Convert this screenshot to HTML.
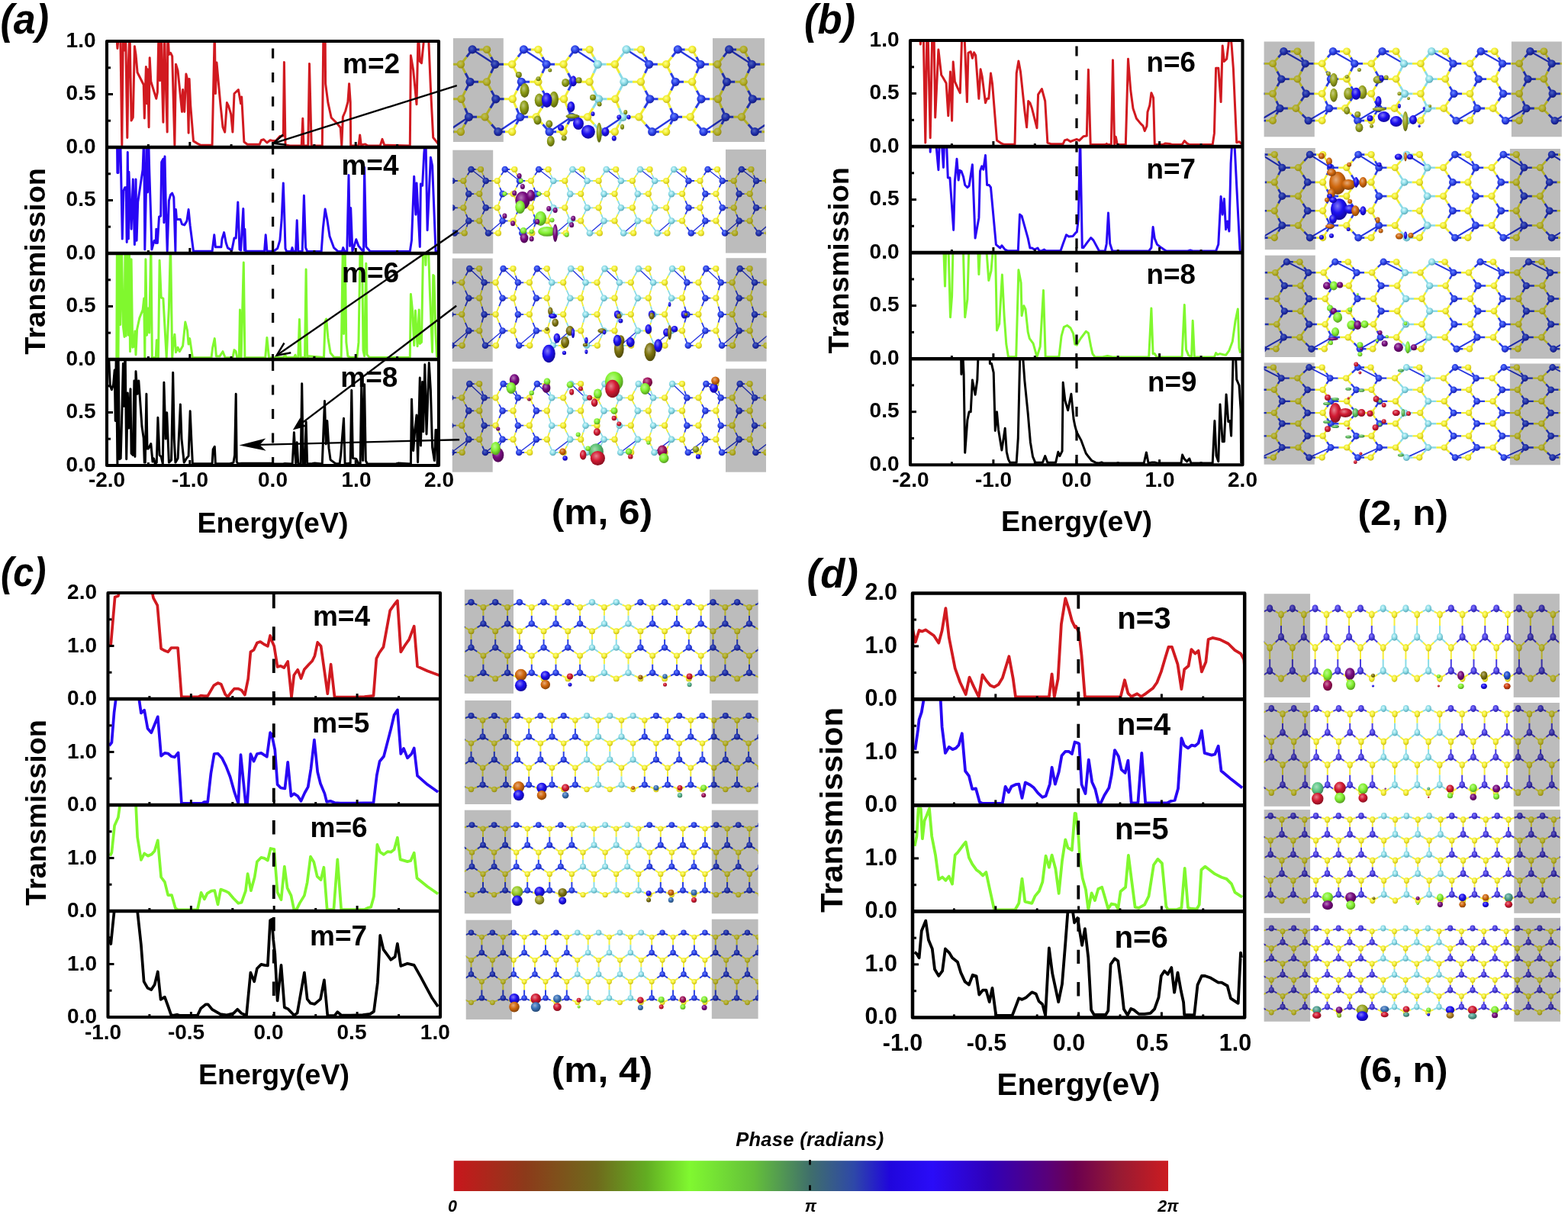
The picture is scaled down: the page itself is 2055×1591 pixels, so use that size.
<!DOCTYPE html>
<html><head><meta charset="utf-8"><title>Transmission</title>
<style>html,body{margin:0;padding:0;background:#fff;}svg{display:block;}</style></head>
<body>
<svg xmlns="http://www.w3.org/2000/svg" width="2055" height="1591" viewBox="0 0 2055 1591">
<defs><radialGradient id="gB" cx="0.42" cy="0.38" r="0.62"><stop offset="0" stop-color="#6a86ff"/><stop offset="0.55" stop-color="#2a40e6"/><stop offset="1" stop-color="#1a22a8"/></radialGradient></defs>
<defs><radialGradient id="gY" cx="0.42" cy="0.38" r="0.62"><stop offset="0" stop-color="#ffff90"/><stop offset="0.55" stop-color="#f2ee30"/><stop offset="1" stop-color="#c8b818"/></radialGradient></defs>
<defs><radialGradient id="gC" cx="0.42" cy="0.38" r="0.62"><stop offset="0" stop-color="#d8faff"/><stop offset="0.55" stop-color="#8adbe6"/><stop offset="1" stop-color="#5aa8b8"/></radialGradient></defs>
<defs><radialGradient id="gD" cx="0.42" cy="0.38" r="0.62"><stop offset="0" stop-color="#8a80ff"/><stop offset="0.55" stop-color="#4a3ee0"/><stop offset="1" stop-color="#2a22a0"/></radialGradient></defs>
<defs><radialGradient id="bg0" cx="0.4" cy="0.35" r="0.65"><stop offset="0" stop-color="#bfc87d"/><stop offset="0.5" stop-color="#8c9c14"/><stop offset="1" stop-color="#5b650d"/></radialGradient></defs>
<defs><radialGradient id="bg1" cx="0.4" cy="0.35" r="0.65"><stop offset="0" stop-color="#827bf6"/><stop offset="0.5" stop-color="#1c0ff0"/><stop offset="1" stop-color="#12099c"/></radialGradient></defs>
<defs><radialGradient id="bg2" cx="0.4" cy="0.35" r="0.65"><stop offset="0" stop-color="#b478b9"/><stop offset="0.5" stop-color="#780a80"/><stop offset="1" stop-color="#4e0653"/></radialGradient></defs>
<defs><radialGradient id="bg3" cx="0.4" cy="0.35" r="0.65"><stop offset="0" stop-color="#bbf78e"/><stop offset="0.5" stop-color="#84f232"/><stop offset="1" stop-color="#559d20"/></radialGradient></defs>
<defs><radialGradient id="bg4" cx="0.4" cy="0.35" r="0.65"><stop offset="0" stop-color="#b8b27b"/><stop offset="0.5" stop-color="#7e7410"/><stop offset="1" stop-color="#514b0a"/></radialGradient></defs>
<defs><radialGradient id="bg5" cx="0.4" cy="0.35" r="0.65"><stop offset="0" stop-color="#e6818e"/><stop offset="0.5" stop-color="#d21a32"/><stop offset="1" stop-color="#881020"/></radialGradient></defs>
<defs><radialGradient id="bg6" cx="0.4" cy="0.35" r="0.65"><stop offset="0" stop-color="#a3dcb0"/><stop offset="0.5" stop-color="#58c070"/><stop offset="1" stop-color="#397c48"/></radialGradient></defs>
<defs><radialGradient id="bg7" cx="0.4" cy="0.35" r="0.65"><stop offset="0" stop-color="#ca7ba4"/><stop offset="0.5" stop-color="#a0105a"/><stop offset="1" stop-color="#680a3a"/></radialGradient></defs>
<defs><radialGradient id="bg8" cx="0.4" cy="0.35" r="0.65"><stop offset="0" stop-color="#e5ab7a"/><stop offset="0.5" stop-color="#d0680e"/><stop offset="1" stop-color="#874309"/></radialGradient></defs>
<defs><radialGradient id="bg9" cx="0.4" cy="0.35" r="0.65"><stop offset="0" stop-color="#c6cc84"/><stop offset="0.5" stop-color="#98a420"/><stop offset="1" stop-color="#626a14"/></radialGradient></defs>
<defs><radialGradient id="bg10" cx="0.4" cy="0.35" r="0.65"><stop offset="0" stop-color="#a7dca7"/><stop offset="0.5" stop-color="#60c060"/><stop offset="1" stop-color="#3e7c3e"/></radialGradient></defs>
<defs><radialGradient id="bg11" cx="0.4" cy="0.35" r="0.65"><stop offset="0" stop-color="#caa77b"/><stop offset="0.5" stop-color="#a06010"/><stop offset="1" stop-color="#683e0a"/></radialGradient></defs>
<defs><radialGradient id="bg12" cx="0.4" cy="0.35" r="0.65"><stop offset="0" stop-color="#92b1d7"/><stop offset="0.5" stop-color="#3a72b8"/><stop offset="1" stop-color="#254a77"/></radialGradient></defs>
<defs><radialGradient id="bg13" cx="0.4" cy="0.35" r="0.65"><stop offset="0" stop-color="#a3d7c1"/><stop offset="0.5" stop-color="#58b890"/><stop offset="1" stop-color="#39775d"/></radialGradient></defs>
<defs><radialGradient id="bg14" cx="0.4" cy="0.35" r="0.65"><stop offset="0" stop-color="#c7e288"/><stop offset="0.5" stop-color="#9acc28"/><stop offset="1" stop-color="#64841a"/></radialGradient></defs>
<defs><radialGradient id="bg15" cx="0.4" cy="0.35" r="0.65"><stop offset="0" stop-color="#caca88"/><stop offset="0.5" stop-color="#a0a028"/><stop offset="1" stop-color="#68681a"/></radialGradient></defs>
<defs><radialGradient id="bg16" cx="0.4" cy="0.35" r="0.65"><stop offset="0" stop-color="#849ee5"/><stop offset="0.5" stop-color="#2050d0"/><stop offset="1" stop-color="#143487"/></radialGradient></defs>
<defs><radialGradient id="bg17" cx="0.4" cy="0.35" r="0.65"><stop offset="0" stop-color="#e5957b"/><stop offset="0.5" stop-color="#d04010"/><stop offset="1" stop-color="#87290a"/></radialGradient></defs>
<defs><radialGradient id="bg18" cx="0.4" cy="0.35" r="0.65"><stop offset="0" stop-color="#a7e0bd"/><stop offset="0.5" stop-color="#60c888"/><stop offset="1" stop-color="#3e8258"/></radialGradient></defs>
<defs><radialGradient id="bg19" cx="0.4" cy="0.35" r="0.65"><stop offset="0" stop-color="#9ecac1"/><stop offset="0.5" stop-color="#50a090"/><stop offset="1" stop-color="#34685d"/></radialGradient></defs>
<defs><radialGradient id="bg20" cx="0.4" cy="0.35" r="0.65"><stop offset="0" stop-color="#d3b984"/><stop offset="0.5" stop-color="#b08020"/><stop offset="1" stop-color="#725314"/></radialGradient></defs>
<clipPath id="mc1"><rect x="593.9" y="20.1" width="408.1" height="195.9"/></clipPath>
<g clip-path="url(#mc1)">
<path d="M551.8 64.9L581.5 84.3M619.1 64.9L648.8 84.3M686.4 64.9L716.1 84.3M753.7 64.9L783.4 84.3M821 64.9L850.7 84.3M888.3 64.9L918 84.3M955.6 64.9L985.3 84.3M585.5 172.7L614.5 153.3M652.8 172.7L681.8 153.3M720.1 172.7L749.1 153.3M787.4 172.7L816.4 153.3M854.7 172.7L883.7 153.3M922 172.7L951 153.3M989.3 172.7L1018.3 153.3" stroke="#2838e0" stroke-width="2.4" fill="none"/>
<path d="M551.8 64.9L561.3 64.9M619.1 64.9L628.6 64.9M619.1 64.9L611.5 74.6M686.4 64.9L695.9 64.9M686.4 64.9L678.8 74.6M753.7 64.9L763.2 64.9M753.7 64.9L746.1 74.6M888.3 64.9L897.8 64.9M888.3 64.9L880.7 74.6M955.6 64.9L965.1 64.9M955.6 64.9L948 74.6M1022.9 64.9L1032.4 64.9M1022.9 64.9L1015.3 74.6M581.5 84.3L592.7 84.3M581.5 84.3L576.2 74.6M581.5 84.3L576.1 95.8M648.8 84.3L660 84.3M648.8 84.3L643.5 74.6M648.8 84.3L643.4 95.8M716.1 84.3L727.3 84.3M716.1 84.3L710.8 74.6M716.1 84.3L710.7 95.8M850.7 84.3L861.9 84.3M850.7 84.3L845.3 74.6M850.7 84.3L845.3 95.8M918 84.3L929.2 84.3M918 84.3L912.6 74.6M918 84.3L912.6 95.8M985.3 84.3L996.5 84.3M985.3 84.3L980 74.6M985.3 84.3L979.9 95.8M548.7 107.3L559.7 107.3M616 107.3L627 107.3M616 107.3L610 95.8M616 107.3L610.2 118.6M683.3 107.3L694.3 107.3M683.3 107.3L677.2 95.8M683.3 107.3L677.5 118.6M750.6 107.3L761.6 107.3M750.6 107.3L744.5 95.8M750.6 107.3L744.8 118.6M885.2 107.3L896.2 107.3M885.2 107.3L879.1 95.8M885.2 107.3L879.5 118.6M952.5 107.3L963.5 107.3M952.5 107.3L946.5 95.8M952.5 107.3L946.8 118.6M1019.8 107.3L1030.8 107.3M1019.8 107.3L1013.8 95.8M1019.8 107.3L1014 118.6M582.5 129.8L593.5 129.8M582.5 129.8L576.6 118.6M649.8 129.8L660.8 129.8M649.8 129.8L643.9 118.6M649.8 129.8L642.6 141.6M717.1 129.8L728.1 129.8M717.1 129.8L711.2 118.6M717.1 129.8L709.9 141.6M851.7 129.8L862.7 129.8M851.7 129.8L845.8 118.6M851.7 129.8L844.5 141.6M919 129.8L930 129.8M919 129.8L913.1 118.6M919 129.8L911.9 141.6M986.3 129.8L997.3 129.8M986.3 129.8L980.4 118.6M986.3 129.8L979.1 141.6M614.5 153.3L625 153.3M614.5 153.3L609.5 141.6M614.5 153.3L609.2 163M681.8 153.3L692.3 153.3M681.8 153.3L676.8 141.6M681.8 153.3L676.5 163M749.1 153.3L759.6 153.3M749.1 153.3L744.1 141.6M749.1 153.3L743.8 163M883.7 153.3L894.2 153.3M883.7 153.3L878.7 141.6M883.7 153.3L878.4 163M951 153.3L961.5 153.3M951 153.3L946 141.6M951 153.3L945.7 163M1018.3 153.3L1028.8 153.3M1018.3 153.3L1013.3 141.6M1018.3 153.3L1013 163M585.5 172.7L594.7 172.7M652.8 172.7L662 172.7M652.8 172.7L644.1 163M720.1 172.7L729.3 172.7M720.1 172.7L711.4 163M854.7 172.7L863.9 172.7M854.7 172.7L846 163M922 172.7L931.2 172.7M922 172.7L913.4 163M989.3 172.7L998.5 172.7M989.3 172.7L980.6 163" stroke="#2b3fe4" stroke-width="3.0" fill="none"/>
<path d="M561.3 64.9L570.8 64.9M628.6 64.9L638.1 64.9M611.5 74.6L603.9 84.3M695.9 64.9L705.4 64.9M678.8 74.6L671.2 84.3M763.2 64.9L772.7 64.9M746.1 74.6L738.5 84.3M830.5 64.9L840 64.9M813.4 74.6L805.8 84.3M897.8 64.9L907.3 64.9M880.7 74.6L873.1 84.3M965.1 64.9L974.6 64.9M948 74.6L940.4 84.3M1032.4 64.9L1041.9 64.9M1015.3 74.6L1007.7 84.3M592.7 84.3L603.9 84.3M576.2 74.6L570.8 64.9M576.1 95.8L570.7 107.3M660 84.3L671.2 84.3M643.5 74.6L638.1 64.9M643.4 95.8L638 107.3M727.3 84.3L738.5 84.3M710.8 74.6L705.4 64.9M710.7 95.8L705.3 107.3M794.6 84.3L805.8 84.3M778 74.6L772.7 64.9M778 95.8L772.6 107.3M861.9 84.3L873.1 84.3M845.3 74.6L840 64.9M845.3 95.8L839.9 107.3M929.2 84.3L940.4 84.3M912.6 74.6L907.3 64.9M912.6 95.8L907.2 107.3M996.5 84.3L1007.7 84.3M980 74.6L974.6 64.9M979.9 95.8L974.5 107.3M559.7 107.3L570.7 107.3M627 107.3L638 107.3M610 95.8L603.9 84.3M610.2 118.6L604.5 129.8M694.3 107.3L705.3 107.3M677.2 95.8L671.2 84.3M677.5 118.6L671.8 129.8M761.6 107.3L772.6 107.3M744.5 95.8L738.5 84.3M744.8 118.6L739.1 129.8M828.9 107.3L839.9 107.3M811.8 95.8L805.8 84.3M812.1 118.6L806.4 129.8M896.2 107.3L907.2 107.3M879.1 95.8L873.1 84.3M879.5 118.6L873.7 129.8M963.5 107.3L974.5 107.3M946.5 95.8L940.4 84.3M946.8 118.6L941 129.8M1030.8 107.3L1041.8 107.3M1013.8 95.8L1007.7 84.3M1014 118.6L1008.3 129.8M593.5 129.8L604.5 129.8M576.6 118.6L570.7 107.3M660.8 129.8L671.8 129.8M643.9 118.6L638 107.3M642.6 141.6L635.5 153.3M728.1 129.8L739.1 129.8M711.2 118.6L705.3 107.3M709.9 141.6L702.8 153.3M795.4 129.8L806.4 129.8M778.5 118.6L772.6 107.3M777.2 141.6L770.1 153.3M862.7 129.8L873.7 129.8M845.8 118.6L839.9 107.3M844.5 141.6L837.4 153.3M930 129.8L941 129.8M913.1 118.6L907.2 107.3M911.9 141.6L904.7 153.3M997.3 129.8L1008.3 129.8M980.4 118.6L974.5 107.3M979.1 141.6L972 153.3M625 153.3L635.5 153.3M609.5 141.6L604.5 129.8M609.2 163L603.9 172.7M692.3 153.3L702.8 153.3M676.8 141.6L671.8 129.8M676.5 163L671.2 172.7M759.6 153.3L770.1 153.3M744.1 141.6L739.1 129.8M743.8 163L738.5 172.7M826.9 153.3L837.4 153.3M811.4 141.6L806.4 129.8M811.1 163L805.8 172.7M894.2 153.3L904.7 153.3M878.7 141.6L873.7 129.8M878.4 163L873.1 172.7M961.5 153.3L972 153.3M946 141.6L941 129.8M945.7 163L940.4 172.7M1028.8 153.3L1039.3 153.3M1013.3 141.6L1008.3 129.8M1013 163L1007.7 172.7M594.7 172.7L603.9 172.7M662 172.7L671.2 172.7M644.1 163L635.5 153.3M729.3 172.7L738.5 172.7M711.4 163L702.8 153.3M796.6 172.7L805.8 172.7M778.8 163L770.1 153.3M863.9 172.7L873.1 172.7M846 163L837.4 153.3M931.2 172.7L940.4 172.7M913.4 163L904.7 153.3M998.5 172.7L1007.7 172.7M980.6 163L972 153.3" stroke="#f0ee34" stroke-width="3.0" fill="none"/>
<path d="M821 64.9L830.5 64.9M821 64.9L813.4 74.6M783.4 84.3L794.6 84.3M783.4 84.3L778 74.6M783.4 84.3L778 95.8M817.9 107.3L828.9 107.3M817.9 107.3L811.8 95.8M817.9 107.3L812.1 118.6M784.4 129.8L795.4 129.8M784.4 129.8L778.5 118.6M784.4 129.8L777.2 141.6M816.4 153.3L826.9 153.3M816.4 153.3L811.4 141.6M816.4 153.3L811.1 163M787.4 172.7L796.6 172.7M787.4 172.7L778.8 163" stroke="#8adbe6" stroke-width="3.0" fill="none"/>
<g fill="url(#gB)"><circle cx="551.8" cy="64.9" r="5.6"/><circle cx="619.1" cy="64.9" r="5.6"/><circle cx="686.4" cy="64.9" r="5.6"/><circle cx="753.7" cy="64.9" r="5.6"/><circle cx="888.3" cy="64.9" r="5.6"/><circle cx="955.6" cy="64.9" r="5.6"/><circle cx="1022.9" cy="64.9" r="5.6"/><circle cx="581.5" cy="84.3" r="5.6"/><circle cx="648.8" cy="84.3" r="5.6"/><circle cx="716.1" cy="84.3" r="5.6"/><circle cx="850.7" cy="84.3" r="5.6"/><circle cx="918" cy="84.3" r="5.6"/><circle cx="985.3" cy="84.3" r="5.6"/><circle cx="548.7" cy="107.3" r="5.6"/><circle cx="616" cy="107.3" r="5.6"/><circle cx="683.3" cy="107.3" r="5.6"/><circle cx="750.6" cy="107.3" r="5.6"/><circle cx="885.2" cy="107.3" r="5.6"/><circle cx="952.5" cy="107.3" r="5.6"/><circle cx="1019.8" cy="107.3" r="5.6"/><circle cx="582.5" cy="129.8" r="5.6"/><circle cx="649.8" cy="129.8" r="5.6"/><circle cx="717.1" cy="129.8" r="5.6"/><circle cx="851.7" cy="129.8" r="5.6"/><circle cx="919" cy="129.8" r="5.6"/><circle cx="986.3" cy="129.8" r="5.6"/><circle cx="614.5" cy="153.3" r="5.6"/><circle cx="681.8" cy="153.3" r="5.6"/><circle cx="749.1" cy="153.3" r="5.6"/><circle cx="883.7" cy="153.3" r="5.6"/><circle cx="951" cy="153.3" r="5.6"/><circle cx="1018.3" cy="153.3" r="5.6"/><circle cx="585.5" cy="172.7" r="5.6"/><circle cx="652.8" cy="172.7" r="5.6"/><circle cx="720.1" cy="172.7" r="5.6"/><circle cx="854.7" cy="172.7" r="5.6"/><circle cx="922" cy="172.7" r="5.6"/><circle cx="989.3" cy="172.7" r="5.6"/></g>
<g fill="url(#gY)"><circle cx="570.8" cy="64.9" r="5.2"/><circle cx="638.1" cy="64.9" r="5.2"/><circle cx="705.4" cy="64.9" r="5.2"/><circle cx="772.7" cy="64.9" r="5.2"/><circle cx="840" cy="64.9" r="5.2"/><circle cx="907.3" cy="64.9" r="5.2"/><circle cx="974.6" cy="64.9" r="5.2"/><circle cx="1041.9" cy="64.9" r="5.2"/><circle cx="603.9" cy="84.3" r="5.2"/><circle cx="671.2" cy="84.3" r="5.2"/><circle cx="738.5" cy="84.3" r="5.2"/><circle cx="805.8" cy="84.3" r="5.2"/><circle cx="873.1" cy="84.3" r="5.2"/><circle cx="940.4" cy="84.3" r="5.2"/><circle cx="1007.7" cy="84.3" r="5.2"/><circle cx="570.7" cy="107.3" r="5.2"/><circle cx="638" cy="107.3" r="5.2"/><circle cx="705.3" cy="107.3" r="5.2"/><circle cx="772.6" cy="107.3" r="5.2"/><circle cx="839.9" cy="107.3" r="5.2"/><circle cx="907.2" cy="107.3" r="5.2"/><circle cx="974.5" cy="107.3" r="5.2"/><circle cx="1041.8" cy="107.3" r="5.2"/><circle cx="604.5" cy="129.8" r="5.2"/><circle cx="671.8" cy="129.8" r="5.2"/><circle cx="739.1" cy="129.8" r="5.2"/><circle cx="806.4" cy="129.8" r="5.2"/><circle cx="873.7" cy="129.8" r="5.2"/><circle cx="941" cy="129.8" r="5.2"/><circle cx="1008.3" cy="129.8" r="5.2"/><circle cx="635.5" cy="153.3" r="5.2"/><circle cx="702.8" cy="153.3" r="5.2"/><circle cx="770.1" cy="153.3" r="5.2"/><circle cx="837.4" cy="153.3" r="5.2"/><circle cx="904.7" cy="153.3" r="5.2"/><circle cx="972" cy="153.3" r="5.2"/><circle cx="1039.3" cy="153.3" r="5.2"/><circle cx="603.9" cy="172.7" r="5.2"/><circle cx="671.2" cy="172.7" r="5.2"/><circle cx="738.5" cy="172.7" r="5.2"/><circle cx="805.8" cy="172.7" r="5.2"/><circle cx="873.1" cy="172.7" r="5.2"/><circle cx="940.4" cy="172.7" r="5.2"/><circle cx="1007.7" cy="172.7" r="5.2"/></g>
<g fill="url(#gC)"><circle cx="821" cy="64.9" r="5.6"/><circle cx="783.4" cy="84.3" r="5.6"/><circle cx="817.9" cy="107.3" r="5.6"/><circle cx="784.4" cy="129.8" r="5.6"/><circle cx="816.4" cy="153.3" r="5.6"/><circle cx="787.4" cy="172.7" r="5.6"/></g>
</g>
<rect x="593.9" y="50.1" width="65.89999999999998" height="135.9" fill="#bcbcbc" style="mix-blend-mode:multiply"/>
<rect x="934" y="50.1" width="68" height="135.9" fill="#bcbcbc" style="mix-blend-mode:multiply"/>
<ellipse cx="687.6" cy="118.6" rx="6" ry="9.5" fill="url(#bg0)"/>
<ellipse cx="687.1" cy="141" rx="6" ry="9.5" fill="url(#bg0)"/>
<ellipse cx="706.7" cy="131.3" rx="6" ry="8.7" fill="url(#bg0)"/>
<ellipse cx="726" cy="130.3" rx="6" ry="10.6" fill="url(#bg0)"/>
<ellipse cx="716.7" cy="131.3" rx="6.7" ry="9.7" fill="url(#bg1)"/>
<ellipse cx="705.5" cy="103.2" rx="3" ry="3" fill="url(#bg0)"/>
<ellipse cx="720.8" cy="92" rx="2.5" ry="2.5" fill="url(#bg0)"/>
<ellipse cx="679.9" cy="98.1" rx="4" ry="4" fill="url(#bg0)"/>
<ellipse cx="704.5" cy="157.4" rx="5" ry="6" fill="url(#bg0)"/>
<ellipse cx="719.8" cy="162.5" rx="4.5" ry="5" fill="url(#bg0)"/>
<ellipse cx="721.8" cy="185" rx="5" ry="7" fill="url(#bg0)"/>
<ellipse cx="741.2" cy="108.4" rx="5" ry="5.5" fill="url(#bg0)"/>
<ellipse cx="751.5" cy="106.3" rx="4" ry="7" fill="url(#bg1)"/>
<ellipse cx="758.6" cy="105.3" rx="4" ry="4" fill="url(#bg0)"/>
<ellipse cx="748.4" cy="140" rx="5" ry="7" fill="url(#bg1)"/>
<ellipse cx="750.4" cy="152.3" rx="9" ry="3" fill="url(#bg0)"/>
<ellipse cx="758" cy="162" rx="7" ry="8" fill="url(#bg1)"/>
<ellipse cx="770.9" cy="172.7" rx="9" ry="9" fill="url(#bg1)"/>
<ellipse cx="785.2" cy="173.8" rx="3.5" ry="13" fill="url(#bg0)"/>
<ellipse cx="793.4" cy="172.7" rx="5" ry="6" fill="url(#bg1)"/>
<ellipse cx="735.1" cy="167.6" rx="4" ry="4" fill="url(#bg1)"/>
<ellipse cx="739.2" cy="181" rx="3.5" ry="3.5" fill="url(#bg0)"/>
<ellipse cx="777" cy="127.8" rx="4" ry="4" fill="url(#bg0)"/>
<ellipse cx="785.6" cy="136.4" rx="3" ry="3" fill="url(#bg0)"/>
<ellipse cx="777" cy="149.2" rx="2.5" ry="3" fill="url(#bg1)"/>
<ellipse cx="804.8" cy="181.3" rx="3" ry="3.5" fill="url(#bg1)"/>
<ellipse cx="811.3" cy="153.5" rx="3" ry="3" fill="url(#bg1)"/>
<ellipse cx="824" cy="153.5" rx="2.5" ry="3" fill="url(#bg1)"/>
<ellipse cx="819.8" cy="147" rx="2.5" ry="3" fill="url(#bg0)"/>
<ellipse cx="815.5" cy="166.3" rx="2.5" ry="3.5" fill="url(#bg0)"/>
<clipPath id="mc2"><rect x="593.3" y="166.7" width="410.70000000000005" height="195.60000000000002"/></clipPath>
<g clip-path="url(#mc2)">
<path d="M573.2 222L592.4 237M617.5 222L636.7 237M661.8 222L681 237M706.1 222L725.3 237M750.4 222L769.6 237M794.7 222L813.9 237M839 222L858.2 237M883.3 222L902.5 237M927.6 222L946.8 237M971.9 222L991.1 237M595.7 305.5L614.3 289.5M640 305.5L658.6 289.5M684.3 305.5L702.9 289.5M728.6 305.5L747.2 289.5M772.9 305.5L791.5 289.5M817.2 305.5L835.8 289.5M861.5 305.5L880.1 289.5M905.8 305.5L924.4 289.5M950.1 305.5L968.7 289.5M994.4 305.5L1013 289.5" stroke="#2838e0" stroke-width="1.4" fill="none"/>
<path d="M573.2 222L579.5 222M617.5 222L623.8 222M617.5 222L612.5 229.5M661.8 222L668 222M661.8 222L656.8 229.5M706.1 222L712.4 222M706.1 222L701 229.5M927.6 222L933.8 222M927.6 222L922.5 229.5M971.9 222L978.1 222M971.9 222L966.8 229.5M1016.2 222L1022.5 222M1016.2 222L1011.2 229.5M592.4 237L599.9 237M592.4 237L589.1 229.5M592.4 237L588.2 245.6M636.7 237L644.2 237M636.7 237L633.4 229.5M636.7 237L632.5 245.6M681 237L688.5 237M681 237L677.6 229.5M681 237L676.8 245.6M902.5 237L910 237M902.5 237L899.1 229.5M902.5 237L898.3 245.6M946.8 237L954.3 237M946.8 237L943.4 229.5M946.8 237L942.6 245.6M991.1 237L998.6 237M991.1 237L987.8 229.5M991.1 237L986.9 245.6M570 254.1L577 254.1M614.3 254.1L621.3 254.1M614.3 254.1L610.9 245.6M614.3 254.1L610.9 263.2M658.6 254.1L665.6 254.1M658.6 254.1L655.1 245.6M658.6 254.1L655.1 263.2M702.9 254.1L709.9 254.1M702.9 254.1L699.5 245.6M702.9 254.1L699.5 263.2M924.4 254.1L931.4 254.1M924.4 254.1L920.9 245.6M924.4 254.1L920.9 263.2M968.7 254.1L975.7 254.1M968.7 254.1L965.2 245.6M968.7 254.1L965.2 263.2M1013 254.1L1020 254.1M1013 254.1L1009.5 245.6M1013 254.1L1009.5 263.2M592.4 272.3L599.9 272.3M592.4 272.3L588.2 263.2M592.4 272.3L588.2 280.9M636.7 272.3L644.2 272.3M636.7 272.3L632.5 263.2M636.7 272.3L632.5 280.9M681 272.3L688.5 272.3M681 272.3L676.8 263.2M681 272.3L676.8 280.9M902.5 272.3L910 272.3M902.5 272.3L898.3 263.2M902.5 272.3L898.3 280.9M946.8 272.3L954.3 272.3M946.8 272.3L942.6 263.2M946.8 272.3L942.6 280.9M991.1 272.3L998.6 272.3M991.1 272.3L986.9 263.2M991.1 272.3L986.9 280.9M570 289.5L577 289.5M614.3 289.5L621.3 289.5M614.3 289.5L610.9 280.9M614.3 289.5L611.5 297.5M658.6 289.5L665.6 289.5M658.6 289.5L655.1 280.9M658.6 289.5L655.8 297.5M702.9 289.5L709.9 289.5M702.9 289.5L699.5 280.9M702.9 289.5L700.1 297.5M924.4 289.5L931.4 289.5M924.4 289.5L920.9 280.9M924.4 289.5L921.6 297.5M968.7 289.5L975.7 289.5M968.7 289.5L965.2 280.9M968.7 289.5L965.9 297.5M1013 289.5L1020 289.5M1013 289.5L1009.5 280.9M1013 289.5L1010.2 297.5M595.7 305.5L602.2 305.5M595.7 305.5L589.9 297.5M640 305.5L646.5 305.5M640 305.5L634.1 297.5M684.3 305.5L690.8 305.5M684.3 305.5L678.4 297.5M905.8 305.5L912.3 305.5M905.8 305.5L899.9 297.5M950.1 305.5L956.6 305.5M950.1 305.5L944.2 297.5M994.4 305.5L1000.9 305.5M994.4 305.5L988.5 297.5" stroke="#2b3fe4" stroke-width="1.8" fill="none"/>
<path d="M579.5 222L585.7 222M623.8 222L630 222M612.5 229.5L607.4 237M668 222L674.3 222M656.8 229.5L651.7 237M712.4 222L718.6 222M701 229.5L696 237M756.6 222L762.9 222M745.4 229.5L740.3 237M801 222L807.2 222M789.7 229.5L784.6 237M845.2 222L851.5 222M834 229.5L828.9 237M889.5 222L895.8 222M878.2 229.5L873.2 237M933.8 222L940.1 222M922.5 229.5L917.5 237M978.1 222L984.4 222M966.8 229.5L961.8 237M1022.5 222L1028.7 222M1011.2 229.5L1006.1 237M599.9 237L607.4 237M589.1 229.5L585.7 222M588.2 245.6L584 254.1M644.2 237L651.7 237M633.4 229.5L630 222M632.5 245.6L628.3 254.1M688.5 237L696 237M677.6 229.5L674.3 222M676.8 245.6L672.6 254.1M732.8 237L740.3 237M722 229.5L718.6 222M721.1 245.6L716.9 254.1M777.1 237L784.6 237M766.2 229.5L762.9 222M765.4 245.6L761.2 254.1M821.4 237L828.9 237M810.6 229.5L807.2 222M809.7 245.6L805.5 254.1M865.7 237L873.2 237M854.9 229.5L851.5 222M854 245.6L849.8 254.1M910 237L917.5 237M899.1 229.5L895.8 222M898.3 245.6L894.1 254.1M954.3 237L961.8 237M943.4 229.5L940.1 222M942.6 245.6L938.4 254.1M998.6 237L1006.1 237M987.8 229.5L984.4 222M986.9 245.6L982.7 254.1M577 254.1L584 254.1M621.3 254.1L628.3 254.1M610.9 245.6L607.4 237M610.9 263.2L607.4 272.3M665.6 254.1L672.6 254.1M655.1 245.6L651.7 237M655.1 263.2L651.7 272.3M709.9 254.1L716.9 254.1M699.5 245.6L696 237M699.5 263.2L696 272.3M754.2 254.1L761.2 254.1M743.8 245.6L740.3 237M743.8 263.2L740.3 272.3M798.5 254.1L805.5 254.1M788 245.6L784.6 237M788 263.2L784.6 272.3M842.8 254.1L849.8 254.1M832.4 245.6L828.9 237M832.4 263.2L828.9 272.3M887.1 254.1L894.1 254.1M876.6 245.6L873.2 237M876.6 263.2L873.2 272.3M931.4 254.1L938.4 254.1M920.9 245.6L917.5 237M920.9 263.2L917.5 272.3M975.7 254.1L982.7 254.1M965.2 245.6L961.8 237M965.2 263.2L961.8 272.3M1020 254.1L1027 254.1M1009.5 245.6L1006.1 237M1009.5 263.2L1006.1 272.3M599.9 272.3L607.4 272.3M588.2 263.2L584 254.1M588.2 280.9L584 289.5M644.2 272.3L651.7 272.3M632.5 263.2L628.3 254.1M632.5 280.9L628.3 289.5M688.5 272.3L696 272.3M676.8 263.2L672.6 254.1M676.8 280.9L672.6 289.5M732.8 272.3L740.3 272.3M721.1 263.2L716.9 254.1M721.1 280.9L716.9 289.5M777.1 272.3L784.6 272.3M765.4 263.2L761.2 254.1M765.4 280.9L761.2 289.5M821.4 272.3L828.9 272.3M809.7 263.2L805.5 254.1M809.7 280.9L805.5 289.5M865.7 272.3L873.2 272.3M854 263.2L849.8 254.1M854 280.9L849.8 289.5M910 272.3L917.5 272.3M898.3 263.2L894.1 254.1M898.3 280.9L894.1 289.5M954.3 272.3L961.8 272.3M942.6 263.2L938.4 254.1M942.6 280.9L938.4 289.5M998.6 272.3L1006.1 272.3M986.9 263.2L982.7 254.1M986.9 280.9L982.7 289.5M577 289.5L584 289.5M621.3 289.5L628.3 289.5M610.9 280.9L607.4 272.3M611.5 297.5L608.7 305.5M665.6 289.5L672.6 289.5M655.1 280.9L651.7 272.3M655.8 297.5L653 305.5M709.9 289.5L716.9 289.5M699.5 280.9L696 272.3M700.1 297.5L697.3 305.5M754.2 289.5L761.2 289.5M743.8 280.9L740.3 272.3M744.4 297.5L741.6 305.5M798.5 289.5L805.5 289.5M788 280.9L784.6 272.3M788.7 297.5L785.9 305.5M842.8 289.5L849.8 289.5M832.4 280.9L828.9 272.3M833 297.5L830.2 305.5M887.1 289.5L894.1 289.5M876.6 280.9L873.2 272.3M877.3 297.5L874.5 305.5M931.4 289.5L938.4 289.5M920.9 280.9L917.5 272.3M921.6 297.5L918.8 305.5M975.7 289.5L982.7 289.5M965.2 280.9L961.8 272.3M965.9 297.5L963.1 305.5M1020 289.5L1027 289.5M1009.5 280.9L1006.1 272.3M1010.2 297.5L1007.4 305.5M602.2 305.5L608.7 305.5M589.9 297.5L584 289.5M646.5 305.5L653 305.5M634.1 297.5L628.3 289.5M690.8 305.5L697.3 305.5M678.4 297.5L672.6 289.5M735.1 305.5L741.6 305.5M722.8 297.5L716.9 289.5M779.4 305.5L785.9 305.5M767 297.5L761.2 289.5M823.7 305.5L830.2 305.5M811.4 297.5L805.5 289.5M868 305.5L874.5 305.5M855.6 297.5L849.8 289.5M912.3 305.5L918.8 305.5M899.9 297.5L894.1 289.5M956.6 305.5L963.1 305.5M944.2 297.5L938.4 289.5M1000.9 305.5L1007.4 305.5M988.5 297.5L982.7 289.5" stroke="#f0ee34" stroke-width="1.8" fill="none"/>
<path d="M750.4 222L756.6 222M750.4 222L745.4 229.5M794.7 222L801 222M794.7 222L789.7 229.5M839 222L845.2 222M839 222L834 229.5M883.3 222L889.5 222M883.3 222L878.2 229.5M725.3 237L732.8 237M725.3 237L722 229.5M725.3 237L721.1 245.6M769.6 237L777.1 237M769.6 237L766.2 229.5M769.6 237L765.4 245.6M813.9 237L821.4 237M813.9 237L810.6 229.5M813.9 237L809.7 245.6M858.2 237L865.7 237M858.2 237L854.9 229.5M858.2 237L854 245.6M747.2 254.1L754.2 254.1M747.2 254.1L743.8 245.6M747.2 254.1L743.8 263.2M791.5 254.1L798.5 254.1M791.5 254.1L788 245.6M791.5 254.1L788 263.2M835.8 254.1L842.8 254.1M835.8 254.1L832.4 245.6M835.8 254.1L832.4 263.2M880.1 254.1L887.1 254.1M880.1 254.1L876.6 245.6M880.1 254.1L876.6 263.2M725.3 272.3L732.8 272.3M725.3 272.3L721.1 263.2M725.3 272.3L721.1 280.9M769.6 272.3L777.1 272.3M769.6 272.3L765.4 263.2M769.6 272.3L765.4 280.9M813.9 272.3L821.4 272.3M813.9 272.3L809.7 263.2M813.9 272.3L809.7 280.9M858.2 272.3L865.7 272.3M858.2 272.3L854 263.2M858.2 272.3L854 280.9M747.2 289.5L754.2 289.5M747.2 289.5L743.8 280.9M747.2 289.5L744.4 297.5M791.5 289.5L798.5 289.5M791.5 289.5L788 280.9M791.5 289.5L788.7 297.5M835.8 289.5L842.8 289.5M835.8 289.5L832.4 280.9M835.8 289.5L833 297.5M880.1 289.5L887.1 289.5M880.1 289.5L876.6 280.9M880.1 289.5L877.3 297.5M728.6 305.5L735.1 305.5M728.6 305.5L722.8 297.5M772.9 305.5L779.4 305.5M772.9 305.5L767 297.5M817.2 305.5L823.7 305.5M817.2 305.5L811.4 297.5M861.5 305.5L868 305.5M861.5 305.5L855.6 297.5" stroke="#8adbe6" stroke-width="1.8" fill="none"/>
<g fill="url(#gB)"><circle cx="573.2" cy="222" r="4.3"/><circle cx="617.5" cy="222" r="4.3"/><circle cx="661.8" cy="222" r="4.3"/><circle cx="706.1" cy="222" r="4.3"/><circle cx="927.6" cy="222" r="4.3"/><circle cx="971.9" cy="222" r="4.3"/><circle cx="1016.2" cy="222" r="4.3"/><circle cx="592.4" cy="237" r="4.3"/><circle cx="636.7" cy="237" r="4.3"/><circle cx="681" cy="237" r="4.3"/><circle cx="902.5" cy="237" r="4.3"/><circle cx="946.8" cy="237" r="4.3"/><circle cx="991.1" cy="237" r="4.3"/><circle cx="570" cy="254.1" r="4.3"/><circle cx="614.3" cy="254.1" r="4.3"/><circle cx="658.6" cy="254.1" r="4.3"/><circle cx="702.9" cy="254.1" r="4.3"/><circle cx="924.4" cy="254.1" r="4.3"/><circle cx="968.7" cy="254.1" r="4.3"/><circle cx="1013" cy="254.1" r="4.3"/><circle cx="592.4" cy="272.3" r="4.3"/><circle cx="636.7" cy="272.3" r="4.3"/><circle cx="681" cy="272.3" r="4.3"/><circle cx="902.5" cy="272.3" r="4.3"/><circle cx="946.8" cy="272.3" r="4.3"/><circle cx="991.1" cy="272.3" r="4.3"/><circle cx="570" cy="289.5" r="4.3"/><circle cx="614.3" cy="289.5" r="4.3"/><circle cx="658.6" cy="289.5" r="4.3"/><circle cx="702.9" cy="289.5" r="4.3"/><circle cx="924.4" cy="289.5" r="4.3"/><circle cx="968.7" cy="289.5" r="4.3"/><circle cx="1013" cy="289.5" r="4.3"/><circle cx="595.7" cy="305.5" r="4.3"/><circle cx="640" cy="305.5" r="4.3"/><circle cx="684.3" cy="305.5" r="4.3"/><circle cx="905.8" cy="305.5" r="4.3"/><circle cx="950.1" cy="305.5" r="4.3"/><circle cx="994.4" cy="305.5" r="4.3"/></g>
<g fill="url(#gY)"><circle cx="585.7" cy="222" r="4.1"/><circle cx="630" cy="222" r="4.1"/><circle cx="674.3" cy="222" r="4.1"/><circle cx="718.6" cy="222" r="4.1"/><circle cx="762.9" cy="222" r="4.1"/><circle cx="807.2" cy="222" r="4.1"/><circle cx="851.5" cy="222" r="4.1"/><circle cx="895.8" cy="222" r="4.1"/><circle cx="940.1" cy="222" r="4.1"/><circle cx="984.4" cy="222" r="4.1"/><circle cx="1028.7" cy="222" r="4.1"/><circle cx="607.4" cy="237" r="4.1"/><circle cx="651.7" cy="237" r="4.1"/><circle cx="696" cy="237" r="4.1"/><circle cx="740.3" cy="237" r="4.1"/><circle cx="784.6" cy="237" r="4.1"/><circle cx="828.9" cy="237" r="4.1"/><circle cx="873.2" cy="237" r="4.1"/><circle cx="917.5" cy="237" r="4.1"/><circle cx="961.8" cy="237" r="4.1"/><circle cx="1006.1" cy="237" r="4.1"/><circle cx="584" cy="254.1" r="4.1"/><circle cx="628.3" cy="254.1" r="4.1"/><circle cx="672.6" cy="254.1" r="4.1"/><circle cx="716.9" cy="254.1" r="4.1"/><circle cx="761.2" cy="254.1" r="4.1"/><circle cx="805.5" cy="254.1" r="4.1"/><circle cx="849.8" cy="254.1" r="4.1"/><circle cx="894.1" cy="254.1" r="4.1"/><circle cx="938.4" cy="254.1" r="4.1"/><circle cx="982.7" cy="254.1" r="4.1"/><circle cx="1027" cy="254.1" r="4.1"/><circle cx="607.4" cy="272.3" r="4.1"/><circle cx="651.7" cy="272.3" r="4.1"/><circle cx="696" cy="272.3" r="4.1"/><circle cx="740.3" cy="272.3" r="4.1"/><circle cx="784.6" cy="272.3" r="4.1"/><circle cx="828.9" cy="272.3" r="4.1"/><circle cx="873.2" cy="272.3" r="4.1"/><circle cx="917.5" cy="272.3" r="4.1"/><circle cx="961.8" cy="272.3" r="4.1"/><circle cx="1006.1" cy="272.3" r="4.1"/><circle cx="584" cy="289.5" r="4.1"/><circle cx="628.3" cy="289.5" r="4.1"/><circle cx="672.6" cy="289.5" r="4.1"/><circle cx="716.9" cy="289.5" r="4.1"/><circle cx="761.2" cy="289.5" r="4.1"/><circle cx="805.5" cy="289.5" r="4.1"/><circle cx="849.8" cy="289.5" r="4.1"/><circle cx="894.1" cy="289.5" r="4.1"/><circle cx="938.4" cy="289.5" r="4.1"/><circle cx="982.7" cy="289.5" r="4.1"/><circle cx="1027" cy="289.5" r="4.1"/><circle cx="608.7" cy="305.5" r="4.1"/><circle cx="653" cy="305.5" r="4.1"/><circle cx="697.3" cy="305.5" r="4.1"/><circle cx="741.6" cy="305.5" r="4.1"/><circle cx="785.9" cy="305.5" r="4.1"/><circle cx="830.2" cy="305.5" r="4.1"/><circle cx="874.5" cy="305.5" r="4.1"/><circle cx="918.8" cy="305.5" r="4.1"/><circle cx="963.1" cy="305.5" r="4.1"/><circle cx="1007.4" cy="305.5" r="4.1"/></g>
<g fill="url(#gC)"><circle cx="750.4" cy="222" r="4.3"/><circle cx="794.7" cy="222" r="4.3"/><circle cx="839" cy="222" r="4.3"/><circle cx="883.3" cy="222" r="4.3"/><circle cx="725.3" cy="237" r="4.3"/><circle cx="769.6" cy="237" r="4.3"/><circle cx="813.9" cy="237" r="4.3"/><circle cx="858.2" cy="237" r="4.3"/><circle cx="747.2" cy="254.1" r="4.3"/><circle cx="791.5" cy="254.1" r="4.3"/><circle cx="835.8" cy="254.1" r="4.3"/><circle cx="880.1" cy="254.1" r="4.3"/><circle cx="725.3" cy="272.3" r="4.3"/><circle cx="769.6" cy="272.3" r="4.3"/><circle cx="813.9" cy="272.3" r="4.3"/><circle cx="858.2" cy="272.3" r="4.3"/><circle cx="747.2" cy="289.5" r="4.3"/><circle cx="791.5" cy="289.5" r="4.3"/><circle cx="835.8" cy="289.5" r="4.3"/><circle cx="880.1" cy="289.5" r="4.3"/><circle cx="728.6" cy="305.5" r="4.3"/><circle cx="772.9" cy="305.5" r="4.3"/><circle cx="817.2" cy="305.5" r="4.3"/><circle cx="861.5" cy="305.5" r="4.3"/></g>
</g>
<rect x="593.3" y="196.7" width="52.90000000000009" height="135.60000000000002" fill="#bcbcbc" style="mix-blend-mode:multiply"/>
<rect x="951" y="195.9" width="53" height="135.70000000000002" fill="#bcbcbc" style="mix-blend-mode:multiply"/>
<ellipse cx="684.9" cy="262.7" rx="9.6" ry="11.8" fill="url(#bg2)"/>
<ellipse cx="681.7" cy="271.3" rx="6.4" ry="8.6" fill="url(#bg3)"/>
<ellipse cx="695.6" cy="256.3" rx="5.4" ry="7.5" fill="url(#bg2)"/>
<ellipse cx="708.5" cy="286.3" rx="7.5" ry="9.6" fill="url(#bg3)"/>
<ellipse cx="717" cy="303.4" rx="11.8" ry="6.4" fill="url(#bg3)"/>
<ellipse cx="727.7" cy="305.5" rx="3.2" ry="11.8" fill="url(#bg2)"/>
<ellipse cx="687" cy="312" rx="5.4" ry="6.4" fill="url(#bg2)"/>
<ellipse cx="686" cy="302.3" rx="4.3" ry="4.3" fill="url(#bg3)"/>
<ellipse cx="680.6" cy="230.6" rx="3" ry="3.5" fill="url(#bg2)"/>
<ellipse cx="684.9" cy="244.5" rx="3" ry="3.5" fill="url(#bg2)"/>
<ellipse cx="674.2" cy="253" rx="3" ry="3.5" fill="url(#bg2)"/>
<ellipse cx="661.4" cy="283" rx="3" ry="3.5" fill="url(#bg2)"/>
<ellipse cx="672.1" cy="292.7" rx="3" ry="3.5" fill="url(#bg2)"/>
<ellipse cx="719.2" cy="273.4" rx="3" ry="3.5" fill="url(#bg2)"/>
<ellipse cx="727.7" cy="275.5" rx="3" ry="3.5" fill="url(#bg2)"/>
<ellipse cx="751.3" cy="286.3" rx="3" ry="3.5" fill="url(#bg2)"/>
<ellipse cx="749.2" cy="294.8" rx="3" ry="3.5" fill="url(#bg2)"/>
<ellipse cx="696.7" cy="313.1" rx="3" ry="3.5" fill="url(#bg2)"/>
<ellipse cx="704.2" cy="290.5" rx="3" ry="3.5" fill="url(#bg2)"/>
<ellipse cx="682.8" cy="237" rx="3" ry="3" fill="url(#bg3)"/>
<ellipse cx="661.4" cy="254.1" rx="3" ry="3" fill="url(#bg3)"/>
<ellipse cx="706.3" cy="254.1" rx="3" ry="3" fill="url(#bg3)"/>
<ellipse cx="723.5" cy="288.4" rx="3" ry="3" fill="url(#bg3)"/>
<ellipse cx="742.7" cy="307.7" rx="3" ry="3" fill="url(#bg3)"/>
<ellipse cx="696.7" cy="303.4" rx="3" ry="3" fill="url(#bg3)"/>
<clipPath id="mc3"><rect x="592.8" y="308.6" width="411.80000000000007" height="195.39999999999998"/></clipPath>
<g clip-path="url(#mc3)">
<path d="M571 352.1L590.3 370.3M615.3 352.1L634.6 370.3M659.6 352.1L678.9 370.3M703.9 352.1L723.2 370.3M748.2 352.1L767.5 370.3M792.5 352.1L811.8 370.3M836.8 352.1L856.1 370.3M881.1 352.1L900.4 370.3M925.4 352.1L944.7 370.3M969.7 352.1L989 370.3M591.7 452.8L614.3 433.5M636 452.8L658.6 433.5M680.3 452.8L702.9 433.5M724.6 452.8L747.2 433.5M768.9 452.8L791.5 433.5M813.2 452.8L835.8 433.5M857.5 452.8L880.1 433.5M901.8 452.8L924.4 433.5M946.1 452.8L968.7 433.5M990.4 452.8L1013 433.5" stroke="#2838e0" stroke-width="1.4" fill="none"/>
<path d="M571 352.1L577.5 352.1M615.3 352.1L621.8 352.1M615.3 352.1L610.3 361.2M659.6 352.1L666 352.1M659.6 352.1L654.6 361.2M703.9 352.1L710.3 352.1M703.9 352.1L698.9 361.2M925.4 352.1L931.8 352.1M925.4 352.1L920.4 361.2M969.7 352.1L976.1 352.1M969.7 352.1L964.7 361.2M1014 352.1L1020.5 352.1M1014 352.1L1009 361.2M590.3 370.3L597.8 370.3M590.3 370.3L587.1 361.2M590.3 370.3L587.2 380.5M634.6 370.3L642.1 370.3M634.6 370.3L631.4 361.2M634.6 370.3L631.5 380.5M678.9 370.3L686.4 370.3M678.9 370.3L675.7 361.2M678.9 370.3L675.8 380.5M900.4 370.3L907.9 370.3M900.4 370.3L897.2 361.2M900.4 370.3L897.2 380.5M944.7 370.3L952.2 370.3M944.7 370.3L941.5 361.2M944.7 370.3L941.5 380.5M989 370.3L996.5 370.3M989 370.3L985.8 361.2M989 370.3L985.8 380.5M570 390.7L577 390.7M614.3 390.7L621.3 390.7M614.3 390.7L609.8 380.5M614.3 390.7L609.8 401.4M658.6 390.7L665.6 390.7M658.6 390.7L654.1 380.5M658.6 390.7L654.1 401.4M702.9 390.7L709.9 390.7M702.9 390.7L698.4 380.5M702.9 390.7L698.4 401.4M924.4 390.7L931.4 390.7M924.4 390.7L919.9 380.5M924.4 390.7L919.9 401.4M968.7 390.7L975.7 390.7M968.7 390.7L964.2 380.5M968.7 390.7L964.2 401.4M1013 390.7L1020 390.7M1013 390.7L1008.5 380.5M1013 390.7L1008.5 401.4M590.3 412.1L597.8 412.1M590.3 412.1L587.2 401.4M590.3 412.1L587.2 422.8M634.6 412.1L642.1 412.1M634.6 412.1L631.5 401.4M634.6 412.1L631.5 422.8M678.9 412.1L686.4 412.1M678.9 412.1L675.8 401.4M678.9 412.1L675.8 422.8M900.4 412.1L907.9 412.1M900.4 412.1L897.2 401.4M900.4 412.1L897.2 422.8M944.7 412.1L952.2 412.1M944.7 412.1L941.5 401.4M944.7 412.1L941.5 422.8M989 412.1L996.5 412.1M989 412.1L985.8 401.4M989 412.1L985.8 422.8M570 433.5L577 433.5M614.3 433.5L621.3 433.5M614.3 433.5L609.8 422.8M614.3 433.5L610 443.1M658.6 433.5L665.6 433.5M658.6 433.5L654.1 422.8M658.6 433.5L654.3 443.1M702.9 433.5L709.9 433.5M702.9 433.5L698.4 422.8M702.9 433.5L698.6 443.1M924.4 433.5L931.4 433.5M924.4 433.5L919.9 422.8M924.4 433.5L920.1 443.1M968.7 433.5L975.7 433.5M968.7 433.5L964.2 422.8M968.7 433.5L964.4 443.1M1013 433.5L1020 433.5M1013 433.5L1008.5 422.8M1013 433.5L1008.7 443.1M591.7 452.8L598.7 452.8M591.7 452.8L587.9 443.1M636 452.8L643 452.8M636 452.8L632.1 443.1M680.3 452.8L687.3 452.8M680.3 452.8L676.4 443.1M901.8 452.8L908.8 452.8M901.8 452.8L897.9 443.1M946.1 452.8L953.1 452.8M946.1 452.8L942.2 443.1M990.4 452.8L997.4 452.8M990.4 452.8L986.5 443.1" stroke="#2b3fe4" stroke-width="1.8" fill="none"/>
<path d="M577.5 352.1L583.9 352.1M621.8 352.1L628.2 352.1M610.3 361.2L605.3 370.3M666 352.1L672.5 352.1M654.6 361.2L649.6 370.3M710.3 352.1L716.8 352.1M698.9 361.2L693.9 370.3M754.6 352.1L761.1 352.1M743.2 361.2L738.2 370.3M799 352.1L805.4 352.1M787.5 361.2L782.5 370.3M843.2 352.1L849.7 352.1M831.8 361.2L826.8 370.3M887.5 352.1L894 352.1M876.1 361.2L871.1 370.3M931.8 352.1L938.3 352.1M920.4 361.2L915.4 370.3M976.1 352.1L982.6 352.1M964.7 361.2L959.7 370.3M1020.5 352.1L1026.9 352.1M1009 361.2L1004 370.3M597.8 370.3L605.3 370.3M587.1 361.2L583.9 352.1M587.2 380.5L584 390.7M642.1 370.3L649.6 370.3M631.4 361.2L628.2 352.1M631.5 380.5L628.3 390.7M686.4 370.3L693.9 370.3M675.7 361.2L672.5 352.1M675.8 380.5L672.6 390.7M730.7 370.3L738.2 370.3M720 361.2L716.8 352.1M720 380.5L716.9 390.7M775 370.3L782.5 370.3M764.3 361.2L761.1 352.1M764.3 380.5L761.2 390.7M819.3 370.3L826.8 370.3M808.6 361.2L805.4 352.1M808.6 380.5L805.5 390.7M863.6 370.3L871.1 370.3M852.9 361.2L849.7 352.1M853 380.5L849.8 390.7M907.9 370.3L915.4 370.3M897.2 361.2L894 352.1M897.2 380.5L894.1 390.7M952.2 370.3L959.7 370.3M941.5 361.2L938.3 352.1M941.5 380.5L938.4 390.7M996.5 370.3L1004 370.3M985.8 361.2L982.6 352.1M985.8 380.5L982.7 390.7M577 390.7L584 390.7M621.3 390.7L628.3 390.7M609.8 380.5L605.3 370.3M609.8 401.4L605.3 412.1M665.6 390.7L672.6 390.7M654.1 380.5L649.6 370.3M654.1 401.4L649.6 412.1M709.9 390.7L716.9 390.7M698.4 380.5L693.9 370.3M698.4 401.4L693.9 412.1M754.2 390.7L761.2 390.7M742.7 380.5L738.2 370.3M742.7 401.4L738.2 412.1M798.5 390.7L805.5 390.7M787 380.5L782.5 370.3M787 401.4L782.5 412.1M842.8 390.7L849.8 390.7M831.3 380.5L826.8 370.3M831.3 401.4L826.8 412.1M887.1 390.7L894.1 390.7M875.6 380.5L871.1 370.3M875.6 401.4L871.1 412.1M931.4 390.7L938.4 390.7M919.9 380.5L915.4 370.3M919.9 401.4L915.4 412.1M975.7 390.7L982.7 390.7M964.2 380.5L959.7 370.3M964.2 401.4L959.7 412.1M1020 390.7L1027 390.7M1008.5 380.5L1004 370.3M1008.5 401.4L1004 412.1M597.8 412.1L605.3 412.1M587.2 401.4L584 390.7M587.2 422.8L584 433.5M642.1 412.1L649.6 412.1M631.5 401.4L628.3 390.7M631.5 422.8L628.3 433.5M686.4 412.1L693.9 412.1M675.8 401.4L672.6 390.7M675.8 422.8L672.6 433.5M730.7 412.1L738.2 412.1M720 401.4L716.9 390.7M720 422.8L716.9 433.5M775 412.1L782.5 412.1M764.3 401.4L761.2 390.7M764.3 422.8L761.2 433.5M819.3 412.1L826.8 412.1M808.6 401.4L805.5 390.7M808.6 422.8L805.5 433.5M863.6 412.1L871.1 412.1M853 401.4L849.8 390.7M853 422.8L849.8 433.5M907.9 412.1L915.4 412.1M897.2 401.4L894.1 390.7M897.2 422.8L894.1 433.5M952.2 412.1L959.7 412.1M941.5 401.4L938.4 390.7M941.5 422.8L938.4 433.5M996.5 412.1L1004 412.1M985.8 401.4L982.7 390.7M985.8 422.8L982.7 433.5M577 433.5L584 433.5M621.3 433.5L628.3 433.5M609.8 422.8L605.3 412.1M610 443.1L605.7 452.8M665.6 433.5L672.6 433.5M654.1 422.8L649.6 412.1M654.3 443.1L650 452.8M709.9 433.5L716.9 433.5M698.4 422.8L693.9 412.1M698.6 443.1L694.3 452.8M754.2 433.5L761.2 433.5M742.7 422.8L738.2 412.1M742.9 443.1L738.6 452.8M798.5 433.5L805.5 433.5M787 422.8L782.5 412.1M787.2 443.1L782.9 452.8M842.8 433.5L849.8 433.5M831.3 422.8L826.8 412.1M831.5 443.1L827.2 452.8M887.1 433.5L894.1 433.5M875.6 422.8L871.1 412.1M875.8 443.1L871.5 452.8M931.4 433.5L938.4 433.5M919.9 422.8L915.4 412.1M920.1 443.1L915.8 452.8M975.7 433.5L982.7 433.5M964.2 422.8L959.7 412.1M964.4 443.1L960.1 452.8M1020 433.5L1027 433.5M1008.5 422.8L1004 412.1M1008.7 443.1L1004.4 452.8M598.7 452.8L605.7 452.8M587.9 443.1L584 433.5M643 452.8L650 452.8M632.1 443.1L628.3 433.5M687.3 452.8L694.3 452.8M676.4 443.1L672.6 433.5M731.6 452.8L738.6 452.8M720.8 443.1L716.9 433.5M775.9 452.8L782.9 452.8M765 443.1L761.2 433.5M820.2 452.8L827.2 452.8M809.4 443.1L805.5 433.5M864.5 452.8L871.5 452.8M853.6 443.1L849.8 433.5M908.8 452.8L915.8 452.8M897.9 443.1L894.1 433.5M953.1 452.8L960.1 452.8M942.2 443.1L938.4 433.5M997.4 452.8L1004.4 452.8M986.5 443.1L982.7 433.5" stroke="#f0ee34" stroke-width="1.8" fill="none"/>
<path d="M748.2 352.1L754.6 352.1M748.2 352.1L743.2 361.2M792.5 352.1L799 352.1M792.5 352.1L787.5 361.2M836.8 352.1L843.2 352.1M836.8 352.1L831.8 361.2M881.1 352.1L887.5 352.1M881.1 352.1L876.1 361.2M723.2 370.3L730.7 370.3M723.2 370.3L720 361.2M723.2 370.3L720 380.5M767.5 370.3L775 370.3M767.5 370.3L764.3 361.2M767.5 370.3L764.3 380.5M811.8 370.3L819.3 370.3M811.8 370.3L808.6 361.2M811.8 370.3L808.6 380.5M856.1 370.3L863.6 370.3M856.1 370.3L852.9 361.2M856.1 370.3L853 380.5M747.2 390.7L754.2 390.7M747.2 390.7L742.7 380.5M747.2 390.7L742.7 401.4M791.5 390.7L798.5 390.7M791.5 390.7L787 380.5M791.5 390.7L787 401.4M835.8 390.7L842.8 390.7M835.8 390.7L831.3 380.5M835.8 390.7L831.3 401.4M880.1 390.7L887.1 390.7M880.1 390.7L875.6 380.5M880.1 390.7L875.6 401.4M723.2 412.1L730.7 412.1M723.2 412.1L720 401.4M723.2 412.1L720 422.8M767.5 412.1L775 412.1M767.5 412.1L764.3 401.4M767.5 412.1L764.3 422.8M811.8 412.1L819.3 412.1M811.8 412.1L808.6 401.4M811.8 412.1L808.6 422.8M856.1 412.1L863.6 412.1M856.1 412.1L853 401.4M856.1 412.1L853 422.8M747.2 433.5L754.2 433.5M747.2 433.5L742.7 422.8M747.2 433.5L742.9 443.1M791.5 433.5L798.5 433.5M791.5 433.5L787 422.8M791.5 433.5L787.2 443.1M835.8 433.5L842.8 433.5M835.8 433.5L831.3 422.8M835.8 433.5L831.5 443.1M880.1 433.5L887.1 433.5M880.1 433.5L875.6 422.8M880.1 433.5L875.8 443.1M724.6 452.8L731.6 452.8M724.6 452.8L720.8 443.1M768.9 452.8L775.9 452.8M768.9 452.8L765 443.1M813.2 452.8L820.2 452.8M813.2 452.8L809.4 443.1M857.5 452.8L864.5 452.8M857.5 452.8L853.6 443.1" stroke="#8adbe6" stroke-width="1.8" fill="none"/>
<g fill="url(#gB)"><circle cx="571" cy="352.1" r="4.3"/><circle cx="615.3" cy="352.1" r="4.3"/><circle cx="659.6" cy="352.1" r="4.3"/><circle cx="703.9" cy="352.1" r="4.3"/><circle cx="925.4" cy="352.1" r="4.3"/><circle cx="969.7" cy="352.1" r="4.3"/><circle cx="1014" cy="352.1" r="4.3"/><circle cx="590.3" cy="370.3" r="4.3"/><circle cx="634.6" cy="370.3" r="4.3"/><circle cx="678.9" cy="370.3" r="4.3"/><circle cx="900.4" cy="370.3" r="4.3"/><circle cx="944.7" cy="370.3" r="4.3"/><circle cx="989" cy="370.3" r="4.3"/><circle cx="570" cy="390.7" r="4.3"/><circle cx="614.3" cy="390.7" r="4.3"/><circle cx="658.6" cy="390.7" r="4.3"/><circle cx="702.9" cy="390.7" r="4.3"/><circle cx="924.4" cy="390.7" r="4.3"/><circle cx="968.7" cy="390.7" r="4.3"/><circle cx="1013" cy="390.7" r="4.3"/><circle cx="590.3" cy="412.1" r="4.3"/><circle cx="634.6" cy="412.1" r="4.3"/><circle cx="678.9" cy="412.1" r="4.3"/><circle cx="900.4" cy="412.1" r="4.3"/><circle cx="944.7" cy="412.1" r="4.3"/><circle cx="989" cy="412.1" r="4.3"/><circle cx="570" cy="433.5" r="4.3"/><circle cx="614.3" cy="433.5" r="4.3"/><circle cx="658.6" cy="433.5" r="4.3"/><circle cx="702.9" cy="433.5" r="4.3"/><circle cx="924.4" cy="433.5" r="4.3"/><circle cx="968.7" cy="433.5" r="4.3"/><circle cx="1013" cy="433.5" r="4.3"/><circle cx="591.7" cy="452.8" r="4.3"/><circle cx="636" cy="452.8" r="4.3"/><circle cx="680.3" cy="452.8" r="4.3"/><circle cx="901.8" cy="452.8" r="4.3"/><circle cx="946.1" cy="452.8" r="4.3"/><circle cx="990.4" cy="452.8" r="4.3"/></g>
<g fill="url(#gY)"><circle cx="583.9" cy="352.1" r="4.1"/><circle cx="628.2" cy="352.1" r="4.1"/><circle cx="672.5" cy="352.1" r="4.1"/><circle cx="716.8" cy="352.1" r="4.1"/><circle cx="761.1" cy="352.1" r="4.1"/><circle cx="805.4" cy="352.1" r="4.1"/><circle cx="849.7" cy="352.1" r="4.1"/><circle cx="894" cy="352.1" r="4.1"/><circle cx="938.3" cy="352.1" r="4.1"/><circle cx="982.6" cy="352.1" r="4.1"/><circle cx="1026.9" cy="352.1" r="4.1"/><circle cx="605.3" cy="370.3" r="4.1"/><circle cx="649.6" cy="370.3" r="4.1"/><circle cx="693.9" cy="370.3" r="4.1"/><circle cx="738.2" cy="370.3" r="4.1"/><circle cx="782.5" cy="370.3" r="4.1"/><circle cx="826.8" cy="370.3" r="4.1"/><circle cx="871.1" cy="370.3" r="4.1"/><circle cx="915.4" cy="370.3" r="4.1"/><circle cx="959.7" cy="370.3" r="4.1"/><circle cx="1004" cy="370.3" r="4.1"/><circle cx="584" cy="390.7" r="4.1"/><circle cx="628.3" cy="390.7" r="4.1"/><circle cx="672.6" cy="390.7" r="4.1"/><circle cx="716.9" cy="390.7" r="4.1"/><circle cx="761.2" cy="390.7" r="4.1"/><circle cx="805.5" cy="390.7" r="4.1"/><circle cx="849.8" cy="390.7" r="4.1"/><circle cx="894.1" cy="390.7" r="4.1"/><circle cx="938.4" cy="390.7" r="4.1"/><circle cx="982.7" cy="390.7" r="4.1"/><circle cx="1027" cy="390.7" r="4.1"/><circle cx="605.3" cy="412.1" r="4.1"/><circle cx="649.6" cy="412.1" r="4.1"/><circle cx="693.9" cy="412.1" r="4.1"/><circle cx="738.2" cy="412.1" r="4.1"/><circle cx="782.5" cy="412.1" r="4.1"/><circle cx="826.8" cy="412.1" r="4.1"/><circle cx="871.1" cy="412.1" r="4.1"/><circle cx="915.4" cy="412.1" r="4.1"/><circle cx="959.7" cy="412.1" r="4.1"/><circle cx="1004" cy="412.1" r="4.1"/><circle cx="584" cy="433.5" r="4.1"/><circle cx="628.3" cy="433.5" r="4.1"/><circle cx="672.6" cy="433.5" r="4.1"/><circle cx="716.9" cy="433.5" r="4.1"/><circle cx="761.2" cy="433.5" r="4.1"/><circle cx="805.5" cy="433.5" r="4.1"/><circle cx="849.8" cy="433.5" r="4.1"/><circle cx="894.1" cy="433.5" r="4.1"/><circle cx="938.4" cy="433.5" r="4.1"/><circle cx="982.7" cy="433.5" r="4.1"/><circle cx="1027" cy="433.5" r="4.1"/><circle cx="605.7" cy="452.8" r="4.1"/><circle cx="650" cy="452.8" r="4.1"/><circle cx="694.3" cy="452.8" r="4.1"/><circle cx="738.6" cy="452.8" r="4.1"/><circle cx="782.9" cy="452.8" r="4.1"/><circle cx="827.2" cy="452.8" r="4.1"/><circle cx="871.5" cy="452.8" r="4.1"/><circle cx="915.8" cy="452.8" r="4.1"/><circle cx="960.1" cy="452.8" r="4.1"/><circle cx="1004.4" cy="452.8" r="4.1"/></g>
<g fill="url(#gC)"><circle cx="748.2" cy="352.1" r="4.3"/><circle cx="792.5" cy="352.1" r="4.3"/><circle cx="836.8" cy="352.1" r="4.3"/><circle cx="881.1" cy="352.1" r="4.3"/><circle cx="723.2" cy="370.3" r="4.3"/><circle cx="767.5" cy="370.3" r="4.3"/><circle cx="811.8" cy="370.3" r="4.3"/><circle cx="856.1" cy="370.3" r="4.3"/><circle cx="747.2" cy="390.7" r="4.3"/><circle cx="791.5" cy="390.7" r="4.3"/><circle cx="835.8" cy="390.7" r="4.3"/><circle cx="880.1" cy="390.7" r="4.3"/><circle cx="723.2" cy="412.1" r="4.3"/><circle cx="767.5" cy="412.1" r="4.3"/><circle cx="811.8" cy="412.1" r="4.3"/><circle cx="856.1" cy="412.1" r="4.3"/><circle cx="747.2" cy="433.5" r="4.3"/><circle cx="791.5" cy="433.5" r="4.3"/><circle cx="835.8" cy="433.5" r="4.3"/><circle cx="880.1" cy="433.5" r="4.3"/><circle cx="724.6" cy="452.8" r="4.3"/><circle cx="768.9" cy="452.8" r="4.3"/><circle cx="813.2" cy="452.8" r="4.3"/><circle cx="857.5" cy="452.8" r="4.3"/></g>
</g>
<rect x="592.8" y="338.6" width="52.90000000000009" height="135.39999999999998" fill="#bcbcbc" style="mix-blend-mode:multiply"/>
<rect x="951.5" y="338.2" width="53.10000000000002" height="135.5" fill="#bcbcbc" style="mix-blend-mode:multiply"/>
<ellipse cx="721.3" cy="407.8" rx="3.2" ry="5.4" fill="url(#bg4)"/>
<ellipse cx="727.7" cy="422.8" rx="4.3" ry="5.4" fill="url(#bg4)"/>
<ellipse cx="740.6" cy="448.5" rx="5.4" ry="7.5" fill="url(#bg4)"/>
<ellipse cx="747" cy="433.5" rx="5.4" ry="6.4" fill="url(#bg4)"/>
<ellipse cx="724.5" cy="414.2" rx="5.4" ry="3.2" fill="url(#bg1)"/>
<ellipse cx="729.9" cy="443.1" rx="4.3" ry="6.4" fill="url(#bg1)"/>
<ellipse cx="719.2" cy="463.5" rx="8.6" ry="11.8" fill="url(#bg1)"/>
<ellipse cx="739.5" cy="462.4" rx="2.6" ry="2.6" fill="url(#bg1)"/>
<ellipse cx="751" cy="436.7" rx="2.2" ry="6.4" fill="url(#bg1)"/>
<ellipse cx="768.4" cy="446.3" rx="2.2" ry="4.3" fill="url(#bg1)"/>
<ellipse cx="767" cy="452" rx="3.2" ry="2.2" fill="url(#bg4)"/>
<ellipse cx="768.4" cy="461" rx="2" ry="3" fill="url(#bg1)"/>
<ellipse cx="788.8" cy="433.5" rx="5.4" ry="3.2" fill="url(#bg4)"/>
<ellipse cx="792" cy="435.6" rx="2" ry="3" fill="url(#bg1)"/>
<ellipse cx="813.4" cy="446.3" rx="5" ry="7" fill="url(#bg4)"/>
<ellipse cx="811.3" cy="456.9" rx="6.4" ry="12" fill="url(#bg4)"/>
<ellipse cx="809.1" cy="446.3" rx="5.4" ry="7.5" fill="url(#bg1)"/>
<ellipse cx="826.3" cy="448.5" rx="5.4" ry="6.4" fill="url(#bg1)"/>
<ellipse cx="809.1" cy="412.1" rx="4.3" ry="5.4" fill="url(#bg1)"/>
<ellipse cx="811.3" cy="414.2" rx="3.2" ry="3.2" fill="url(#bg4)"/>
<ellipse cx="813.4" cy="420.6" rx="3" ry="3" fill="url(#bg1)"/>
<ellipse cx="852" cy="461.2" rx="7.5" ry="12" fill="url(#bg4)"/>
<ellipse cx="862.7" cy="452.8" rx="5.4" ry="8.6" fill="url(#bg1)"/>
<ellipse cx="849.8" cy="431.3" rx="4.3" ry="6.4" fill="url(#bg1)"/>
<ellipse cx="854.1" cy="412.1" rx="4.3" ry="5.4" fill="url(#bg1)"/>
<ellipse cx="854.1" cy="414.2" rx="3.2" ry="4.3" fill="url(#bg4)"/>
<ellipse cx="873.4" cy="435.6" rx="4.3" ry="5.4" fill="url(#bg1)"/>
<ellipse cx="877.6" cy="435.6" rx="2.6" ry="9.6" fill="url(#bg4)"/>
<ellipse cx="884" cy="431.3" rx="4.3" ry="4.3" fill="url(#bg1)"/>
<ellipse cx="896.9" cy="412.1" rx="4.3" ry="5.4" fill="url(#bg1)"/>
<ellipse cx="899" cy="412.1" rx="2.2" ry="2.2" fill="url(#bg4)"/>
<ellipse cx="877.6" cy="399" rx="1.8" ry="3" fill="url(#bg1)"/>
<ellipse cx="717" cy="431.3" rx="2.5" ry="2.5" fill="url(#bg4)"/>
<clipPath id="mc4"><rect x="592.8" y="453.2" width="411.20000000000005" height="195.50000000000006"/></clipPath>
<g clip-path="url(#mc4)">
<path d="M571 503.1L590.3 521.3M615.3 503.1L634.6 521.3M659.6 503.1L678.9 521.3M703.9 503.1L723.2 521.3M748.2 503.1L767.5 521.3M792.5 503.1L811.8 521.3M836.8 503.1L856.1 521.3M881.1 503.1L900.4 521.3M925.4 503.1L944.7 521.3M969.7 503.1L989 521.3M591.7 593L614.3 575.9M636 593L658.6 575.9M680.3 593L702.9 575.9M724.6 593L747.2 575.9M768.9 593L791.5 575.9M813.2 593L835.8 575.9M857.5 593L880.1 575.9M901.8 593L924.4 575.9M946.1 593L968.7 575.9M990.4 593L1013 575.9" stroke="#2838e0" stroke-width="1.4" fill="none"/>
<path d="M571 503.1L577.5 503.1M615.3 503.1L621.8 503.1M615.3 503.1L610.3 512.2M659.6 503.1L666 503.1M659.6 503.1L654.6 512.2M703.9 503.1L710.3 503.1M703.9 503.1L698.9 512.2M925.4 503.1L931.8 503.1M925.4 503.1L920.4 512.2M969.7 503.1L976.1 503.1M969.7 503.1L964.7 512.2M1014 503.1L1020.5 503.1M1014 503.1L1009 512.2M590.3 521.3L597.8 521.3M590.3 521.3L587.1 512.2M590.3 521.3L587.2 529.8M634.6 521.3L642.1 521.3M634.6 521.3L631.4 512.2M634.6 521.3L631.5 529.8M678.9 521.3L686.4 521.3M678.9 521.3L675.7 512.2M678.9 521.3L675.8 529.8M900.4 521.3L907.9 521.3M900.4 521.3L897.2 512.2M900.4 521.3L897.2 529.8M944.7 521.3L952.2 521.3M944.7 521.3L941.5 512.2M944.7 521.3L941.5 529.8M989 521.3L996.5 521.3M989 521.3L985.8 512.2M989 521.3L985.8 529.8M570 538.4L577 538.4M614.3 538.4L621.3 538.4M614.3 538.4L609.8 529.8M614.3 538.4L609.8 548M658.6 538.4L665.6 538.4M658.6 538.4L654.1 529.8M658.6 538.4L654.1 548M702.9 538.4L709.9 538.4M702.9 538.4L698.4 529.8M702.9 538.4L698.4 548M924.4 538.4L931.4 538.4M924.4 538.4L919.9 529.8M924.4 538.4L919.9 548M968.7 538.4L975.7 538.4M968.7 538.4L964.2 529.8M968.7 538.4L964.2 548M1013 538.4L1020 538.4M1013 538.4L1008.5 529.8M1013 538.4L1008.5 548M590.3 557.7L597.8 557.7M590.3 557.7L587.2 548M590.3 557.7L587.2 566.8M634.6 557.7L642.1 557.7M634.6 557.7L631.5 548M634.6 557.7L631.5 566.8M678.9 557.7L686.4 557.7M678.9 557.7L675.8 548M678.9 557.7L675.8 566.8M900.4 557.7L907.9 557.7M900.4 557.7L897.2 548M900.4 557.7L897.2 566.8M944.7 557.7L952.2 557.7M944.7 557.7L941.5 548M944.7 557.7L941.5 566.8M989 557.7L996.5 557.7M989 557.7L985.8 548M989 557.7L985.8 566.8M570 575.9L577 575.9M614.3 575.9L621.3 575.9M614.3 575.9L609.8 566.8M614.3 575.9L610 584.5M658.6 575.9L665.6 575.9M658.6 575.9L654.1 566.8M658.6 575.9L654.3 584.5M702.9 575.9L709.9 575.9M702.9 575.9L698.4 566.8M702.9 575.9L698.6 584.5M924.4 575.9L931.4 575.9M924.4 575.9L919.9 566.8M924.4 575.9L920.1 584.5M968.7 575.9L975.7 575.9M968.7 575.9L964.2 566.8M968.7 575.9L964.4 584.5M1013 575.9L1020 575.9M1013 575.9L1008.5 566.8M1013 575.9L1008.7 584.5M591.7 593L598.7 593M591.7 593L587.9 584.5M636 593L643 593M636 593L632.1 584.5M680.3 593L687.3 593M680.3 593L676.4 584.5M901.8 593L908.8 593M901.8 593L897.9 584.5M946.1 593L953.1 593M946.1 593L942.2 584.5M990.4 593L997.4 593M990.4 593L986.5 584.5" stroke="#2b3fe4" stroke-width="1.8" fill="none"/>
<path d="M577.5 503.1L583.9 503.1M621.8 503.1L628.2 503.1M610.3 512.2L605.3 521.3M666 503.1L672.5 503.1M654.6 512.2L649.6 521.3M710.3 503.1L716.8 503.1M698.9 512.2L693.9 521.3M754.6 503.1L761.1 503.1M743.2 512.2L738.2 521.3M799 503.1L805.4 503.1M787.5 512.2L782.5 521.3M843.2 503.1L849.7 503.1M831.8 512.2L826.8 521.3M887.5 503.1L894 503.1M876.1 512.2L871.1 521.3M931.8 503.1L938.3 503.1M920.4 512.2L915.4 521.3M976.1 503.1L982.6 503.1M964.7 512.2L959.7 521.3M1020.5 503.1L1026.9 503.1M1009 512.2L1004 521.3M597.8 521.3L605.3 521.3M587.1 512.2L583.9 503.1M587.2 529.8L584 538.4M642.1 521.3L649.6 521.3M631.4 512.2L628.2 503.1M631.5 529.8L628.3 538.4M686.4 521.3L693.9 521.3M675.7 512.2L672.5 503.1M675.8 529.8L672.6 538.4M730.7 521.3L738.2 521.3M720 512.2L716.8 503.1M720 529.8L716.9 538.4M775 521.3L782.5 521.3M764.3 512.2L761.1 503.1M764.3 529.8L761.2 538.4M819.3 521.3L826.8 521.3M808.6 512.2L805.4 503.1M808.6 529.8L805.5 538.4M863.6 521.3L871.1 521.3M852.9 512.2L849.7 503.1M853 529.8L849.8 538.4M907.9 521.3L915.4 521.3M897.2 512.2L894 503.1M897.2 529.8L894.1 538.4M952.2 521.3L959.7 521.3M941.5 512.2L938.3 503.1M941.5 529.8L938.4 538.4M996.5 521.3L1004 521.3M985.8 512.2L982.6 503.1M985.8 529.8L982.7 538.4M577 538.4L584 538.4M621.3 538.4L628.3 538.4M609.8 529.8L605.3 521.3M609.8 548L605.3 557.7M665.6 538.4L672.6 538.4M654.1 529.8L649.6 521.3M654.1 548L649.6 557.7M709.9 538.4L716.9 538.4M698.4 529.8L693.9 521.3M698.4 548L693.9 557.7M754.2 538.4L761.2 538.4M742.7 529.8L738.2 521.3M742.7 548L738.2 557.7M798.5 538.4L805.5 538.4M787 529.8L782.5 521.3M787 548L782.5 557.7M842.8 538.4L849.8 538.4M831.3 529.8L826.8 521.3M831.3 548L826.8 557.7M887.1 538.4L894.1 538.4M875.6 529.8L871.1 521.3M875.6 548L871.1 557.7M931.4 538.4L938.4 538.4M919.9 529.8L915.4 521.3M919.9 548L915.4 557.7M975.7 538.4L982.7 538.4M964.2 529.8L959.7 521.3M964.2 548L959.7 557.7M1020 538.4L1027 538.4M1008.5 529.8L1004 521.3M1008.5 548L1004 557.7M597.8 557.7L605.3 557.7M587.2 548L584 538.4M587.2 566.8L584 575.9M642.1 557.7L649.6 557.7M631.5 548L628.3 538.4M631.5 566.8L628.3 575.9M686.4 557.7L693.9 557.7M675.8 548L672.6 538.4M675.8 566.8L672.6 575.9M730.7 557.7L738.2 557.7M720 548L716.9 538.4M720 566.8L716.9 575.9M775 557.7L782.5 557.7M764.3 548L761.2 538.4M764.3 566.8L761.2 575.9M819.3 557.7L826.8 557.7M808.6 548L805.5 538.4M808.6 566.8L805.5 575.9M863.6 557.7L871.1 557.7M853 548L849.8 538.4M853 566.8L849.8 575.9M907.9 557.7L915.4 557.7M897.2 548L894.1 538.4M897.2 566.8L894.1 575.9M952.2 557.7L959.7 557.7M941.5 548L938.4 538.4M941.5 566.8L938.4 575.9M996.5 557.7L1004 557.7M985.8 548L982.7 538.4M985.8 566.8L982.7 575.9M577 575.9L584 575.9M621.3 575.9L628.3 575.9M609.8 566.8L605.3 557.7M610 584.5L605.7 593M665.6 575.9L672.6 575.9M654.1 566.8L649.6 557.7M654.3 584.5L650 593M709.9 575.9L716.9 575.9M698.4 566.8L693.9 557.7M698.6 584.5L694.3 593M754.2 575.9L761.2 575.9M742.7 566.8L738.2 557.7M742.9 584.5L738.6 593M798.5 575.9L805.5 575.9M787 566.8L782.5 557.7M787.2 584.5L782.9 593M842.8 575.9L849.8 575.9M831.3 566.8L826.8 557.7M831.5 584.5L827.2 593M887.1 575.9L894.1 575.9M875.6 566.8L871.1 557.7M875.8 584.5L871.5 593M931.4 575.9L938.4 575.9M919.9 566.8L915.4 557.7M920.1 584.5L915.8 593M975.7 575.9L982.7 575.9M964.2 566.8L959.7 557.7M964.4 584.5L960.1 593M1020 575.9L1027 575.9M1008.5 566.8L1004 557.7M1008.7 584.5L1004.4 593M598.7 593L605.7 593M587.9 584.5L584 575.9M643 593L650 593M632.1 584.5L628.3 575.9M687.3 593L694.3 593M676.4 584.5L672.6 575.9M731.6 593L738.6 593M720.8 584.5L716.9 575.9M775.9 593L782.9 593M765 584.5L761.2 575.9M820.2 593L827.2 593M809.4 584.5L805.5 575.9M864.5 593L871.5 593M853.6 584.5L849.8 575.9M908.8 593L915.8 593M897.9 584.5L894.1 575.9M953.1 593L960.1 593M942.2 584.5L938.4 575.9M997.4 593L1004.4 593M986.5 584.5L982.7 575.9" stroke="#f0ee34" stroke-width="1.8" fill="none"/>
<path d="M748.2 503.1L754.6 503.1M748.2 503.1L743.2 512.2M792.5 503.1L799 503.1M792.5 503.1L787.5 512.2M836.8 503.1L843.2 503.1M836.8 503.1L831.8 512.2M881.1 503.1L887.5 503.1M881.1 503.1L876.1 512.2M723.2 521.3L730.7 521.3M723.2 521.3L720 512.2M723.2 521.3L720 529.8M767.5 521.3L775 521.3M767.5 521.3L764.3 512.2M767.5 521.3L764.3 529.8M811.8 521.3L819.3 521.3M811.8 521.3L808.6 512.2M811.8 521.3L808.6 529.8M856.1 521.3L863.6 521.3M856.1 521.3L852.9 512.2M856.1 521.3L853 529.8M747.2 538.4L754.2 538.4M747.2 538.4L742.7 529.8M747.2 538.4L742.7 548M791.5 538.4L798.5 538.4M791.5 538.4L787 529.8M791.5 538.4L787 548M835.8 538.4L842.8 538.4M835.8 538.4L831.3 529.8M835.8 538.4L831.3 548M880.1 538.4L887.1 538.4M880.1 538.4L875.6 529.8M880.1 538.4L875.6 548M723.2 557.7L730.7 557.7M723.2 557.7L720 548M723.2 557.7L720 566.8M767.5 557.7L775 557.7M767.5 557.7L764.3 548M767.5 557.7L764.3 566.8M811.8 557.7L819.3 557.7M811.8 557.7L808.6 548M811.8 557.7L808.6 566.8M856.1 557.7L863.6 557.7M856.1 557.7L853 548M856.1 557.7L853 566.8M747.2 575.9L754.2 575.9M747.2 575.9L742.7 566.8M747.2 575.9L742.9 584.5M791.5 575.9L798.5 575.9M791.5 575.9L787 566.8M791.5 575.9L787.2 584.5M835.8 575.9L842.8 575.9M835.8 575.9L831.3 566.8M835.8 575.9L831.5 584.5M880.1 575.9L887.1 575.9M880.1 575.9L875.6 566.8M880.1 575.9L875.8 584.5M724.6 593L731.6 593M724.6 593L720.8 584.5M768.9 593L775.9 593M768.9 593L765 584.5M813.2 593L820.2 593M813.2 593L809.4 584.5M857.5 593L864.5 593M857.5 593L853.6 584.5" stroke="#8adbe6" stroke-width="1.8" fill="none"/>
<g fill="url(#gB)"><circle cx="571" cy="503.1" r="4.3"/><circle cx="615.3" cy="503.1" r="4.3"/><circle cx="659.6" cy="503.1" r="4.3"/><circle cx="703.9" cy="503.1" r="4.3"/><circle cx="925.4" cy="503.1" r="4.3"/><circle cx="969.7" cy="503.1" r="4.3"/><circle cx="1014" cy="503.1" r="4.3"/><circle cx="590.3" cy="521.3" r="4.3"/><circle cx="634.6" cy="521.3" r="4.3"/><circle cx="678.9" cy="521.3" r="4.3"/><circle cx="900.4" cy="521.3" r="4.3"/><circle cx="944.7" cy="521.3" r="4.3"/><circle cx="989" cy="521.3" r="4.3"/><circle cx="570" cy="538.4" r="4.3"/><circle cx="614.3" cy="538.4" r="4.3"/><circle cx="658.6" cy="538.4" r="4.3"/><circle cx="702.9" cy="538.4" r="4.3"/><circle cx="924.4" cy="538.4" r="4.3"/><circle cx="968.7" cy="538.4" r="4.3"/><circle cx="1013" cy="538.4" r="4.3"/><circle cx="590.3" cy="557.7" r="4.3"/><circle cx="634.6" cy="557.7" r="4.3"/><circle cx="678.9" cy="557.7" r="4.3"/><circle cx="900.4" cy="557.7" r="4.3"/><circle cx="944.7" cy="557.7" r="4.3"/><circle cx="989" cy="557.7" r="4.3"/><circle cx="570" cy="575.9" r="4.3"/><circle cx="614.3" cy="575.9" r="4.3"/><circle cx="658.6" cy="575.9" r="4.3"/><circle cx="702.9" cy="575.9" r="4.3"/><circle cx="924.4" cy="575.9" r="4.3"/><circle cx="968.7" cy="575.9" r="4.3"/><circle cx="1013" cy="575.9" r="4.3"/><circle cx="591.7" cy="593" r="4.3"/><circle cx="636" cy="593" r="4.3"/><circle cx="680.3" cy="593" r="4.3"/><circle cx="901.8" cy="593" r="4.3"/><circle cx="946.1" cy="593" r="4.3"/><circle cx="990.4" cy="593" r="4.3"/></g>
<g fill="url(#gY)"><circle cx="583.9" cy="503.1" r="4.1"/><circle cx="628.2" cy="503.1" r="4.1"/><circle cx="672.5" cy="503.1" r="4.1"/><circle cx="716.8" cy="503.1" r="4.1"/><circle cx="761.1" cy="503.1" r="4.1"/><circle cx="805.4" cy="503.1" r="4.1"/><circle cx="849.7" cy="503.1" r="4.1"/><circle cx="894" cy="503.1" r="4.1"/><circle cx="938.3" cy="503.1" r="4.1"/><circle cx="982.6" cy="503.1" r="4.1"/><circle cx="1026.9" cy="503.1" r="4.1"/><circle cx="605.3" cy="521.3" r="4.1"/><circle cx="649.6" cy="521.3" r="4.1"/><circle cx="693.9" cy="521.3" r="4.1"/><circle cx="738.2" cy="521.3" r="4.1"/><circle cx="782.5" cy="521.3" r="4.1"/><circle cx="826.8" cy="521.3" r="4.1"/><circle cx="871.1" cy="521.3" r="4.1"/><circle cx="915.4" cy="521.3" r="4.1"/><circle cx="959.7" cy="521.3" r="4.1"/><circle cx="1004" cy="521.3" r="4.1"/><circle cx="584" cy="538.4" r="4.1"/><circle cx="628.3" cy="538.4" r="4.1"/><circle cx="672.6" cy="538.4" r="4.1"/><circle cx="716.9" cy="538.4" r="4.1"/><circle cx="761.2" cy="538.4" r="4.1"/><circle cx="805.5" cy="538.4" r="4.1"/><circle cx="849.8" cy="538.4" r="4.1"/><circle cx="894.1" cy="538.4" r="4.1"/><circle cx="938.4" cy="538.4" r="4.1"/><circle cx="982.7" cy="538.4" r="4.1"/><circle cx="1027" cy="538.4" r="4.1"/><circle cx="605.3" cy="557.7" r="4.1"/><circle cx="649.6" cy="557.7" r="4.1"/><circle cx="693.9" cy="557.7" r="4.1"/><circle cx="738.2" cy="557.7" r="4.1"/><circle cx="782.5" cy="557.7" r="4.1"/><circle cx="826.8" cy="557.7" r="4.1"/><circle cx="871.1" cy="557.7" r="4.1"/><circle cx="915.4" cy="557.7" r="4.1"/><circle cx="959.7" cy="557.7" r="4.1"/><circle cx="1004" cy="557.7" r="4.1"/><circle cx="584" cy="575.9" r="4.1"/><circle cx="628.3" cy="575.9" r="4.1"/><circle cx="672.6" cy="575.9" r="4.1"/><circle cx="716.9" cy="575.9" r="4.1"/><circle cx="761.2" cy="575.9" r="4.1"/><circle cx="805.5" cy="575.9" r="4.1"/><circle cx="849.8" cy="575.9" r="4.1"/><circle cx="894.1" cy="575.9" r="4.1"/><circle cx="938.4" cy="575.9" r="4.1"/><circle cx="982.7" cy="575.9" r="4.1"/><circle cx="1027" cy="575.9" r="4.1"/><circle cx="605.7" cy="593" r="4.1"/><circle cx="650" cy="593" r="4.1"/><circle cx="694.3" cy="593" r="4.1"/><circle cx="738.6" cy="593" r="4.1"/><circle cx="782.9" cy="593" r="4.1"/><circle cx="827.2" cy="593" r="4.1"/><circle cx="871.5" cy="593" r="4.1"/><circle cx="915.8" cy="593" r="4.1"/><circle cx="960.1" cy="593" r="4.1"/><circle cx="1004.4" cy="593" r="4.1"/></g>
<g fill="url(#gC)"><circle cx="748.2" cy="503.1" r="4.3"/><circle cx="792.5" cy="503.1" r="4.3"/><circle cx="836.8" cy="503.1" r="4.3"/><circle cx="881.1" cy="503.1" r="4.3"/><circle cx="723.2" cy="521.3" r="4.3"/><circle cx="767.5" cy="521.3" r="4.3"/><circle cx="811.8" cy="521.3" r="4.3"/><circle cx="856.1" cy="521.3" r="4.3"/><circle cx="747.2" cy="538.4" r="4.3"/><circle cx="791.5" cy="538.4" r="4.3"/><circle cx="835.8" cy="538.4" r="4.3"/><circle cx="880.1" cy="538.4" r="4.3"/><circle cx="723.2" cy="557.7" r="4.3"/><circle cx="767.5" cy="557.7" r="4.3"/><circle cx="811.8" cy="557.7" r="4.3"/><circle cx="856.1" cy="557.7" r="4.3"/><circle cx="747.2" cy="575.9" r="4.3"/><circle cx="791.5" cy="575.9" r="4.3"/><circle cx="835.8" cy="575.9" r="4.3"/><circle cx="880.1" cy="575.9" r="4.3"/><circle cx="724.6" cy="593" r="4.3"/><circle cx="768.9" cy="593" r="4.3"/><circle cx="813.2" cy="593" r="4.3"/><circle cx="857.5" cy="593" r="4.3"/></g>
</g>
<rect x="592.8" y="483.2" width="52.90000000000009" height="135.50000000000006" fill="#bcbcbc" style="mix-blend-mode:multiply"/>
<rect x="951" y="483.2" width="53" height="135.50000000000006" fill="#bcbcbc" style="mix-blend-mode:multiply"/>
<ellipse cx="804.8" cy="499.9" rx="11.8" ry="12.8" fill="url(#bg3)"/>
<ellipse cx="802.7" cy="509.5" rx="9.6" ry="11.8" fill="url(#bg5)"/>
<ellipse cx="781.3" cy="591.9" rx="9.6" ry="10.7" fill="url(#bg6)"/>
<ellipse cx="783.4" cy="600.5" rx="9.6" ry="9.6" fill="url(#bg5)"/>
<ellipse cx="674.2" cy="497.7" rx="6.4" ry="7.5" fill="url(#bg2)"/>
<ellipse cx="669.9" cy="508.4" rx="6.4" ry="7.5" fill="url(#bg3)"/>
<ellipse cx="652.8" cy="596.2" rx="7.5" ry="9.6" fill="url(#bg2)"/>
<ellipse cx="649.6" cy="587.7" rx="6.4" ry="8.6" fill="url(#bg3)"/>
<ellipse cx="848.7" cy="500.9" rx="6.4" ry="6.4" fill="url(#bg7)"/>
<ellipse cx="845.5" cy="509.5" rx="6.4" ry="7.5" fill="url(#bg3)"/>
<ellipse cx="868" cy="590.9" rx="6.4" ry="7.5" fill="url(#bg7)"/>
<ellipse cx="870.1" cy="600.5" rx="6.4" ry="6.4" fill="url(#bg3)"/>
<ellipse cx="935.5" cy="508.4" rx="5.4" ry="6.4" fill="url(#bg1)"/>
<ellipse cx="937.6" cy="498.8" rx="5.4" ry="5.4" fill="url(#bg8)"/>
<ellipse cx="716" cy="508.4" rx="5.4" ry="6.4" fill="url(#bg2)"/>
<ellipse cx="717" cy="499.9" rx="4.3" ry="4.3" fill="url(#bg3)"/>
<ellipse cx="747" cy="504.2" rx="4.3" ry="4.3" fill="url(#bg3)"/>
<ellipse cx="749.2" cy="513.8" rx="3" ry="4" fill="url(#bg5)"/>
<ellipse cx="761" cy="509.5" rx="3" ry="3" fill="url(#bg5)"/>
<ellipse cx="779.1" cy="527.7" rx="4.3" ry="5.4" fill="url(#bg5)"/>
<ellipse cx="783.4" cy="515.9" rx="5.4" ry="6.4" fill="url(#bg3)"/>
<ellipse cx="772.7" cy="521.3" rx="3.5" ry="3.5" fill="url(#bg5)"/>
<ellipse cx="804.8" cy="538.4" rx="4.3" ry="4.3" fill="url(#bg3)"/>
<ellipse cx="804.8" cy="548" rx="3.2" ry="3.2" fill="url(#bg5)"/>
<ellipse cx="811.3" cy="555.5" rx="3" ry="3" fill="url(#bg5)"/>
<ellipse cx="782.4" cy="552.3" rx="4" ry="4" fill="url(#bg3)"/>
<ellipse cx="782.4" cy="566.3" rx="4.5" ry="5" fill="url(#bg5)"/>
<ellipse cx="737.4" cy="591.9" rx="4.3" ry="4.3" fill="url(#bg8)"/>
<ellipse cx="740.6" cy="600.5" rx="3.2" ry="3.2" fill="url(#bg1)"/>
<ellipse cx="764.2" cy="596.2" rx="4.3" ry="6.4" fill="url(#bg5)"/>
<ellipse cx="770.6" cy="587.7" rx="3.2" ry="3.2" fill="url(#bg3)"/>
<ellipse cx="824.1" cy="591.9" rx="4.3" ry="4.3" fill="url(#bg3)"/>
<ellipse cx="826.3" cy="598.4" rx="3.2" ry="3.2" fill="url(#bg5)"/>
<ellipse cx="911.9" cy="588.7" rx="4.3" ry="4.3" fill="url(#bg9)"/>
<ellipse cx="915.1" cy="598.4" rx="3.2" ry="3.2" fill="url(#bg1)"/>
<ellipse cx="696.7" cy="514.9" rx="3.2" ry="3.2" fill="url(#bg3)"/>
<ellipse cx="693.5" cy="523.4" rx="2.2" ry="2.2" fill="url(#bg7)"/>
<ellipse cx="652.8" cy="562" rx="2.6" ry="2.6" fill="url(#bg2)"/>
<ellipse cx="757.7" cy="569.5" rx="3" ry="3" fill="url(#bg3)"/>
<ellipse cx="849.8" cy="580.2" rx="2.5" ry="2.5" fill="url(#bg3)"/>
<clipPath id="mc5"><rect x="1656.6" y="24.5" width="390.3000000000002" height="184.8"/></clipPath>
<g clip-path="url(#mc5)">
<path d="M1617.8 67.3L1646.1 83.4M1682.4 67.3L1710.7 83.4M1747 67.3L1775.3 83.4M1811.6 67.3L1839.9 83.4M1876.2 67.3L1904.5 83.4M1940.8 67.3L1969.1 83.4M2005.4 67.3L2033.7 83.4M1650.1 158.1L1677.4 142M1714.7 158.1L1742 142M1779.3 158.1L1806.6 142M1843.9 158.1L1871.2 142M1908.5 158.1L1935.8 142M1973.1 158.1L2000.4 142M2037.7 158.1L2065 142" stroke="#2838e0" stroke-width="2.2" fill="none"/>
<path d="M1617.8 67.3L1626.8 67.3M1682.4 67.3L1691.4 67.3M1682.4 67.3L1675.2 75.3M1747 67.3L1756 67.3M1747 67.3L1739.8 75.3M1811.6 67.3L1820.6 67.3M1811.6 67.3L1804.5 75.3M1940.8 67.3L1949.8 67.3M1940.8 67.3L1933.7 75.3M2005.4 67.3L2014.4 67.3M2005.4 67.3L1998.2 75.3M2070 67.3L2079 67.3M2070 67.3L2062.8 75.3M1646.1 83.4L1657.1 83.4M1646.1 83.4L1641 75.3M1646.1 83.4L1641 93.5M1710.7 83.4L1721.7 83.4M1710.7 83.4L1705.6 75.3M1710.7 83.4L1705.6 93.5M1775.3 83.4L1786.3 83.4M1775.3 83.4L1770.2 75.3M1775.3 83.4L1770.2 93.5M1904.5 83.4L1915.5 83.4M1904.5 83.4L1899.3 75.3M1904.5 83.4L1899.3 93.5M1969.1 83.4L1980.1 83.4M1969.1 83.4L1964 75.3M1969.1 83.4L1964 93.5M2033.7 83.4L2044.7 83.4M2033.7 83.4L2028.6 75.3M2033.7 83.4L2028.6 93.5M1614.8 103.6L1625.3 103.6M1679.4 103.6L1689.9 103.6M1679.4 103.6L1673.8 93.5M1679.4 103.6L1673.8 113.2M1744 103.6L1754.5 103.6M1744 103.6L1738.3 93.5M1744 103.6L1738.3 113.2M1808.6 103.6L1819.1 103.6M1808.6 103.6L1803 93.5M1808.6 103.6L1803 113.2M1937.8 103.6L1948.3 103.6M1937.8 103.6L1932.2 93.5M1937.8 103.6L1932.2 113.2M2002.4 103.6L2012.9 103.6M2002.4 103.6L1996.8 93.5M2002.4 103.6L1996.8 113.2M2067 103.6L2077.5 103.6M2067 103.6L2061.3 93.5M2067 103.6L2061.3 113.2M1647.1 122.8L1657.6 122.8M1647.1 122.8L1641.5 113.2M1647.1 122.8L1640.5 132.4M1711.7 122.8L1722.2 122.8M1711.7 122.8L1706.1 113.2M1711.7 122.8L1705.1 132.4M1776.3 122.8L1786.8 122.8M1776.3 122.8L1770.7 113.2M1776.3 122.8L1769.7 132.4M1905.5 122.8L1916 122.8M1905.5 122.8L1899.8 113.2M1905.5 122.8L1898.8 132.4M1970.1 122.8L1980.6 122.8M1970.1 122.8L1964.5 113.2M1970.1 122.8L1963.5 132.4M2034.7 122.8L2045.2 122.8M2034.7 122.8L2029.1 113.2M2034.7 122.8L2028.1 132.4M1612.8 142L1623.3 142M1677.4 142L1687.9 142M1677.4 142L1672.8 132.4M1677.4 142L1672.8 150.1M1742 142L1752.5 142M1742 142L1737.3 132.4M1742 142L1737.3 150.1M1806.6 142L1817.1 142M1806.6 142L1802 132.4M1806.6 142L1802 150.1M1935.8 142L1946.3 142M1935.8 142L1931.2 132.4M1935.8 142L1931.2 150.1M2000.4 142L2010.9 142M2000.4 142L1995.8 132.4M2000.4 142L1995.8 150.1M2065 142L2075.5 142M2065 142L2060.3 132.4M2065 142L2060.3 150.1M1650.1 158.1L1659.1 158.1M1650.1 158.1L1642 150.1M1714.7 158.1L1723.7 158.1M1714.7 158.1L1706.6 150.1M1779.3 158.1L1788.3 158.1M1779.3 158.1L1771.2 150.1M1908.5 158.1L1917.5 158.1M1908.5 158.1L1900.3 150.1M1973.1 158.1L1982.1 158.1M1973.1 158.1L1965 150.1M2037.7 158.1L2046.7 158.1M2037.7 158.1L2029.6 150.1" stroke="#2b3fe4" stroke-width="2.8" fill="none"/>
<path d="M1626.8 67.3L1635.8 67.3M1691.4 67.3L1700.4 67.3M1675.2 75.3L1668.1 83.4M1756 67.3L1765 67.3M1739.8 75.3L1732.7 83.4M1820.6 67.3L1829.6 67.3M1804.5 75.3L1797.3 83.4M1885.2 67.3L1894.2 67.3M1869.1 75.3L1861.9 83.4M1949.8 67.3L1958.8 67.3M1933.7 75.3L1926.5 83.4M2014.4 67.3L2023.4 67.3M1998.2 75.3L1991.1 83.4M2079 67.3L2088 67.3M2062.8 75.3L2055.7 83.4M1657.1 83.4L1668.1 83.4M1641 75.3L1635.8 67.3M1641 93.5L1635.8 103.6M1721.7 83.4L1732.7 83.4M1705.6 75.3L1700.4 67.3M1705.6 93.5L1700.4 103.6M1786.3 83.4L1797.3 83.4M1770.2 75.3L1765 67.3M1770.2 93.5L1765 103.6M1850.9 83.4L1861.9 83.4M1834.8 75.3L1829.6 67.3M1834.8 93.5L1829.6 103.6M1915.5 83.4L1926.5 83.4M1899.3 75.3L1894.2 67.3M1899.3 93.5L1894.2 103.6M1980.1 83.4L1991.1 83.4M1964 75.3L1958.8 67.3M1964 93.5L1958.8 103.6M2044.7 83.4L2055.7 83.4M2028.6 75.3L2023.4 67.3M2028.6 93.5L2023.4 103.6M1625.3 103.6L1635.8 103.6M1689.9 103.6L1700.4 103.6M1673.8 93.5L1668.1 83.4M1673.8 113.2L1668.1 122.8M1754.5 103.6L1765 103.6M1738.3 93.5L1732.7 83.4M1738.3 113.2L1732.7 122.8M1819.1 103.6L1829.6 103.6M1803 93.5L1797.3 83.4M1803 113.2L1797.3 122.8M1883.7 103.6L1894.2 103.6M1867.6 93.5L1861.9 83.4M1867.6 113.2L1861.9 122.8M1948.3 103.6L1958.8 103.6M1932.2 93.5L1926.5 83.4M1932.2 113.2L1926.5 122.8M2012.9 103.6L2023.4 103.6M1996.8 93.5L1991.1 83.4M1996.8 113.2L1991.1 122.8M2077.5 103.6L2088 103.6M2061.3 93.5L2055.7 83.4M2061.3 113.2L2055.7 122.8M1657.6 122.8L1668.1 122.8M1641.5 113.2L1635.8 103.6M1640.5 132.4L1633.8 142M1722.2 122.8L1732.7 122.8M1706.1 113.2L1700.4 103.6M1705.1 132.4L1698.4 142M1786.8 122.8L1797.3 122.8M1770.7 113.2L1765 103.6M1769.7 132.4L1763 142M1851.4 122.8L1861.9 122.8M1835.2 113.2L1829.6 103.6M1834.2 132.4L1827.6 142M1916 122.8L1926.5 122.8M1899.8 113.2L1894.2 103.6M1898.8 132.4L1892.2 142M1980.6 122.8L1991.1 122.8M1964.5 113.2L1958.8 103.6M1963.5 132.4L1956.8 142M2045.2 122.8L2055.7 122.8M2029.1 113.2L2023.4 103.6M2028.1 132.4L2021.4 142M1623.3 142L1633.8 142M1687.9 142L1698.4 142M1672.8 132.4L1668.1 122.8M1672.8 150.1L1668.1 158.1M1752.5 142L1763 142M1737.3 132.4L1732.7 122.8M1737.3 150.1L1732.7 158.1M1817.1 142L1827.6 142M1802 132.4L1797.3 122.8M1802 150.1L1797.3 158.1M1881.7 142L1892.2 142M1866.6 132.4L1861.9 122.8M1866.6 150.1L1861.9 158.1M1946.3 142L1956.8 142M1931.2 132.4L1926.5 122.8M1931.2 150.1L1926.5 158.1M2010.9 142L2021.4 142M1995.8 132.4L1991.1 122.8M1995.8 150.1L1991.1 158.1M2075.5 142L2086 142M2060.3 132.4L2055.7 122.8M2060.3 150.1L2055.7 158.1M1659.1 158.1L1668.1 158.1M1642 150.1L1633.8 142M1723.7 158.1L1732.7 158.1M1706.6 150.1L1698.4 142M1788.3 158.1L1797.3 158.1M1771.2 150.1L1763 142M1852.9 158.1L1861.9 158.1M1835.8 150.1L1827.6 142M1917.5 158.1L1926.5 158.1M1900.3 150.1L1892.2 142M1982.1 158.1L1991.1 158.1M1965 150.1L1956.8 142M2046.7 158.1L2055.7 158.1M2029.6 150.1L2021.4 142" stroke="#f0ee34" stroke-width="2.8" fill="none"/>
<path d="M1876.2 67.3L1885.2 67.3M1876.2 67.3L1869.1 75.3M1839.9 83.4L1850.9 83.4M1839.9 83.4L1834.8 75.3M1839.9 83.4L1834.8 93.5M1873.2 103.6L1883.7 103.6M1873.2 103.6L1867.6 93.5M1873.2 103.6L1867.6 113.2M1840.9 122.8L1851.4 122.8M1840.9 122.8L1835.2 113.2M1840.9 122.8L1834.2 132.4M1871.2 142L1881.7 142M1871.2 142L1866.6 132.4M1871.2 142L1866.6 150.1M1843.9 158.1L1852.9 158.1M1843.9 158.1L1835.8 150.1" stroke="#8adbe6" stroke-width="2.8" fill="none"/>
<g fill="url(#gB)"><circle cx="1617.8" cy="67.3" r="5.2"/><circle cx="1682.4" cy="67.3" r="5.2"/><circle cx="1747" cy="67.3" r="5.2"/><circle cx="1811.6" cy="67.3" r="5.2"/><circle cx="1940.8" cy="67.3" r="5.2"/><circle cx="2005.4" cy="67.3" r="5.2"/><circle cx="2070" cy="67.3" r="5.2"/><circle cx="1646.1" cy="83.4" r="5.2"/><circle cx="1710.7" cy="83.4" r="5.2"/><circle cx="1775.3" cy="83.4" r="5.2"/><circle cx="1904.5" cy="83.4" r="5.2"/><circle cx="1969.1" cy="83.4" r="5.2"/><circle cx="2033.7" cy="83.4" r="5.2"/><circle cx="1614.8" cy="103.6" r="5.2"/><circle cx="1679.4" cy="103.6" r="5.2"/><circle cx="1744" cy="103.6" r="5.2"/><circle cx="1808.6" cy="103.6" r="5.2"/><circle cx="1937.8" cy="103.6" r="5.2"/><circle cx="2002.4" cy="103.6" r="5.2"/><circle cx="2067" cy="103.6" r="5.2"/><circle cx="1647.1" cy="122.8" r="5.2"/><circle cx="1711.7" cy="122.8" r="5.2"/><circle cx="1776.3" cy="122.8" r="5.2"/><circle cx="1905.5" cy="122.8" r="5.2"/><circle cx="1970.1" cy="122.8" r="5.2"/><circle cx="2034.7" cy="122.8" r="5.2"/><circle cx="1612.8" cy="142" r="5.2"/><circle cx="1677.4" cy="142" r="5.2"/><circle cx="1742" cy="142" r="5.2"/><circle cx="1806.6" cy="142" r="5.2"/><circle cx="1935.8" cy="142" r="5.2"/><circle cx="2000.4" cy="142" r="5.2"/><circle cx="2065" cy="142" r="5.2"/><circle cx="1650.1" cy="158.1" r="5.2"/><circle cx="1714.7" cy="158.1" r="5.2"/><circle cx="1779.3" cy="158.1" r="5.2"/><circle cx="1908.5" cy="158.1" r="5.2"/><circle cx="1973.1" cy="158.1" r="5.2"/><circle cx="2037.7" cy="158.1" r="5.2"/></g>
<g fill="url(#gY)"><circle cx="1635.8" cy="67.3" r="4.9"/><circle cx="1700.4" cy="67.3" r="4.9"/><circle cx="1765" cy="67.3" r="4.9"/><circle cx="1829.6" cy="67.3" r="4.9"/><circle cx="1894.2" cy="67.3" r="4.9"/><circle cx="1958.8" cy="67.3" r="4.9"/><circle cx="2023.4" cy="67.3" r="4.9"/><circle cx="2088" cy="67.3" r="4.9"/><circle cx="1668.1" cy="83.4" r="4.9"/><circle cx="1732.7" cy="83.4" r="4.9"/><circle cx="1797.3" cy="83.4" r="4.9"/><circle cx="1861.9" cy="83.4" r="4.9"/><circle cx="1926.5" cy="83.4" r="4.9"/><circle cx="1991.1" cy="83.4" r="4.9"/><circle cx="2055.7" cy="83.4" r="4.9"/><circle cx="1635.8" cy="103.6" r="4.9"/><circle cx="1700.4" cy="103.6" r="4.9"/><circle cx="1765" cy="103.6" r="4.9"/><circle cx="1829.6" cy="103.6" r="4.9"/><circle cx="1894.2" cy="103.6" r="4.9"/><circle cx="1958.8" cy="103.6" r="4.9"/><circle cx="2023.4" cy="103.6" r="4.9"/><circle cx="2088" cy="103.6" r="4.9"/><circle cx="1668.1" cy="122.8" r="4.9"/><circle cx="1732.7" cy="122.8" r="4.9"/><circle cx="1797.3" cy="122.8" r="4.9"/><circle cx="1861.9" cy="122.8" r="4.9"/><circle cx="1926.5" cy="122.8" r="4.9"/><circle cx="1991.1" cy="122.8" r="4.9"/><circle cx="2055.7" cy="122.8" r="4.9"/><circle cx="1633.8" cy="142" r="4.9"/><circle cx="1698.4" cy="142" r="4.9"/><circle cx="1763" cy="142" r="4.9"/><circle cx="1827.6" cy="142" r="4.9"/><circle cx="1892.2" cy="142" r="4.9"/><circle cx="1956.8" cy="142" r="4.9"/><circle cx="2021.4" cy="142" r="4.9"/><circle cx="2086" cy="142" r="4.9"/><circle cx="1668.1" cy="158.1" r="4.9"/><circle cx="1732.7" cy="158.1" r="4.9"/><circle cx="1797.3" cy="158.1" r="4.9"/><circle cx="1861.9" cy="158.1" r="4.9"/><circle cx="1926.5" cy="158.1" r="4.9"/><circle cx="1991.1" cy="158.1" r="4.9"/><circle cx="2055.7" cy="158.1" r="4.9"/></g>
<g fill="url(#gC)"><circle cx="1876.2" cy="67.3" r="5.2"/><circle cx="1839.9" cy="83.4" r="5.2"/><circle cx="1873.2" cy="103.6" r="5.2"/><circle cx="1840.9" cy="122.8" r="5.2"/><circle cx="1871.2" cy="142" r="5.2"/><circle cx="1843.9" cy="158.1" r="5.2"/></g>
</g>
<rect x="1656.6" y="54.5" width="66.20000000000005" height="124.80000000000001" fill="#bcbcbc" style="mix-blend-mode:multiply"/>
<rect x="1980.9" y="54.5" width="66.0" height="124.80000000000001" fill="#bcbcbc" style="mix-blend-mode:multiply"/>
<ellipse cx="1748" cy="104.7" rx="5" ry="9" fill="url(#bg9)"/>
<ellipse cx="1748" cy="124.7" rx="5" ry="9" fill="url(#bg9)"/>
<ellipse cx="1767.2" cy="122.8" rx="6" ry="8" fill="url(#bg9)"/>
<ellipse cx="1785.4" cy="120.8" rx="6" ry="9" fill="url(#bg9)"/>
<ellipse cx="1777.3" cy="122.8" rx="6" ry="8" fill="url(#bg1)"/>
<ellipse cx="1805.6" cy="104.6" rx="6" ry="5" fill="url(#bg9)"/>
<ellipse cx="1810.6" cy="102.6" rx="3" ry="4" fill="url(#bg1)"/>
<ellipse cx="1816.7" cy="101.6" rx="3" ry="3" fill="url(#bg9)"/>
<ellipse cx="1806.6" cy="132.9" rx="4" ry="7" fill="url(#bg1)"/>
<ellipse cx="1807.6" cy="143" rx="9" ry="2.5" fill="url(#bg9)"/>
<ellipse cx="1813.7" cy="153.1" rx="8" ry="7" fill="url(#bg1)"/>
<ellipse cx="1829.8" cy="159.1" rx="8" ry="7" fill="url(#bg1)"/>
<ellipse cx="1841.9" cy="159.1" rx="3.6" ry="13" fill="url(#bg9)"/>
<ellipse cx="1852" cy="157.1" rx="5" ry="6" fill="url(#bg1)"/>
<ellipse cx="1765.2" cy="145" rx="4" ry="5" fill="url(#bg9)"/>
<ellipse cx="1779.3" cy="150.1" rx="4" ry="4" fill="url(#bg9)"/>
<ellipse cx="1781.4" cy="167.2" rx="5" ry="6" fill="url(#bg9)"/>
<ellipse cx="1795.5" cy="155.1" rx="4" ry="4" fill="url(#bg1)"/>
<ellipse cx="1797.5" cy="165.2" rx="2.5" ry="2.5" fill="url(#bg9)"/>
<ellipse cx="1741" cy="96.5" rx="3" ry="3" fill="url(#bg9)"/>
<ellipse cx="1781.4" cy="91.5" rx="2.5" ry="2.5" fill="url(#bg9)"/>
<ellipse cx="1765.2" cy="100.6" rx="2.5" ry="2.5" fill="url(#bg9)"/>
<ellipse cx="1833.9" cy="122.8" rx="2.5" ry="2.5" fill="url(#bg9)"/>
<ellipse cx="1846" cy="128.9" rx="2" ry="2" fill="url(#bg9)"/>
<ellipse cx="1833.9" cy="139" rx="2" ry="3" fill="url(#bg1)"/>
<ellipse cx="1874.2" cy="139" rx="2" ry="2" fill="url(#bg9)"/>
<ellipse cx="1866.2" cy="142" rx="1.6" ry="2" fill="url(#bg1)"/>
<ellipse cx="1860.1" cy="165.2" rx="1.6" ry="2" fill="url(#bg1)"/>
<clipPath id="mc6"><rect x="1657.8" y="164" width="387.10000000000014" height="193.2"/></clipPath>
<g clip-path="url(#mc6)">
<path d="M1653.3 202.6L1680.4 219.7M1716.7 202.6L1743.8 219.7M1780.1 202.6L1807.2 219.7M1843.5 202.6L1870.6 219.7M1906.9 202.6L1934 219.7M1970.3 202.6L1997.4 219.7M2033.7 202.6L2060.8 219.7M1653.3 311.6L1680.4 295.5M1716.7 311.6L1743.8 295.5M1780.1 311.6L1807.2 295.5M1843.5 311.6L1870.6 295.5M1906.9 311.6L1934 295.5M1970.3 311.6L1997.4 295.5M2033.7 311.6L2060.8 295.5" stroke="#2838e0" stroke-width="2.1" fill="none"/>
<path d="M1653.3 202.6L1661.8 202.6M1653.3 202.6L1645.7 211.1M1716.7 202.6L1725.2 202.6M1716.7 202.6L1709.1 211.1M1780.1 202.6L1788.6 202.6M1780.1 202.6L1772.5 211.1M1906.9 202.6L1915.4 202.6M1906.9 202.6L1899.2 211.1M1970.3 202.6L1978.8 202.6M1970.3 202.6L1962.7 211.1M2033.7 202.6L2042.2 202.6M2033.7 202.6L2026.1 211.1M1617 219.7L1627.5 219.7M1680.4 219.7L1690.9 219.7M1680.4 219.7L1675.3 211.1M1680.4 219.7L1675.3 229.3M1743.8 219.7L1754.3 219.7M1743.8 219.7L1738.8 211.1M1743.8 219.7L1738.8 229.3M1807.2 219.7L1817.7 219.7M1807.2 219.7L1802.2 211.1M1807.2 219.7L1802.2 229.3M1934 219.7L1944.5 219.7M1934 219.7L1929 211.1M1934 219.7L1929 229.3M1997.4 219.7L2007.9 219.7M1997.4 219.7L1992.3 211.1M1997.4 219.7L1992.3 229.3M2060.8 219.7L2071.3 219.7M2060.8 219.7L2055.8 211.1M2060.8 219.7L2055.8 229.3M1650.3 238.9L1660.3 238.9M1650.3 238.9L1644.2 229.3M1650.3 238.9L1644.2 248M1713.7 238.9L1723.7 238.9M1713.7 238.9L1707.6 229.3M1713.7 238.9L1707.6 248M1777.1 238.9L1787.1 238.9M1777.1 238.9L1771 229.3M1777.1 238.9L1771 248M1903.9 238.9L1913.9 238.9M1903.9 238.9L1897.8 229.3M1903.9 238.9L1897.8 248M1967.3 238.9L1977.3 238.9M1967.3 238.9L1961.2 229.3M1967.3 238.9L1961.2 248M2030.7 238.9L2040.7 238.9M2030.7 238.9L2024.6 229.3M2030.7 238.9L2024.6 248M1617 257.1L1627.5 257.1M1680.4 257.1L1690.9 257.1M1680.4 257.1L1675.3 248M1680.4 257.1L1675.3 266.7M1743.8 257.1L1754.3 257.1M1743.8 257.1L1738.8 248M1743.8 257.1L1738.8 266.7M1807.2 257.1L1817.7 257.1M1807.2 257.1L1802.2 248M1807.2 257.1L1802.2 266.7M1934 257.1L1944.5 257.1M1934 257.1L1929 248M1934 257.1L1929 266.7M1997.4 257.1L2007.9 257.1M1997.4 257.1L1992.3 248M1997.4 257.1L1992.3 266.7M2060.8 257.1L2071.3 257.1M2060.8 257.1L2055.8 248M2060.8 257.1L2055.8 266.7M1650.3 276.3L1660.3 276.3M1650.3 276.3L1644.2 266.7M1650.3 276.3L1644.2 285.9M1713.7 276.3L1723.7 276.3M1713.7 276.3L1707.6 266.7M1713.7 276.3L1707.6 285.9M1777.1 276.3L1787.1 276.3M1777.1 276.3L1771 266.7M1777.1 276.3L1771 285.9M1903.9 276.3L1913.9 276.3M1903.9 276.3L1897.8 266.7M1903.9 276.3L1897.8 285.9M1967.3 276.3L1977.3 276.3M1967.3 276.3L1961.2 266.7M1967.3 276.3L1961.2 285.9M2030.7 276.3L2040.7 276.3M2030.7 276.3L2024.6 266.7M2030.7 276.3L2024.6 285.9M1617 295.5L1627.5 295.5M1680.4 295.5L1690.9 295.5M1680.4 295.5L1675.3 285.9M1680.4 295.5L1675.3 303.6M1743.8 295.5L1754.3 295.5M1743.8 295.5L1738.8 285.9M1743.8 295.5L1738.8 303.6M1807.2 295.5L1817.7 295.5M1807.2 295.5L1802.2 285.9M1807.2 295.5L1802.2 303.6M1934 295.5L1944.5 295.5M1934 295.5L1929 285.9M1934 295.5L1929 303.6M1997.4 295.5L2007.9 295.5M1997.4 295.5L1992.3 285.9M1997.4 295.5L1992.3 303.6M2060.8 295.5L2071.3 295.5M2060.8 295.5L2055.8 285.9M2060.8 295.5L2055.8 303.6M1653.3 311.6L1661.8 311.6M1653.3 311.6L1645.7 303.6M1716.7 311.6L1725.2 311.6M1716.7 311.6L1709.1 303.6M1780.1 311.6L1788.6 311.6M1780.1 311.6L1772.5 303.6M1906.9 311.6L1915.4 311.6M1906.9 311.6L1899.2 303.6M1970.3 311.6L1978.8 311.6M1970.3 311.6L1962.7 303.6M2033.7 311.6L2042.2 311.6M2033.7 311.6L2026.1 303.6" stroke="#2b3fe4" stroke-width="2.6" fill="none"/>
<path d="M1661.8 202.6L1670.3 202.6M1645.7 211.1L1638 219.7M1725.2 202.6L1733.7 202.6M1709.1 211.1L1701.4 219.7M1788.6 202.6L1797.1 202.6M1772.5 211.1L1764.8 219.7M1852 202.6L1860.5 202.6M1835.8 211.1L1828.2 219.7M1915.4 202.6L1923.9 202.6M1899.2 211.1L1891.6 219.7M1978.8 202.6L1987.3 202.6M1962.7 211.1L1955 219.7M2042.2 202.6L2050.7 202.6M2026.1 211.1L2018.4 219.7M1627.5 219.7L1638 219.7M1690.9 219.7L1701.4 219.7M1675.3 211.1L1670.3 202.6M1675.3 229.3L1670.3 238.9M1754.3 219.7L1764.8 219.7M1738.8 211.1L1733.7 202.6M1738.8 229.3L1733.7 238.9M1817.7 219.7L1828.2 219.7M1802.2 211.1L1797.1 202.6M1802.2 229.3L1797.1 238.9M1881.1 219.7L1891.6 219.7M1865.6 211.1L1860.5 202.6M1865.6 229.3L1860.5 238.9M1944.5 219.7L1955 219.7M1929 211.1L1923.9 202.6M1929 229.3L1923.9 238.9M2007.9 219.7L2018.4 219.7M1992.3 211.1L1987.3 202.6M1992.3 229.3L1987.3 238.9M2071.3 219.7L2081.8 219.7M2055.8 211.1L2050.7 202.6M2055.8 229.3L2050.7 238.9M1660.3 238.9L1670.3 238.9M1644.2 229.3L1638 219.7M1644.2 248L1638 257.1M1723.7 238.9L1733.7 238.9M1707.6 229.3L1701.4 219.7M1707.6 248L1701.4 257.1M1787.1 238.9L1797.1 238.9M1771 229.3L1764.8 219.7M1771 248L1764.8 257.1M1850.5 238.9L1860.5 238.9M1834.3 229.3L1828.2 219.7M1834.3 248L1828.2 257.1M1913.9 238.9L1923.9 238.9M1897.8 229.3L1891.6 219.7M1897.8 248L1891.6 257.1M1977.3 238.9L1987.3 238.9M1961.2 229.3L1955 219.7M1961.2 248L1955 257.1M2040.7 238.9L2050.7 238.9M2024.6 229.3L2018.4 219.7M2024.6 248L2018.4 257.1M1627.5 257.1L1638 257.1M1690.9 257.1L1701.4 257.1M1675.3 248L1670.3 238.9M1675.3 266.7L1670.3 276.3M1754.3 257.1L1764.8 257.1M1738.8 248L1733.7 238.9M1738.8 266.7L1733.7 276.3M1817.7 257.1L1828.2 257.1M1802.2 248L1797.1 238.9M1802.2 266.7L1797.1 276.3M1881.1 257.1L1891.6 257.1M1865.6 248L1860.5 238.9M1865.6 266.7L1860.5 276.3M1944.5 257.1L1955 257.1M1929 248L1923.9 238.9M1929 266.7L1923.9 276.3M2007.9 257.1L2018.4 257.1M1992.3 248L1987.3 238.9M1992.3 266.7L1987.3 276.3M2071.3 257.1L2081.8 257.1M2055.8 248L2050.7 238.9M2055.8 266.7L2050.7 276.3M1660.3 276.3L1670.3 276.3M1644.2 266.7L1638 257.1M1644.2 285.9L1638 295.5M1723.7 276.3L1733.7 276.3M1707.6 266.7L1701.4 257.1M1707.6 285.9L1701.4 295.5M1787.1 276.3L1797.1 276.3M1771 266.7L1764.8 257.1M1771 285.9L1764.8 295.5M1850.5 276.3L1860.5 276.3M1834.3 266.7L1828.2 257.1M1834.3 285.9L1828.2 295.5M1913.9 276.3L1923.9 276.3M1897.8 266.7L1891.6 257.1M1897.8 285.9L1891.6 295.5M1977.3 276.3L1987.3 276.3M1961.2 266.7L1955 257.1M1961.2 285.9L1955 295.5M2040.7 276.3L2050.7 276.3M2024.6 266.7L2018.4 257.1M2024.6 285.9L2018.4 295.5M1627.5 295.5L1638 295.5M1690.9 295.5L1701.4 295.5M1675.3 285.9L1670.3 276.3M1675.3 303.6L1670.3 311.6M1754.3 295.5L1764.8 295.5M1738.8 285.9L1733.7 276.3M1738.8 303.6L1733.7 311.6M1817.7 295.5L1828.2 295.5M1802.2 285.9L1797.1 276.3M1802.2 303.6L1797.1 311.6M1881.1 295.5L1891.6 295.5M1865.6 285.9L1860.5 276.3M1865.6 303.6L1860.5 311.6M1944.5 295.5L1955 295.5M1929 285.9L1923.9 276.3M1929 303.6L1923.9 311.6M2007.9 295.5L2018.4 295.5M1992.3 285.9L1987.3 276.3M1992.3 303.6L1987.3 311.6M2071.3 295.5L2081.8 295.5M2055.8 285.9L2050.7 276.3M2055.8 303.6L2050.7 311.6M1661.8 311.6L1670.3 311.6M1645.7 303.6L1638 295.5M1725.2 311.6L1733.7 311.6M1709.1 303.6L1701.4 295.5M1788.6 311.6L1797.1 311.6M1772.5 303.6L1764.8 295.5M1852 311.6L1860.5 311.6M1835.8 303.6L1828.2 295.5M1915.4 311.6L1923.9 311.6M1899.2 303.6L1891.6 295.5M1978.8 311.6L1987.3 311.6M1962.7 303.6L1955 295.5M2042.2 311.6L2050.7 311.6M2026.1 303.6L2018.4 295.5" stroke="#f0ee34" stroke-width="2.6" fill="none"/>
<path d="M1843.5 202.6L1852 202.6M1843.5 202.6L1835.8 211.1M1870.6 219.7L1881.1 219.7M1870.6 219.7L1865.6 211.1M1870.6 219.7L1865.6 229.3M1840.5 238.9L1850.5 238.9M1840.5 238.9L1834.3 229.3M1840.5 238.9L1834.3 248M1870.6 257.1L1881.1 257.1M1870.6 257.1L1865.6 248M1870.6 257.1L1865.6 266.7M1840.5 276.3L1850.5 276.3M1840.5 276.3L1834.3 266.7M1840.5 276.3L1834.3 285.9M1870.6 295.5L1881.1 295.5M1870.6 295.5L1865.6 285.9M1870.6 295.5L1865.6 303.6M1843.5 311.6L1852 311.6M1843.5 311.6L1835.8 303.6" stroke="#8adbe6" stroke-width="2.6" fill="none"/>
<g fill="url(#gB)"><circle cx="1653.3" cy="202.6" r="4.9"/><circle cx="1716.7" cy="202.6" r="4.9"/><circle cx="1780.1" cy="202.6" r="4.9"/><circle cx="1906.9" cy="202.6" r="4.9"/><circle cx="1970.3" cy="202.6" r="4.9"/><circle cx="2033.7" cy="202.6" r="4.9"/><circle cx="1617" cy="219.7" r="4.9"/><circle cx="1680.4" cy="219.7" r="4.9"/><circle cx="1743.8" cy="219.7" r="4.9"/><circle cx="1807.2" cy="219.7" r="4.9"/><circle cx="1934" cy="219.7" r="4.9"/><circle cx="1997.4" cy="219.7" r="4.9"/><circle cx="2060.8" cy="219.7" r="4.9"/><circle cx="1650.3" cy="238.9" r="4.9"/><circle cx="1713.7" cy="238.9" r="4.9"/><circle cx="1777.1" cy="238.9" r="4.9"/><circle cx="1903.9" cy="238.9" r="4.9"/><circle cx="1967.3" cy="238.9" r="4.9"/><circle cx="2030.7" cy="238.9" r="4.9"/><circle cx="1617" cy="257.1" r="4.9"/><circle cx="1680.4" cy="257.1" r="4.9"/><circle cx="1743.8" cy="257.1" r="4.9"/><circle cx="1807.2" cy="257.1" r="4.9"/><circle cx="1934" cy="257.1" r="4.9"/><circle cx="1997.4" cy="257.1" r="4.9"/><circle cx="2060.8" cy="257.1" r="4.9"/><circle cx="1650.3" cy="276.3" r="4.9"/><circle cx="1713.7" cy="276.3" r="4.9"/><circle cx="1777.1" cy="276.3" r="4.9"/><circle cx="1903.9" cy="276.3" r="4.9"/><circle cx="1967.3" cy="276.3" r="4.9"/><circle cx="2030.7" cy="276.3" r="4.9"/><circle cx="1617" cy="295.5" r="4.9"/><circle cx="1680.4" cy="295.5" r="4.9"/><circle cx="1743.8" cy="295.5" r="4.9"/><circle cx="1807.2" cy="295.5" r="4.9"/><circle cx="1934" cy="295.5" r="4.9"/><circle cx="1997.4" cy="295.5" r="4.9"/><circle cx="2060.8" cy="295.5" r="4.9"/><circle cx="1653.3" cy="311.6" r="4.9"/><circle cx="1716.7" cy="311.6" r="4.9"/><circle cx="1780.1" cy="311.6" r="4.9"/><circle cx="1906.9" cy="311.6" r="4.9"/><circle cx="1970.3" cy="311.6" r="4.9"/><circle cx="2033.7" cy="311.6" r="4.9"/></g>
<g fill="url(#gY)"><circle cx="1670.3" cy="202.6" r="4.6"/><circle cx="1733.7" cy="202.6" r="4.6"/><circle cx="1797.1" cy="202.6" r="4.6"/><circle cx="1860.5" cy="202.6" r="4.6"/><circle cx="1923.9" cy="202.6" r="4.6"/><circle cx="1987.3" cy="202.6" r="4.6"/><circle cx="2050.7" cy="202.6" r="4.6"/><circle cx="1638" cy="219.7" r="4.6"/><circle cx="1701.4" cy="219.7" r="4.6"/><circle cx="1764.8" cy="219.7" r="4.6"/><circle cx="1828.2" cy="219.7" r="4.6"/><circle cx="1891.6" cy="219.7" r="4.6"/><circle cx="1955" cy="219.7" r="4.6"/><circle cx="2018.4" cy="219.7" r="4.6"/><circle cx="2081.8" cy="219.7" r="4.6"/><circle cx="1670.3" cy="238.9" r="4.6"/><circle cx="1733.7" cy="238.9" r="4.6"/><circle cx="1797.1" cy="238.9" r="4.6"/><circle cx="1860.5" cy="238.9" r="4.6"/><circle cx="1923.9" cy="238.9" r="4.6"/><circle cx="1987.3" cy="238.9" r="4.6"/><circle cx="2050.7" cy="238.9" r="4.6"/><circle cx="1638" cy="257.1" r="4.6"/><circle cx="1701.4" cy="257.1" r="4.6"/><circle cx="1764.8" cy="257.1" r="4.6"/><circle cx="1828.2" cy="257.1" r="4.6"/><circle cx="1891.6" cy="257.1" r="4.6"/><circle cx="1955" cy="257.1" r="4.6"/><circle cx="2018.4" cy="257.1" r="4.6"/><circle cx="2081.8" cy="257.1" r="4.6"/><circle cx="1670.3" cy="276.3" r="4.6"/><circle cx="1733.7" cy="276.3" r="4.6"/><circle cx="1797.1" cy="276.3" r="4.6"/><circle cx="1860.5" cy="276.3" r="4.6"/><circle cx="1923.9" cy="276.3" r="4.6"/><circle cx="1987.3" cy="276.3" r="4.6"/><circle cx="2050.7" cy="276.3" r="4.6"/><circle cx="1638" cy="295.5" r="4.6"/><circle cx="1701.4" cy="295.5" r="4.6"/><circle cx="1764.8" cy="295.5" r="4.6"/><circle cx="1828.2" cy="295.5" r="4.6"/><circle cx="1891.6" cy="295.5" r="4.6"/><circle cx="1955" cy="295.5" r="4.6"/><circle cx="2018.4" cy="295.5" r="4.6"/><circle cx="2081.8" cy="295.5" r="4.6"/><circle cx="1670.3" cy="311.6" r="4.6"/><circle cx="1733.7" cy="311.6" r="4.6"/><circle cx="1797.1" cy="311.6" r="4.6"/><circle cx="1860.5" cy="311.6" r="4.6"/><circle cx="1923.9" cy="311.6" r="4.6"/><circle cx="1987.3" cy="311.6" r="4.6"/><circle cx="2050.7" cy="311.6" r="4.6"/></g>
<g fill="url(#gC)"><circle cx="1843.5" cy="202.6" r="4.9"/><circle cx="1870.6" cy="219.7" r="4.9"/><circle cx="1840.5" cy="238.9" r="4.9"/><circle cx="1870.6" cy="257.1" r="4.9"/><circle cx="1840.5" cy="276.3" r="4.9"/><circle cx="1870.6" cy="295.5" r="4.9"/><circle cx="1843.5" cy="311.6" r="4.9"/></g>
</g>
<rect x="1657.8" y="194" width="66.0" height="133.2" fill="#bcbcbc" style="mix-blend-mode:multiply"/>
<rect x="1978.9" y="195" width="66.0" height="133.39999999999998" fill="#bcbcbc" style="mix-blend-mode:multiply"/>
<ellipse cx="1753.1" cy="239.9" rx="11" ry="15" fill="url(#bg8)"/>
<ellipse cx="1767.2" cy="241.9" rx="9" ry="7" fill="url(#bg8)"/>
<ellipse cx="1745" cy="226" rx="6" ry="5" fill="url(#bg8)"/>
<ellipse cx="1745" cy="253" rx="5" ry="6" fill="url(#bg8)"/>
<ellipse cx="1755.1" cy="274.3" rx="11" ry="14" fill="url(#bg1)"/>
<ellipse cx="1769.2" cy="274.3" rx="8" ry="6" fill="url(#bg1)"/>
<ellipse cx="1747" cy="287" rx="5" ry="6" fill="url(#bg1)"/>
<ellipse cx="1747" cy="262" rx="5" ry="4" fill="url(#bg1)"/>
<ellipse cx="1786.4" cy="238.9" rx="5" ry="7" fill="url(#bg8)"/>
<ellipse cx="1776.3" cy="276.3" rx="5" ry="7" fill="url(#bg8)"/>
<ellipse cx="1777.3" cy="238.9" rx="3" ry="7" fill="url(#bg1)"/>
<ellipse cx="1786.4" cy="276.3" rx="4" ry="6" fill="url(#bg1)"/>
<ellipse cx="1731.9" cy="204.6" rx="4" ry="4" fill="url(#bg8)"/>
<ellipse cx="1742" cy="211.6" rx="4" ry="5" fill="url(#bg8)"/>
<ellipse cx="1768.2" cy="215.7" rx="3" ry="3" fill="url(#bg8)"/>
<ellipse cx="1739" cy="262" rx="3" ry="3" fill="url(#bg8)"/>
<ellipse cx="1769.2" cy="264" rx="3" ry="3" fill="url(#bg8)"/>
<ellipse cx="1743" cy="296.5" rx="6" ry="3" fill="url(#bg8)"/>
<ellipse cx="1805.6" cy="288.4" rx="3" ry="4" fill="url(#bg8)"/>
<ellipse cx="1809.6" cy="302.6" rx="3" ry="3" fill="url(#bg8)"/>
<ellipse cx="1743" cy="217.7" rx="3" ry="3" fill="url(#bg1)"/>
<ellipse cx="1743" cy="257" rx="3" ry="3" fill="url(#bg1)"/>
<ellipse cx="1767.2" cy="300.6" rx="2.5" ry="2.5" fill="url(#bg1)"/>
<ellipse cx="1807.6" cy="215.7" rx="3" ry="3" fill="url(#bg1)"/>
<ellipse cx="1745" cy="309" rx="3" ry="3" fill="url(#bg1)"/>
<ellipse cx="1732" cy="311" rx="3" ry="3" fill="url(#bg1)"/>
<ellipse cx="1832.8" cy="205.6" rx="5" ry="4" fill="url(#bg1)"/>
<ellipse cx="1842" cy="205.6" rx="1.8" ry="6" fill="url(#bg8)"/>
<ellipse cx="1848" cy="205.6" rx="4" ry="3.5" fill="url(#bg1)"/>
<ellipse cx="1833.9" cy="309.6" rx="5" ry="4" fill="url(#bg8)"/>
<ellipse cx="1842" cy="308.6" rx="2" ry="5" fill="url(#bg1)"/>
<ellipse cx="1849" cy="308.6" rx="3.5" ry="3.5" fill="url(#bg8)"/>
<clipPath id="mc7"><rect x="1657.8" y="304.7" width="387.10000000000014" height="193.3"/></clipPath>
<g clip-path="url(#mc7)">
<path d="M1623 343.2L1651.3 357.3M1686.4 343.2L1714.7 357.3M1749.8 343.2L1778.1 357.3M1813.2 343.2L1841.5 357.3M1876.6 343.2L1904.9 357.3M1940 343.2L1968.3 357.3M2003.4 343.2L2031.7 357.3M1655.4 457.3L1682.4 442.1M1718.8 457.3L1745.8 442.1M1782.2 457.3L1809.2 442.1M1845.6 457.3L1872.6 442.1M1909 457.3L1936 442.1M1972.4 457.3L1999.4 442.1M2035.8 457.3L2062.8 442.1" stroke="#2838e0" stroke-width="2.0" fill="none"/>
<path d="M1623 343.2L1631.5 343.2M1686.4 343.2L1694.9 343.2M1686.4 343.2L1678.8 350.2M1749.8 343.2L1758.3 343.2M1749.8 343.2L1742.2 350.2M1813.2 343.2L1821.7 343.2M1813.2 343.2L1805.7 350.2M1940 343.2L1948.5 343.2M1940 343.2L1932.5 350.2M2003.4 343.2L2011.9 343.2M2003.4 343.2L1995.8 350.2M2066.8 343.2L2075.3 343.2M2066.8 343.2L2059.2 350.2M1651.3 357.3L1661.3 357.3M1651.3 357.3L1645.7 350.2M1651.3 357.3L1646.2 365.9M1714.7 357.3L1724.7 357.3M1714.7 357.3L1709.1 350.2M1714.7 357.3L1709.6 365.9M1778.1 357.3L1788.1 357.3M1778.1 357.3L1772.5 350.2M1778.1 357.3L1773 365.9M1904.9 357.3L1914.9 357.3M1904.9 357.3L1899.2 350.2M1904.9 357.3L1899.8 365.9M1968.3 357.3L1978.3 357.3M1968.3 357.3L1962.7 350.2M1968.3 357.3L1963.2 365.9M2031.7 357.3L2041.7 357.3M2031.7 357.3L2026.1 350.2M2031.7 357.3L2026.6 365.9M1620 374.5L1630.5 374.5M1683.4 374.5L1693.9 374.5M1683.4 374.5L1677.3 365.9M1683.4 374.5L1678.3 383.1M1746.8 374.5L1757.3 374.5M1746.8 374.5L1740.8 365.9M1746.8 374.5L1741.8 383.1M1810.2 374.5L1820.7 374.5M1810.2 374.5L1804.2 365.9M1810.2 374.5L1805.2 383.1M1937 374.5L1947.5 374.5M1937 374.5L1931 365.9M1937 374.5L1932 383.1M2000.4 374.5L2010.9 374.5M2000.4 374.5L1994.3 365.9M2000.4 374.5L1995.3 383.1M2063.8 374.5L2074.3 374.5M2063.8 374.5L2057.8 365.9M2063.8 374.5L2058.8 383.1M1652.3 391.6L1662.8 391.6M1652.3 391.6L1646.7 383.1M1652.3 391.6L1646.7 399.7M1715.7 391.6L1726.2 391.6M1715.7 391.6L1710.1 383.1M1715.7 391.6L1710.1 399.7M1779.1 391.6L1789.6 391.6M1779.1 391.6L1773.5 383.1M1779.1 391.6L1773.5 399.7M1905.9 391.6L1916.4 391.6M1905.9 391.6L1900.2 383.1M1905.9 391.6L1900.2 399.7M1969.3 391.6L1979.8 391.6M1969.3 391.6L1963.7 383.1M1969.3 391.6L1963.7 399.7M2032.7 391.6L2043.2 391.6M2032.7 391.6L2027.1 383.1M2032.7 391.6L2027.1 399.7M1620 407.8L1630.5 407.8M1683.4 407.8L1693.9 407.8M1683.4 407.8L1678.3 399.7M1683.4 407.8L1678.3 416.4M1746.8 407.8L1757.3 407.8M1746.8 407.8L1741.8 399.7M1746.8 407.8L1741.8 416.4M1810.2 407.8L1820.7 407.8M1810.2 407.8L1805.2 399.7M1810.2 407.8L1805.2 416.4M1937 407.8L1947.5 407.8M1937 407.8L1932 399.7M1937 407.8L1932 416.4M2000.4 407.8L2010.9 407.8M2000.4 407.8L1995.3 399.7M2000.4 407.8L1995.3 416.4M2063.8 407.8L2074.3 407.8M2063.8 407.8L2058.8 399.7M2063.8 407.8L2058.8 416.4M1652.3 425L1662.8 425M1652.3 425L1646.7 416.4M1652.3 425L1646.2 433.6M1715.7 425L1726.2 425M1715.7 425L1710.1 416.4M1715.7 425L1709.6 433.6M1779.1 425L1789.6 425M1779.1 425L1773.5 416.4M1779.1 425L1773 433.6M1905.9 425L1916.4 425M1905.9 425L1900.2 416.4M1905.9 425L1899.8 433.6M1969.3 425L1979.8 425M1969.3 425L1963.7 416.4M1969.3 425L1963.2 433.6M2032.7 425L2043.2 425M2032.7 425L2027.1 416.4M2032.7 425L2026.6 433.6M1619 442.1L1629.5 442.1M1682.4 442.1L1692.9 442.1M1682.4 442.1L1677.8 433.6M1682.4 442.1L1677.4 449.7M1745.8 442.1L1756.3 442.1M1745.8 442.1L1741.2 433.6M1745.8 442.1L1740.8 449.7M1809.2 442.1L1819.7 442.1M1809.2 442.1L1804.7 433.6M1809.2 442.1L1804.2 449.7M1936 442.1L1946.5 442.1M1936 442.1L1931.5 433.6M1936 442.1L1931 449.7M1999.4 442.1L2009.9 442.1M1999.4 442.1L1994.8 433.6M1999.4 442.1L1994.4 449.7M2062.8 442.1L2073.3 442.1M2062.8 442.1L2058.2 433.6M2062.8 442.1L2057.8 449.7M1655.4 457.3L1663.9 457.3M1655.4 457.3L1647.7 449.7M1718.8 457.3L1727.3 457.3M1718.8 457.3L1711.1 449.7M1782.2 457.3L1790.7 457.3M1782.2 457.3L1774.5 449.7M1909 457.3L1917.5 457.3M1909 457.3L1901.3 449.7M1972.4 457.3L1980.9 457.3M1972.4 457.3L1964.7 449.7M2035.8 457.3L2044.3 457.3M2035.8 457.3L2028.1 449.7" stroke="#2b3fe4" stroke-width="2.5" fill="none"/>
<path d="M1631.5 343.2L1640 343.2M1694.9 343.2L1703.4 343.2M1678.8 350.2L1671.3 357.3M1758.3 343.2L1766.8 343.2M1742.2 350.2L1734.7 357.3M1821.7 343.2L1830.2 343.2M1805.7 350.2L1798.1 357.3M1885.1 343.2L1893.6 343.2M1869.1 350.2L1861.5 357.3M1948.5 343.2L1957 343.2M1932.5 350.2L1924.9 357.3M2011.9 343.2L2020.4 343.2M1995.8 350.2L1988.3 357.3M2075.3 343.2L2083.8 343.2M2059.2 350.2L2051.7 357.3M1661.3 357.3L1671.3 357.3M1645.7 350.2L1640 343.2M1646.2 365.9L1641 374.5M1724.7 357.3L1734.7 357.3M1709.1 350.2L1703.4 343.2M1709.6 365.9L1704.4 374.5M1788.1 357.3L1798.1 357.3M1772.5 350.2L1766.8 343.2M1773 365.9L1767.8 374.5M1851.5 357.3L1861.5 357.3M1835.8 350.2L1830.2 343.2M1836.3 365.9L1831.2 374.5M1914.9 357.3L1924.9 357.3M1899.2 350.2L1893.6 343.2M1899.8 365.9L1894.6 374.5M1978.3 357.3L1988.3 357.3M1962.7 350.2L1957 343.2M1963.2 365.9L1958 374.5M2041.7 357.3L2051.7 357.3M2026.1 350.2L2020.4 343.2M2026.6 365.9L2021.4 374.5M1630.5 374.5L1641 374.5M1693.9 374.5L1704.4 374.5M1677.3 365.9L1671.3 357.3M1678.3 383.1L1673.3 391.6M1757.3 374.5L1767.8 374.5M1740.8 365.9L1734.7 357.3M1741.8 383.1L1736.7 391.6M1820.7 374.5L1831.2 374.5M1804.2 365.9L1798.1 357.3M1805.2 383.1L1800.1 391.6M1884.1 374.5L1894.6 374.5M1867.6 365.9L1861.5 357.3M1868.6 383.1L1863.5 391.6M1947.5 374.5L1958 374.5M1931 365.9L1924.9 357.3M1932 383.1L1926.9 391.6M2010.9 374.5L2021.4 374.5M1994.3 365.9L1988.3 357.3M1995.3 383.1L1990.3 391.6M2074.3 374.5L2084.8 374.5M2057.8 365.9L2051.7 357.3M2058.8 383.1L2053.7 391.6M1662.8 391.6L1673.3 391.6M1646.7 383.1L1641 374.5M1646.7 399.7L1641 407.8M1726.2 391.6L1736.7 391.6M1710.1 383.1L1704.4 374.5M1710.1 399.7L1704.4 407.8M1789.6 391.6L1800.1 391.6M1773.5 383.1L1767.8 374.5M1773.5 399.7L1767.8 407.8M1853 391.6L1863.5 391.6M1836.8 383.1L1831.2 374.5M1836.8 399.7L1831.2 407.8M1916.4 391.6L1926.9 391.6M1900.2 383.1L1894.6 374.5M1900.2 399.7L1894.6 407.8M1979.8 391.6L1990.3 391.6M1963.7 383.1L1958 374.5M1963.7 399.7L1958 407.8M2043.2 391.6L2053.7 391.6M2027.1 383.1L2021.4 374.5M2027.1 399.7L2021.4 407.8M1630.5 407.8L1641 407.8M1693.9 407.8L1704.4 407.8M1678.3 399.7L1673.3 391.6M1678.3 416.4L1673.3 425M1757.3 407.8L1767.8 407.8M1741.8 399.7L1736.7 391.6M1741.8 416.4L1736.7 425M1820.7 407.8L1831.2 407.8M1805.2 399.7L1800.1 391.6M1805.2 416.4L1800.1 425M1884.1 407.8L1894.6 407.8M1868.6 399.7L1863.5 391.6M1868.6 416.4L1863.5 425M1947.5 407.8L1958 407.8M1932 399.7L1926.9 391.6M1932 416.4L1926.9 425M2010.9 407.8L2021.4 407.8M1995.3 399.7L1990.3 391.6M1995.3 416.4L1990.3 425M2074.3 407.8L2084.8 407.8M2058.8 399.7L2053.7 391.6M2058.8 416.4L2053.7 425M1662.8 425L1673.3 425M1646.7 416.4L1641 407.8M1646.2 433.6L1640 442.1M1726.2 425L1736.7 425M1710.1 416.4L1704.4 407.8M1709.6 433.6L1703.4 442.1M1789.6 425L1800.1 425M1773.5 416.4L1767.8 407.8M1773 433.6L1766.8 442.1M1853 425L1863.5 425M1836.8 416.4L1831.2 407.8M1836.3 433.6L1830.2 442.1M1916.4 425L1926.9 425M1900.2 416.4L1894.6 407.8M1899.8 433.6L1893.6 442.1M1979.8 425L1990.3 425M1963.7 416.4L1958 407.8M1963.2 433.6L1957 442.1M2043.2 425L2053.7 425M2027.1 416.4L2021.4 407.8M2026.6 433.6L2020.4 442.1M1629.5 442.1L1640 442.1M1692.9 442.1L1703.4 442.1M1677.8 433.6L1673.3 425M1677.4 449.7L1672.4 457.3M1756.3 442.1L1766.8 442.1M1741.2 433.6L1736.7 425M1740.8 449.7L1735.8 457.3M1819.7 442.1L1830.2 442.1M1804.7 433.6L1800.1 425M1804.2 449.7L1799.2 457.3M1883.1 442.1L1893.6 442.1M1868.1 433.6L1863.5 425M1867.6 449.7L1862.6 457.3M1946.5 442.1L1957 442.1M1931.5 433.6L1926.9 425M1931 449.7L1926 457.3M2009.9 442.1L2020.4 442.1M1994.8 433.6L1990.3 425M1994.4 449.7L1989.4 457.3M2073.3 442.1L2083.8 442.1M2058.2 433.6L2053.7 425M2057.8 449.7L2052.8 457.3M1663.9 457.3L1672.4 457.3M1647.7 449.7L1640 442.1M1727.3 457.3L1735.8 457.3M1711.1 449.7L1703.4 442.1M1790.7 457.3L1799.2 457.3M1774.5 449.7L1766.8 442.1M1854.1 457.3L1862.6 457.3M1837.9 449.7L1830.2 442.1M1917.5 457.3L1926 457.3M1901.3 449.7L1893.6 442.1M1980.9 457.3L1989.4 457.3M1964.7 449.7L1957 442.1M2044.3 457.3L2052.8 457.3M2028.1 449.7L2020.4 442.1" stroke="#f0ee34" stroke-width="2.5" fill="none"/>
<path d="M1876.6 343.2L1885.1 343.2M1876.6 343.2L1869.1 350.2M1841.5 357.3L1851.5 357.3M1841.5 357.3L1835.8 350.2M1841.5 357.3L1836.3 365.9M1873.6 374.5L1884.1 374.5M1873.6 374.5L1867.6 365.9M1873.6 374.5L1868.6 383.1M1842.5 391.6L1853 391.6M1842.5 391.6L1836.8 383.1M1842.5 391.6L1836.8 399.7M1873.6 407.8L1884.1 407.8M1873.6 407.8L1868.6 399.7M1873.6 407.8L1868.6 416.4M1842.5 425L1853 425M1842.5 425L1836.8 416.4M1842.5 425L1836.3 433.6M1872.6 442.1L1883.1 442.1M1872.6 442.1L1868.1 433.6M1872.6 442.1L1867.6 449.7M1845.6 457.3L1854.1 457.3M1845.6 457.3L1837.9 449.7" stroke="#8adbe6" stroke-width="2.5" fill="none"/>
<g fill="url(#gB)"><circle cx="1623" cy="343.2" r="4.6"/><circle cx="1686.4" cy="343.2" r="4.6"/><circle cx="1749.8" cy="343.2" r="4.6"/><circle cx="1813.2" cy="343.2" r="4.6"/><circle cx="1940" cy="343.2" r="4.6"/><circle cx="2003.4" cy="343.2" r="4.6"/><circle cx="2066.8" cy="343.2" r="4.6"/><circle cx="1651.3" cy="357.3" r="4.6"/><circle cx="1714.7" cy="357.3" r="4.6"/><circle cx="1778.1" cy="357.3" r="4.6"/><circle cx="1904.9" cy="357.3" r="4.6"/><circle cx="1968.3" cy="357.3" r="4.6"/><circle cx="2031.7" cy="357.3" r="4.6"/><circle cx="1620" cy="374.5" r="4.6"/><circle cx="1683.4" cy="374.5" r="4.6"/><circle cx="1746.8" cy="374.5" r="4.6"/><circle cx="1810.2" cy="374.5" r="4.6"/><circle cx="1937" cy="374.5" r="4.6"/><circle cx="2000.4" cy="374.5" r="4.6"/><circle cx="2063.8" cy="374.5" r="4.6"/><circle cx="1652.3" cy="391.6" r="4.6"/><circle cx="1715.7" cy="391.6" r="4.6"/><circle cx="1779.1" cy="391.6" r="4.6"/><circle cx="1905.9" cy="391.6" r="4.6"/><circle cx="1969.3" cy="391.6" r="4.6"/><circle cx="2032.7" cy="391.6" r="4.6"/><circle cx="1620" cy="407.8" r="4.6"/><circle cx="1683.4" cy="407.8" r="4.6"/><circle cx="1746.8" cy="407.8" r="4.6"/><circle cx="1810.2" cy="407.8" r="4.6"/><circle cx="1937" cy="407.8" r="4.6"/><circle cx="2000.4" cy="407.8" r="4.6"/><circle cx="2063.8" cy="407.8" r="4.6"/><circle cx="1652.3" cy="425" r="4.6"/><circle cx="1715.7" cy="425" r="4.6"/><circle cx="1779.1" cy="425" r="4.6"/><circle cx="1905.9" cy="425" r="4.6"/><circle cx="1969.3" cy="425" r="4.6"/><circle cx="2032.7" cy="425" r="4.6"/><circle cx="1619" cy="442.1" r="4.6"/><circle cx="1682.4" cy="442.1" r="4.6"/><circle cx="1745.8" cy="442.1" r="4.6"/><circle cx="1809.2" cy="442.1" r="4.6"/><circle cx="1936" cy="442.1" r="4.6"/><circle cx="1999.4" cy="442.1" r="4.6"/><circle cx="2062.8" cy="442.1" r="4.6"/><circle cx="1655.4" cy="457.3" r="4.6"/><circle cx="1718.8" cy="457.3" r="4.6"/><circle cx="1782.2" cy="457.3" r="4.6"/><circle cx="1909" cy="457.3" r="4.6"/><circle cx="1972.4" cy="457.3" r="4.6"/><circle cx="2035.8" cy="457.3" r="4.6"/></g>
<g fill="url(#gY)"><circle cx="1640" cy="343.2" r="4.3"/><circle cx="1703.4" cy="343.2" r="4.3"/><circle cx="1766.8" cy="343.2" r="4.3"/><circle cx="1830.2" cy="343.2" r="4.3"/><circle cx="1893.6" cy="343.2" r="4.3"/><circle cx="1957" cy="343.2" r="4.3"/><circle cx="2020.4" cy="343.2" r="4.3"/><circle cx="2083.8" cy="343.2" r="4.3"/><circle cx="1671.3" cy="357.3" r="4.3"/><circle cx="1734.7" cy="357.3" r="4.3"/><circle cx="1798.1" cy="357.3" r="4.3"/><circle cx="1861.5" cy="357.3" r="4.3"/><circle cx="1924.9" cy="357.3" r="4.3"/><circle cx="1988.3" cy="357.3" r="4.3"/><circle cx="2051.7" cy="357.3" r="4.3"/><circle cx="1641" cy="374.5" r="4.3"/><circle cx="1704.4" cy="374.5" r="4.3"/><circle cx="1767.8" cy="374.5" r="4.3"/><circle cx="1831.2" cy="374.5" r="4.3"/><circle cx="1894.6" cy="374.5" r="4.3"/><circle cx="1958" cy="374.5" r="4.3"/><circle cx="2021.4" cy="374.5" r="4.3"/><circle cx="2084.8" cy="374.5" r="4.3"/><circle cx="1673.3" cy="391.6" r="4.3"/><circle cx="1736.7" cy="391.6" r="4.3"/><circle cx="1800.1" cy="391.6" r="4.3"/><circle cx="1863.5" cy="391.6" r="4.3"/><circle cx="1926.9" cy="391.6" r="4.3"/><circle cx="1990.3" cy="391.6" r="4.3"/><circle cx="2053.7" cy="391.6" r="4.3"/><circle cx="1641" cy="407.8" r="4.3"/><circle cx="1704.4" cy="407.8" r="4.3"/><circle cx="1767.8" cy="407.8" r="4.3"/><circle cx="1831.2" cy="407.8" r="4.3"/><circle cx="1894.6" cy="407.8" r="4.3"/><circle cx="1958" cy="407.8" r="4.3"/><circle cx="2021.4" cy="407.8" r="4.3"/><circle cx="2084.8" cy="407.8" r="4.3"/><circle cx="1673.3" cy="425" r="4.3"/><circle cx="1736.7" cy="425" r="4.3"/><circle cx="1800.1" cy="425" r="4.3"/><circle cx="1863.5" cy="425" r="4.3"/><circle cx="1926.9" cy="425" r="4.3"/><circle cx="1990.3" cy="425" r="4.3"/><circle cx="2053.7" cy="425" r="4.3"/><circle cx="1640" cy="442.1" r="4.3"/><circle cx="1703.4" cy="442.1" r="4.3"/><circle cx="1766.8" cy="442.1" r="4.3"/><circle cx="1830.2" cy="442.1" r="4.3"/><circle cx="1893.6" cy="442.1" r="4.3"/><circle cx="1957" cy="442.1" r="4.3"/><circle cx="2020.4" cy="442.1" r="4.3"/><circle cx="2083.8" cy="442.1" r="4.3"/><circle cx="1672.4" cy="457.3" r="4.3"/><circle cx="1735.8" cy="457.3" r="4.3"/><circle cx="1799.2" cy="457.3" r="4.3"/><circle cx="1862.6" cy="457.3" r="4.3"/><circle cx="1926" cy="457.3" r="4.3"/><circle cx="1989.4" cy="457.3" r="4.3"/><circle cx="2052.8" cy="457.3" r="4.3"/></g>
<g fill="url(#gC)"><circle cx="1876.6" cy="343.2" r="4.6"/><circle cx="1841.5" cy="357.3" r="4.6"/><circle cx="1873.6" cy="374.5" r="4.6"/><circle cx="1842.5" cy="391.6" r="4.6"/><circle cx="1873.6" cy="407.8" r="4.6"/><circle cx="1842.5" cy="425" r="4.6"/><circle cx="1872.6" cy="442.1" r="4.6"/><circle cx="1845.6" cy="457.3" r="4.6"/></g>
</g>
<rect x="1657.8" y="334.7" width="66.0" height="133.3" fill="#bcbcbc" style="mix-blend-mode:multiply"/>
<rect x="1978.9" y="337" width="66.0" height="133" fill="#bcbcbc" style="mix-blend-mode:multiply"/>
<ellipse cx="1739" cy="374.5" rx="5" ry="5" fill="url(#bg2)"/>
<ellipse cx="1748" cy="374.5" rx="5" ry="6" fill="url(#bg3)"/>
<ellipse cx="1756.1" cy="373.5" rx="4" ry="4" fill="url(#bg2)"/>
<ellipse cx="1743" cy="403.8" rx="4" ry="4" fill="url(#bg3)"/>
<ellipse cx="1748" cy="407.8" rx="4" ry="4" fill="url(#bg2)"/>
<ellipse cx="1753.1" cy="415.9" rx="6" ry="7" fill="url(#bg3)"/>
<ellipse cx="1769.2" cy="405.8" rx="3" ry="3" fill="url(#bg3)"/>
<ellipse cx="1771.3" cy="426" rx="6" ry="6" fill="url(#bg3)"/>
<ellipse cx="1779.3" cy="426" rx="5" ry="6" fill="url(#bg2)"/>
<ellipse cx="1788.4" cy="425" rx="5" ry="5" fill="url(#bg3)"/>
<ellipse cx="1750.1" cy="435.1" rx="5" ry="6" fill="url(#bg3)"/>
<ellipse cx="1747" cy="444.1" rx="7" ry="2" fill="url(#bg2)"/>
<ellipse cx="1744" cy="449.2" rx="3" ry="3" fill="url(#bg3)"/>
<ellipse cx="1782.4" cy="452.2" rx="4" ry="4" fill="url(#bg3)"/>
<ellipse cx="1784" cy="457" rx="2" ry="2" fill="url(#bg2)"/>
<ellipse cx="1782.4" cy="464.3" rx="3" ry="3" fill="url(#bg3)"/>
<ellipse cx="1808.6" cy="436.1" rx="3" ry="3" fill="url(#bg2)"/>
<ellipse cx="1814.7" cy="450.2" rx="4" ry="4" fill="url(#bg2)"/>
<ellipse cx="1804.6" cy="446.2" rx="2" ry="2" fill="url(#bg3)"/>
<ellipse cx="1817.7" cy="441.1" rx="2" ry="2" fill="url(#bg3)"/>
<ellipse cx="1832.9" cy="455.3" rx="6" ry="6" fill="url(#bg2)"/>
<ellipse cx="1845" cy="455.3" rx="3" ry="8" fill="url(#bg3)"/>
<ellipse cx="1853" cy="455.3" rx="4" ry="4" fill="url(#bg2)"/>
<ellipse cx="1842" cy="424" rx="2.4" ry="2.4" fill="url(#bg3)"/>
<ellipse cx="1779.3" cy="385.6" rx="1.6" ry="1.6" fill="url(#bg3)"/>
<clipPath id="mc8"><rect x="1656.6" y="445.4" width="388.3000000000002" height="193.30000000000007"/></clipPath>
<g clip-path="url(#mc8)">
<path d="M1651.9 481.5L1679.4 495.6M1715.7 481.5L1743.2 495.6M1779.5 481.5L1807 495.6M1843.3 481.5L1870.8 495.6M1907.1 481.5L1934.6 495.6M1970.9 481.5L1998.4 495.6M2034.7 481.5L2062.2 495.6M1651.9 599.6L1680.4 586.5M1715.7 599.6L1744.2 586.5M1779.5 599.6L1808 586.5M1843.3 599.6L1871.8 586.5M1907.1 599.6L1935.6 586.5M1970.9 599.6L1999.4 586.5M2034.7 599.6L2063.2 586.5" stroke="#2838e0" stroke-width="1.9" fill="none"/>
<path d="M1651.9 481.5L1660.4 481.5M1651.9 481.5L1644.2 488.6M1715.7 481.5L1724.2 481.5M1715.7 481.5L1708.1 488.6M1779.5 481.5L1788 481.5M1779.5 481.5L1771.8 488.6M1907.1 481.5L1915.6 481.5M1907.1 481.5L1899.5 488.6M1970.9 481.5L1979.4 481.5M1970.9 481.5L1963.2 488.6M2034.7 481.5L2043.2 481.5M2034.7 481.5L2027.1 488.6M1615.6 495.6L1626.1 495.6M1679.4 495.6L1689.9 495.6M1679.4 495.6L1674.2 488.6M1679.4 495.6L1674.7 503.2M1743.2 495.6L1753.7 495.6M1743.2 495.6L1738 488.6M1743.2 495.6L1738.5 503.2M1807 495.6L1817.5 495.6M1807 495.6L1801.8 488.6M1807 495.6L1802.2 503.2M1934.6 495.6L1945.1 495.6M1934.6 495.6L1929.3 488.6M1934.6 495.6L1929.8 503.2M1998.4 495.6L2008.9 495.6M1998.4 495.6L1993.2 488.6M1998.4 495.6L1993.7 503.2M2062.2 495.6L2072.7 495.6M2062.2 495.6L2056.9 488.6M2062.2 495.6L2057.4 503.2M1649.9 510.8L1659.9 510.8M1649.9 510.8L1643.2 503.2M1649.9 510.8L1643.8 518.4M1713.7 510.8L1723.7 510.8M1713.7 510.8L1707.1 503.2M1713.7 510.8L1707.6 518.4M1777.5 510.8L1787.5 510.8M1777.5 510.8L1770.8 503.2M1777.5 510.8L1771.3 518.4M1905.1 510.8L1915.1 510.8M1905.1 510.8L1898.5 503.2M1905.1 510.8L1899 518.4M1968.9 510.8L1978.9 510.8M1968.9 510.8L1962.2 503.2M1968.9 510.8L1962.8 518.4M2032.7 510.8L2042.7 510.8M2032.7 510.8L2026.1 503.2M2032.7 510.8L2026.6 518.4M1616.6 525.9L1627.1 525.9M1680.4 525.9L1690.9 525.9M1680.4 525.9L1675.2 518.4M1680.4 525.9L1675.2 533.5M1744.2 525.9L1754.7 525.9M1744.2 525.9L1739 518.4M1744.2 525.9L1739 533.5M1808 525.9L1818.5 525.9M1808 525.9L1802.8 518.4M1808 525.9L1802.8 533.5M1935.6 525.9L1946.1 525.9M1935.6 525.9L1930.3 518.4M1935.6 525.9L1930.3 533.5M1999.4 525.9L2009.9 525.9M1999.4 525.9L1994.2 518.4M1999.4 525.9L1994.2 533.5M2063.2 525.9L2073.7 525.9M2063.2 525.9L2057.9 518.4M2063.2 525.9L2057.9 533.5M1649.9 541.1L1659.9 541.1M1649.9 541.1L1643.8 533.5M1649.9 541.1L1643.8 548.2M1713.7 541.1L1723.7 541.1M1713.7 541.1L1707.6 533.5M1713.7 541.1L1707.6 548.2M1777.5 541.1L1787.5 541.1M1777.5 541.1L1771.3 533.5M1777.5 541.1L1771.3 548.2M1905.1 541.1L1915.1 541.1M1905.1 541.1L1899 533.5M1905.1 541.1L1899 548.2M1968.9 541.1L1978.9 541.1M1968.9 541.1L1962.8 533.5M1968.9 541.1L1962.8 548.2M2032.7 541.1L2042.7 541.1M2032.7 541.1L2026.6 533.5M2032.7 541.1L2026.6 548.2M1616.6 555.2L1627.1 555.2M1680.4 555.2L1690.9 555.2M1680.4 555.2L1675.2 548.2M1680.4 555.2L1675.2 563.3M1744.2 555.2L1754.7 555.2M1744.2 555.2L1739 548.2M1744.2 555.2L1739 563.3M1808 555.2L1818.5 555.2M1808 555.2L1802.8 548.2M1808 555.2L1802.8 563.3M1935.6 555.2L1946.1 555.2M1935.6 555.2L1930.3 548.2M1935.6 555.2L1930.3 563.3M1999.4 555.2L2009.9 555.2M1999.4 555.2L1994.2 548.2M1999.4 555.2L1994.2 563.3M2063.2 555.2L2073.7 555.2M2063.2 555.2L2057.9 548.2M2063.2 555.2L2057.9 563.3M1649.9 571.4L1659.9 571.4M1649.9 571.4L1643.8 563.3M1649.9 571.4L1643.8 579M1713.7 571.4L1723.7 571.4M1713.7 571.4L1707.6 563.3M1713.7 571.4L1707.6 579M1777.5 571.4L1787.5 571.4M1777.5 571.4L1771.3 563.3M1777.5 571.4L1771.3 579M1905.1 571.4L1915.1 571.4M1905.1 571.4L1899 563.3M1905.1 571.4L1899 579M1968.9 571.4L1978.9 571.4M1968.9 571.4L1962.8 563.3M1968.9 571.4L1962.8 579M2032.7 571.4L2042.7 571.4M2032.7 571.4L2026.6 563.3M2032.7 571.4L2026.6 579M1616.6 586.5L1627.1 586.5M1680.4 586.5L1690.9 586.5M1680.4 586.5L1675.2 579M1680.4 586.5L1674.7 593M1744.2 586.5L1754.7 586.5M1744.2 586.5L1739 579M1744.2 586.5L1738.5 593M1808 586.5L1818.5 586.5M1808 586.5L1802.8 579M1808 586.5L1802.2 593M1935.6 586.5L1946.1 586.5M1935.6 586.5L1930.3 579M1935.6 586.5L1929.8 593M1999.4 586.5L2009.9 586.5M1999.4 586.5L1994.2 579M1999.4 586.5L1993.7 593M2063.2 586.5L2073.7 586.5M2063.2 586.5L2057.9 579M2063.2 586.5L2057.4 593M1651.9 599.6L1660.4 599.6M1651.9 599.6L1644.8 593M1715.7 599.6L1724.2 599.6M1715.7 599.6L1708.6 593M1779.5 599.6L1788 599.6M1779.5 599.6L1772.3 593M1907.1 599.6L1915.6 599.6M1907.1 599.6L1900 593M1970.9 599.6L1979.4 599.6M1970.9 599.6L1963.8 593M2034.7 599.6L2043.2 599.6M2034.7 599.6L2027.6 593" stroke="#2b3fe4" stroke-width="2.4" fill="none"/>
<path d="M1660.4 481.5L1668.9 481.5M1644.2 488.6L1636.6 495.6M1724.2 481.5L1732.7 481.5M1708.1 488.6L1700.4 495.6M1788 481.5L1796.5 481.5M1771.8 488.6L1764.2 495.6M1851.8 481.5L1860.3 481.5M1835.7 488.6L1828 495.6M1915.6 481.5L1924.1 481.5M1899.5 488.6L1891.8 495.6M1979.4 481.5L1987.9 481.5M1963.2 488.6L1955.6 495.6M2043.2 481.5L2051.7 481.5M2027.1 488.6L2019.4 495.6M1626.1 495.6L1636.6 495.6M1689.9 495.6L1700.4 495.6M1674.2 488.6L1668.9 481.5M1674.7 503.2L1669.9 510.8M1753.7 495.6L1764.2 495.6M1738 488.6L1732.7 481.5M1738.5 503.2L1733.7 510.8M1817.5 495.6L1828 495.6M1801.8 488.6L1796.5 481.5M1802.2 503.2L1797.5 510.8M1881.3 495.6L1891.8 495.6M1865.6 488.6L1860.3 481.5M1866.1 503.2L1861.3 510.8M1945.1 495.6L1955.6 495.6M1929.3 488.6L1924.1 481.5M1929.8 503.2L1925.1 510.8M2008.9 495.6L2019.4 495.6M1993.2 488.6L1987.9 481.5M1993.7 503.2L1988.9 510.8M2072.7 495.6L2083.2 495.6M2056.9 488.6L2051.7 481.5M2057.4 503.2L2052.7 510.8M1659.9 510.8L1669.9 510.8M1643.2 503.2L1636.6 495.6M1643.8 518.4L1637.6 525.9M1723.7 510.8L1733.7 510.8M1707.1 503.2L1700.4 495.6M1707.6 518.4L1701.4 525.9M1787.5 510.8L1797.5 510.8M1770.8 503.2L1764.2 495.6M1771.3 518.4L1765.2 525.9M1851.3 510.8L1861.3 510.8M1834.7 503.2L1828 495.6M1835.2 518.4L1829 525.9M1915.1 510.8L1925.1 510.8M1898.5 503.2L1891.8 495.6M1899 518.4L1892.8 525.9M1978.9 510.8L1988.9 510.8M1962.2 503.2L1955.6 495.6M1962.8 518.4L1956.6 525.9M2042.7 510.8L2052.7 510.8M2026.1 503.2L2019.4 495.6M2026.6 518.4L2020.4 525.9M1627.1 525.9L1637.6 525.9M1690.9 525.9L1701.4 525.9M1675.2 518.4L1669.9 510.8M1675.2 533.5L1669.9 541.1M1754.7 525.9L1765.2 525.9M1739 518.4L1733.7 510.8M1739 533.5L1733.7 541.1M1818.5 525.9L1829 525.9M1802.8 518.4L1797.5 510.8M1802.8 533.5L1797.5 541.1M1882.3 525.9L1892.8 525.9M1866.6 518.4L1861.3 510.8M1866.6 533.5L1861.3 541.1M1946.1 525.9L1956.6 525.9M1930.3 518.4L1925.1 510.8M1930.3 533.5L1925.1 541.1M2009.9 525.9L2020.4 525.9M1994.2 518.4L1988.9 510.8M1994.2 533.5L1988.9 541.1M2073.7 525.9L2084.2 525.9M2057.9 518.4L2052.7 510.8M2057.9 533.5L2052.7 541.1M1659.9 541.1L1669.9 541.1M1643.8 533.5L1637.6 525.9M1643.8 548.2L1637.6 555.2M1723.7 541.1L1733.7 541.1M1707.6 533.5L1701.4 525.9M1707.6 548.2L1701.4 555.2M1787.5 541.1L1797.5 541.1M1771.3 533.5L1765.2 525.9M1771.3 548.2L1765.2 555.2M1851.3 541.1L1861.3 541.1M1835.2 533.5L1829 525.9M1835.2 548.2L1829 555.2M1915.1 541.1L1925.1 541.1M1899 533.5L1892.8 525.9M1899 548.2L1892.8 555.2M1978.9 541.1L1988.9 541.1M1962.8 533.5L1956.6 525.9M1962.8 548.2L1956.6 555.2M2042.7 541.1L2052.7 541.1M2026.6 533.5L2020.4 525.9M2026.6 548.2L2020.4 555.2M1627.1 555.2L1637.6 555.2M1690.9 555.2L1701.4 555.2M1675.2 548.2L1669.9 541.1M1675.2 563.3L1669.9 571.4M1754.7 555.2L1765.2 555.2M1739 548.2L1733.7 541.1M1739 563.3L1733.7 571.4M1818.5 555.2L1829 555.2M1802.8 548.2L1797.5 541.1M1802.8 563.3L1797.5 571.4M1882.3 555.2L1892.8 555.2M1866.6 548.2L1861.3 541.1M1866.6 563.3L1861.3 571.4M1946.1 555.2L1956.6 555.2M1930.3 548.2L1925.1 541.1M1930.3 563.3L1925.1 571.4M2009.9 555.2L2020.4 555.2M1994.2 548.2L1988.9 541.1M1994.2 563.3L1988.9 571.4M2073.7 555.2L2084.2 555.2M2057.9 548.2L2052.7 541.1M2057.9 563.3L2052.7 571.4M1659.9 571.4L1669.9 571.4M1643.8 563.3L1637.6 555.2M1643.8 579L1637.6 586.5M1723.7 571.4L1733.7 571.4M1707.6 563.3L1701.4 555.2M1707.6 579L1701.4 586.5M1787.5 571.4L1797.5 571.4M1771.3 563.3L1765.2 555.2M1771.3 579L1765.2 586.5M1851.3 571.4L1861.3 571.4M1835.2 563.3L1829 555.2M1835.2 579L1829 586.5M1915.1 571.4L1925.1 571.4M1899 563.3L1892.8 555.2M1899 579L1892.8 586.5M1978.9 571.4L1988.9 571.4M1962.8 563.3L1956.6 555.2M1962.8 579L1956.6 586.5M2042.7 571.4L2052.7 571.4M2026.6 563.3L2020.4 555.2M2026.6 579L2020.4 586.5M1627.1 586.5L1637.6 586.5M1690.9 586.5L1701.4 586.5M1675.2 579L1669.9 571.4M1674.7 593L1668.9 599.6M1754.7 586.5L1765.2 586.5M1739 579L1733.7 571.4M1738.5 593L1732.7 599.6M1818.5 586.5L1829 586.5M1802.8 579L1797.5 571.4M1802.2 593L1796.5 599.6M1882.3 586.5L1892.8 586.5M1866.6 579L1861.3 571.4M1866.1 593L1860.3 599.6M1946.1 586.5L1956.6 586.5M1930.3 579L1925.1 571.4M1929.8 593L1924.1 599.6M2009.9 586.5L2020.4 586.5M1994.2 579L1988.9 571.4M1993.7 593L1987.9 599.6M2073.7 586.5L2084.2 586.5M2057.9 579L2052.7 571.4M2057.4 593L2051.7 599.6M1660.4 599.6L1668.9 599.6M1644.8 593L1637.6 586.5M1724.2 599.6L1732.7 599.6M1708.6 593L1701.4 586.5M1788 599.6L1796.5 599.6M1772.3 593L1765.2 586.5M1851.8 599.6L1860.3 599.6M1836.2 593L1829 586.5M1915.6 599.6L1924.1 599.6M1900 593L1892.8 586.5M1979.4 599.6L1987.9 599.6M1963.8 593L1956.6 586.5M2043.2 599.6L2051.7 599.6M2027.6 593L2020.4 586.5" stroke="#f0ee34" stroke-width="2.4" fill="none"/>
<path d="M1843.3 481.5L1851.8 481.5M1843.3 481.5L1835.7 488.6M1870.8 495.6L1881.3 495.6M1870.8 495.6L1865.6 488.6M1870.8 495.6L1866.1 503.2M1841.3 510.8L1851.3 510.8M1841.3 510.8L1834.7 503.2M1841.3 510.8L1835.2 518.4M1871.8 525.9L1882.3 525.9M1871.8 525.9L1866.6 518.4M1871.8 525.9L1866.6 533.5M1841.3 541.1L1851.3 541.1M1841.3 541.1L1835.2 533.5M1841.3 541.1L1835.2 548.2M1871.8 555.2L1882.3 555.2M1871.8 555.2L1866.6 548.2M1871.8 555.2L1866.6 563.3M1841.3 571.4L1851.3 571.4M1841.3 571.4L1835.2 563.3M1841.3 571.4L1835.2 579M1871.8 586.5L1882.3 586.5M1871.8 586.5L1866.6 579M1871.8 586.5L1866.1 593M1843.3 599.6L1851.8 599.6M1843.3 599.6L1836.2 593" stroke="#8adbe6" stroke-width="2.4" fill="none"/>
<g fill="url(#gB)"><circle cx="1651.9" cy="481.5" r="4.4"/><circle cx="1715.7" cy="481.5" r="4.4"/><circle cx="1779.5" cy="481.5" r="4.4"/><circle cx="1907.1" cy="481.5" r="4.4"/><circle cx="1970.9" cy="481.5" r="4.4"/><circle cx="2034.7" cy="481.5" r="4.4"/><circle cx="1615.6" cy="495.6" r="4.4"/><circle cx="1679.4" cy="495.6" r="4.4"/><circle cx="1743.2" cy="495.6" r="4.4"/><circle cx="1807" cy="495.6" r="4.4"/><circle cx="1934.6" cy="495.6" r="4.4"/><circle cx="1998.4" cy="495.6" r="4.4"/><circle cx="2062.2" cy="495.6" r="4.4"/><circle cx="1649.9" cy="510.8" r="4.4"/><circle cx="1713.7" cy="510.8" r="4.4"/><circle cx="1777.5" cy="510.8" r="4.4"/><circle cx="1905.1" cy="510.8" r="4.4"/><circle cx="1968.9" cy="510.8" r="4.4"/><circle cx="2032.7" cy="510.8" r="4.4"/><circle cx="1616.6" cy="525.9" r="4.4"/><circle cx="1680.4" cy="525.9" r="4.4"/><circle cx="1744.2" cy="525.9" r="4.4"/><circle cx="1808" cy="525.9" r="4.4"/><circle cx="1935.6" cy="525.9" r="4.4"/><circle cx="1999.4" cy="525.9" r="4.4"/><circle cx="2063.2" cy="525.9" r="4.4"/><circle cx="1649.9" cy="541.1" r="4.4"/><circle cx="1713.7" cy="541.1" r="4.4"/><circle cx="1777.5" cy="541.1" r="4.4"/><circle cx="1905.1" cy="541.1" r="4.4"/><circle cx="1968.9" cy="541.1" r="4.4"/><circle cx="2032.7" cy="541.1" r="4.4"/><circle cx="1616.6" cy="555.2" r="4.4"/><circle cx="1680.4" cy="555.2" r="4.4"/><circle cx="1744.2" cy="555.2" r="4.4"/><circle cx="1808" cy="555.2" r="4.4"/><circle cx="1935.6" cy="555.2" r="4.4"/><circle cx="1999.4" cy="555.2" r="4.4"/><circle cx="2063.2" cy="555.2" r="4.4"/><circle cx="1649.9" cy="571.4" r="4.4"/><circle cx="1713.7" cy="571.4" r="4.4"/><circle cx="1777.5" cy="571.4" r="4.4"/><circle cx="1905.1" cy="571.4" r="4.4"/><circle cx="1968.9" cy="571.4" r="4.4"/><circle cx="2032.7" cy="571.4" r="4.4"/><circle cx="1616.6" cy="586.5" r="4.4"/><circle cx="1680.4" cy="586.5" r="4.4"/><circle cx="1744.2" cy="586.5" r="4.4"/><circle cx="1808" cy="586.5" r="4.4"/><circle cx="1935.6" cy="586.5" r="4.4"/><circle cx="1999.4" cy="586.5" r="4.4"/><circle cx="2063.2" cy="586.5" r="4.4"/><circle cx="1651.9" cy="599.6" r="4.4"/><circle cx="1715.7" cy="599.6" r="4.4"/><circle cx="1779.5" cy="599.6" r="4.4"/><circle cx="1907.1" cy="599.6" r="4.4"/><circle cx="1970.9" cy="599.6" r="4.4"/><circle cx="2034.7" cy="599.6" r="4.4"/></g>
<g fill="url(#gY)"><circle cx="1668.9" cy="481.5" r="4.1"/><circle cx="1732.7" cy="481.5" r="4.1"/><circle cx="1796.5" cy="481.5" r="4.1"/><circle cx="1860.3" cy="481.5" r="4.1"/><circle cx="1924.1" cy="481.5" r="4.1"/><circle cx="1987.9" cy="481.5" r="4.1"/><circle cx="2051.7" cy="481.5" r="4.1"/><circle cx="1636.6" cy="495.6" r="4.1"/><circle cx="1700.4" cy="495.6" r="4.1"/><circle cx="1764.2" cy="495.6" r="4.1"/><circle cx="1828" cy="495.6" r="4.1"/><circle cx="1891.8" cy="495.6" r="4.1"/><circle cx="1955.6" cy="495.6" r="4.1"/><circle cx="2019.4" cy="495.6" r="4.1"/><circle cx="2083.2" cy="495.6" r="4.1"/><circle cx="1669.9" cy="510.8" r="4.1"/><circle cx="1733.7" cy="510.8" r="4.1"/><circle cx="1797.5" cy="510.8" r="4.1"/><circle cx="1861.3" cy="510.8" r="4.1"/><circle cx="1925.1" cy="510.8" r="4.1"/><circle cx="1988.9" cy="510.8" r="4.1"/><circle cx="2052.7" cy="510.8" r="4.1"/><circle cx="1637.6" cy="525.9" r="4.1"/><circle cx="1701.4" cy="525.9" r="4.1"/><circle cx="1765.2" cy="525.9" r="4.1"/><circle cx="1829" cy="525.9" r="4.1"/><circle cx="1892.8" cy="525.9" r="4.1"/><circle cx="1956.6" cy="525.9" r="4.1"/><circle cx="2020.4" cy="525.9" r="4.1"/><circle cx="2084.2" cy="525.9" r="4.1"/><circle cx="1669.9" cy="541.1" r="4.1"/><circle cx="1733.7" cy="541.1" r="4.1"/><circle cx="1797.5" cy="541.1" r="4.1"/><circle cx="1861.3" cy="541.1" r="4.1"/><circle cx="1925.1" cy="541.1" r="4.1"/><circle cx="1988.9" cy="541.1" r="4.1"/><circle cx="2052.7" cy="541.1" r="4.1"/><circle cx="1637.6" cy="555.2" r="4.1"/><circle cx="1701.4" cy="555.2" r="4.1"/><circle cx="1765.2" cy="555.2" r="4.1"/><circle cx="1829" cy="555.2" r="4.1"/><circle cx="1892.8" cy="555.2" r="4.1"/><circle cx="1956.6" cy="555.2" r="4.1"/><circle cx="2020.4" cy="555.2" r="4.1"/><circle cx="2084.2" cy="555.2" r="4.1"/><circle cx="1669.9" cy="571.4" r="4.1"/><circle cx="1733.7" cy="571.4" r="4.1"/><circle cx="1797.5" cy="571.4" r="4.1"/><circle cx="1861.3" cy="571.4" r="4.1"/><circle cx="1925.1" cy="571.4" r="4.1"/><circle cx="1988.9" cy="571.4" r="4.1"/><circle cx="2052.7" cy="571.4" r="4.1"/><circle cx="1637.6" cy="586.5" r="4.1"/><circle cx="1701.4" cy="586.5" r="4.1"/><circle cx="1765.2" cy="586.5" r="4.1"/><circle cx="1829" cy="586.5" r="4.1"/><circle cx="1892.8" cy="586.5" r="4.1"/><circle cx="1956.6" cy="586.5" r="4.1"/><circle cx="2020.4" cy="586.5" r="4.1"/><circle cx="2084.2" cy="586.5" r="4.1"/><circle cx="1668.9" cy="599.6" r="4.1"/><circle cx="1732.7" cy="599.6" r="4.1"/><circle cx="1796.5" cy="599.6" r="4.1"/><circle cx="1860.3" cy="599.6" r="4.1"/><circle cx="1924.1" cy="599.6" r="4.1"/><circle cx="1987.9" cy="599.6" r="4.1"/><circle cx="2051.7" cy="599.6" r="4.1"/></g>
<g fill="url(#gC)"><circle cx="1843.3" cy="481.5" r="4.4"/><circle cx="1870.8" cy="495.6" r="4.4"/><circle cx="1841.3" cy="510.8" r="4.4"/><circle cx="1871.8" cy="525.9" r="4.4"/><circle cx="1841.3" cy="541.1" r="4.4"/><circle cx="1871.8" cy="555.2" r="4.4"/><circle cx="1841.3" cy="571.4" r="4.4"/><circle cx="1871.8" cy="586.5" r="4.4"/><circle cx="1843.3" cy="599.6" r="4.4"/></g>
</g>
<rect x="1656.6" y="475.4" width="66.20000000000005" height="133.30000000000007" fill="#bcbcbc" style="mix-blend-mode:multiply"/>
<rect x="1978.9" y="476.5" width="66.0" height="132.79999999999995" fill="#bcbcbc" style="mix-blend-mode:multiply"/>
<ellipse cx="1750.1" cy="541.1" rx="8" ry="13" fill="url(#bg5)"/>
<ellipse cx="1763.2" cy="541.1" rx="9" ry="6" fill="url(#bg5)"/>
<ellipse cx="1776.3" cy="541.1" rx="4" ry="6" fill="url(#bg10)"/>
<ellipse cx="1784.4" cy="541.1" rx="5" ry="5" fill="url(#bg5)"/>
<ellipse cx="1795.5" cy="542.1" rx="4" ry="4" fill="url(#bg5)"/>
<ellipse cx="1740" cy="520.9" rx="4" ry="4" fill="url(#bg5)"/>
<ellipse cx="1739" cy="529" rx="5" ry="2" fill="url(#bg10)"/>
<ellipse cx="1750" cy="523" rx="5" ry="2" fill="url(#bg10)"/>
<ellipse cx="1740" cy="562.3" rx="4" ry="4" fill="url(#bg5)"/>
<ellipse cx="1739" cy="553" rx="5" ry="2" fill="url(#bg10)"/>
<ellipse cx="1750" cy="559" rx="5" ry="2" fill="url(#bg10)"/>
<ellipse cx="1767.2" cy="521.9" rx="1.6" ry="1.6" fill="url(#bg5)"/>
<ellipse cx="1767.2" cy="561.3" rx="1.6" ry="1.6" fill="url(#bg5)"/>
<ellipse cx="1803.6" cy="522.9" rx="4" ry="4" fill="url(#bg5)"/>
<ellipse cx="1813.7" cy="531" rx="3" ry="3" fill="url(#bg5)"/>
<ellipse cx="1808.6" cy="526" rx="2.4" ry="2.4" fill="url(#bg10)"/>
<ellipse cx="1802.6" cy="560.3" rx="4" ry="4" fill="url(#bg5)"/>
<ellipse cx="1813.7" cy="552.2" rx="3" ry="3" fill="url(#bg5)"/>
<ellipse cx="1808.6" cy="556.2" rx="2.4" ry="2.4" fill="url(#bg10)"/>
<ellipse cx="1829.8" cy="541.1" rx="5" ry="4" fill="url(#bg5)"/>
<ellipse cx="1838.9" cy="541.1" rx="2.4" ry="5" fill="url(#bg10)"/>
<ellipse cx="1846" cy="542.1" rx="3" ry="3" fill="url(#bg5)"/>
<ellipse cx="1777.3" cy="477.5" rx="3" ry="3" fill="url(#bg5)"/>
<ellipse cx="1782.4" cy="488.6" rx="2" ry="2" fill="url(#bg5)"/>
<ellipse cx="1767.2" cy="509.8" rx="4" ry="2" fill="url(#bg10)"/>
<ellipse cx="1784.4" cy="511.8" rx="4" ry="2" fill="url(#bg10)"/>
<ellipse cx="1767.2" cy="572.4" rx="4" ry="2" fill="url(#bg10)"/>
<ellipse cx="1784.4" cy="571.4" rx="4" ry="2" fill="url(#bg10)"/>
<ellipse cx="1776.3" cy="605.7" rx="2.4" ry="2.4" fill="url(#bg5)"/>
<ellipse cx="1783.4" cy="594.6" rx="2" ry="2" fill="url(#bg5)"/>
<ellipse cx="1835.9" cy="485.5" rx="4" ry="2" fill="url(#bg10)"/>
<ellipse cx="1835.9" cy="596.6" rx="4" ry="2" fill="url(#bg10)"/>
<clipPath id="mc9"><rect x="608.8" y="742.7" width="384.80000000000007" height="196.19999999999993"/></clipPath>
<g clip-path="url(#mc9)">
<path d="M617.5 789.2L609.6 792.6M617.5 789.2L625.4 792.6M649.2 789.2L641.3 792.6M649.2 789.2L657.1 792.6M680.9 789.2L673 792.6M680.9 789.2L688.8 792.6M712.6 789.2L704.7 792.6M712.6 789.2L720.5 792.6M744.3 789.2L736.4 792.6M744.3 789.2L752.2 792.6M839.4 789.2L831.5 792.6M839.4 789.2L847.3 792.6M871.1 789.2L863.2 792.6M871.1 789.2L879 792.6M902.8 789.2L894.9 792.6M902.8 789.2L910.7 792.6M934.5 789.2L926.6 792.6M934.5 789.2L942.4 792.6M966.2 789.2L958.3 792.6M966.2 789.2L974.1 792.6M997.9 789.2L990 792.6M601.6 817.4L601.6 806.7M601.6 817.4L609.6 822.3M633.4 817.4L633.4 806.7M633.4 817.4L625.4 822.3M633.4 817.4L641.3 822.3M665.1 817.4L665.1 806.7M665.1 817.4L657.1 822.3M665.1 817.4L673 822.3M696.8 817.4L696.8 806.7M696.8 817.4L688.8 822.3M696.8 817.4L704.7 822.3M728.5 817.4L728.5 806.7M728.5 817.4L720.5 822.3M728.5 817.4L736.4 822.3M760.1 817.4L760.1 806.7M760.1 817.4L752.2 822.3M760.1 817.4L768.1 822.3M855.2 817.4L855.2 806.7M855.2 817.4L847.3 822.3M855.2 817.4L863.2 822.3M887 817.4L887 806.7M887 817.4L879 822.3M887 817.4L894.9 822.3M918.7 817.4L918.7 806.7M918.7 817.4L910.7 822.3M918.7 817.4L926.6 822.3M950.4 817.4L950.4 806.7M950.4 817.4L942.4 822.3M950.4 817.4L958.3 822.3M982 817.4L982 806.7M982 817.4L974.1 822.3M982 817.4L990 822.3M617.5 848.6L617.5 837.9M617.5 848.6L609.6 854M617.5 848.6L625.4 854M649.2 848.6L649.2 837.9M649.2 848.6L641.3 854M649.2 848.6L657.1 854M680.9 848.6L680.9 837.9M680.9 848.6L673 854M680.9 848.6L688.8 854M712.6 848.6L712.6 837.9M712.6 848.6L704.7 854M712.6 848.6L720.5 854M744.3 848.6L744.3 837.9M744.3 848.6L736.4 854M744.3 848.6L752.2 854M839.4 848.6L839.4 837.9M839.4 848.6L831.5 854M839.4 848.6L847.3 854M871.1 848.6L871.1 837.9M871.1 848.6L863.2 854M871.1 848.6L879 854M902.8 848.6L902.8 837.9M902.8 848.6L894.9 854M902.8 848.6L910.7 854M934.5 848.6L934.5 837.9M934.5 848.6L926.6 854M934.5 848.6L942.4 854M966.2 848.6L966.2 837.9M966.2 848.6L958.3 854M966.2 848.6L974.1 854M997.9 848.6L997.9 837.9M997.9 848.6L990 854M601.6 881.7L601.6 870.5M601.6 881.7L609.6 885.5M633.4 881.7L633.4 870.5M633.4 881.7L625.4 885.5M633.4 881.7L641.3 885.5M665.1 881.7L665.1 870.5M665.1 881.7L657.1 885.5M665.1 881.7L673 885.5M696.8 881.7L696.8 870.5M696.8 881.7L688.8 885.5M696.8 881.7L704.7 885.5M728.5 881.7L728.5 870.5M728.5 881.7L720.5 885.5M728.5 881.7L736.4 885.5M760.1 881.7L760.1 870.5M760.1 881.7L752.2 885.5M760.1 881.7L768.1 885.5M855.2 881.7L855.2 870.5M855.2 881.7L847.3 885.5M855.2 881.7L863.2 885.5M887 881.7L887 870.5M887 881.7L879 885.5M887 881.7L894.9 885.5M918.7 881.7L918.7 870.5M918.7 881.7L910.7 885.5M918.7 881.7L926.6 885.5M950.4 881.7L950.4 870.5M950.4 881.7L942.4 885.5M950.4 881.7L958.3 885.5M982 881.7L982 870.5M982 881.7L974.1 885.5M982 881.7L990 885.5" stroke="#2b42e2" stroke-width="2.0" fill="none"/>
<path d="M609.6 792.6L601.6 796M625.4 792.6L633.4 796M641.3 792.6L633.4 796M657.1 792.6L665.1 796M673 792.6L665.1 796M688.8 792.6L696.8 796M704.7 792.6L696.8 796M720.5 792.6L728.5 796M736.4 792.6L728.5 796M752.2 792.6L760.1 796M768.1 792.6L760.1 796M783.9 792.6L791.9 796M799.8 792.6L791.9 796M815.6 792.6L823.5 796M831.5 792.6L823.5 796M847.3 792.6L855.2 796M863.2 792.6L855.2 796M879 792.6L887 796M894.9 792.6L887 796M910.7 792.6L918.7 796M926.6 792.6L918.7 796M942.4 792.6L950.4 796M958.3 792.6L950.4 796M974.1 792.6L982 796M990 792.6L982 796M601.6 806.7L601.6 796M609.6 822.3L617.5 827.2M633.4 806.7L633.4 796M625.4 822.3L617.5 827.2M641.3 822.3L649.2 827.2M665.1 806.7L665.1 796M657.1 822.3L649.2 827.2M673 822.3L680.9 827.2M696.8 806.7L696.8 796M688.8 822.3L680.9 827.2M704.7 822.3L712.6 827.2M728.5 806.7L728.5 796M720.5 822.3L712.6 827.2M736.4 822.3L744.3 827.2M760.1 806.7L760.1 796M752.2 822.3L744.3 827.2M768.1 822.3L776 827.2M791.9 806.7L791.9 796M783.9 822.3L776 827.2M799.8 822.3L807.7 827.2M823.5 806.7L823.5 796M815.6 822.3L807.7 827.2M831.5 822.3L839.4 827.2M855.2 806.7L855.2 796M847.3 822.3L839.4 827.2M863.2 822.3L871.1 827.2M887 806.7L887 796M879 822.3L871.1 827.2M894.9 822.3L902.8 827.2M918.7 806.7L918.7 796M910.7 822.3L902.8 827.2M926.6 822.3L934.5 827.2M950.4 806.7L950.4 796M942.4 822.3L934.5 827.2M958.3 822.3L966.2 827.2M982 806.7L982 796M974.1 822.3L966.2 827.2M990 822.3L997.9 827.2M617.5 837.9L617.5 827.2M609.6 854L601.6 859.3M625.4 854L633.4 859.3M649.2 837.9L649.2 827.2M641.3 854L633.4 859.3M657.1 854L665.1 859.3M680.9 837.9L680.9 827.2M673 854L665.1 859.3M688.8 854L696.8 859.3M712.6 837.9L712.6 827.2M704.7 854L696.8 859.3M720.5 854L728.5 859.3M744.3 837.9L744.3 827.2M736.4 854L728.5 859.3M752.2 854L760.1 859.3M776 837.9L776 827.2M768.1 854L760.1 859.3M783.9 854L791.9 859.3M807.7 837.9L807.7 827.2M799.8 854L791.9 859.3M815.6 854L823.5 859.3M839.4 837.9L839.4 827.2M831.5 854L823.5 859.3M847.3 854L855.2 859.3M871.1 837.9L871.1 827.2M863.2 854L855.2 859.3M879 854L887 859.3M902.8 837.9L902.8 827.2M894.9 854L887 859.3M910.7 854L918.7 859.3M934.5 837.9L934.5 827.2M926.6 854L918.7 859.3M942.4 854L950.4 859.3M966.2 837.9L966.2 827.2M958.3 854L950.4 859.3M974.1 854L982 859.3M997.9 837.9L997.9 827.2M990 854L982 859.3M601.6 870.5L601.6 859.3M609.6 885.5L617.5 889.4M633.4 870.5L633.4 859.3M625.4 885.5L617.5 889.4M641.3 885.5L649.2 889.4M665.1 870.5L665.1 859.3M657.1 885.5L649.2 889.4M673 885.5L680.9 889.4M696.8 870.5L696.8 859.3M688.8 885.5L680.9 889.4M704.7 885.5L712.6 889.4M728.5 870.5L728.5 859.3M720.5 885.5L712.6 889.4M736.4 885.5L744.3 889.4M760.1 870.5L760.1 859.3M752.2 885.5L744.3 889.4M768.1 885.5L776 889.4M791.9 870.5L791.9 859.3M783.9 885.5L776 889.4M799.8 885.5L807.7 889.4M823.5 870.5L823.5 859.3M815.6 885.5L807.7 889.4M831.5 885.5L839.4 889.4M855.2 870.5L855.2 859.3M847.3 885.5L839.4 889.4M863.2 885.5L871.1 889.4M887 870.5L887 859.3M879 885.5L871.1 889.4M894.9 885.5L902.8 889.4M918.7 870.5L918.7 859.3M910.7 885.5L902.8 889.4M926.6 885.5L934.5 889.4M950.4 870.5L950.4 859.3M942.4 885.5L934.5 889.4M958.3 885.5L966.2 889.4M982 870.5L982 859.3M974.1 885.5L966.2 889.4M990 885.5L997.9 889.4" stroke="#f4f03c" stroke-width="2.0" fill="none"/>
<path d="M776 789.2L768.1 792.6M776 789.2L783.9 792.6M807.7 789.2L799.8 792.6M807.7 789.2L815.6 792.6M791.9 817.4L791.9 806.7M791.9 817.4L783.9 822.3M791.9 817.4L799.8 822.3M823.5 817.4L823.5 806.7M823.5 817.4L815.6 822.3M823.5 817.4L831.5 822.3M776 848.6L776 837.9M776 848.6L768.1 854M776 848.6L783.9 854M807.7 848.6L807.7 837.9M807.7 848.6L799.8 854M807.7 848.6L815.6 854M791.9 881.7L791.9 870.5M791.9 881.7L783.9 885.5M791.9 881.7L799.8 885.5M823.5 881.7L823.5 870.5M823.5 881.7L815.6 885.5M823.5 881.7L831.5 885.5" stroke="#8adbe6" stroke-width="2.0" fill="none"/>
<g fill="url(#gY)"><circle cx="601.6" cy="796" r="3.9"/><circle cx="633.4" cy="796" r="3.9"/><circle cx="665.1" cy="796" r="3.9"/><circle cx="696.8" cy="796" r="3.9"/><circle cx="728.5" cy="796" r="3.9"/><circle cx="760.1" cy="796" r="3.9"/><circle cx="791.9" cy="796" r="3.9"/><circle cx="823.5" cy="796" r="3.9"/><circle cx="855.2" cy="796" r="3.9"/><circle cx="887" cy="796" r="3.9"/><circle cx="918.7" cy="796" r="3.9"/><circle cx="950.4" cy="796" r="3.9"/><circle cx="982" cy="796" r="3.9"/><circle cx="617.5" cy="827.2" r="3.9"/><circle cx="649.2" cy="827.2" r="3.9"/><circle cx="680.9" cy="827.2" r="3.9"/><circle cx="712.6" cy="827.2" r="3.9"/><circle cx="744.3" cy="827.2" r="3.9"/><circle cx="776" cy="827.2" r="3.9"/><circle cx="807.7" cy="827.2" r="3.9"/><circle cx="839.4" cy="827.2" r="3.9"/><circle cx="871.1" cy="827.2" r="3.9"/><circle cx="902.8" cy="827.2" r="3.9"/><circle cx="934.5" cy="827.2" r="3.9"/><circle cx="966.2" cy="827.2" r="3.9"/><circle cx="997.9" cy="827.2" r="3.9"/><circle cx="601.6" cy="859.3" r="3.9"/><circle cx="633.4" cy="859.3" r="3.9"/><circle cx="665.1" cy="859.3" r="3.9"/><circle cx="696.8" cy="859.3" r="3.9"/><circle cx="728.5" cy="859.3" r="3.9"/><circle cx="760.1" cy="859.3" r="3.9"/><circle cx="791.9" cy="859.3" r="3.9"/><circle cx="823.5" cy="859.3" r="3.9"/><circle cx="855.2" cy="859.3" r="3.9"/><circle cx="887" cy="859.3" r="3.9"/><circle cx="918.7" cy="859.3" r="3.9"/><circle cx="950.4" cy="859.3" r="3.9"/><circle cx="982" cy="859.3" r="3.9"/><circle cx="617.5" cy="889.4" r="3.9"/><circle cx="649.2" cy="889.4" r="3.9"/><circle cx="680.9" cy="889.4" r="3.9"/><circle cx="712.6" cy="889.4" r="3.9"/><circle cx="744.3" cy="889.4" r="3.9"/><circle cx="776" cy="889.4" r="3.9"/><circle cx="807.7" cy="889.4" r="3.9"/><circle cx="839.4" cy="889.4" r="3.9"/><circle cx="871.1" cy="889.4" r="3.9"/><circle cx="902.8" cy="889.4" r="3.9"/><circle cx="934.5" cy="889.4" r="3.9"/><circle cx="966.2" cy="889.4" r="3.9"/><circle cx="997.9" cy="889.4" r="3.9"/></g>
<g fill="url(#gB)"><circle cx="617.5" cy="789.2" r="4.2"/><circle cx="649.2" cy="789.2" r="4.2"/><circle cx="680.9" cy="789.2" r="4.2"/><circle cx="712.6" cy="789.2" r="4.2"/><circle cx="744.3" cy="789.2" r="4.2"/><circle cx="839.4" cy="789.2" r="4.2"/><circle cx="871.1" cy="789.2" r="4.2"/><circle cx="902.8" cy="789.2" r="4.2"/><circle cx="934.5" cy="789.2" r="4.2"/><circle cx="966.2" cy="789.2" r="4.2"/><circle cx="997.9" cy="789.2" r="4.2"/><circle cx="601.6" cy="817.4" r="4.2"/><circle cx="633.4" cy="817.4" r="4.2"/><circle cx="665.1" cy="817.4" r="4.2"/><circle cx="696.8" cy="817.4" r="4.2"/><circle cx="728.5" cy="817.4" r="4.2"/><circle cx="760.1" cy="817.4" r="4.2"/><circle cx="855.2" cy="817.4" r="4.2"/><circle cx="887" cy="817.4" r="4.2"/><circle cx="918.7" cy="817.4" r="4.2"/><circle cx="950.4" cy="817.4" r="4.2"/><circle cx="982" cy="817.4" r="4.2"/><circle cx="617.5" cy="848.6" r="4.2"/><circle cx="649.2" cy="848.6" r="4.2"/><circle cx="680.9" cy="848.6" r="4.2"/><circle cx="712.6" cy="848.6" r="4.2"/><circle cx="744.3" cy="848.6" r="4.2"/><circle cx="839.4" cy="848.6" r="4.2"/><circle cx="871.1" cy="848.6" r="4.2"/><circle cx="902.8" cy="848.6" r="4.2"/><circle cx="934.5" cy="848.6" r="4.2"/><circle cx="966.2" cy="848.6" r="4.2"/><circle cx="997.9" cy="848.6" r="4.2"/><circle cx="601.6" cy="881.7" r="4.2"/><circle cx="633.4" cy="881.7" r="4.2"/><circle cx="665.1" cy="881.7" r="4.2"/><circle cx="696.8" cy="881.7" r="4.2"/><circle cx="728.5" cy="881.7" r="4.2"/><circle cx="760.1" cy="881.7" r="4.2"/><circle cx="855.2" cy="881.7" r="4.2"/><circle cx="887" cy="881.7" r="4.2"/><circle cx="918.7" cy="881.7" r="4.2"/><circle cx="950.4" cy="881.7" r="4.2"/><circle cx="982" cy="881.7" r="4.2"/></g>
<g fill="url(#gC)"><circle cx="776" cy="789.2" r="4.2"/><circle cx="807.7" cy="789.2" r="4.2"/><circle cx="791.9" cy="817.4" r="4.2"/><circle cx="823.5" cy="817.4" r="4.2"/><circle cx="776" cy="848.6" r="4.2"/><circle cx="807.7" cy="848.6" r="4.2"/><circle cx="791.9" cy="881.7" r="4.2"/><circle cx="823.5" cy="881.7" r="4.2"/></g>
</g>
<rect x="608.8" y="772.7" width="64.20000000000005" height="136.19999999999993" fill="#bcbcbc" style="mix-blend-mode:multiply"/>
<rect x="930" y="772.7" width="63.60000000000002" height="136.19999999999993" fill="#bcbcbc" style="mix-blend-mode:multiply"/>
<ellipse cx="682.7" cy="884.6" rx="7.8" ry="7.8" fill="url(#bg8)"/>
<ellipse cx="682.7" cy="898.2" rx="7.8" ry="7.8" fill="url(#bg1)"/>
<ellipse cx="714.8" cy="885.5" rx="6.2" ry="6.2" fill="url(#bg1)"/>
<ellipse cx="714.8" cy="897.2" rx="6.2" ry="6.2" fill="url(#bg8)"/>
<ellipse cx="747" cy="886.5" rx="4" ry="4" fill="url(#bg5)"/>
<ellipse cx="747" cy="897.2" rx="2.5" ry="2.5" fill="url(#bg1)"/>
<ellipse cx="839.4" cy="887.5" rx="3" ry="3" fill="url(#bg11)"/>
<ellipse cx="871.5" cy="886.5" rx="3.2" ry="3.2" fill="url(#bg12)"/>
<ellipse cx="871.5" cy="897.2" rx="2.5" ry="2.5" fill="url(#bg5)"/>
<ellipse cx="903.6" cy="886.5" rx="4" ry="4" fill="url(#bg5)"/>
<ellipse cx="903.6" cy="897.2" rx="3" ry="3" fill="url(#bg13)"/>
<clipPath id="mc10"><rect x="609.3" y="888" width="384.30000000000007" height="196"/></clipPath>
<g clip-path="url(#mc10)">
<path d="M617.5 938.1L609.9 941M617.5 938.1L625.1 941M647.8 938.1L640.2 941M647.8 938.1L655.4 941M678.1 938.1L670.5 941M678.1 938.1L685.7 941M708.4 938.1L700.8 941M708.4 938.1L716 941M738.7 938.1L731.1 941M738.7 938.1L746.3 941M859.9 938.1L852.3 941M859.9 938.1L867.5 941M890.2 938.1L882.6 941M890.2 938.1L897.8 941M920.5 938.1L912.9 941M920.5 938.1L928.1 941M950.8 938.1L943.2 941M950.8 938.1L958.4 941M981.1 938.1L973.5 941M981.1 938.1L988.7 941M1011.4 938.1L1003.8 941M602.4 965.4L602.4 954.7M602.4 965.4L609.9 969.8M632.6 965.4L632.6 954.7M632.6 965.4L625.1 969.8M632.6 965.4L640.2 969.8M662.9 965.4L662.9 954.7M662.9 965.4L655.4 969.8M662.9 965.4L670.5 969.8M693.2 965.4L693.2 954.7M693.2 965.4L685.7 969.8M693.2 965.4L700.8 969.8M723.5 965.4L723.5 954.7M723.5 965.4L716 969.8M723.5 965.4L731.1 969.8M753.9 965.4L753.9 954.7M753.9 965.4L746.3 969.8M753.9 965.4L761.4 969.8M844.8 965.4L844.8 954.7M844.8 965.4L837.2 969.8M844.8 965.4L852.3 969.8M875 965.4L875 954.7M875 965.4L867.5 969.8M875 965.4L882.6 969.8M905.3 965.4L905.3 954.7M905.3 965.4L897.8 969.8M905.3 965.4L912.9 969.8M935.6 965.4L935.6 954.7M935.6 965.4L928.1 969.8M935.6 965.4L943.2 969.8M966 965.4L966 954.7M966 965.4L958.4 969.8M966 965.4L973.5 969.8M996.2 965.4L996.2 954.7M996.2 965.4L988.7 969.8M996.2 965.4L1003.8 969.8M617.5 995.5L617.5 984.8M617.5 995.5L609.9 1000.9M617.5 995.5L625.1 1000.9M647.8 995.5L647.8 984.8M647.8 995.5L640.2 1000.9M647.8 995.5L655.4 1000.9M678.1 995.5L678.1 984.8M678.1 995.5L670.5 1000.9M678.1 995.5L685.7 1000.9M708.4 995.5L708.4 984.8M708.4 995.5L700.8 1000.9M708.4 995.5L716 1000.9M738.7 995.5L738.7 984.8M738.7 995.5L731.1 1000.9M738.7 995.5L746.3 1000.9M859.9 995.5L859.9 984.8M859.9 995.5L852.3 1000.9M859.9 995.5L867.5 1000.9M890.2 995.5L890.2 984.8M890.2 995.5L882.6 1000.9M890.2 995.5L897.8 1000.9M920.5 995.5L920.5 984.8M920.5 995.5L912.9 1000.9M920.5 995.5L928.1 1000.9M950.8 995.5L950.8 984.8M950.8 995.5L943.2 1000.9M950.8 995.5L958.4 1000.9M981.1 995.5L981.1 984.8M981.1 995.5L973.5 1000.9M981.1 995.5L988.7 1000.9M1011.4 995.5L1011.4 984.8M1011.4 995.5L1003.8 1000.9M602.4 1028.6L602.4 1017.4M602.4 1028.6L609.9 1031.5M632.6 1028.6L632.6 1017.4M632.6 1028.6L625.1 1031.5M632.6 1028.6L640.2 1031.5M662.9 1028.6L662.9 1017.4M662.9 1028.6L655.4 1031.5M662.9 1028.6L670.5 1031.5M693.2 1028.6L693.2 1017.4M693.2 1028.6L685.7 1031.5M693.2 1028.6L700.8 1031.5M723.5 1028.6L723.5 1017.4M723.5 1028.6L716 1031.5M723.5 1028.6L731.1 1031.5M753.9 1028.6L753.9 1017.4M753.9 1028.6L746.3 1031.5M753.9 1028.6L761.4 1031.5M844.8 1028.6L844.8 1017.4M844.8 1028.6L837.2 1031.5M844.8 1028.6L852.3 1031.5M875 1028.6L875 1017.4M875 1028.6L867.5 1031.5M875 1028.6L882.6 1031.5M905.3 1028.6L905.3 1017.4M905.3 1028.6L897.8 1031.5M905.3 1028.6L912.9 1031.5M935.6 1028.6L935.6 1017.4M935.6 1028.6L928.1 1031.5M935.6 1028.6L943.2 1031.5M966 1028.6L966 1017.4M966 1028.6L958.4 1031.5M966 1028.6L973.5 1031.5M996.2 1028.6L996.2 1017.4M996.2 1028.6L988.7 1031.5M996.2 1028.6L1003.8 1031.5" stroke="#2b42e2" stroke-width="2.0" fill="none"/>
<path d="M609.9 941L602.4 944M625.1 941L632.6 944M640.2 941L632.6 944M655.4 941L662.9 944M670.5 941L662.9 944M685.7 941L693.2 944M700.8 941L693.2 944M716 941L723.5 944M731.1 941L723.5 944M746.3 941L753.9 944M761.4 941L753.9 944M776.6 941L784.1 944M791.7 941L784.1 944M806.9 941L814.5 944M822 941L814.5 944M837.2 941L844.8 944M852.3 941L844.8 944M867.5 941L875 944M882.6 941L875 944M897.8 941L905.3 944M912.9 941L905.3 944M928.1 941L935.6 944M943.2 941L935.6 944M958.4 941L966 944M973.5 941L966 944M988.7 941L996.2 944M1003.8 941L996.2 944M602.4 954.7L602.4 944M609.9 969.8L617.5 974.1M632.6 954.7L632.6 944M625.1 969.8L617.5 974.1M640.2 969.8L647.8 974.1M662.9 954.7L662.9 944M655.4 969.8L647.8 974.1M670.5 969.8L678.1 974.1M693.2 954.7L693.2 944M685.7 969.8L678.1 974.1M700.8 969.8L708.4 974.1M723.5 954.7L723.5 944M716 969.8L708.4 974.1M731.1 969.8L738.7 974.1M753.9 954.7L753.9 944M746.3 969.8L738.7 974.1M761.4 969.8L769 974.1M784.1 954.7L784.1 944M776.6 969.8L769 974.1M791.7 969.8L799.3 974.1M814.5 954.7L814.5 944M806.9 969.8L799.3 974.1M822 969.8L829.6 974.1M844.8 954.7L844.8 944M837.2 969.8L829.6 974.1M852.3 969.8L859.9 974.1M875 954.7L875 944M867.5 969.8L859.9 974.1M882.6 969.8L890.2 974.1M905.3 954.7L905.3 944M897.8 969.8L890.2 974.1M912.9 969.8L920.5 974.1M935.6 954.7L935.6 944M928.1 969.8L920.5 974.1M943.2 969.8L950.8 974.1M966 954.7L966 944M958.4 969.8L950.8 974.1M973.5 969.8L981.1 974.1M996.2 954.7L996.2 944M988.7 969.8L981.1 974.1M1003.8 969.8L1011.4 974.1M617.5 984.8L617.5 974.1M609.9 1000.9L602.4 1006.2M625.1 1000.9L632.6 1006.2M647.8 984.8L647.8 974.1M640.2 1000.9L632.6 1006.2M655.4 1000.9L662.9 1006.2M678.1 984.8L678.1 974.1M670.5 1000.9L662.9 1006.2M685.7 1000.9L693.2 1006.2M708.4 984.8L708.4 974.1M700.8 1000.9L693.2 1006.2M716 1000.9L723.5 1006.2M738.7 984.8L738.7 974.1M731.1 1000.9L723.5 1006.2M746.3 1000.9L753.9 1006.2M769 984.8L769 974.1M761.4 1000.9L753.9 1006.2M776.6 1000.9L784.1 1006.2M799.3 984.8L799.3 974.1M791.7 1000.9L784.1 1006.2M806.9 1000.9L814.5 1006.2M829.6 984.8L829.6 974.1M822 1000.9L814.5 1006.2M837.2 1000.9L844.8 1006.2M859.9 984.8L859.9 974.1M852.3 1000.9L844.8 1006.2M867.5 1000.9L875 1006.2M890.2 984.8L890.2 974.1M882.6 1000.9L875 1006.2M897.8 1000.9L905.3 1006.2M920.5 984.8L920.5 974.1M912.9 1000.9L905.3 1006.2M928.1 1000.9L935.6 1006.2M950.8 984.8L950.8 974.1M943.2 1000.9L935.6 1006.2M958.4 1000.9L966 1006.2M981.1 984.8L981.1 974.1M973.5 1000.9L966 1006.2M988.7 1000.9L996.2 1006.2M1011.4 984.8L1011.4 974.1M1003.8 1000.9L996.2 1006.2M602.4 1017.4L602.4 1006.2M609.9 1031.5L617.5 1034.5M632.6 1017.4L632.6 1006.2M625.1 1031.5L617.5 1034.5M640.2 1031.5L647.8 1034.5M662.9 1017.4L662.9 1006.2M655.4 1031.5L647.8 1034.5M670.5 1031.5L678.1 1034.5M693.2 1017.4L693.2 1006.2M685.7 1031.5L678.1 1034.5M700.8 1031.5L708.4 1034.5M723.5 1017.4L723.5 1006.2M716 1031.5L708.4 1034.5M731.1 1031.5L738.7 1034.5M753.9 1017.4L753.9 1006.2M746.3 1031.5L738.7 1034.5M761.4 1031.5L769 1034.5M784.1 1017.4L784.1 1006.2M776.6 1031.5L769 1034.5M791.7 1031.5L799.3 1034.5M814.5 1017.4L814.5 1006.2M806.9 1031.5L799.3 1034.5M822 1031.5L829.6 1034.5M844.8 1017.4L844.8 1006.2M837.2 1031.5L829.6 1034.5M852.3 1031.5L859.9 1034.5M875 1017.4L875 1006.2M867.5 1031.5L859.9 1034.5M882.6 1031.5L890.2 1034.5M905.3 1017.4L905.3 1006.2M897.8 1031.5L890.2 1034.5M912.9 1031.5L920.5 1034.5M935.6 1017.4L935.6 1006.2M928.1 1031.5L920.5 1034.5M943.2 1031.5L950.8 1034.5M966 1017.4L966 1006.2M958.4 1031.5L950.8 1034.5M973.5 1031.5L981.1 1034.5M996.2 1017.4L996.2 1006.2M988.7 1031.5L981.1 1034.5M1003.8 1031.5L1011.4 1034.5" stroke="#f4f03c" stroke-width="2.0" fill="none"/>
<path d="M769 938.1L761.4 941M769 938.1L776.6 941M799.3 938.1L791.7 941M799.3 938.1L806.9 941M829.6 938.1L822 941M829.6 938.1L837.2 941M784.1 965.4L784.1 954.7M784.1 965.4L776.6 969.8M784.1 965.4L791.7 969.8M814.5 965.4L814.5 954.7M814.5 965.4L806.9 969.8M814.5 965.4L822 969.8M769 995.5L769 984.8M769 995.5L761.4 1000.9M769 995.5L776.6 1000.9M799.3 995.5L799.3 984.8M799.3 995.5L791.7 1000.9M799.3 995.5L806.9 1000.9M829.6 995.5L829.6 984.8M829.6 995.5L822 1000.9M829.6 995.5L837.2 1000.9M784.1 1028.6L784.1 1017.4M784.1 1028.6L776.6 1031.5M784.1 1028.6L791.7 1031.5M814.5 1028.6L814.5 1017.4M814.5 1028.6L806.9 1031.5M814.5 1028.6L822 1031.5" stroke="#8adbe6" stroke-width="2.0" fill="none"/>
<g fill="url(#gY)"><circle cx="602.4" cy="944" r="3.7"/><circle cx="632.6" cy="944" r="3.7"/><circle cx="662.9" cy="944" r="3.7"/><circle cx="693.2" cy="944" r="3.7"/><circle cx="723.5" cy="944" r="3.7"/><circle cx="753.9" cy="944" r="3.7"/><circle cx="784.1" cy="944" r="3.7"/><circle cx="814.5" cy="944" r="3.7"/><circle cx="844.8" cy="944" r="3.7"/><circle cx="875" cy="944" r="3.7"/><circle cx="905.3" cy="944" r="3.7"/><circle cx="935.6" cy="944" r="3.7"/><circle cx="966" cy="944" r="3.7"/><circle cx="996.2" cy="944" r="3.7"/><circle cx="617.5" cy="974.1" r="3.7"/><circle cx="647.8" cy="974.1" r="3.7"/><circle cx="678.1" cy="974.1" r="3.7"/><circle cx="708.4" cy="974.1" r="3.7"/><circle cx="738.7" cy="974.1" r="3.7"/><circle cx="769" cy="974.1" r="3.7"/><circle cx="799.3" cy="974.1" r="3.7"/><circle cx="829.6" cy="974.1" r="3.7"/><circle cx="859.9" cy="974.1" r="3.7"/><circle cx="890.2" cy="974.1" r="3.7"/><circle cx="920.5" cy="974.1" r="3.7"/><circle cx="950.8" cy="974.1" r="3.7"/><circle cx="981.1" cy="974.1" r="3.7"/><circle cx="1011.4" cy="974.1" r="3.7"/><circle cx="602.4" cy="1006.2" r="3.7"/><circle cx="632.6" cy="1006.2" r="3.7"/><circle cx="662.9" cy="1006.2" r="3.7"/><circle cx="693.2" cy="1006.2" r="3.7"/><circle cx="723.5" cy="1006.2" r="3.7"/><circle cx="753.9" cy="1006.2" r="3.7"/><circle cx="784.1" cy="1006.2" r="3.7"/><circle cx="814.5" cy="1006.2" r="3.7"/><circle cx="844.8" cy="1006.2" r="3.7"/><circle cx="875" cy="1006.2" r="3.7"/><circle cx="905.3" cy="1006.2" r="3.7"/><circle cx="935.6" cy="1006.2" r="3.7"/><circle cx="966" cy="1006.2" r="3.7"/><circle cx="996.2" cy="1006.2" r="3.7"/><circle cx="617.5" cy="1034.5" r="3.7"/><circle cx="647.8" cy="1034.5" r="3.7"/><circle cx="678.1" cy="1034.5" r="3.7"/><circle cx="708.4" cy="1034.5" r="3.7"/><circle cx="738.7" cy="1034.5" r="3.7"/><circle cx="769" cy="1034.5" r="3.7"/><circle cx="799.3" cy="1034.5" r="3.7"/><circle cx="829.6" cy="1034.5" r="3.7"/><circle cx="859.9" cy="1034.5" r="3.7"/><circle cx="890.2" cy="1034.5" r="3.7"/><circle cx="920.5" cy="1034.5" r="3.7"/><circle cx="950.8" cy="1034.5" r="3.7"/><circle cx="981.1" cy="1034.5" r="3.7"/><circle cx="1011.4" cy="1034.5" r="3.7"/></g>
<g fill="url(#gB)"><circle cx="617.5" cy="938.1" r="4.0"/><circle cx="647.8" cy="938.1" r="4.0"/><circle cx="678.1" cy="938.1" r="4.0"/><circle cx="708.4" cy="938.1" r="4.0"/><circle cx="738.7" cy="938.1" r="4.0"/><circle cx="859.9" cy="938.1" r="4.0"/><circle cx="890.2" cy="938.1" r="4.0"/><circle cx="920.5" cy="938.1" r="4.0"/><circle cx="950.8" cy="938.1" r="4.0"/><circle cx="981.1" cy="938.1" r="4.0"/><circle cx="1011.4" cy="938.1" r="4.0"/><circle cx="602.4" cy="965.4" r="4.0"/><circle cx="632.6" cy="965.4" r="4.0"/><circle cx="662.9" cy="965.4" r="4.0"/><circle cx="693.2" cy="965.4" r="4.0"/><circle cx="723.5" cy="965.4" r="4.0"/><circle cx="753.9" cy="965.4" r="4.0"/><circle cx="844.8" cy="965.4" r="4.0"/><circle cx="875" cy="965.4" r="4.0"/><circle cx="905.3" cy="965.4" r="4.0"/><circle cx="935.6" cy="965.4" r="4.0"/><circle cx="966" cy="965.4" r="4.0"/><circle cx="996.2" cy="965.4" r="4.0"/><circle cx="617.5" cy="995.5" r="4.0"/><circle cx="647.8" cy="995.5" r="4.0"/><circle cx="678.1" cy="995.5" r="4.0"/><circle cx="708.4" cy="995.5" r="4.0"/><circle cx="738.7" cy="995.5" r="4.0"/><circle cx="859.9" cy="995.5" r="4.0"/><circle cx="890.2" cy="995.5" r="4.0"/><circle cx="920.5" cy="995.5" r="4.0"/><circle cx="950.8" cy="995.5" r="4.0"/><circle cx="981.1" cy="995.5" r="4.0"/><circle cx="1011.4" cy="995.5" r="4.0"/><circle cx="602.4" cy="1028.6" r="4.0"/><circle cx="632.6" cy="1028.6" r="4.0"/><circle cx="662.9" cy="1028.6" r="4.0"/><circle cx="693.2" cy="1028.6" r="4.0"/><circle cx="723.5" cy="1028.6" r="4.0"/><circle cx="753.9" cy="1028.6" r="4.0"/><circle cx="844.8" cy="1028.6" r="4.0"/><circle cx="875" cy="1028.6" r="4.0"/><circle cx="905.3" cy="1028.6" r="4.0"/><circle cx="935.6" cy="1028.6" r="4.0"/><circle cx="966" cy="1028.6" r="4.0"/><circle cx="996.2" cy="1028.6" r="4.0"/></g>
<g fill="url(#gC)"><circle cx="769" cy="938.1" r="4.0"/><circle cx="799.3" cy="938.1" r="4.0"/><circle cx="829.6" cy="938.1" r="4.0"/><circle cx="784.1" cy="965.4" r="4.0"/><circle cx="814.5" cy="965.4" r="4.0"/><circle cx="769" cy="995.5" r="4.0"/><circle cx="799.3" cy="995.5" r="4.0"/><circle cx="829.6" cy="995.5" r="4.0"/><circle cx="784.1" cy="1028.6" r="4.0"/><circle cx="814.5" cy="1028.6" r="4.0"/></g>
</g>
<rect x="609.3" y="918" width="60.700000000000045" height="136" fill="#bcbcbc" style="mix-blend-mode:multiply"/>
<rect x="932.8" y="917.7" width="60.80000000000007" height="135.79999999999995" fill="#bcbcbc" style="mix-blend-mode:multiply"/>
<ellipse cx="679.8" cy="1031.5" rx="7.4" ry="7.4" fill="url(#bg8)"/>
<ellipse cx="679.8" cy="1042.2" rx="7" ry="7" fill="url(#bg1)"/>
<ellipse cx="710" cy="1032.5" rx="6.8" ry="6.8" fill="url(#bg1)"/>
<ellipse cx="710" cy="1042.2" rx="6.2" ry="6.2" fill="url(#bg8)"/>
<ellipse cx="741.1" cy="1032.5" rx="5" ry="5" fill="url(#bg5)"/>
<ellipse cx="741.1" cy="1042.2" rx="4.3" ry="4.3" fill="url(#bg12)"/>
<ellipse cx="829.7" cy="1032.5" rx="2.5" ry="2.5" fill="url(#bg8)"/>
<ellipse cx="859.9" cy="1032.5" rx="3.5" ry="3.5" fill="url(#bg12)"/>
<ellipse cx="891" cy="1032.5" rx="3.5" ry="3.5" fill="url(#bg5)"/>
<ellipse cx="891" cy="1042.2" rx="3.2" ry="3.2" fill="url(#bg13)"/>
<ellipse cx="922.2" cy="1032.5" rx="4" ry="4" fill="url(#bg3)"/>
<ellipse cx="922.2" cy="1042.2" rx="3" ry="3" fill="url(#bg7)"/>
<clipPath id="mc11"><rect x="608.8" y="1031.7" width="384.80000000000007" height="195.5999999999999"/></clipPath>
<g clip-path="url(#mc11)">
<path d="M589.4 1081.1L596.7 1083.5M618.5 1081.1L611.2 1083.5M618.5 1081.1L625.8 1083.5M647.6 1081.1L640.3 1083.5M647.6 1081.1L654.9 1083.5M676.7 1081.1L669.4 1083.5M676.7 1081.1L684 1083.5M705.8 1081.1L698.5 1083.5M705.8 1081.1L713.1 1083.5M734.9 1081.1L727.6 1083.5M734.9 1081.1L742.2 1083.5M851.3 1081.1L844 1083.5M851.3 1081.1L858.6 1083.5M880.4 1081.1L873.1 1083.5M880.4 1081.1L887.7 1083.5M909.5 1081.1L902.2 1083.5M909.5 1081.1L916.8 1083.5M938.6 1081.1L931.3 1083.5M938.6 1081.1L945.9 1083.5M967.7 1081.1L960.4 1083.5M967.7 1081.1L975 1083.5M996.8 1081.1L989.5 1083.5M996.8 1081.1L1004.1 1083.5M603.9 1107.4L603.9 1096.7M603.9 1107.4L596.7 1112.3M603.9 1107.4L611.2 1112.3M633 1107.4L633 1096.7M633 1107.4L625.8 1112.3M633 1107.4L640.3 1112.3M662.1 1107.4L662.1 1096.7M662.1 1107.4L654.9 1112.3M662.1 1107.4L669.4 1112.3M691.2 1107.4L691.2 1096.7M691.2 1107.4L684 1112.3M691.2 1107.4L698.5 1112.3M720.3 1107.4L720.3 1096.7M720.3 1107.4L713.1 1112.3M720.3 1107.4L727.6 1112.3M749.4 1107.4L749.4 1096.7M749.4 1107.4L742.2 1112.3M749.4 1107.4L756.7 1112.3M865.8 1107.4L865.8 1096.7M865.8 1107.4L858.6 1112.3M865.8 1107.4L873.1 1112.3M895 1107.4L895 1096.7M895 1107.4L887.7 1112.3M895 1107.4L902.2 1112.3M924 1107.4L924 1096.7M924 1107.4L916.8 1112.3M924 1107.4L931.3 1112.3M953.1 1107.4L953.1 1096.7M953.1 1107.4L945.9 1112.3M953.1 1107.4L960.4 1112.3M982.2 1107.4L982.2 1096.7M982.2 1107.4L975 1112.3M982.2 1107.4L989.5 1112.3M1011.3 1107.4L1011.3 1096.7M1011.3 1107.4L1004.1 1112.3M589.4 1135.6L589.4 1126.4M589.4 1135.6L596.7 1140.5M618.5 1135.6L618.5 1126.4M618.5 1135.6L611.2 1140.5M618.5 1135.6L625.8 1140.5M647.6 1135.6L647.6 1126.4M647.6 1135.6L640.3 1140.5M647.6 1135.6L654.9 1140.5M676.7 1135.6L676.7 1126.4M676.7 1135.6L669.4 1140.5M676.7 1135.6L684 1140.5M705.8 1135.6L705.8 1126.4M705.8 1135.6L698.5 1140.5M705.8 1135.6L713.1 1140.5M734.9 1135.6L734.9 1126.4M734.9 1135.6L727.6 1140.5M734.9 1135.6L742.2 1140.5M851.3 1135.6L851.3 1126.4M851.3 1135.6L844 1140.5M851.3 1135.6L858.6 1140.5M880.4 1135.6L880.4 1126.4M880.4 1135.6L873.1 1140.5M880.4 1135.6L887.7 1140.5M909.5 1135.6L909.5 1126.4M909.5 1135.6L902.2 1140.5M909.5 1135.6L916.8 1140.5M938.6 1135.6L938.6 1126.4M938.6 1135.6L931.3 1140.5M938.6 1135.6L945.9 1140.5M967.7 1135.6L967.7 1126.4M967.7 1135.6L960.4 1140.5M967.7 1135.6L975 1140.5M996.8 1135.6L996.8 1126.4M996.8 1135.6L989.5 1140.5M996.8 1135.6L1004.1 1140.5M603.9 1166.8L603.9 1156.1M603.9 1166.8L596.7 1169.7M603.9 1166.8L611.2 1169.7M633 1166.8L633 1156.1M633 1166.8L625.8 1169.7M633 1166.8L640.3 1169.7M662.1 1166.8L662.1 1156.1M662.1 1166.8L654.9 1169.7M662.1 1166.8L669.4 1169.7M691.2 1166.8L691.2 1156.1M691.2 1166.8L684 1169.7M691.2 1166.8L698.5 1169.7M720.3 1166.8L720.3 1156.1M720.3 1166.8L713.1 1169.7M720.3 1166.8L727.6 1169.7M749.4 1166.8L749.4 1156.1M749.4 1166.8L742.2 1169.7M749.4 1166.8L756.7 1169.7M865.8 1166.8L865.8 1156.1M865.8 1166.8L858.6 1169.7M865.8 1166.8L873.1 1169.7M895 1166.8L895 1156.1M895 1166.8L887.7 1169.7M895 1166.8L902.2 1169.7M924 1166.8L924 1156.1M924 1166.8L916.8 1169.7M924 1166.8L931.3 1169.7M953.1 1166.8L953.1 1156.1M953.1 1166.8L945.9 1169.7M953.1 1166.8L960.4 1169.7M982.2 1166.8L982.2 1156.1M982.2 1166.8L975 1169.7M982.2 1166.8L989.5 1169.7M1011.3 1166.8L1011.3 1156.1M1011.3 1166.8L1004.1 1169.7" stroke="#2b42e2" stroke-width="2.0" fill="none"/>
<path d="M596.7 1083.5L603.9 1086M611.2 1083.5L603.9 1086M625.8 1083.5L633 1086M640.3 1083.5L633 1086M654.9 1083.5L662.1 1086M669.4 1083.5L662.1 1086M684 1083.5L691.2 1086M698.5 1083.5L691.2 1086M713.1 1083.5L720.3 1086M727.6 1083.5L720.3 1086M742.2 1083.5L749.4 1086M756.7 1083.5L749.4 1086M771.3 1083.5L778.5 1086M785.8 1083.5L778.5 1086M800.4 1083.5L807.6 1086M814.9 1083.5L807.6 1086M829.5 1083.5L836.8 1086M844 1083.5L836.8 1086M858.6 1083.5L865.8 1086M873.1 1083.5L865.8 1086M887.7 1083.5L895 1086M902.2 1083.5L895 1086M916.8 1083.5L924 1086M931.3 1083.5L924 1086M945.9 1083.5L953.1 1086M960.4 1083.5L953.1 1086M975 1083.5L982.2 1086M989.5 1083.5L982.2 1086M1004.1 1083.5L1011.3 1086M603.9 1096.7L603.9 1086M596.7 1112.3L589.4 1117.2M611.2 1112.3L618.5 1117.2M633 1096.7L633 1086M625.8 1112.3L618.5 1117.2M640.3 1112.3L647.6 1117.2M662.1 1096.7L662.1 1086M654.9 1112.3L647.6 1117.2M669.4 1112.3L676.7 1117.2M691.2 1096.7L691.2 1086M684 1112.3L676.7 1117.2M698.5 1112.3L705.8 1117.2M720.3 1096.7L720.3 1086M713.1 1112.3L705.8 1117.2M727.6 1112.3L734.9 1117.2M749.4 1096.7L749.4 1086M742.2 1112.3L734.9 1117.2M756.7 1112.3L764 1117.2M778.5 1096.7L778.5 1086M771.3 1112.3L764 1117.2M785.8 1112.3L793.1 1117.2M807.6 1096.7L807.6 1086M800.4 1112.3L793.1 1117.2M814.9 1112.3L822.2 1117.2M836.8 1096.7L836.8 1086M829.5 1112.3L822.2 1117.2M844 1112.3L851.3 1117.2M865.8 1096.7L865.8 1086M858.6 1112.3L851.3 1117.2M873.1 1112.3L880.4 1117.2M895 1096.7L895 1086M887.7 1112.3L880.4 1117.2M902.2 1112.3L909.5 1117.2M924 1096.7L924 1086M916.8 1112.3L909.5 1117.2M931.3 1112.3L938.6 1117.2M953.1 1096.7L953.1 1086M945.9 1112.3L938.6 1117.2M960.4 1112.3L967.7 1117.2M982.2 1096.7L982.2 1086M975 1112.3L967.7 1117.2M989.5 1112.3L996.8 1117.2M1011.3 1096.7L1011.3 1086M1004.1 1112.3L996.8 1117.2M589.4 1126.4L589.4 1117.2M596.7 1140.5L603.9 1145.4M618.5 1126.4L618.5 1117.2M611.2 1140.5L603.9 1145.4M625.8 1140.5L633 1145.4M647.6 1126.4L647.6 1117.2M640.3 1140.5L633 1145.4M654.9 1140.5L662.1 1145.4M676.7 1126.4L676.7 1117.2M669.4 1140.5L662.1 1145.4M684 1140.5L691.2 1145.4M705.8 1126.4L705.8 1117.2M698.5 1140.5L691.2 1145.4M713.1 1140.5L720.3 1145.4M734.9 1126.4L734.9 1117.2M727.6 1140.5L720.3 1145.4M742.2 1140.5L749.4 1145.4M764 1126.4L764 1117.2M756.7 1140.5L749.4 1145.4M771.3 1140.5L778.5 1145.4M793.1 1126.4L793.1 1117.2M785.8 1140.5L778.5 1145.4M800.4 1140.5L807.6 1145.4M822.2 1126.4L822.2 1117.2M814.9 1140.5L807.6 1145.4M829.5 1140.5L836.8 1145.4M851.3 1126.4L851.3 1117.2M844 1140.5L836.8 1145.4M858.6 1140.5L865.8 1145.4M880.4 1126.4L880.4 1117.2M873.1 1140.5L865.8 1145.4M887.7 1140.5L895 1145.4M909.5 1126.4L909.5 1117.2M902.2 1140.5L895 1145.4M916.8 1140.5L924 1145.4M938.6 1126.4L938.6 1117.2M931.3 1140.5L924 1145.4M945.9 1140.5L953.1 1145.4M967.7 1126.4L967.7 1117.2M960.4 1140.5L953.1 1145.4M975 1140.5L982.2 1145.4M996.8 1126.4L996.8 1117.2M989.5 1140.5L982.2 1145.4M1004.1 1140.5L1011.3 1145.4M603.9 1156.1L603.9 1145.4M596.7 1169.7L589.4 1172.6M611.2 1169.7L618.5 1172.6M633 1156.1L633 1145.4M625.8 1169.7L618.5 1172.6M640.3 1169.7L647.6 1172.6M662.1 1156.1L662.1 1145.4M654.9 1169.7L647.6 1172.6M669.4 1169.7L676.7 1172.6M691.2 1156.1L691.2 1145.4M684 1169.7L676.7 1172.6M698.5 1169.7L705.8 1172.6M720.3 1156.1L720.3 1145.4M713.1 1169.7L705.8 1172.6M727.6 1169.7L734.9 1172.6M749.4 1156.1L749.4 1145.4M742.2 1169.7L734.9 1172.6M756.7 1169.7L764 1172.6M778.5 1156.1L778.5 1145.4M771.3 1169.7L764 1172.6M785.8 1169.7L793.1 1172.6M807.6 1156.1L807.6 1145.4M800.4 1169.7L793.1 1172.6M814.9 1169.7L822.2 1172.6M836.8 1156.1L836.8 1145.4M829.5 1169.7L822.2 1172.6M844 1169.7L851.3 1172.6M865.8 1156.1L865.8 1145.4M858.6 1169.7L851.3 1172.6M873.1 1169.7L880.4 1172.6M895 1156.1L895 1145.4M887.7 1169.7L880.4 1172.6M902.2 1169.7L909.5 1172.6M924 1156.1L924 1145.4M916.8 1169.7L909.5 1172.6M931.3 1169.7L938.6 1172.6M953.1 1156.1L953.1 1145.4M945.9 1169.7L938.6 1172.6M960.4 1169.7L967.7 1172.6M982.2 1156.1L982.2 1145.4M975 1169.7L967.7 1172.6M989.5 1169.7L996.8 1172.6M1011.3 1156.1L1011.3 1145.4M1004.1 1169.7L996.8 1172.6" stroke="#f4f03c" stroke-width="2.0" fill="none"/>
<path d="M764 1081.1L756.7 1083.5M764 1081.1L771.3 1083.5M793.1 1081.1L785.8 1083.5M793.1 1081.1L800.4 1083.5M822.2 1081.1L814.9 1083.5M822.2 1081.1L829.5 1083.5M778.5 1107.4L778.5 1096.7M778.5 1107.4L771.3 1112.3M778.5 1107.4L785.8 1112.3M807.6 1107.4L807.6 1096.7M807.6 1107.4L800.4 1112.3M807.6 1107.4L814.9 1112.3M836.8 1107.4L836.8 1096.7M836.8 1107.4L829.5 1112.3M836.8 1107.4L844 1112.3M764 1135.6L764 1126.4M764 1135.6L756.7 1140.5M764 1135.6L771.3 1140.5M793.1 1135.6L793.1 1126.4M793.1 1135.6L785.8 1140.5M793.1 1135.6L800.4 1140.5M822.2 1135.6L822.2 1126.4M822.2 1135.6L814.9 1140.5M822.2 1135.6L829.5 1140.5M778.5 1166.8L778.5 1156.1M778.5 1166.8L771.3 1169.7M778.5 1166.8L785.8 1169.7M807.6 1166.8L807.6 1156.1M807.6 1166.8L800.4 1169.7M807.6 1166.8L814.9 1169.7M836.8 1166.8L836.8 1156.1M836.8 1166.8L829.5 1169.7M836.8 1166.8L844 1169.7" stroke="#8adbe6" stroke-width="2.0" fill="none"/>
<g fill="url(#gB)"><circle cx="589.4" cy="1081.1" r="3.9"/><circle cx="618.5" cy="1081.1" r="3.9"/><circle cx="647.6" cy="1081.1" r="3.9"/><circle cx="676.7" cy="1081.1" r="3.9"/><circle cx="705.8" cy="1081.1" r="3.9"/><circle cx="734.9" cy="1081.1" r="3.9"/><circle cx="851.3" cy="1081.1" r="3.9"/><circle cx="880.4" cy="1081.1" r="3.9"/><circle cx="909.5" cy="1081.1" r="3.9"/><circle cx="938.6" cy="1081.1" r="3.9"/><circle cx="967.7" cy="1081.1" r="3.9"/><circle cx="996.8" cy="1081.1" r="3.9"/><circle cx="603.9" cy="1107.4" r="3.9"/><circle cx="633" cy="1107.4" r="3.9"/><circle cx="662.1" cy="1107.4" r="3.9"/><circle cx="691.2" cy="1107.4" r="3.9"/><circle cx="720.3" cy="1107.4" r="3.9"/><circle cx="749.4" cy="1107.4" r="3.9"/><circle cx="865.8" cy="1107.4" r="3.9"/><circle cx="895" cy="1107.4" r="3.9"/><circle cx="924" cy="1107.4" r="3.9"/><circle cx="953.1" cy="1107.4" r="3.9"/><circle cx="982.2" cy="1107.4" r="3.9"/><circle cx="1011.3" cy="1107.4" r="3.9"/><circle cx="589.4" cy="1135.6" r="3.9"/><circle cx="618.5" cy="1135.6" r="3.9"/><circle cx="647.6" cy="1135.6" r="3.9"/><circle cx="676.7" cy="1135.6" r="3.9"/><circle cx="705.8" cy="1135.6" r="3.9"/><circle cx="734.9" cy="1135.6" r="3.9"/><circle cx="851.3" cy="1135.6" r="3.9"/><circle cx="880.4" cy="1135.6" r="3.9"/><circle cx="909.5" cy="1135.6" r="3.9"/><circle cx="938.6" cy="1135.6" r="3.9"/><circle cx="967.7" cy="1135.6" r="3.9"/><circle cx="996.8" cy="1135.6" r="3.9"/><circle cx="603.9" cy="1166.8" r="3.9"/><circle cx="633" cy="1166.8" r="3.9"/><circle cx="662.1" cy="1166.8" r="3.9"/><circle cx="691.2" cy="1166.8" r="3.9"/><circle cx="720.3" cy="1166.8" r="3.9"/><circle cx="749.4" cy="1166.8" r="3.9"/><circle cx="865.8" cy="1166.8" r="3.9"/><circle cx="895" cy="1166.8" r="3.9"/><circle cx="924" cy="1166.8" r="3.9"/><circle cx="953.1" cy="1166.8" r="3.9"/><circle cx="982.2" cy="1166.8" r="3.9"/><circle cx="1011.3" cy="1166.8" r="3.9"/></g>
<g fill="url(#gY)"><circle cx="603.9" cy="1086" r="3.6"/><circle cx="633" cy="1086" r="3.6"/><circle cx="662.1" cy="1086" r="3.6"/><circle cx="691.2" cy="1086" r="3.6"/><circle cx="720.3" cy="1086" r="3.6"/><circle cx="749.4" cy="1086" r="3.6"/><circle cx="778.5" cy="1086" r="3.6"/><circle cx="807.6" cy="1086" r="3.6"/><circle cx="836.8" cy="1086" r="3.6"/><circle cx="865.8" cy="1086" r="3.6"/><circle cx="895" cy="1086" r="3.6"/><circle cx="924" cy="1086" r="3.6"/><circle cx="953.1" cy="1086" r="3.6"/><circle cx="982.2" cy="1086" r="3.6"/><circle cx="1011.3" cy="1086" r="3.6"/><circle cx="589.4" cy="1117.2" r="3.6"/><circle cx="618.5" cy="1117.2" r="3.6"/><circle cx="647.6" cy="1117.2" r="3.6"/><circle cx="676.7" cy="1117.2" r="3.6"/><circle cx="705.8" cy="1117.2" r="3.6"/><circle cx="734.9" cy="1117.2" r="3.6"/><circle cx="764" cy="1117.2" r="3.6"/><circle cx="793.1" cy="1117.2" r="3.6"/><circle cx="822.2" cy="1117.2" r="3.6"/><circle cx="851.3" cy="1117.2" r="3.6"/><circle cx="880.4" cy="1117.2" r="3.6"/><circle cx="909.5" cy="1117.2" r="3.6"/><circle cx="938.6" cy="1117.2" r="3.6"/><circle cx="967.7" cy="1117.2" r="3.6"/><circle cx="996.8" cy="1117.2" r="3.6"/><circle cx="603.9" cy="1145.4" r="3.6"/><circle cx="633" cy="1145.4" r="3.6"/><circle cx="662.1" cy="1145.4" r="3.6"/><circle cx="691.2" cy="1145.4" r="3.6"/><circle cx="720.3" cy="1145.4" r="3.6"/><circle cx="749.4" cy="1145.4" r="3.6"/><circle cx="778.5" cy="1145.4" r="3.6"/><circle cx="807.6" cy="1145.4" r="3.6"/><circle cx="836.8" cy="1145.4" r="3.6"/><circle cx="865.8" cy="1145.4" r="3.6"/><circle cx="895" cy="1145.4" r="3.6"/><circle cx="924" cy="1145.4" r="3.6"/><circle cx="953.1" cy="1145.4" r="3.6"/><circle cx="982.2" cy="1145.4" r="3.6"/><circle cx="1011.3" cy="1145.4" r="3.6"/><circle cx="589.4" cy="1172.6" r="3.6"/><circle cx="618.5" cy="1172.6" r="3.6"/><circle cx="647.6" cy="1172.6" r="3.6"/><circle cx="676.7" cy="1172.6" r="3.6"/><circle cx="705.8" cy="1172.6" r="3.6"/><circle cx="734.9" cy="1172.6" r="3.6"/><circle cx="764" cy="1172.6" r="3.6"/><circle cx="793.1" cy="1172.6" r="3.6"/><circle cx="822.2" cy="1172.6" r="3.6"/><circle cx="851.3" cy="1172.6" r="3.6"/><circle cx="880.4" cy="1172.6" r="3.6"/><circle cx="909.5" cy="1172.6" r="3.6"/><circle cx="938.6" cy="1172.6" r="3.6"/><circle cx="967.7" cy="1172.6" r="3.6"/><circle cx="996.8" cy="1172.6" r="3.6"/></g>
<g fill="url(#gC)"><circle cx="764" cy="1081.1" r="3.9"/><circle cx="793.1" cy="1081.1" r="3.9"/><circle cx="822.2" cy="1081.1" r="3.9"/><circle cx="778.5" cy="1107.4" r="3.9"/><circle cx="807.6" cy="1107.4" r="3.9"/><circle cx="836.8" cy="1107.4" r="3.9"/><circle cx="764" cy="1135.6" r="3.9"/><circle cx="793.1" cy="1135.6" r="3.9"/><circle cx="822.2" cy="1135.6" r="3.9"/><circle cx="778.5" cy="1166.8" r="3.9"/><circle cx="807.6" cy="1166.8" r="3.9"/><circle cx="836.8" cy="1166.8" r="3.9"/></g>
</g>
<rect x="608.8" y="1061.7" width="60.90000000000009" height="135.5999999999999" fill="#bcbcbc" style="mix-blend-mode:multiply"/>
<rect x="932.8" y="1061.7" width="60.80000000000007" height="135.5999999999999" fill="#bcbcbc" style="mix-blend-mode:multiply"/>
<ellipse cx="677.9" cy="1168.7" rx="7.4" ry="7.4" fill="url(#bg14)"/>
<ellipse cx="677.9" cy="1180.4" rx="6.8" ry="6.8" fill="url(#bg1)"/>
<ellipse cx="707.1" cy="1168.7" rx="6.8" ry="6.8" fill="url(#bg1)"/>
<ellipse cx="707.1" cy="1179.4" rx="6.2" ry="6.2" fill="url(#bg15)"/>
<ellipse cx="737.2" cy="1169.7" rx="5.8" ry="5.8" fill="url(#bg4)"/>
<ellipse cx="737.2" cy="1180.4" rx="5" ry="5" fill="url(#bg1)"/>
<ellipse cx="850.1" cy="1170.7" rx="3.5" ry="3.5" fill="url(#bg1)"/>
<ellipse cx="850.1" cy="1179.4" rx="3" ry="3" fill="url(#bg4)"/>
<ellipse cx="879.3" cy="1169.7" rx="4" ry="4" fill="url(#bg8)"/>
<ellipse cx="879.3" cy="1179.4" rx="3.5" ry="3.5" fill="url(#bg12)"/>
<ellipse cx="909.5" cy="1169.7" rx="4" ry="4" fill="url(#bg12)"/>
<ellipse cx="909.5" cy="1179.4" rx="3.5" ry="3.5" fill="url(#bg5)"/>
<clipPath id="mc12"><rect x="610.7" y="1175.7" width="382.9" height="190.39999999999986"/></clipPath>
<g clip-path="url(#mc12)">
<path d="M617.5 1222.3L610.5 1225.2M617.5 1222.3L624.5 1225.2M645.4 1222.3L638.4 1225.2M645.4 1222.3L652.3 1225.2M673.2 1222.3L666.2 1225.2M673.2 1222.3L680.2 1225.2M701 1222.3L694.1 1225.2M701 1222.3L708 1225.2M728.9 1222.3L721.9 1225.2M728.9 1222.3L735.9 1225.2M868.1 1222.3L861.2 1225.2M868.1 1222.3L875.1 1225.2M896 1222.3L889 1225.2M896 1222.3L903 1225.2M923.9 1222.3L916.9 1225.2M923.9 1222.3L930.8 1225.2M951.7 1222.3L944.7 1225.2M951.7 1222.3L958.7 1225.2M979.5 1222.3L972.6 1225.2M979.5 1222.3L986.5 1225.2M1007.4 1222.3L1000.4 1225.2M603.6 1248.5L603.6 1238.3M603.6 1248.5L610.5 1253.4M631.4 1248.5L631.4 1238.3M631.4 1248.5L624.5 1253.4M631.4 1248.5L638.4 1253.4M659.3 1248.5L659.3 1238.3M659.3 1248.5L652.3 1253.4M659.3 1248.5L666.2 1253.4M687.1 1248.5L687.1 1238.3M687.1 1248.5L680.2 1253.4M687.1 1248.5L694.1 1253.4M715 1248.5L715 1238.3M715 1248.5L708 1253.4M715 1248.5L721.9 1253.4M742.8 1248.5L742.8 1238.3M742.8 1248.5L735.9 1253.4M742.8 1248.5L749.8 1253.4M854.2 1248.5L854.2 1238.3M854.2 1248.5L847.3 1253.4M854.2 1248.5L861.2 1253.4M882.1 1248.5L882.1 1238.3M882.1 1248.5L875.1 1253.4M882.1 1248.5L889 1253.4M909.9 1248.5L909.9 1238.3M909.9 1248.5L903 1253.4M909.9 1248.5L916.9 1253.4M937.8 1248.5L937.8 1238.3M937.8 1248.5L930.8 1253.4M937.8 1248.5L944.7 1253.4M965.6 1248.5L965.6 1238.3M965.6 1248.5L958.7 1253.4M965.6 1248.5L972.6 1253.4M993.5 1248.5L993.5 1238.3M993.5 1248.5L986.5 1253.4M993.5 1248.5L1000.4 1253.4M617.5 1276.8L617.5 1267.5M617.5 1276.8L610.5 1281.7M617.5 1276.8L624.5 1281.7M645.4 1276.8L645.4 1267.5M645.4 1276.8L638.4 1281.7M645.4 1276.8L652.3 1281.7M673.2 1276.8L673.2 1267.5M673.2 1276.8L666.2 1281.7M673.2 1276.8L680.2 1281.7M701 1276.8L701 1267.5M701 1276.8L694.1 1281.7M701 1276.8L708 1281.7M728.9 1276.8L728.9 1267.5M728.9 1276.8L721.9 1281.7M728.9 1276.8L735.9 1281.7M868.1 1276.8L868.1 1267.5M868.1 1276.8L861.2 1281.7M868.1 1276.8L875.1 1281.7M896 1276.8L896 1267.5M896 1276.8L889 1281.7M896 1276.8L903 1281.7M923.9 1276.8L923.9 1267.5M923.9 1276.8L916.9 1281.7M923.9 1276.8L930.8 1281.7M951.7 1276.8L951.7 1267.5M951.7 1276.8L944.7 1281.7M951.7 1276.8L958.7 1281.7M979.5 1276.8L979.5 1267.5M979.5 1276.8L972.6 1281.7M979.5 1276.8L986.5 1281.7M1007.4 1276.8L1007.4 1267.5M1007.4 1276.8L1000.4 1281.7M603.6 1307.9L603.6 1297.2M603.6 1307.9L610.5 1310.8M631.4 1307.9L631.4 1297.2M631.4 1307.9L624.5 1310.8M631.4 1307.9L638.4 1310.8M659.3 1307.9L659.3 1297.2M659.3 1307.9L652.3 1310.8M659.3 1307.9L666.2 1310.8M687.1 1307.9L687.1 1297.2M687.1 1307.9L680.2 1310.8M687.1 1307.9L694.1 1310.8M715 1307.9L715 1297.2M715 1307.9L708 1310.8M715 1307.9L721.9 1310.8M742.8 1307.9L742.8 1297.2M742.8 1307.9L735.9 1310.8M742.8 1307.9L749.8 1310.8M854.2 1307.9L854.2 1297.2M854.2 1307.9L847.3 1310.8M854.2 1307.9L861.2 1310.8M882.1 1307.9L882.1 1297.2M882.1 1307.9L875.1 1310.8M882.1 1307.9L889 1310.8M909.9 1307.9L909.9 1297.2M909.9 1307.9L903 1310.8M909.9 1307.9L916.9 1310.8M937.8 1307.9L937.8 1297.2M937.8 1307.9L930.8 1310.8M937.8 1307.9L944.7 1310.8M965.6 1307.9L965.6 1297.2M965.6 1307.9L958.7 1310.8M965.6 1307.9L972.6 1310.8M993.5 1307.9L993.5 1297.2M993.5 1307.9L986.5 1310.8M993.5 1307.9L1000.4 1310.8" stroke="#2b42e2" stroke-width="2.0" fill="none"/>
<path d="M610.5 1225.2L603.6 1228.1M624.5 1225.2L631.4 1228.1M638.4 1225.2L631.4 1228.1M652.3 1225.2L659.3 1228.1M666.2 1225.2L659.3 1228.1M680.2 1225.2L687.1 1228.1M694.1 1225.2L687.1 1228.1M708 1225.2L715 1228.1M721.9 1225.2L715 1228.1M735.9 1225.2L742.8 1228.1M749.8 1225.2L742.8 1228.1M763.7 1225.2L770.7 1228.1M777.6 1225.2L770.7 1228.1M791.6 1225.2L798.5 1228.1M805.5 1225.2L798.5 1228.1M819.4 1225.2L826.4 1228.1M833.3 1225.2L826.4 1228.1M847.3 1225.2L854.2 1228.1M861.2 1225.2L854.2 1228.1M875.1 1225.2L882.1 1228.1M889 1225.2L882.1 1228.1M903 1225.2L909.9 1228.1M916.9 1225.2L909.9 1228.1M930.8 1225.2L937.8 1228.1M944.7 1225.2L937.8 1228.1M958.7 1225.2L965.6 1228.1M972.6 1225.2L965.6 1228.1M986.5 1225.2L993.5 1228.1M1000.4 1225.2L993.5 1228.1M603.6 1238.3L603.6 1228.1M610.5 1253.4L617.5 1258.3M631.4 1238.3L631.4 1228.1M624.5 1253.4L617.5 1258.3M638.4 1253.4L645.4 1258.3M659.3 1238.3L659.3 1228.1M652.3 1253.4L645.4 1258.3M666.2 1253.4L673.2 1258.3M687.1 1238.3L687.1 1228.1M680.2 1253.4L673.2 1258.3M694.1 1253.4L701 1258.3M715 1238.3L715 1228.1M708 1253.4L701 1258.3M721.9 1253.4L728.9 1258.3M742.8 1238.3L742.8 1228.1M735.9 1253.4L728.9 1258.3M749.8 1253.4L756.8 1258.3M770.7 1238.3L770.7 1228.1M763.7 1253.4L756.8 1258.3M777.6 1253.4L784.6 1258.3M798.5 1238.3L798.5 1228.1M791.6 1253.4L784.6 1258.3M805.5 1253.4L812.5 1258.3M826.4 1238.3L826.4 1228.1M819.4 1253.4L812.5 1258.3M833.3 1253.4L840.3 1258.3M854.2 1238.3L854.2 1228.1M847.3 1253.4L840.3 1258.3M861.2 1253.4L868.1 1258.3M882.1 1238.3L882.1 1228.1M875.1 1253.4L868.1 1258.3M889 1253.4L896 1258.3M909.9 1238.3L909.9 1228.1M903 1253.4L896 1258.3M916.9 1253.4L923.9 1258.3M937.8 1238.3L937.8 1228.1M930.8 1253.4L923.9 1258.3M944.7 1253.4L951.7 1258.3M965.6 1238.3L965.6 1228.1M958.7 1253.4L951.7 1258.3M972.6 1253.4L979.5 1258.3M993.5 1238.3L993.5 1228.1M986.5 1253.4L979.5 1258.3M1000.4 1253.4L1007.4 1258.3M617.5 1267.5L617.5 1258.3M610.5 1281.7L603.6 1286.5M624.5 1281.7L631.4 1286.5M645.4 1267.5L645.4 1258.3M638.4 1281.7L631.4 1286.5M652.3 1281.7L659.3 1286.5M673.2 1267.5L673.2 1258.3M666.2 1281.7L659.3 1286.5M680.2 1281.7L687.1 1286.5M701 1267.5L701 1258.3M694.1 1281.7L687.1 1286.5M708 1281.7L715 1286.5M728.9 1267.5L728.9 1258.3M721.9 1281.7L715 1286.5M735.9 1281.7L742.8 1286.5M756.8 1267.5L756.8 1258.3M749.8 1281.7L742.8 1286.5M763.7 1281.7L770.7 1286.5M784.6 1267.5L784.6 1258.3M777.6 1281.7L770.7 1286.5M791.6 1281.7L798.5 1286.5M812.5 1267.5L812.5 1258.3M805.5 1281.7L798.5 1286.5M819.4 1281.7L826.4 1286.5M840.3 1267.5L840.3 1258.3M833.3 1281.7L826.4 1286.5M847.3 1281.7L854.2 1286.5M868.1 1267.5L868.1 1258.3M861.2 1281.7L854.2 1286.5M875.1 1281.7L882.1 1286.5M896 1267.5L896 1258.3M889 1281.7L882.1 1286.5M903 1281.7L909.9 1286.5M923.9 1267.5L923.9 1258.3M916.9 1281.7L909.9 1286.5M930.8 1281.7L937.8 1286.5M951.7 1267.5L951.7 1258.3M944.7 1281.7L937.8 1286.5M958.7 1281.7L965.6 1286.5M979.5 1267.5L979.5 1258.3M972.6 1281.7L965.6 1286.5M986.5 1281.7L993.5 1286.5M1007.4 1267.5L1007.4 1258.3M1000.4 1281.7L993.5 1286.5M603.6 1297.2L603.6 1286.5M610.5 1310.8L617.5 1313.8M631.4 1297.2L631.4 1286.5M624.5 1310.8L617.5 1313.8M638.4 1310.8L645.4 1313.8M659.3 1297.2L659.3 1286.5M652.3 1310.8L645.4 1313.8M666.2 1310.8L673.2 1313.8M687.1 1297.2L687.1 1286.5M680.2 1310.8L673.2 1313.8M694.1 1310.8L701 1313.8M715 1297.2L715 1286.5M708 1310.8L701 1313.8M721.9 1310.8L728.9 1313.8M742.8 1297.2L742.8 1286.5M735.9 1310.8L728.9 1313.8M749.8 1310.8L756.8 1313.8M770.7 1297.2L770.7 1286.5M763.7 1310.8L756.8 1313.8M777.6 1310.8L784.6 1313.8M798.5 1297.2L798.5 1286.5M791.6 1310.8L784.6 1313.8M805.5 1310.8L812.5 1313.8M826.4 1297.2L826.4 1286.5M819.4 1310.8L812.5 1313.8M833.3 1310.8L840.3 1313.8M854.2 1297.2L854.2 1286.5M847.3 1310.8L840.3 1313.8M861.2 1310.8L868.1 1313.8M882.1 1297.2L882.1 1286.5M875.1 1310.8L868.1 1313.8M889 1310.8L896 1313.8M909.9 1297.2L909.9 1286.5M903 1310.8L896 1313.8M916.9 1310.8L923.9 1313.8M937.8 1297.2L937.8 1286.5M930.8 1310.8L923.9 1313.8M944.7 1310.8L951.7 1313.8M965.6 1297.2L965.6 1286.5M958.7 1310.8L951.7 1313.8M972.6 1310.8L979.5 1313.8M993.5 1297.2L993.5 1286.5M986.5 1310.8L979.5 1313.8M1000.4 1310.8L1007.4 1313.8" stroke="#f4f03c" stroke-width="2.0" fill="none"/>
<path d="M756.8 1222.3L749.8 1225.2M756.8 1222.3L763.7 1225.2M784.6 1222.3L777.6 1225.2M784.6 1222.3L791.6 1225.2M812.5 1222.3L805.5 1225.2M812.5 1222.3L819.4 1225.2M840.3 1222.3L833.3 1225.2M840.3 1222.3L847.3 1225.2M770.7 1248.5L770.7 1238.3M770.7 1248.5L763.7 1253.4M770.7 1248.5L777.6 1253.4M798.5 1248.5L798.5 1238.3M798.5 1248.5L791.6 1253.4M798.5 1248.5L805.5 1253.4M826.4 1248.5L826.4 1238.3M826.4 1248.5L819.4 1253.4M826.4 1248.5L833.3 1253.4M756.8 1276.8L756.8 1267.5M756.8 1276.8L749.8 1281.7M756.8 1276.8L763.7 1281.7M784.6 1276.8L784.6 1267.5M784.6 1276.8L777.6 1281.7M784.6 1276.8L791.6 1281.7M812.5 1276.8L812.5 1267.5M812.5 1276.8L805.5 1281.7M812.5 1276.8L819.4 1281.7M840.3 1276.8L840.3 1267.5M840.3 1276.8L833.3 1281.7M840.3 1276.8L847.3 1281.7M770.7 1307.9L770.7 1297.2M770.7 1307.9L763.7 1310.8M770.7 1307.9L777.6 1310.8M798.5 1307.9L798.5 1297.2M798.5 1307.9L791.6 1310.8M798.5 1307.9L805.5 1310.8M826.4 1307.9L826.4 1297.2M826.4 1307.9L819.4 1310.8M826.4 1307.9L833.3 1310.8" stroke="#8adbe6" stroke-width="2.0" fill="none"/>
<g fill="url(#gY)"><circle cx="603.6" cy="1228.1" r="3.4"/><circle cx="631.4" cy="1228.1" r="3.4"/><circle cx="659.3" cy="1228.1" r="3.4"/><circle cx="687.1" cy="1228.1" r="3.4"/><circle cx="715" cy="1228.1" r="3.4"/><circle cx="742.8" cy="1228.1" r="3.4"/><circle cx="770.7" cy="1228.1" r="3.4"/><circle cx="798.5" cy="1228.1" r="3.4"/><circle cx="826.4" cy="1228.1" r="3.4"/><circle cx="854.2" cy="1228.1" r="3.4"/><circle cx="882.1" cy="1228.1" r="3.4"/><circle cx="909.9" cy="1228.1" r="3.4"/><circle cx="937.8" cy="1228.1" r="3.4"/><circle cx="965.6" cy="1228.1" r="3.4"/><circle cx="993.5" cy="1228.1" r="3.4"/><circle cx="617.5" cy="1258.3" r="3.4"/><circle cx="645.4" cy="1258.3" r="3.4"/><circle cx="673.2" cy="1258.3" r="3.4"/><circle cx="701" cy="1258.3" r="3.4"/><circle cx="728.9" cy="1258.3" r="3.4"/><circle cx="756.8" cy="1258.3" r="3.4"/><circle cx="784.6" cy="1258.3" r="3.4"/><circle cx="812.5" cy="1258.3" r="3.4"/><circle cx="840.3" cy="1258.3" r="3.4"/><circle cx="868.1" cy="1258.3" r="3.4"/><circle cx="896" cy="1258.3" r="3.4"/><circle cx="923.9" cy="1258.3" r="3.4"/><circle cx="951.7" cy="1258.3" r="3.4"/><circle cx="979.5" cy="1258.3" r="3.4"/><circle cx="1007.4" cy="1258.3" r="3.4"/><circle cx="603.6" cy="1286.5" r="3.4"/><circle cx="631.4" cy="1286.5" r="3.4"/><circle cx="659.3" cy="1286.5" r="3.4"/><circle cx="687.1" cy="1286.5" r="3.4"/><circle cx="715" cy="1286.5" r="3.4"/><circle cx="742.8" cy="1286.5" r="3.4"/><circle cx="770.7" cy="1286.5" r="3.4"/><circle cx="798.5" cy="1286.5" r="3.4"/><circle cx="826.4" cy="1286.5" r="3.4"/><circle cx="854.2" cy="1286.5" r="3.4"/><circle cx="882.1" cy="1286.5" r="3.4"/><circle cx="909.9" cy="1286.5" r="3.4"/><circle cx="937.8" cy="1286.5" r="3.4"/><circle cx="965.6" cy="1286.5" r="3.4"/><circle cx="993.5" cy="1286.5" r="3.4"/><circle cx="617.5" cy="1313.8" r="3.4"/><circle cx="645.4" cy="1313.8" r="3.4"/><circle cx="673.2" cy="1313.8" r="3.4"/><circle cx="701" cy="1313.8" r="3.4"/><circle cx="728.9" cy="1313.8" r="3.4"/><circle cx="756.8" cy="1313.8" r="3.4"/><circle cx="784.6" cy="1313.8" r="3.4"/><circle cx="812.5" cy="1313.8" r="3.4"/><circle cx="840.3" cy="1313.8" r="3.4"/><circle cx="868.1" cy="1313.8" r="3.4"/><circle cx="896" cy="1313.8" r="3.4"/><circle cx="923.9" cy="1313.8" r="3.4"/><circle cx="951.7" cy="1313.8" r="3.4"/><circle cx="979.5" cy="1313.8" r="3.4"/><circle cx="1007.4" cy="1313.8" r="3.4"/></g>
<g fill="url(#gB)"><circle cx="617.5" cy="1222.3" r="3.7"/><circle cx="645.4" cy="1222.3" r="3.7"/><circle cx="673.2" cy="1222.3" r="3.7"/><circle cx="701" cy="1222.3" r="3.7"/><circle cx="728.9" cy="1222.3" r="3.7"/><circle cx="868.1" cy="1222.3" r="3.7"/><circle cx="896" cy="1222.3" r="3.7"/><circle cx="923.9" cy="1222.3" r="3.7"/><circle cx="951.7" cy="1222.3" r="3.7"/><circle cx="979.5" cy="1222.3" r="3.7"/><circle cx="1007.4" cy="1222.3" r="3.7"/><circle cx="603.6" cy="1248.5" r="3.7"/><circle cx="631.4" cy="1248.5" r="3.7"/><circle cx="659.3" cy="1248.5" r="3.7"/><circle cx="687.1" cy="1248.5" r="3.7"/><circle cx="715" cy="1248.5" r="3.7"/><circle cx="742.8" cy="1248.5" r="3.7"/><circle cx="854.2" cy="1248.5" r="3.7"/><circle cx="882.1" cy="1248.5" r="3.7"/><circle cx="909.9" cy="1248.5" r="3.7"/><circle cx="937.8" cy="1248.5" r="3.7"/><circle cx="965.6" cy="1248.5" r="3.7"/><circle cx="993.5" cy="1248.5" r="3.7"/><circle cx="617.5" cy="1276.8" r="3.7"/><circle cx="645.4" cy="1276.8" r="3.7"/><circle cx="673.2" cy="1276.8" r="3.7"/><circle cx="701" cy="1276.8" r="3.7"/><circle cx="728.9" cy="1276.8" r="3.7"/><circle cx="868.1" cy="1276.8" r="3.7"/><circle cx="896" cy="1276.8" r="3.7"/><circle cx="923.9" cy="1276.8" r="3.7"/><circle cx="951.7" cy="1276.8" r="3.7"/><circle cx="979.5" cy="1276.8" r="3.7"/><circle cx="1007.4" cy="1276.8" r="3.7"/><circle cx="603.6" cy="1307.9" r="3.7"/><circle cx="631.4" cy="1307.9" r="3.7"/><circle cx="659.3" cy="1307.9" r="3.7"/><circle cx="687.1" cy="1307.9" r="3.7"/><circle cx="715" cy="1307.9" r="3.7"/><circle cx="742.8" cy="1307.9" r="3.7"/><circle cx="854.2" cy="1307.9" r="3.7"/><circle cx="882.1" cy="1307.9" r="3.7"/><circle cx="909.9" cy="1307.9" r="3.7"/><circle cx="937.8" cy="1307.9" r="3.7"/><circle cx="965.6" cy="1307.9" r="3.7"/><circle cx="993.5" cy="1307.9" r="3.7"/></g>
<g fill="url(#gC)"><circle cx="756.8" cy="1222.3" r="3.7"/><circle cx="784.6" cy="1222.3" r="3.7"/><circle cx="812.5" cy="1222.3" r="3.7"/><circle cx="840.3" cy="1222.3" r="3.7"/><circle cx="770.7" cy="1248.5" r="3.7"/><circle cx="798.5" cy="1248.5" r="3.7"/><circle cx="826.4" cy="1248.5" r="3.7"/><circle cx="756.8" cy="1276.8" r="3.7"/><circle cx="784.6" cy="1276.8" r="3.7"/><circle cx="812.5" cy="1276.8" r="3.7"/><circle cx="840.3" cy="1276.8" r="3.7"/><circle cx="770.7" cy="1307.9" r="3.7"/><circle cx="798.5" cy="1307.9" r="3.7"/><circle cx="826.4" cy="1307.9" r="3.7"/></g>
</g>
<rect x="610.7" y="1205.7" width="60.299999999999955" height="130.39999999999986" fill="#bcbcbc" style="mix-blend-mode:multiply"/>
<rect x="932.8" y="1204.7" width="60.80000000000007" height="130.5" fill="#bcbcbc" style="mix-blend-mode:multiply"/>
<ellipse cx="674" cy="1308.9" rx="6.8" ry="6.8" fill="url(#bg1)"/>
<ellipse cx="674" cy="1319.6" rx="6.8" ry="6.8" fill="url(#bg8)"/>
<ellipse cx="702.2" cy="1308.9" rx="6.8" ry="6.8" fill="url(#bg5)"/>
<ellipse cx="702.2" cy="1319.6" rx="6.4" ry="6.4" fill="url(#bg12)"/>
<ellipse cx="730.4" cy="1308.9" rx="5.4" ry="5.4" fill="url(#bg12)"/>
<ellipse cx="730.4" cy="1319.6" rx="5.4" ry="5.4" fill="url(#bg5)"/>
<ellipse cx="758.6" cy="1310.8" rx="3" ry="3" fill="url(#bg5)"/>
<ellipse cx="758.6" cy="1319.6" rx="2" ry="2" fill="url(#bg3)"/>
<ellipse cx="839.4" cy="1310.8" rx="4.3" ry="4.3" fill="url(#bg5)"/>
<ellipse cx="839.4" cy="1320.6" rx="3.5" ry="3.5" fill="url(#bg12)"/>
<ellipse cx="866.7" cy="1309.9" rx="4" ry="4" fill="url(#bg3)"/>
<ellipse cx="866.7" cy="1319.6" rx="3" ry="3" fill="url(#bg5)"/>
<ellipse cx="894.9" cy="1309.9" rx="4.3" ry="4.3" fill="url(#bg7)"/>
<ellipse cx="894.9" cy="1319.6" rx="3.5" ry="3.5" fill="url(#bg3)"/>
<ellipse cx="923.1" cy="1309.9" rx="4.3" ry="4.3" fill="url(#bg3)"/>
<ellipse cx="923.1" cy="1320.6" rx="3.5" ry="3.5" fill="url(#bg2)"/>
<clipPath id="mc13"><rect x="1656.6" y="748.2" width="387.3000000000002" height="195.69999999999993"/></clipPath>
<g clip-path="url(#mc13)">
<path d="M1664.2 797.4L1656.8 801.4M1664.2 797.4L1671.6 801.4M1693.9 797.4L1686.5 801.4M1693.9 797.4L1701.3 801.4M1723.6 797.4L1716.2 801.4M1723.6 797.4L1731 801.4M1753.3 797.4L1745.9 801.4M1753.3 797.4L1760.7 801.4M1783 797.4L1775.6 801.4M1783 797.4L1790.4 801.4M1901.8 797.4L1894.4 801.4M1901.8 797.4L1909.2 801.4M1931.5 797.4L1924.1 801.4M1931.5 797.4L1938.9 801.4M1961.2 797.4L1953.8 801.4M1961.2 797.4L1968.6 801.4M1990.9 797.4L1983.5 801.4M1990.9 797.4L1998.3 801.4M2020.6 797.4L2013.2 801.4M2020.6 797.4L2028 801.4M2050.3 797.4L2042.9 801.4M1649.3 834.7L1649.3 820M1649.3 834.7L1656.8 841.8M1679 834.7L1679 820M1679 834.7L1671.6 841.8M1679 834.7L1686.5 841.8M1708.8 834.7L1708.8 820M1708.8 834.7L1701.3 841.8M1708.8 834.7L1716.2 841.8M1738.5 834.7L1738.5 820M1738.5 834.7L1731 841.8M1738.5 834.7L1745.9 841.8M1768.1 834.7L1768.1 820M1768.1 834.7L1760.7 841.8M1768.1 834.7L1775.6 841.8M1797.8 834.7L1797.8 820M1797.8 834.7L1790.4 841.8M1797.8 834.7L1805.3 841.8M1916.6 834.7L1916.6 820M1916.6 834.7L1909.2 841.8M1916.6 834.7L1924.1 841.8M1946.3 834.7L1946.3 820M1946.3 834.7L1938.9 841.8M1946.3 834.7L1953.8 841.8M1976 834.7L1976 820M1976 834.7L1968.6 841.8M1976 834.7L1983.5 841.8M2005.8 834.7L2005.8 820M2005.8 834.7L1998.3 841.8M2005.8 834.7L2013.2 841.8M2035.4 834.7L2035.4 820M2035.4 834.7L2028 841.8M2035.4 834.7L2042.9 841.8M1664.2 879.1L1664.2 864M1664.2 879.1L1656.8 884.2M1664.2 879.1L1671.6 884.2M1693.9 879.1L1693.9 864M1693.9 879.1L1686.5 884.2M1693.9 879.1L1701.3 884.2M1723.6 879.1L1723.6 864M1723.6 879.1L1716.2 884.2M1723.6 879.1L1731 884.2M1753.3 879.1L1753.3 864M1753.3 879.1L1745.9 884.2M1753.3 879.1L1760.7 884.2M1783 879.1L1783 864M1783 879.1L1775.6 884.2M1783 879.1L1790.4 884.2M1901.8 879.1L1901.8 864M1901.8 879.1L1894.4 884.2M1901.8 879.1L1909.2 884.2M1931.5 879.1L1931.5 864M1931.5 879.1L1924.1 884.2M1931.5 879.1L1938.9 884.2M1961.2 879.1L1961.2 864M1961.2 879.1L1953.8 884.2M1961.2 879.1L1968.6 884.2M1990.9 879.1L1990.9 864M1990.9 879.1L1983.5 884.2M1990.9 879.1L1998.3 884.2M2020.6 879.1L2020.6 864M2020.6 879.1L2013.2 884.2M2020.6 879.1L2028 884.2M2050.3 879.1L2050.3 864M2050.3 879.1L2042.9 884.2" stroke="#4a3ee0" stroke-width="2.0" fill="none"/>
<path d="M1656.8 801.4L1649.3 805.4M1671.6 801.4L1679 805.4M1686.5 801.4L1679 805.4M1701.3 801.4L1708.8 805.4M1716.2 801.4L1708.8 805.4M1731 801.4L1738.5 805.4M1745.9 801.4L1738.5 805.4M1760.7 801.4L1768.1 805.4M1775.6 801.4L1768.1 805.4M1790.4 801.4L1797.8 805.4M1805.3 801.4L1797.8 805.4M1820.1 801.4L1827.5 805.4M1835 801.4L1827.5 805.4M1849.8 801.4L1857.2 805.4M1864.7 801.4L1857.2 805.4M1879.5 801.4L1887 805.4M1894.4 801.4L1887 805.4M1909.2 801.4L1916.6 805.4M1924.1 801.4L1916.6 805.4M1938.9 801.4L1946.3 805.4M1953.8 801.4L1946.3 805.4M1968.6 801.4L1976 805.4M1983.5 801.4L1976 805.4M1998.3 801.4L2005.8 805.4M2013.2 801.4L2005.8 805.4M2028 801.4L2035.4 805.4M2042.9 801.4L2035.4 805.4M1649.3 820L1649.3 805.4M1656.8 841.8L1664.2 848.9M1679 820L1679 805.4M1671.6 841.8L1664.2 848.9M1686.5 841.8L1693.9 848.9M1708.8 820L1708.8 805.4M1701.3 841.8L1693.9 848.9M1716.2 841.8L1723.6 848.9M1738.5 820L1738.5 805.4M1731 841.8L1723.6 848.9M1745.9 841.8L1753.3 848.9M1768.1 820L1768.1 805.4M1760.7 841.8L1753.3 848.9M1775.6 841.8L1783 848.9M1797.8 820L1797.8 805.4M1790.4 841.8L1783 848.9M1805.3 841.8L1812.7 848.9M1827.5 820L1827.5 805.4M1820.1 841.8L1812.7 848.9M1835 841.8L1842.4 848.9M1857.2 820L1857.2 805.4M1849.8 841.8L1842.4 848.9M1864.7 841.8L1872.1 848.9M1887 820L1887 805.4M1879.5 841.8L1872.1 848.9M1894.4 841.8L1901.8 848.9M1916.6 820L1916.6 805.4M1909.2 841.8L1901.8 848.9M1924.1 841.8L1931.5 848.9M1946.3 820L1946.3 805.4M1938.9 841.8L1931.5 848.9M1953.8 841.8L1961.2 848.9M1976 820L1976 805.4M1968.6 841.8L1961.2 848.9M1983.5 841.8L1990.9 848.9M2005.8 820L2005.8 805.4M1998.3 841.8L1990.9 848.9M2013.2 841.8L2020.6 848.9M2035.4 820L2035.4 805.4M2028 841.8L2020.6 848.9M2042.9 841.8L2050.3 848.9M1664.2 864L1664.2 848.9M1656.8 884.2L1649.3 889.2M1671.6 884.2L1679 889.2M1693.9 864L1693.9 848.9M1686.5 884.2L1679 889.2M1701.3 884.2L1708.8 889.2M1723.6 864L1723.6 848.9M1716.2 884.2L1708.8 889.2M1731 884.2L1738.5 889.2M1753.3 864L1753.3 848.9M1745.9 884.2L1738.5 889.2M1760.7 884.2L1768.1 889.2M1783 864L1783 848.9M1775.6 884.2L1768.1 889.2M1790.4 884.2L1797.8 889.2M1812.7 864L1812.7 848.9M1805.3 884.2L1797.8 889.2M1820.1 884.2L1827.5 889.2M1842.4 864L1842.4 848.9M1835 884.2L1827.5 889.2M1849.8 884.2L1857.2 889.2M1872.1 864L1872.1 848.9M1864.7 884.2L1857.2 889.2M1879.5 884.2L1887 889.2M1901.8 864L1901.8 848.9M1894.4 884.2L1887 889.2M1909.2 884.2L1916.6 889.2M1931.5 864L1931.5 848.9M1924.1 884.2L1916.6 889.2M1938.9 884.2L1946.3 889.2M1961.2 864L1961.2 848.9M1953.8 884.2L1946.3 889.2M1968.6 884.2L1976 889.2M1990.9 864L1990.9 848.9M1983.5 884.2L1976 889.2M1998.3 884.2L2005.8 889.2M2020.6 864L2020.6 848.9M2013.2 884.2L2005.8 889.2M2028 884.2L2035.4 889.2M2050.3 864L2050.3 848.9M2042.9 884.2L2035.4 889.2" stroke="#f6ee3a" stroke-width="2.0" fill="none"/>
<path d="M1812.7 797.4L1805.3 801.4M1812.7 797.4L1820.1 801.4M1842.4 797.4L1835 801.4M1842.4 797.4L1849.8 801.4M1872.1 797.4L1864.7 801.4M1872.1 797.4L1879.5 801.4M1827.5 834.7L1827.5 820M1827.5 834.7L1820.1 841.8M1827.5 834.7L1835 841.8M1857.2 834.7L1857.2 820M1857.2 834.7L1849.8 841.8M1857.2 834.7L1864.7 841.8M1887 834.7L1887 820M1887 834.7L1879.5 841.8M1887 834.7L1894.4 841.8M1812.7 879.1L1812.7 864M1812.7 879.1L1805.3 884.2M1812.7 879.1L1820.1 884.2M1842.4 879.1L1842.4 864M1842.4 879.1L1835 884.2M1842.4 879.1L1849.8 884.2M1872.1 879.1L1872.1 864M1872.1 879.1L1864.7 884.2M1872.1 879.1L1879.5 884.2" stroke="#8adbe6" stroke-width="2.0" fill="none"/>
<g fill="url(#gY)"><ellipse cx="1649.3" cy="805.4" rx="3.8" ry="4.8"/><ellipse cx="1679" cy="805.4" rx="3.8" ry="4.8"/><ellipse cx="1708.8" cy="805.4" rx="3.8" ry="4.8"/><ellipse cx="1738.5" cy="805.4" rx="3.8" ry="4.8"/><ellipse cx="1768.1" cy="805.4" rx="3.8" ry="4.8"/><ellipse cx="1797.8" cy="805.4" rx="3.8" ry="4.8"/><ellipse cx="1827.5" cy="805.4" rx="3.8" ry="4.8"/><ellipse cx="1857.2" cy="805.4" rx="3.8" ry="4.8"/><ellipse cx="1887" cy="805.4" rx="3.8" ry="4.8"/><ellipse cx="1916.6" cy="805.4" rx="3.8" ry="4.8"/><ellipse cx="1946.3" cy="805.4" rx="3.8" ry="4.8"/><ellipse cx="1976" cy="805.4" rx="3.8" ry="4.8"/><ellipse cx="2005.8" cy="805.4" rx="3.8" ry="4.8"/><ellipse cx="2035.4" cy="805.4" rx="3.8" ry="4.8"/><ellipse cx="1664.2" cy="848.9" rx="3.8" ry="4.8"/><ellipse cx="1693.9" cy="848.9" rx="3.8" ry="4.8"/><ellipse cx="1723.6" cy="848.9" rx="3.8" ry="4.8"/><ellipse cx="1753.3" cy="848.9" rx="3.8" ry="4.8"/><ellipse cx="1783" cy="848.9" rx="3.8" ry="4.8"/><ellipse cx="1812.7" cy="848.9" rx="3.8" ry="4.8"/><ellipse cx="1842.4" cy="848.9" rx="3.8" ry="4.8"/><ellipse cx="1872.1" cy="848.9" rx="3.8" ry="4.8"/><ellipse cx="1901.8" cy="848.9" rx="3.8" ry="4.8"/><ellipse cx="1931.5" cy="848.9" rx="3.8" ry="4.8"/><ellipse cx="1961.2" cy="848.9" rx="3.8" ry="4.8"/><ellipse cx="1990.9" cy="848.9" rx="3.8" ry="4.8"/><ellipse cx="2020.6" cy="848.9" rx="3.8" ry="4.8"/><ellipse cx="2050.3" cy="848.9" rx="3.8" ry="4.8"/><ellipse cx="1649.3" cy="889.2" rx="3.8" ry="4.8"/><ellipse cx="1679" cy="889.2" rx="3.8" ry="4.8"/><ellipse cx="1708.8" cy="889.2" rx="3.8" ry="4.8"/><ellipse cx="1738.5" cy="889.2" rx="3.8" ry="4.8"/><ellipse cx="1768.1" cy="889.2" rx="3.8" ry="4.8"/><ellipse cx="1797.8" cy="889.2" rx="3.8" ry="4.8"/><ellipse cx="1827.5" cy="889.2" rx="3.8" ry="4.8"/><ellipse cx="1857.2" cy="889.2" rx="3.8" ry="4.8"/><ellipse cx="1887" cy="889.2" rx="3.8" ry="4.8"/><ellipse cx="1916.6" cy="889.2" rx="3.8" ry="4.8"/><ellipse cx="1946.3" cy="889.2" rx="3.8" ry="4.8"/><ellipse cx="1976" cy="889.2" rx="3.8" ry="4.8"/><ellipse cx="2005.8" cy="889.2" rx="3.8" ry="4.8"/><ellipse cx="2035.4" cy="889.2" rx="3.8" ry="4.8"/></g>
<g fill="url(#gD)"><ellipse cx="1664.2" cy="797.4" rx="4.0" ry="5.0"/><ellipse cx="1693.9" cy="797.4" rx="4.0" ry="5.0"/><ellipse cx="1723.6" cy="797.4" rx="4.0" ry="5.0"/><ellipse cx="1753.3" cy="797.4" rx="4.0" ry="5.0"/><ellipse cx="1783" cy="797.4" rx="4.0" ry="5.0"/><ellipse cx="1901.8" cy="797.4" rx="4.0" ry="5.0"/><ellipse cx="1931.5" cy="797.4" rx="4.0" ry="5.0"/><ellipse cx="1961.2" cy="797.4" rx="4.0" ry="5.0"/><ellipse cx="1990.9" cy="797.4" rx="4.0" ry="5.0"/><ellipse cx="2020.6" cy="797.4" rx="4.0" ry="5.0"/><ellipse cx="2050.3" cy="797.4" rx="4.0" ry="5.0"/><ellipse cx="1649.3" cy="834.7" rx="4.0" ry="5.0"/><ellipse cx="1679" cy="834.7" rx="4.0" ry="5.0"/><ellipse cx="1708.8" cy="834.7" rx="4.0" ry="5.0"/><ellipse cx="1738.5" cy="834.7" rx="4.0" ry="5.0"/><ellipse cx="1768.1" cy="834.7" rx="4.0" ry="5.0"/><ellipse cx="1797.8" cy="834.7" rx="4.0" ry="5.0"/><ellipse cx="1916.6" cy="834.7" rx="4.0" ry="5.0"/><ellipse cx="1946.3" cy="834.7" rx="4.0" ry="5.0"/><ellipse cx="1976" cy="834.7" rx="4.0" ry="5.0"/><ellipse cx="2005.8" cy="834.7" rx="4.0" ry="5.0"/><ellipse cx="2035.4" cy="834.7" rx="4.0" ry="5.0"/><ellipse cx="1664.2" cy="879.1" rx="4.0" ry="5.0"/><ellipse cx="1693.9" cy="879.1" rx="4.0" ry="5.0"/><ellipse cx="1723.6" cy="879.1" rx="4.0" ry="5.0"/><ellipse cx="1753.3" cy="879.1" rx="4.0" ry="5.0"/><ellipse cx="1783" cy="879.1" rx="4.0" ry="5.0"/><ellipse cx="1901.8" cy="879.1" rx="4.0" ry="5.0"/><ellipse cx="1931.5" cy="879.1" rx="4.0" ry="5.0"/><ellipse cx="1961.2" cy="879.1" rx="4.0" ry="5.0"/><ellipse cx="1990.9" cy="879.1" rx="4.0" ry="5.0"/><ellipse cx="2020.6" cy="879.1" rx="4.0" ry="5.0"/><ellipse cx="2050.3" cy="879.1" rx="4.0" ry="5.0"/></g>
<g fill="url(#gC)"><ellipse cx="1812.7" cy="797.4" rx="4.0" ry="5.0"/><ellipse cx="1842.4" cy="797.4" rx="4.0" ry="5.0"/><ellipse cx="1872.1" cy="797.4" rx="4.0" ry="5.0"/><ellipse cx="1827.5" cy="834.7" rx="4.0" ry="5.0"/><ellipse cx="1857.2" cy="834.7" rx="4.0" ry="5.0"/><ellipse cx="1887" cy="834.7" rx="4.0" ry="5.0"/><ellipse cx="1812.7" cy="879.1" rx="4.0" ry="5.0"/><ellipse cx="1842.4" cy="879.1" rx="4.0" ry="5.0"/><ellipse cx="1872.1" cy="879.1" rx="4.0" ry="5.0"/></g>
</g>
<rect x="1656.6" y="778.2" width="60.5" height="135.69999999999993" fill="#bcbcbc" style="mix-blend-mode:multiply"/>
<rect x="1983.7" y="778.2" width="60.200000000000045" height="135.69999999999993" fill="#bcbcbc" style="mix-blend-mode:multiply"/>
<ellipse cx="1740" cy="884.2" rx="6" ry="8" fill="url(#bg3)"/>
<ellipse cx="1740" cy="898.3" rx="6" ry="7" fill="url(#bg7)"/>
<ellipse cx="1769.2" cy="883.2" rx="6.5" ry="8" fill="url(#bg2)"/>
<ellipse cx="1770.2" cy="897.3" rx="6" ry="7" fill="url(#bg3)"/>
<ellipse cx="1799.5" cy="885.2" rx="2.5" ry="2.5" fill="url(#bg4)"/>
<ellipse cx="1799.5" cy="899" rx="1.6" ry="1.6" fill="url(#bg1)"/>
<ellipse cx="1885.4" cy="886.2" rx="2.5" ry="2.5" fill="url(#bg3)"/>
<ellipse cx="1885.4" cy="899" rx="1.6" ry="1.6" fill="url(#bg5)"/>
<ellipse cx="1914.6" cy="885.2" rx="4.5" ry="6" fill="url(#bg2)"/>
<ellipse cx="1914.6" cy="899.3" rx="4" ry="3.6" fill="url(#bg3)"/>
<ellipse cx="1944.9" cy="885.2" rx="4.5" ry="5.6" fill="url(#bg4)"/>
<ellipse cx="1944.9" cy="899.3" rx="4" ry="3.6" fill="url(#bg1)"/>
<ellipse cx="1975.2" cy="885.2" rx="4.5" ry="5.6" fill="url(#bg16)"/>
<ellipse cx="1975.2" cy="899.3" rx="4.5" ry="4" fill="url(#bg17)"/>
<clipPath id="mc14"><rect x="1656.6" y="891" width="387.3000000000002" height="195.79999999999995"/></clipPath>
<g clip-path="url(#mc14)">
<path d="M1636.9 928.6L1644.2 932.2M1666.3 928.6L1658.9 932.2M1666.3 928.6L1673.7 932.2M1695.7 928.6L1688.3 932.2M1695.7 928.6L1703.1 932.2M1725.1 928.6L1717.8 932.2M1725.1 928.6L1732.4 932.2M1754.5 928.6L1747.2 932.2M1754.5 928.6L1761.8 932.2M1783.9 928.6L1776.5 932.2M1783.9 928.6L1791.2 932.2M1901.5 928.6L1894.2 932.2M1901.5 928.6L1908.8 932.2M1930.9 928.6L1923.5 932.2M1930.9 928.6L1938.2 932.2M1960.3 928.6L1952.9 932.2M1960.3 928.6L1967.7 932.2M1989.7 928.6L1982.3 932.2M1989.7 928.6L1997 932.2M2019.1 928.6L2011.8 932.2M2019.1 928.6L2026.4 932.2M2048.5 928.6L2041.2 932.2M2048.5 928.6L2055.8 932.2M1651.6 959.9L1651.6 947.8M1651.6 959.9L1644.2 966M1651.6 959.9L1658.9 966M1681 959.9L1681 947.8M1681 959.9L1673.7 966M1681 959.9L1688.3 966M1710.4 959.9L1710.4 947.8M1710.4 959.9L1703.1 966M1710.4 959.9L1717.8 966M1739.8 959.9L1739.8 947.8M1739.8 959.9L1732.4 966M1739.8 959.9L1747.2 966M1769.2 959.9L1769.2 947.8M1769.2 959.9L1761.8 966M1769.2 959.9L1776.5 966M1798.6 959.9L1798.6 947.8M1798.6 959.9L1791.2 966M1798.6 959.9L1805.9 966M1916.2 959.9L1916.2 947.8M1916.2 959.9L1908.8 966M1916.2 959.9L1923.5 966M1945.6 959.9L1945.6 947.8M1945.6 959.9L1938.2 966M1945.6 959.9L1952.9 966M1975 959.9L1975 947.8M1975 959.9L1967.7 966M1975 959.9L1982.3 966M2004.4 959.9L2004.4 947.8M2004.4 959.9L1997 966M2004.4 959.9L2011.8 966M2033.8 959.9L2033.8 947.8M2033.8 959.9L2026.4 966M2033.8 959.9L2041.2 966M2063.2 959.9L2063.2 947.8M2063.2 959.9L2055.8 966M1636.9 992.2L1636.9 982.1M1636.9 992.2L1644.2 997.2M1666.3 992.2L1666.3 982.1M1666.3 992.2L1658.9 997.2M1666.3 992.2L1673.7 997.2M1695.7 992.2L1695.7 982.1M1695.7 992.2L1688.3 997.2M1695.7 992.2L1703.1 997.2M1725.1 992.2L1725.1 982.1M1725.1 992.2L1717.8 997.2M1725.1 992.2L1732.4 997.2M1754.5 992.2L1754.5 982.1M1754.5 992.2L1747.2 997.2M1754.5 992.2L1761.8 997.2M1783.9 992.2L1783.9 982.1M1783.9 992.2L1776.5 997.2M1783.9 992.2L1791.2 997.2M1901.5 992.2L1901.5 982.1M1901.5 992.2L1894.2 997.2M1901.5 992.2L1908.8 997.2M1930.9 992.2L1930.9 982.1M1930.9 992.2L1923.5 997.2M1930.9 992.2L1938.2 997.2M1960.3 992.2L1960.3 982.1M1960.3 992.2L1952.9 997.2M1960.3 992.2L1967.7 997.2M1989.7 992.2L1989.7 982.1M1989.7 992.2L1982.3 997.2M1989.7 992.2L1997 997.2M2019.1 992.2L2019.1 982.1M2019.1 992.2L2011.8 997.2M2019.1 992.2L2026.4 997.2M2048.5 992.2L2048.5 982.1M2048.5 992.2L2041.2 997.2M2048.5 992.2L2055.8 997.2M1651.6 1028.6L1651.6 1015.4M1651.6 1028.6L1644.2 1033.7M1651.6 1028.6L1658.9 1033.7M1681 1028.6L1681 1015.4M1681 1028.6L1673.7 1033.7M1681 1028.6L1688.3 1033.7M1710.4 1028.6L1710.4 1015.4M1710.4 1028.6L1703.1 1033.7M1710.4 1028.6L1717.8 1033.7M1739.8 1028.6L1739.8 1015.4M1739.8 1028.6L1732.4 1033.7M1739.8 1028.6L1747.2 1033.7M1769.2 1028.6L1769.2 1015.4M1769.2 1028.6L1761.8 1033.7M1769.2 1028.6L1776.5 1033.7M1798.6 1028.6L1798.6 1015.4M1798.6 1028.6L1791.2 1033.7M1798.6 1028.6L1805.9 1033.7M1916.2 1028.6L1916.2 1015.4M1916.2 1028.6L1908.8 1033.7M1916.2 1028.6L1923.5 1033.7M1945.6 1028.6L1945.6 1015.4M1945.6 1028.6L1938.2 1033.7M1945.6 1028.6L1952.9 1033.7M1975 1028.6L1975 1015.4M1975 1028.6L1967.7 1033.7M1975 1028.6L1982.3 1033.7M2004.4 1028.6L2004.4 1015.4M2004.4 1028.6L1997 1033.7M2004.4 1028.6L2011.8 1033.7M2033.8 1028.6L2033.8 1015.4M2033.8 1028.6L2026.4 1033.7M2033.8 1028.6L2041.2 1033.7M2063.2 1028.6L2063.2 1015.4M2063.2 1028.6L2055.8 1033.7" stroke="#4a3ee0" stroke-width="2.0" fill="none"/>
<path d="M1644.2 932.2L1651.6 935.7M1658.9 932.2L1651.6 935.7M1673.7 932.2L1681 935.7M1688.3 932.2L1681 935.7M1703.1 932.2L1710.4 935.7M1717.8 932.2L1710.4 935.7M1732.4 932.2L1739.8 935.7M1747.2 932.2L1739.8 935.7M1761.8 932.2L1769.2 935.7M1776.5 932.2L1769.2 935.7M1791.2 932.2L1798.6 935.7M1805.9 932.2L1798.6 935.7M1820.7 932.2L1828 935.7M1835.3 932.2L1828 935.7M1850 932.2L1857.4 935.7M1864.8 932.2L1857.4 935.7M1879.4 932.2L1886.8 935.7M1894.2 932.2L1886.8 935.7M1908.8 932.2L1916.2 935.7M1923.5 932.2L1916.2 935.7M1938.2 932.2L1945.6 935.7M1952.9 932.2L1945.6 935.7M1967.7 932.2L1975 935.7M1982.3 932.2L1975 935.7M1997 932.2L2004.4 935.7M2011.8 932.2L2004.4 935.7M2026.4 932.2L2033.8 935.7M2041.2 932.2L2033.8 935.7M2055.8 932.2L2063.2 935.7M1651.6 947.8L1651.6 935.7M1644.2 966L1636.9 972M1658.9 966L1666.3 972M1681 947.8L1681 935.7M1673.7 966L1666.3 972M1688.3 966L1695.7 972M1710.4 947.8L1710.4 935.7M1703.1 966L1695.7 972M1717.8 966L1725.1 972M1739.8 947.8L1739.8 935.7M1732.4 966L1725.1 972M1747.2 966L1754.5 972M1769.2 947.8L1769.2 935.7M1761.8 966L1754.5 972M1776.5 966L1783.9 972M1798.6 947.8L1798.6 935.7M1791.2 966L1783.9 972M1805.9 966L1813.3 972M1828 947.8L1828 935.7M1820.7 966L1813.3 972M1835.3 966L1842.7 972M1857.4 947.8L1857.4 935.7M1850 966L1842.7 972M1864.8 966L1872.1 972M1886.8 947.8L1886.8 935.7M1879.4 966L1872.1 972M1894.2 966L1901.5 972M1916.2 947.8L1916.2 935.7M1908.8 966L1901.5 972M1923.5 966L1930.9 972M1945.6 947.8L1945.6 935.7M1938.2 966L1930.9 972M1952.9 966L1960.3 972M1975 947.8L1975 935.7M1967.7 966L1960.3 972M1982.3 966L1989.7 972M2004.4 947.8L2004.4 935.7M1997 966L1989.7 972M2011.8 966L2019.1 972M2033.8 947.8L2033.8 935.7M2026.4 966L2019.1 972M2041.2 966L2048.5 972M2063.2 947.8L2063.2 935.7M2055.8 966L2048.5 972M1636.9 982.1L1636.9 972M1644.2 997.2L1651.6 1002.3M1666.3 982.1L1666.3 972M1658.9 997.2L1651.6 1002.3M1673.7 997.2L1681 1002.3M1695.7 982.1L1695.7 972M1688.3 997.2L1681 1002.3M1703.1 997.2L1710.4 1002.3M1725.1 982.1L1725.1 972M1717.8 997.2L1710.4 1002.3M1732.4 997.2L1739.8 1002.3M1754.5 982.1L1754.5 972M1747.2 997.2L1739.8 1002.3M1761.8 997.2L1769.2 1002.3M1783.9 982.1L1783.9 972M1776.5 997.2L1769.2 1002.3M1791.2 997.2L1798.6 1002.3M1813.3 982.1L1813.3 972M1805.9 997.2L1798.6 1002.3M1820.7 997.2L1828 1002.3M1842.7 982.1L1842.7 972M1835.3 997.2L1828 1002.3M1850 997.2L1857.4 1002.3M1872.1 982.1L1872.1 972M1864.8 997.2L1857.4 1002.3M1879.4 997.2L1886.8 1002.3M1901.5 982.1L1901.5 972M1894.2 997.2L1886.8 1002.3M1908.8 997.2L1916.2 1002.3M1930.9 982.1L1930.9 972M1923.5 997.2L1916.2 1002.3M1938.2 997.2L1945.6 1002.3M1960.3 982.1L1960.3 972M1952.9 997.2L1945.6 1002.3M1967.7 997.2L1975 1002.3M1989.7 982.1L1989.7 972M1982.3 997.2L1975 1002.3M1997 997.2L2004.4 1002.3M2019.1 982.1L2019.1 972M2011.8 997.2L2004.4 1002.3M2026.4 997.2L2033.8 1002.3M2048.5 982.1L2048.5 972M2041.2 997.2L2033.8 1002.3M2055.8 997.2L2063.2 1002.3M1651.6 1015.4L1651.6 1002.3M1644.2 1033.7L1636.9 1038.7M1658.9 1033.7L1666.3 1038.7M1681 1015.4L1681 1002.3M1673.7 1033.7L1666.3 1038.7M1688.3 1033.7L1695.7 1038.7M1710.4 1015.4L1710.4 1002.3M1703.1 1033.7L1695.7 1038.7M1717.8 1033.7L1725.1 1038.7M1739.8 1015.4L1739.8 1002.3M1732.4 1033.7L1725.1 1038.7M1747.2 1033.7L1754.5 1038.7M1769.2 1015.4L1769.2 1002.3M1761.8 1033.7L1754.5 1038.7M1776.5 1033.7L1783.9 1038.7M1798.6 1015.4L1798.6 1002.3M1791.2 1033.7L1783.9 1038.7M1805.9 1033.7L1813.3 1038.7M1828 1015.4L1828 1002.3M1820.7 1033.7L1813.3 1038.7M1835.3 1033.7L1842.7 1038.7M1857.4 1015.4L1857.4 1002.3M1850 1033.7L1842.7 1038.7M1864.8 1033.7L1872.1 1038.7M1886.8 1015.4L1886.8 1002.3M1879.4 1033.7L1872.1 1038.7M1894.2 1033.7L1901.5 1038.7M1916.2 1015.4L1916.2 1002.3M1908.8 1033.7L1901.5 1038.7M1923.5 1033.7L1930.9 1038.7M1945.6 1015.4L1945.6 1002.3M1938.2 1033.7L1930.9 1038.7M1952.9 1033.7L1960.3 1038.7M1975 1015.4L1975 1002.3M1967.7 1033.7L1960.3 1038.7M1982.3 1033.7L1989.7 1038.7M2004.4 1015.4L2004.4 1002.3M1997 1033.7L1989.7 1038.7M2011.8 1033.7L2019.1 1038.7M2033.8 1015.4L2033.8 1002.3M2026.4 1033.7L2019.1 1038.7M2041.2 1033.7L2048.5 1038.7M2063.2 1015.4L2063.2 1002.3M2055.8 1033.7L2048.5 1038.7" stroke="#f6ee3a" stroke-width="2.0" fill="none"/>
<path d="M1813.3 928.6L1805.9 932.2M1813.3 928.6L1820.7 932.2M1842.7 928.6L1835.3 932.2M1842.7 928.6L1850 932.2M1872.1 928.6L1864.8 932.2M1872.1 928.6L1879.4 932.2M1828 959.9L1828 947.8M1828 959.9L1820.7 966M1828 959.9L1835.3 966M1857.4 959.9L1857.4 947.8M1857.4 959.9L1850 966M1857.4 959.9L1864.8 966M1886.8 959.9L1886.8 947.8M1886.8 959.9L1879.4 966M1886.8 959.9L1894.2 966M1813.3 992.2L1813.3 982.1M1813.3 992.2L1805.9 997.2M1813.3 992.2L1820.7 997.2M1842.7 992.2L1842.7 982.1M1842.7 992.2L1835.3 997.2M1842.7 992.2L1850 997.2M1872.1 992.2L1872.1 982.1M1872.1 992.2L1864.8 997.2M1872.1 992.2L1879.4 997.2M1828 1028.6L1828 1015.4M1828 1028.6L1820.7 1033.7M1828 1028.6L1835.3 1033.7M1857.4 1028.6L1857.4 1015.4M1857.4 1028.6L1850 1033.7M1857.4 1028.6L1864.8 1033.7M1886.8 1028.6L1886.8 1015.4M1886.8 1028.6L1879.4 1033.7M1886.8 1028.6L1894.2 1033.7" stroke="#8adbe6" stroke-width="2.0" fill="none"/>
<g fill="url(#gD)"><ellipse cx="1636.9" cy="928.6" rx="3.8" ry="4.6"/><ellipse cx="1666.3" cy="928.6" rx="3.8" ry="4.6"/><ellipse cx="1695.7" cy="928.6" rx="3.8" ry="4.6"/><ellipse cx="1725.1" cy="928.6" rx="3.8" ry="4.6"/><ellipse cx="1754.5" cy="928.6" rx="3.8" ry="4.6"/><ellipse cx="1783.9" cy="928.6" rx="3.8" ry="4.6"/><ellipse cx="1901.5" cy="928.6" rx="3.8" ry="4.6"/><ellipse cx="1930.9" cy="928.6" rx="3.8" ry="4.6"/><ellipse cx="1960.3" cy="928.6" rx="3.8" ry="4.6"/><ellipse cx="1989.7" cy="928.6" rx="3.8" ry="4.6"/><ellipse cx="2019.1" cy="928.6" rx="3.8" ry="4.6"/><ellipse cx="2048.5" cy="928.6" rx="3.8" ry="4.6"/><ellipse cx="1651.6" cy="959.9" rx="3.8" ry="4.6"/><ellipse cx="1681" cy="959.9" rx="3.8" ry="4.6"/><ellipse cx="1710.4" cy="959.9" rx="3.8" ry="4.6"/><ellipse cx="1739.8" cy="959.9" rx="3.8" ry="4.6"/><ellipse cx="1769.2" cy="959.9" rx="3.8" ry="4.6"/><ellipse cx="1798.6" cy="959.9" rx="3.8" ry="4.6"/><ellipse cx="1916.2" cy="959.9" rx="3.8" ry="4.6"/><ellipse cx="1945.6" cy="959.9" rx="3.8" ry="4.6"/><ellipse cx="1975" cy="959.9" rx="3.8" ry="4.6"/><ellipse cx="2004.4" cy="959.9" rx="3.8" ry="4.6"/><ellipse cx="2033.8" cy="959.9" rx="3.8" ry="4.6"/><ellipse cx="2063.2" cy="959.9" rx="3.8" ry="4.6"/><ellipse cx="1636.9" cy="992.2" rx="3.8" ry="4.6"/><ellipse cx="1666.3" cy="992.2" rx="3.8" ry="4.6"/><ellipse cx="1695.7" cy="992.2" rx="3.8" ry="4.6"/><ellipse cx="1725.1" cy="992.2" rx="3.8" ry="4.6"/><ellipse cx="1754.5" cy="992.2" rx="3.8" ry="4.6"/><ellipse cx="1783.9" cy="992.2" rx="3.8" ry="4.6"/><ellipse cx="1901.5" cy="992.2" rx="3.8" ry="4.6"/><ellipse cx="1930.9" cy="992.2" rx="3.8" ry="4.6"/><ellipse cx="1960.3" cy="992.2" rx="3.8" ry="4.6"/><ellipse cx="1989.7" cy="992.2" rx="3.8" ry="4.6"/><ellipse cx="2019.1" cy="992.2" rx="3.8" ry="4.6"/><ellipse cx="2048.5" cy="992.2" rx="3.8" ry="4.6"/><ellipse cx="1651.6" cy="1028.6" rx="3.8" ry="4.6"/><ellipse cx="1681" cy="1028.6" rx="3.8" ry="4.6"/><ellipse cx="1710.4" cy="1028.6" rx="3.8" ry="4.6"/><ellipse cx="1739.8" cy="1028.6" rx="3.8" ry="4.6"/><ellipse cx="1769.2" cy="1028.6" rx="3.8" ry="4.6"/><ellipse cx="1798.6" cy="1028.6" rx="3.8" ry="4.6"/><ellipse cx="1916.2" cy="1028.6" rx="3.8" ry="4.6"/><ellipse cx="1945.6" cy="1028.6" rx="3.8" ry="4.6"/><ellipse cx="1975" cy="1028.6" rx="3.8" ry="4.6"/><ellipse cx="2004.4" cy="1028.6" rx="3.8" ry="4.6"/><ellipse cx="2033.8" cy="1028.6" rx="3.8" ry="4.6"/><ellipse cx="2063.2" cy="1028.6" rx="3.8" ry="4.6"/></g>
<g fill="url(#gY)"><ellipse cx="1651.6" cy="935.7" rx="3.6" ry="4.4"/><ellipse cx="1681" cy="935.7" rx="3.6" ry="4.4"/><ellipse cx="1710.4" cy="935.7" rx="3.6" ry="4.4"/><ellipse cx="1739.8" cy="935.7" rx="3.6" ry="4.4"/><ellipse cx="1769.2" cy="935.7" rx="3.6" ry="4.4"/><ellipse cx="1798.6" cy="935.7" rx="3.6" ry="4.4"/><ellipse cx="1828" cy="935.7" rx="3.6" ry="4.4"/><ellipse cx="1857.4" cy="935.7" rx="3.6" ry="4.4"/><ellipse cx="1886.8" cy="935.7" rx="3.6" ry="4.4"/><ellipse cx="1916.2" cy="935.7" rx="3.6" ry="4.4"/><ellipse cx="1945.6" cy="935.7" rx="3.6" ry="4.4"/><ellipse cx="1975" cy="935.7" rx="3.6" ry="4.4"/><ellipse cx="2004.4" cy="935.7" rx="3.6" ry="4.4"/><ellipse cx="2033.8" cy="935.7" rx="3.6" ry="4.4"/><ellipse cx="2063.2" cy="935.7" rx="3.6" ry="4.4"/><ellipse cx="1636.9" cy="972" rx="3.6" ry="4.4"/><ellipse cx="1666.3" cy="972" rx="3.6" ry="4.4"/><ellipse cx="1695.7" cy="972" rx="3.6" ry="4.4"/><ellipse cx="1725.1" cy="972" rx="3.6" ry="4.4"/><ellipse cx="1754.5" cy="972" rx="3.6" ry="4.4"/><ellipse cx="1783.9" cy="972" rx="3.6" ry="4.4"/><ellipse cx="1813.3" cy="972" rx="3.6" ry="4.4"/><ellipse cx="1842.7" cy="972" rx="3.6" ry="4.4"/><ellipse cx="1872.1" cy="972" rx="3.6" ry="4.4"/><ellipse cx="1901.5" cy="972" rx="3.6" ry="4.4"/><ellipse cx="1930.9" cy="972" rx="3.6" ry="4.4"/><ellipse cx="1960.3" cy="972" rx="3.6" ry="4.4"/><ellipse cx="1989.7" cy="972" rx="3.6" ry="4.4"/><ellipse cx="2019.1" cy="972" rx="3.6" ry="4.4"/><ellipse cx="2048.5" cy="972" rx="3.6" ry="4.4"/><ellipse cx="1651.6" cy="1002.3" rx="3.6" ry="4.4"/><ellipse cx="1681" cy="1002.3" rx="3.6" ry="4.4"/><ellipse cx="1710.4" cy="1002.3" rx="3.6" ry="4.4"/><ellipse cx="1739.8" cy="1002.3" rx="3.6" ry="4.4"/><ellipse cx="1769.2" cy="1002.3" rx="3.6" ry="4.4"/><ellipse cx="1798.6" cy="1002.3" rx="3.6" ry="4.4"/><ellipse cx="1828" cy="1002.3" rx="3.6" ry="4.4"/><ellipse cx="1857.4" cy="1002.3" rx="3.6" ry="4.4"/><ellipse cx="1886.8" cy="1002.3" rx="3.6" ry="4.4"/><ellipse cx="1916.2" cy="1002.3" rx="3.6" ry="4.4"/><ellipse cx="1945.6" cy="1002.3" rx="3.6" ry="4.4"/><ellipse cx="1975" cy="1002.3" rx="3.6" ry="4.4"/><ellipse cx="2004.4" cy="1002.3" rx="3.6" ry="4.4"/><ellipse cx="2033.8" cy="1002.3" rx="3.6" ry="4.4"/><ellipse cx="2063.2" cy="1002.3" rx="3.6" ry="4.4"/><ellipse cx="1636.9" cy="1038.7" rx="3.6" ry="4.4"/><ellipse cx="1666.3" cy="1038.7" rx="3.6" ry="4.4"/><ellipse cx="1695.7" cy="1038.7" rx="3.6" ry="4.4"/><ellipse cx="1725.1" cy="1038.7" rx="3.6" ry="4.4"/><ellipse cx="1754.5" cy="1038.7" rx="3.6" ry="4.4"/><ellipse cx="1783.9" cy="1038.7" rx="3.6" ry="4.4"/><ellipse cx="1813.3" cy="1038.7" rx="3.6" ry="4.4"/><ellipse cx="1842.7" cy="1038.7" rx="3.6" ry="4.4"/><ellipse cx="1872.1" cy="1038.7" rx="3.6" ry="4.4"/><ellipse cx="1901.5" cy="1038.7" rx="3.6" ry="4.4"/><ellipse cx="1930.9" cy="1038.7" rx="3.6" ry="4.4"/><ellipse cx="1960.3" cy="1038.7" rx="3.6" ry="4.4"/><ellipse cx="1989.7" cy="1038.7" rx="3.6" ry="4.4"/><ellipse cx="2019.1" cy="1038.7" rx="3.6" ry="4.4"/><ellipse cx="2048.5" cy="1038.7" rx="3.6" ry="4.4"/></g>
<g fill="url(#gC)"><ellipse cx="1813.3" cy="928.6" rx="3.8" ry="4.6"/><ellipse cx="1842.7" cy="928.6" rx="3.8" ry="4.6"/><ellipse cx="1872.1" cy="928.6" rx="3.8" ry="4.6"/><ellipse cx="1828" cy="959.9" rx="3.8" ry="4.6"/><ellipse cx="1857.4" cy="959.9" rx="3.8" ry="4.6"/><ellipse cx="1886.8" cy="959.9" rx="3.8" ry="4.6"/><ellipse cx="1813.3" cy="992.2" rx="3.8" ry="4.6"/><ellipse cx="1842.7" cy="992.2" rx="3.8" ry="4.6"/><ellipse cx="1872.1" cy="992.2" rx="3.8" ry="4.6"/><ellipse cx="1828" cy="1028.6" rx="3.8" ry="4.6"/><ellipse cx="1857.4" cy="1028.6" rx="3.8" ry="4.6"/><ellipse cx="1886.8" cy="1028.6" rx="3.8" ry="4.6"/></g>
</g>
<rect x="1656.6" y="921" width="60.5" height="135.79999999999995" fill="#bcbcbc" style="mix-blend-mode:multiply"/>
<rect x="1983.7" y="921" width="60.200000000000045" height="135.79999999999995" fill="#bcbcbc" style="mix-blend-mode:multiply"/>
<ellipse cx="1726.8" cy="1033.6" rx="7.7" ry="8.5" fill="url(#bg18)"/>
<ellipse cx="1726.8" cy="1046.8" rx="7.7" ry="7.7" fill="url(#bg5)"/>
<ellipse cx="1756.1" cy="1032.6" rx="7.7" ry="8" fill="url(#bg5)"/>
<ellipse cx="1756.1" cy="1045.8" rx="7" ry="7" fill="url(#bg3)"/>
<ellipse cx="1786.4" cy="1033.6" rx="6.5" ry="7" fill="url(#bg3)"/>
<ellipse cx="1786.4" cy="1045.8" rx="6" ry="6" fill="url(#bg5)"/>
<ellipse cx="1815.7" cy="1033.6" rx="1.2" ry="1.2" fill="url(#bg2)"/>
<ellipse cx="1872.2" cy="1033.6" rx="2" ry="2" fill="url(#bg13)"/>
<ellipse cx="1872.2" cy="1044.7" rx="1.2" ry="1.2" fill="url(#bg5)"/>
<ellipse cx="1900.5" cy="1033.6" rx="5" ry="5" fill="url(#bg5)"/>
<ellipse cx="1900.5" cy="1042.7" rx="3.6" ry="3.6" fill="url(#bg3)"/>
<ellipse cx="1930.8" cy="1032.6" rx="5" ry="5.6" fill="url(#bg3)"/>
<ellipse cx="1930.8" cy="1044.7" rx="4.4" ry="4.4" fill="url(#bg2)"/>
<ellipse cx="1961.1" cy="1033.6" rx="5" ry="5" fill="url(#bg2)"/>
<ellipse cx="1961.1" cy="1043.7" rx="4" ry="4" fill="url(#bg3)"/>
<clipPath id="mc15"><rect x="1656.6" y="1031.1" width="388.3000000000002" height="195.70000000000005"/></clipPath>
<g clip-path="url(#mc15)">
<path d="M1665.2 1069.2L1657.8 1071.7M1665.2 1069.2L1672.6 1071.7M1694.9 1069.2L1687.5 1071.7M1694.9 1069.2L1702.3 1071.7M1724.6 1069.2L1717.2 1071.7M1724.6 1069.2L1732 1071.7M1754.3 1069.2L1746.9 1071.7M1754.3 1069.2L1761.7 1071.7M1784 1069.2L1776.6 1071.7M1784 1069.2L1791.4 1071.7M1902.8 1069.2L1895.4 1071.7M1902.8 1069.2L1910.2 1071.7M1932.5 1069.2L1925.1 1071.7M1932.5 1069.2L1939.9 1071.7M1962.2 1069.2L1954.8 1071.7M1962.2 1069.2L1969.6 1071.7M1991.9 1069.2L1984.5 1071.7M1991.9 1069.2L1999.3 1071.7M2021.6 1069.2L2014.2 1071.7M2021.6 1069.2L2029 1071.7M2051.3 1069.2L2043.9 1071.7M1650.3 1093.4L1650.3 1083.8M1650.3 1093.4L1657.8 1097.5M1680 1093.4L1680 1083.8M1680 1093.4L1672.6 1097.5M1680 1093.4L1687.5 1097.5M1709.8 1093.4L1709.8 1083.8M1709.8 1093.4L1702.3 1097.5M1709.8 1093.4L1717.2 1097.5M1739.5 1093.4L1739.5 1083.8M1739.5 1093.4L1732 1097.5M1739.5 1093.4L1746.9 1097.5M1769.1 1093.4L1769.1 1083.8M1769.1 1093.4L1761.7 1097.5M1769.1 1093.4L1776.6 1097.5M1798.8 1093.4L1798.8 1083.8M1798.8 1093.4L1791.4 1097.5M1798.8 1093.4L1806.3 1097.5M1917.6 1093.4L1917.6 1083.8M1917.6 1093.4L1910.2 1097.5M1917.6 1093.4L1925.1 1097.5M1947.3 1093.4L1947.3 1083.8M1947.3 1093.4L1939.9 1097.5M1947.3 1093.4L1954.8 1097.5M1977 1093.4L1977 1083.8M1977 1093.4L1969.6 1097.5M1977 1093.4L1984.5 1097.5M2006.8 1093.4L2006.8 1083.8M2006.8 1093.4L1999.3 1097.5M2006.8 1093.4L2014.2 1097.5M2036.4 1093.4L2036.4 1083.8M2036.4 1093.4L2029 1097.5M2036.4 1093.4L2043.9 1097.5M1665.2 1119.7L1665.2 1110.6M1665.2 1119.7L1657.8 1123.7M1665.2 1119.7L1672.6 1123.7M1694.9 1119.7L1694.9 1110.6M1694.9 1119.7L1687.5 1123.7M1694.9 1119.7L1702.3 1123.7M1724.6 1119.7L1724.6 1110.6M1724.6 1119.7L1717.2 1123.7M1724.6 1119.7L1732 1123.7M1754.3 1119.7L1754.3 1110.6M1754.3 1119.7L1746.9 1123.7M1754.3 1119.7L1761.7 1123.7M1784 1119.7L1784 1110.6M1784 1119.7L1776.6 1123.7M1784 1119.7L1791.4 1123.7M1902.8 1119.7L1902.8 1110.6M1902.8 1119.7L1895.4 1123.7M1902.8 1119.7L1910.2 1123.7M1932.5 1119.7L1932.5 1110.6M1932.5 1119.7L1925.1 1123.7M1932.5 1119.7L1939.9 1123.7M1962.2 1119.7L1962.2 1110.6M1962.2 1119.7L1954.8 1123.7M1962.2 1119.7L1969.6 1123.7M1991.9 1119.7L1991.9 1110.6M1991.9 1119.7L1984.5 1123.7M1991.9 1119.7L1999.3 1123.7M2021.6 1119.7L2021.6 1110.6M2021.6 1119.7L2014.2 1123.7M2021.6 1119.7L2029 1123.7M2051.3 1119.7L2051.3 1110.6M2051.3 1119.7L2043.9 1123.7M1650.3 1144.9L1650.3 1136.3M1650.3 1144.9L1657.8 1149.5M1680 1144.9L1680 1136.3M1680 1144.9L1672.6 1149.5M1680 1144.9L1687.5 1149.5M1709.8 1144.9L1709.8 1136.3M1709.8 1144.9L1702.3 1149.5M1709.8 1144.9L1717.2 1149.5M1739.5 1144.9L1739.5 1136.3M1739.5 1144.9L1732 1149.5M1739.5 1144.9L1746.9 1149.5M1769.1 1144.9L1769.1 1136.3M1769.1 1144.9L1761.7 1149.5M1769.1 1144.9L1776.6 1149.5M1798.8 1144.9L1798.8 1136.3M1798.8 1144.9L1791.4 1149.5M1798.8 1144.9L1806.3 1149.5M1917.6 1144.9L1917.6 1136.3M1917.6 1144.9L1910.2 1149.5M1917.6 1144.9L1925.1 1149.5M1947.3 1144.9L1947.3 1136.3M1947.3 1144.9L1939.9 1149.5M1947.3 1144.9L1954.8 1149.5M1977 1144.9L1977 1136.3M1977 1144.9L1969.6 1149.5M1977 1144.9L1984.5 1149.5M2006.8 1144.9L2006.8 1136.3M2006.8 1144.9L1999.3 1149.5M2006.8 1144.9L2014.2 1149.5M2036.4 1144.9L2036.4 1136.3M2036.4 1144.9L2029 1149.5M2036.4 1144.9L2043.9 1149.5M1665.2 1172.2L1665.2 1163.1M1665.2 1172.2L1657.8 1176.2M1665.2 1172.2L1672.6 1176.2M1694.9 1172.2L1694.9 1163.1M1694.9 1172.2L1687.5 1176.2M1694.9 1172.2L1702.3 1176.2M1724.6 1172.2L1724.6 1163.1M1724.6 1172.2L1717.2 1176.2M1724.6 1172.2L1732 1176.2M1754.3 1172.2L1754.3 1163.1M1754.3 1172.2L1746.9 1176.2M1754.3 1172.2L1761.7 1176.2M1784 1172.2L1784 1163.1M1784 1172.2L1776.6 1176.2M1784 1172.2L1791.4 1176.2M1902.8 1172.2L1902.8 1163.1M1902.8 1172.2L1895.4 1176.2M1902.8 1172.2L1910.2 1176.2M1932.5 1172.2L1932.5 1163.1M1932.5 1172.2L1925.1 1176.2M1932.5 1172.2L1939.9 1176.2M1962.2 1172.2L1962.2 1163.1M1962.2 1172.2L1954.8 1176.2M1962.2 1172.2L1969.6 1176.2M1991.9 1172.2L1991.9 1163.1M1991.9 1172.2L1984.5 1176.2M1991.9 1172.2L1999.3 1176.2M2021.6 1172.2L2021.6 1163.1M2021.6 1172.2L2014.2 1176.2M2021.6 1172.2L2029 1176.2M2051.3 1172.2L2051.3 1163.1M2051.3 1172.2L2043.9 1176.2" stroke="#4a3ee0" stroke-width="2.0" fill="none"/>
<path d="M1657.8 1071.7L1650.3 1074.2M1672.6 1071.7L1680 1074.2M1687.5 1071.7L1680 1074.2M1702.3 1071.7L1709.8 1074.2M1717.2 1071.7L1709.8 1074.2M1732 1071.7L1739.5 1074.2M1746.9 1071.7L1739.5 1074.2M1761.7 1071.7L1769.1 1074.2M1776.6 1071.7L1769.1 1074.2M1791.4 1071.7L1798.8 1074.2M1806.3 1071.7L1798.8 1074.2M1821.1 1071.7L1828.5 1074.2M1836 1071.7L1828.5 1074.2M1850.8 1071.7L1858.2 1074.2M1865.7 1071.7L1858.2 1074.2M1880.5 1071.7L1888 1074.2M1895.4 1071.7L1888 1074.2M1910.2 1071.7L1917.6 1074.2M1925.1 1071.7L1917.6 1074.2M1939.9 1071.7L1947.3 1074.2M1954.8 1071.7L1947.3 1074.2M1969.6 1071.7L1977 1074.2M1984.5 1071.7L1977 1074.2M1999.3 1071.7L2006.8 1074.2M2014.2 1071.7L2006.8 1074.2M2029 1071.7L2036.4 1074.2M2043.9 1071.7L2036.4 1074.2M1650.3 1083.8L1650.3 1074.2M1657.8 1097.5L1665.2 1101.5M1680 1083.8L1680 1074.2M1672.6 1097.5L1665.2 1101.5M1687.5 1097.5L1694.9 1101.5M1709.8 1083.8L1709.8 1074.2M1702.3 1097.5L1694.9 1101.5M1717.2 1097.5L1724.6 1101.5M1739.5 1083.8L1739.5 1074.2M1732 1097.5L1724.6 1101.5M1746.9 1097.5L1754.3 1101.5M1769.1 1083.8L1769.1 1074.2M1761.7 1097.5L1754.3 1101.5M1776.6 1097.5L1784 1101.5M1798.8 1083.8L1798.8 1074.2M1791.4 1097.5L1784 1101.5M1806.3 1097.5L1813.7 1101.5M1828.5 1083.8L1828.5 1074.2M1821.1 1097.5L1813.7 1101.5M1836 1097.5L1843.4 1101.5M1858.2 1083.8L1858.2 1074.2M1850.8 1097.5L1843.4 1101.5M1865.7 1097.5L1873.1 1101.5M1888 1083.8L1888 1074.2M1880.5 1097.5L1873.1 1101.5M1895.4 1097.5L1902.8 1101.5M1917.6 1083.8L1917.6 1074.2M1910.2 1097.5L1902.8 1101.5M1925.1 1097.5L1932.5 1101.5M1947.3 1083.8L1947.3 1074.2M1939.9 1097.5L1932.5 1101.5M1954.8 1097.5L1962.2 1101.5M1977 1083.8L1977 1074.2M1969.6 1097.5L1962.2 1101.5M1984.5 1097.5L1991.9 1101.5M2006.8 1083.8L2006.8 1074.2M1999.3 1097.5L1991.9 1101.5M2014.2 1097.5L2021.6 1101.5M2036.4 1083.8L2036.4 1074.2M2029 1097.5L2021.6 1101.5M2043.9 1097.5L2051.3 1101.5M1665.2 1110.6L1665.2 1101.5M1657.8 1123.7L1650.3 1127.7M1672.6 1123.7L1680 1127.7M1694.9 1110.6L1694.9 1101.5M1687.5 1123.7L1680 1127.7M1702.3 1123.7L1709.8 1127.7M1724.6 1110.6L1724.6 1101.5M1717.2 1123.7L1709.8 1127.7M1732 1123.7L1739.5 1127.7M1754.3 1110.6L1754.3 1101.5M1746.9 1123.7L1739.5 1127.7M1761.7 1123.7L1769.1 1127.7M1784 1110.6L1784 1101.5M1776.6 1123.7L1769.1 1127.7M1791.4 1123.7L1798.8 1127.7M1813.7 1110.6L1813.7 1101.5M1806.3 1123.7L1798.8 1127.7M1821.1 1123.7L1828.5 1127.7M1843.4 1110.6L1843.4 1101.5M1836 1123.7L1828.5 1127.7M1850.8 1123.7L1858.2 1127.7M1873.1 1110.6L1873.1 1101.5M1865.7 1123.7L1858.2 1127.7M1880.5 1123.7L1888 1127.7M1902.8 1110.6L1902.8 1101.5M1895.4 1123.7L1888 1127.7M1910.2 1123.7L1917.6 1127.7M1932.5 1110.6L1932.5 1101.5M1925.1 1123.7L1917.6 1127.7M1939.9 1123.7L1947.3 1127.7M1962.2 1110.6L1962.2 1101.5M1954.8 1123.7L1947.3 1127.7M1969.6 1123.7L1977 1127.7M1991.9 1110.6L1991.9 1101.5M1984.5 1123.7L1977 1127.7M1999.3 1123.7L2006.8 1127.7M2021.6 1110.6L2021.6 1101.5M2014.2 1123.7L2006.8 1127.7M2029 1123.7L2036.4 1127.7M2051.3 1110.6L2051.3 1101.5M2043.9 1123.7L2036.4 1127.7M1650.3 1136.3L1650.3 1127.7M1657.8 1149.5L1665.2 1154M1680 1136.3L1680 1127.7M1672.6 1149.5L1665.2 1154M1687.5 1149.5L1694.9 1154M1709.8 1136.3L1709.8 1127.7M1702.3 1149.5L1694.9 1154M1717.2 1149.5L1724.6 1154M1739.5 1136.3L1739.5 1127.7M1732 1149.5L1724.6 1154M1746.9 1149.5L1754.3 1154M1769.1 1136.3L1769.1 1127.7M1761.7 1149.5L1754.3 1154M1776.6 1149.5L1784 1154M1798.8 1136.3L1798.8 1127.7M1791.4 1149.5L1784 1154M1806.3 1149.5L1813.7 1154M1828.5 1136.3L1828.5 1127.7M1821.1 1149.5L1813.7 1154M1836 1149.5L1843.4 1154M1858.2 1136.3L1858.2 1127.7M1850.8 1149.5L1843.4 1154M1865.7 1149.5L1873.1 1154M1888 1136.3L1888 1127.7M1880.5 1149.5L1873.1 1154M1895.4 1149.5L1902.8 1154M1917.6 1136.3L1917.6 1127.7M1910.2 1149.5L1902.8 1154M1925.1 1149.5L1932.5 1154M1947.3 1136.3L1947.3 1127.7M1939.9 1149.5L1932.5 1154M1954.8 1149.5L1962.2 1154M1977 1136.3L1977 1127.7M1969.6 1149.5L1962.2 1154M1984.5 1149.5L1991.9 1154M2006.8 1136.3L2006.8 1127.7M1999.3 1149.5L1991.9 1154M2014.2 1149.5L2021.6 1154M2036.4 1136.3L2036.4 1127.7M2029 1149.5L2021.6 1154M2043.9 1149.5L2051.3 1154M1665.2 1163.1L1665.2 1154M1657.8 1176.2L1650.3 1180.3M1672.6 1176.2L1680 1180.3M1694.9 1163.1L1694.9 1154M1687.5 1176.2L1680 1180.3M1702.3 1176.2L1709.8 1180.3M1724.6 1163.1L1724.6 1154M1717.2 1176.2L1709.8 1180.3M1732 1176.2L1739.5 1180.3M1754.3 1163.1L1754.3 1154M1746.9 1176.2L1739.5 1180.3M1761.7 1176.2L1769.1 1180.3M1784 1163.1L1784 1154M1776.6 1176.2L1769.1 1180.3M1791.4 1176.2L1798.8 1180.3M1813.7 1163.1L1813.7 1154M1806.3 1176.2L1798.8 1180.3M1821.1 1176.2L1828.5 1180.3M1843.4 1163.1L1843.4 1154M1836 1176.2L1828.5 1180.3M1850.8 1176.2L1858.2 1180.3M1873.1 1163.1L1873.1 1154M1865.7 1176.2L1858.2 1180.3M1880.5 1176.2L1888 1180.3M1902.8 1163.1L1902.8 1154M1895.4 1176.2L1888 1180.3M1910.2 1176.2L1917.6 1180.3M1932.5 1163.1L1932.5 1154M1925.1 1176.2L1917.6 1180.3M1939.9 1176.2L1947.3 1180.3M1962.2 1163.1L1962.2 1154M1954.8 1176.2L1947.3 1180.3M1969.6 1176.2L1977 1180.3M1991.9 1163.1L1991.9 1154M1984.5 1176.2L1977 1180.3M1999.3 1176.2L2006.8 1180.3M2021.6 1163.1L2021.6 1154M2014.2 1176.2L2006.8 1180.3M2029 1176.2L2036.4 1180.3M2051.3 1163.1L2051.3 1154M2043.9 1176.2L2036.4 1180.3" stroke="#f6ee3a" stroke-width="2.0" fill="none"/>
<path d="M1813.7 1069.2L1806.3 1071.7M1813.7 1069.2L1821.1 1071.7M1843.4 1069.2L1836 1071.7M1843.4 1069.2L1850.8 1071.7M1873.1 1069.2L1865.7 1071.7M1873.1 1069.2L1880.5 1071.7M1828.5 1093.4L1828.5 1083.8M1828.5 1093.4L1821.1 1097.5M1828.5 1093.4L1836 1097.5M1858.2 1093.4L1858.2 1083.8M1858.2 1093.4L1850.8 1097.5M1858.2 1093.4L1865.7 1097.5M1888 1093.4L1888 1083.8M1888 1093.4L1880.5 1097.5M1888 1093.4L1895.4 1097.5M1813.7 1119.7L1813.7 1110.6M1813.7 1119.7L1806.3 1123.7M1813.7 1119.7L1821.1 1123.7M1843.4 1119.7L1843.4 1110.6M1843.4 1119.7L1836 1123.7M1843.4 1119.7L1850.8 1123.7M1873.1 1119.7L1873.1 1110.6M1873.1 1119.7L1865.7 1123.7M1873.1 1119.7L1880.5 1123.7M1828.5 1144.9L1828.5 1136.3M1828.5 1144.9L1821.1 1149.5M1828.5 1144.9L1836 1149.5M1858.2 1144.9L1858.2 1136.3M1858.2 1144.9L1850.8 1149.5M1858.2 1144.9L1865.7 1149.5M1888 1144.9L1888 1136.3M1888 1144.9L1880.5 1149.5M1888 1144.9L1895.4 1149.5M1813.7 1172.2L1813.7 1163.1M1813.7 1172.2L1806.3 1176.2M1813.7 1172.2L1821.1 1176.2M1843.4 1172.2L1843.4 1163.1M1843.4 1172.2L1836 1176.2M1843.4 1172.2L1850.8 1176.2M1873.1 1172.2L1873.1 1163.1M1873.1 1172.2L1865.7 1176.2M1873.1 1172.2L1880.5 1176.2" stroke="#8adbe6" stroke-width="2.0" fill="none"/>
<g fill="url(#gY)"><ellipse cx="1650.3" cy="1074.2" rx="3.5" ry="4.1"/><ellipse cx="1680" cy="1074.2" rx="3.5" ry="4.1"/><ellipse cx="1709.8" cy="1074.2" rx="3.5" ry="4.1"/><ellipse cx="1739.5" cy="1074.2" rx="3.5" ry="4.1"/><ellipse cx="1769.1" cy="1074.2" rx="3.5" ry="4.1"/><ellipse cx="1798.8" cy="1074.2" rx="3.5" ry="4.1"/><ellipse cx="1828.5" cy="1074.2" rx="3.5" ry="4.1"/><ellipse cx="1858.2" cy="1074.2" rx="3.5" ry="4.1"/><ellipse cx="1888" cy="1074.2" rx="3.5" ry="4.1"/><ellipse cx="1917.6" cy="1074.2" rx="3.5" ry="4.1"/><ellipse cx="1947.3" cy="1074.2" rx="3.5" ry="4.1"/><ellipse cx="1977" cy="1074.2" rx="3.5" ry="4.1"/><ellipse cx="2006.8" cy="1074.2" rx="3.5" ry="4.1"/><ellipse cx="2036.4" cy="1074.2" rx="3.5" ry="4.1"/><ellipse cx="1665.2" cy="1101.5" rx="3.5" ry="4.1"/><ellipse cx="1694.9" cy="1101.5" rx="3.5" ry="4.1"/><ellipse cx="1724.6" cy="1101.5" rx="3.5" ry="4.1"/><ellipse cx="1754.3" cy="1101.5" rx="3.5" ry="4.1"/><ellipse cx="1784" cy="1101.5" rx="3.5" ry="4.1"/><ellipse cx="1813.7" cy="1101.5" rx="3.5" ry="4.1"/><ellipse cx="1843.4" cy="1101.5" rx="3.5" ry="4.1"/><ellipse cx="1873.1" cy="1101.5" rx="3.5" ry="4.1"/><ellipse cx="1902.8" cy="1101.5" rx="3.5" ry="4.1"/><ellipse cx="1932.5" cy="1101.5" rx="3.5" ry="4.1"/><ellipse cx="1962.2" cy="1101.5" rx="3.5" ry="4.1"/><ellipse cx="1991.9" cy="1101.5" rx="3.5" ry="4.1"/><ellipse cx="2021.6" cy="1101.5" rx="3.5" ry="4.1"/><ellipse cx="2051.3" cy="1101.5" rx="3.5" ry="4.1"/><ellipse cx="1650.3" cy="1127.7" rx="3.5" ry="4.1"/><ellipse cx="1680" cy="1127.7" rx="3.5" ry="4.1"/><ellipse cx="1709.8" cy="1127.7" rx="3.5" ry="4.1"/><ellipse cx="1739.5" cy="1127.7" rx="3.5" ry="4.1"/><ellipse cx="1769.1" cy="1127.7" rx="3.5" ry="4.1"/><ellipse cx="1798.8" cy="1127.7" rx="3.5" ry="4.1"/><ellipse cx="1828.5" cy="1127.7" rx="3.5" ry="4.1"/><ellipse cx="1858.2" cy="1127.7" rx="3.5" ry="4.1"/><ellipse cx="1888" cy="1127.7" rx="3.5" ry="4.1"/><ellipse cx="1917.6" cy="1127.7" rx="3.5" ry="4.1"/><ellipse cx="1947.3" cy="1127.7" rx="3.5" ry="4.1"/><ellipse cx="1977" cy="1127.7" rx="3.5" ry="4.1"/><ellipse cx="2006.8" cy="1127.7" rx="3.5" ry="4.1"/><ellipse cx="2036.4" cy="1127.7" rx="3.5" ry="4.1"/><ellipse cx="1665.2" cy="1154" rx="3.5" ry="4.1"/><ellipse cx="1694.9" cy="1154" rx="3.5" ry="4.1"/><ellipse cx="1724.6" cy="1154" rx="3.5" ry="4.1"/><ellipse cx="1754.3" cy="1154" rx="3.5" ry="4.1"/><ellipse cx="1784" cy="1154" rx="3.5" ry="4.1"/><ellipse cx="1813.7" cy="1154" rx="3.5" ry="4.1"/><ellipse cx="1843.4" cy="1154" rx="3.5" ry="4.1"/><ellipse cx="1873.1" cy="1154" rx="3.5" ry="4.1"/><ellipse cx="1902.8" cy="1154" rx="3.5" ry="4.1"/><ellipse cx="1932.5" cy="1154" rx="3.5" ry="4.1"/><ellipse cx="1962.2" cy="1154" rx="3.5" ry="4.1"/><ellipse cx="1991.9" cy="1154" rx="3.5" ry="4.1"/><ellipse cx="2021.6" cy="1154" rx="3.5" ry="4.1"/><ellipse cx="2051.3" cy="1154" rx="3.5" ry="4.1"/><ellipse cx="1650.3" cy="1180.3" rx="3.5" ry="4.1"/><ellipse cx="1680" cy="1180.3" rx="3.5" ry="4.1"/><ellipse cx="1709.8" cy="1180.3" rx="3.5" ry="4.1"/><ellipse cx="1739.5" cy="1180.3" rx="3.5" ry="4.1"/><ellipse cx="1769.1" cy="1180.3" rx="3.5" ry="4.1"/><ellipse cx="1798.8" cy="1180.3" rx="3.5" ry="4.1"/><ellipse cx="1828.5" cy="1180.3" rx="3.5" ry="4.1"/><ellipse cx="1858.2" cy="1180.3" rx="3.5" ry="4.1"/><ellipse cx="1888" cy="1180.3" rx="3.5" ry="4.1"/><ellipse cx="1917.6" cy="1180.3" rx="3.5" ry="4.1"/><ellipse cx="1947.3" cy="1180.3" rx="3.5" ry="4.1"/><ellipse cx="1977" cy="1180.3" rx="3.5" ry="4.1"/><ellipse cx="2006.8" cy="1180.3" rx="3.5" ry="4.1"/><ellipse cx="2036.4" cy="1180.3" rx="3.5" ry="4.1"/></g>
<g fill="url(#gD)"><ellipse cx="1665.2" cy="1069.2" rx="3.7" ry="4.3"/><ellipse cx="1694.9" cy="1069.2" rx="3.7" ry="4.3"/><ellipse cx="1724.6" cy="1069.2" rx="3.7" ry="4.3"/><ellipse cx="1754.3" cy="1069.2" rx="3.7" ry="4.3"/><ellipse cx="1784" cy="1069.2" rx="3.7" ry="4.3"/><ellipse cx="1902.8" cy="1069.2" rx="3.7" ry="4.3"/><ellipse cx="1932.5" cy="1069.2" rx="3.7" ry="4.3"/><ellipse cx="1962.2" cy="1069.2" rx="3.7" ry="4.3"/><ellipse cx="1991.9" cy="1069.2" rx="3.7" ry="4.3"/><ellipse cx="2021.6" cy="1069.2" rx="3.7" ry="4.3"/><ellipse cx="2051.3" cy="1069.2" rx="3.7" ry="4.3"/><ellipse cx="1650.3" cy="1093.4" rx="3.7" ry="4.3"/><ellipse cx="1680" cy="1093.4" rx="3.7" ry="4.3"/><ellipse cx="1709.8" cy="1093.4" rx="3.7" ry="4.3"/><ellipse cx="1739.5" cy="1093.4" rx="3.7" ry="4.3"/><ellipse cx="1769.1" cy="1093.4" rx="3.7" ry="4.3"/><ellipse cx="1798.8" cy="1093.4" rx="3.7" ry="4.3"/><ellipse cx="1917.6" cy="1093.4" rx="3.7" ry="4.3"/><ellipse cx="1947.3" cy="1093.4" rx="3.7" ry="4.3"/><ellipse cx="1977" cy="1093.4" rx="3.7" ry="4.3"/><ellipse cx="2006.8" cy="1093.4" rx="3.7" ry="4.3"/><ellipse cx="2036.4" cy="1093.4" rx="3.7" ry="4.3"/><ellipse cx="1665.2" cy="1119.7" rx="3.7" ry="4.3"/><ellipse cx="1694.9" cy="1119.7" rx="3.7" ry="4.3"/><ellipse cx="1724.6" cy="1119.7" rx="3.7" ry="4.3"/><ellipse cx="1754.3" cy="1119.7" rx="3.7" ry="4.3"/><ellipse cx="1784" cy="1119.7" rx="3.7" ry="4.3"/><ellipse cx="1902.8" cy="1119.7" rx="3.7" ry="4.3"/><ellipse cx="1932.5" cy="1119.7" rx="3.7" ry="4.3"/><ellipse cx="1962.2" cy="1119.7" rx="3.7" ry="4.3"/><ellipse cx="1991.9" cy="1119.7" rx="3.7" ry="4.3"/><ellipse cx="2021.6" cy="1119.7" rx="3.7" ry="4.3"/><ellipse cx="2051.3" cy="1119.7" rx="3.7" ry="4.3"/><ellipse cx="1650.3" cy="1144.9" rx="3.7" ry="4.3"/><ellipse cx="1680" cy="1144.9" rx="3.7" ry="4.3"/><ellipse cx="1709.8" cy="1144.9" rx="3.7" ry="4.3"/><ellipse cx="1739.5" cy="1144.9" rx="3.7" ry="4.3"/><ellipse cx="1769.1" cy="1144.9" rx="3.7" ry="4.3"/><ellipse cx="1798.8" cy="1144.9" rx="3.7" ry="4.3"/><ellipse cx="1917.6" cy="1144.9" rx="3.7" ry="4.3"/><ellipse cx="1947.3" cy="1144.9" rx="3.7" ry="4.3"/><ellipse cx="1977" cy="1144.9" rx="3.7" ry="4.3"/><ellipse cx="2006.8" cy="1144.9" rx="3.7" ry="4.3"/><ellipse cx="2036.4" cy="1144.9" rx="3.7" ry="4.3"/><ellipse cx="1665.2" cy="1172.2" rx="3.7" ry="4.3"/><ellipse cx="1694.9" cy="1172.2" rx="3.7" ry="4.3"/><ellipse cx="1724.6" cy="1172.2" rx="3.7" ry="4.3"/><ellipse cx="1754.3" cy="1172.2" rx="3.7" ry="4.3"/><ellipse cx="1784" cy="1172.2" rx="3.7" ry="4.3"/><ellipse cx="1902.8" cy="1172.2" rx="3.7" ry="4.3"/><ellipse cx="1932.5" cy="1172.2" rx="3.7" ry="4.3"/><ellipse cx="1962.2" cy="1172.2" rx="3.7" ry="4.3"/><ellipse cx="1991.9" cy="1172.2" rx="3.7" ry="4.3"/><ellipse cx="2021.6" cy="1172.2" rx="3.7" ry="4.3"/><ellipse cx="2051.3" cy="1172.2" rx="3.7" ry="4.3"/></g>
<g fill="url(#gC)"><ellipse cx="1813.7" cy="1069.2" rx="3.7" ry="4.3"/><ellipse cx="1843.4" cy="1069.2" rx="3.7" ry="4.3"/><ellipse cx="1873.1" cy="1069.2" rx="3.7" ry="4.3"/><ellipse cx="1828.5" cy="1093.4" rx="3.7" ry="4.3"/><ellipse cx="1858.2" cy="1093.4" rx="3.7" ry="4.3"/><ellipse cx="1888" cy="1093.4" rx="3.7" ry="4.3"/><ellipse cx="1813.7" cy="1119.7" rx="3.7" ry="4.3"/><ellipse cx="1843.4" cy="1119.7" rx="3.7" ry="4.3"/><ellipse cx="1873.1" cy="1119.7" rx="3.7" ry="4.3"/><ellipse cx="1828.5" cy="1144.9" rx="3.7" ry="4.3"/><ellipse cx="1858.2" cy="1144.9" rx="3.7" ry="4.3"/><ellipse cx="1888" cy="1144.9" rx="3.7" ry="4.3"/><ellipse cx="1813.7" cy="1172.2" rx="3.7" ry="4.3"/><ellipse cx="1843.4" cy="1172.2" rx="3.7" ry="4.3"/><ellipse cx="1873.1" cy="1172.2" rx="3.7" ry="4.3"/></g>
</g>
<rect x="1656.6" y="1061.1" width="60.5" height="135.70000000000005" fill="#bcbcbc" style="mix-blend-mode:multiply"/>
<rect x="1984.3" y="1061.1" width="60.600000000000136" height="135.70000000000005" fill="#bcbcbc" style="mix-blend-mode:multiply"/>
<ellipse cx="1740" cy="1176.2" rx="7" ry="7" fill="url(#bg3)"/>
<ellipse cx="1740" cy="1186.3" rx="7" ry="6" fill="url(#bg2)"/>
<ellipse cx="1770.2" cy="1176.2" rx="7" ry="7" fill="url(#bg2)"/>
<ellipse cx="1770.2" cy="1186.3" rx="6" ry="6" fill="url(#bg3)"/>
<ellipse cx="1800.5" cy="1177.2" rx="2" ry="2" fill="url(#bg4)"/>
<ellipse cx="1858.1" cy="1177.2" rx="2.5" ry="2.5" fill="url(#bg2)"/>
<ellipse cx="1858.1" cy="1184.3" rx="1.6" ry="1.6" fill="url(#bg3)"/>
<ellipse cx="1887.4" cy="1176.2" rx="4.4" ry="5" fill="url(#bg3)"/>
<ellipse cx="1887.4" cy="1185.3" rx="3.6" ry="3.6" fill="url(#bg2)"/>
<ellipse cx="1916.7" cy="1176.2" rx="5" ry="5" fill="url(#bg1)"/>
<ellipse cx="1916.7" cy="1185.3" rx="4.4" ry="4" fill="url(#bg8)"/>
<ellipse cx="1947" cy="1176.2" rx="4.4" ry="4.4" fill="url(#bg8)"/>
<ellipse cx="1947" cy="1185.3" rx="4" ry="3.6" fill="url(#bg1)"/>
<ellipse cx="1977.2" cy="1176.2" rx="5.6" ry="5.6" fill="url(#bg19)"/>
<ellipse cx="1977.2" cy="1185.3" rx="5" ry="4.4" fill="url(#bg5)"/>
<clipPath id="mc16"><rect x="1656.6" y="1172.9" width="388.3000000000002" height="195.89999999999986"/></clipPath>
<g clip-path="url(#mc16)">
<path d="M1637 1216.6L1644.3 1218.6M1666.3 1216.6L1659 1218.6M1666.3 1216.6L1673.6 1218.6M1695.6 1216.6L1688.3 1218.6M1695.6 1216.6L1702.9 1218.6M1724.9 1216.6L1717.6 1218.6M1724.9 1216.6L1732.2 1218.6M1754.2 1216.6L1746.9 1218.6M1754.2 1216.6L1761.5 1218.6M1783.5 1216.6L1776.2 1218.6M1783.5 1216.6L1790.8 1218.6M1900.7 1216.6L1893.4 1218.6M1900.7 1216.6L1908 1218.6M1930 1216.6L1922.7 1218.6M1930 1216.6L1937.3 1218.6M1959.3 1216.6L1952 1218.6M1959.3 1216.6L1966.6 1218.6M1988.6 1216.6L1981.3 1218.6M1988.6 1216.6L1995.9 1218.6M2017.9 1216.6L2010.6 1218.6M2017.9 1216.6L2025.2 1218.6M2047.2 1216.6L2039.9 1218.6M2047.2 1216.6L2054.5 1218.6M1651.7 1234.8L1651.7 1227.7M1651.7 1234.8L1644.3 1238.8M1651.7 1234.8L1659 1238.8M1681 1234.8L1681 1227.7M1681 1234.8L1673.6 1238.8M1681 1234.8L1688.3 1238.8M1710.2 1234.8L1710.2 1227.7M1710.2 1234.8L1702.9 1238.8M1710.2 1234.8L1717.6 1238.8M1739.5 1234.8L1739.5 1227.7M1739.5 1234.8L1732.2 1238.8M1739.5 1234.8L1746.9 1238.8M1768.9 1234.8L1768.9 1227.7M1768.9 1234.8L1761.5 1238.8M1768.9 1234.8L1776.2 1238.8M1798.2 1234.8L1798.2 1227.7M1798.2 1234.8L1790.8 1238.8M1798.2 1234.8L1805.5 1238.8M1915.4 1234.8L1915.4 1227.7M1915.4 1234.8L1908 1238.8M1915.4 1234.8L1922.7 1238.8M1944.7 1234.8L1944.7 1227.7M1944.7 1234.8L1937.3 1238.8M1944.7 1234.8L1952 1238.8M1974 1234.8L1974 1227.7M1974 1234.8L1966.6 1238.8M1974 1234.8L1981.3 1238.8M2003.2 1234.8L2003.2 1227.7M2003.2 1234.8L1995.9 1238.8M2003.2 1234.8L2010.6 1238.8M2032.6 1234.8L2032.6 1227.7M2032.6 1234.8L2025.2 1238.8M2032.6 1234.8L2039.9 1238.8M2061.8 1234.8L2061.8 1227.7M2061.8 1234.8L2054.5 1238.8M1637 1256L1637 1249.5M1637 1256L1644.3 1259.5M1666.3 1256L1666.3 1249.5M1666.3 1256L1659 1259.5M1666.3 1256L1673.6 1259.5M1695.6 1256L1695.6 1249.5M1695.6 1256L1688.3 1259.5M1695.6 1256L1702.9 1259.5M1724.9 1256L1724.9 1249.5M1724.9 1256L1717.6 1259.5M1724.9 1256L1732.2 1259.5M1754.2 1256L1754.2 1249.5M1754.2 1256L1746.9 1259.5M1754.2 1256L1761.5 1259.5M1783.5 1256L1783.5 1249.5M1783.5 1256L1776.2 1259.5M1783.5 1256L1790.8 1259.5M1900.7 1256L1900.7 1249.5M1900.7 1256L1893.4 1259.5M1900.7 1256L1908 1259.5M1930 1256L1930 1249.5M1930 1256L1922.7 1259.5M1930 1256L1937.3 1259.5M1959.3 1256L1959.3 1249.5M1959.3 1256L1952 1259.5M1959.3 1256L1966.6 1259.5M1988.6 1256L1988.6 1249.5M1988.6 1256L1981.3 1259.5M1988.6 1256L1995.9 1259.5M2017.9 1256L2017.9 1249.5M2017.9 1256L2010.6 1259.5M2017.9 1256L2025.2 1259.5M2047.2 1256L2047.2 1249.5M2047.2 1256L2039.9 1259.5M2047.2 1256L2054.5 1259.5M1651.7 1277.2L1651.7 1270.1M1651.7 1277.2L1644.3 1280.8M1651.7 1277.2L1659 1280.8M1681 1277.2L1681 1270.1M1681 1277.2L1673.6 1280.8M1681 1277.2L1688.3 1280.8M1710.2 1277.2L1710.2 1270.1M1710.2 1277.2L1702.9 1280.8M1710.2 1277.2L1717.6 1280.8M1739.5 1277.2L1739.5 1270.1M1739.5 1277.2L1732.2 1280.8M1739.5 1277.2L1746.9 1280.8M1768.9 1277.2L1768.9 1270.1M1768.9 1277.2L1761.5 1280.8M1768.9 1277.2L1776.2 1280.8M1798.2 1277.2L1798.2 1270.1M1798.2 1277.2L1790.8 1280.8M1798.2 1277.2L1805.5 1280.8M1915.4 1277.2L1915.4 1270.1M1915.4 1277.2L1908 1280.8M1915.4 1277.2L1922.7 1280.8M1944.7 1277.2L1944.7 1270.1M1944.7 1277.2L1937.3 1280.8M1944.7 1277.2L1952 1280.8M1974 1277.2L1974 1270.1M1974 1277.2L1966.6 1280.8M1974 1277.2L1981.3 1280.8M2003.2 1277.2L2003.2 1270.1M2003.2 1277.2L1995.9 1280.8M2003.2 1277.2L2010.6 1280.8M2032.6 1277.2L2032.6 1270.1M2032.6 1277.2L2025.2 1280.8M2032.6 1277.2L2039.9 1280.8M2061.8 1277.2L2061.8 1270.1M2061.8 1277.2L2054.5 1280.8M1637 1297.4L1637 1290.8M1637 1297.4L1644.3 1301.5M1666.3 1297.4L1666.3 1290.8M1666.3 1297.4L1659 1301.5M1666.3 1297.4L1673.6 1301.5M1695.6 1297.4L1695.6 1290.8M1695.6 1297.4L1688.3 1301.5M1695.6 1297.4L1702.9 1301.5M1724.9 1297.4L1724.9 1290.8M1724.9 1297.4L1717.6 1301.5M1724.9 1297.4L1732.2 1301.5M1754.2 1297.4L1754.2 1290.8M1754.2 1297.4L1746.9 1301.5M1754.2 1297.4L1761.5 1301.5M1783.5 1297.4L1783.5 1290.8M1783.5 1297.4L1776.2 1301.5M1783.5 1297.4L1790.8 1301.5M1900.7 1297.4L1900.7 1290.8M1900.7 1297.4L1893.4 1301.5M1900.7 1297.4L1908 1301.5M1930 1297.4L1930 1290.8M1930 1297.4L1922.7 1301.5M1930 1297.4L1937.3 1301.5M1959.3 1297.4L1959.3 1290.8M1959.3 1297.4L1952 1301.5M1959.3 1297.4L1966.6 1301.5M1988.6 1297.4L1988.6 1290.8M1988.6 1297.4L1981.3 1301.5M1988.6 1297.4L1995.9 1301.5M2017.9 1297.4L2017.9 1290.8M2017.9 1297.4L2010.6 1301.5M2017.9 1297.4L2025.2 1301.5M2047.2 1297.4L2047.2 1290.8M2047.2 1297.4L2039.9 1301.5M2047.2 1297.4L2054.5 1301.5M1651.7 1319.6L1651.7 1312.5M1651.7 1319.6L1644.3 1323.2M1651.7 1319.6L1659 1323.2M1681 1319.6L1681 1312.5M1681 1319.6L1673.6 1323.2M1681 1319.6L1688.3 1323.2M1710.2 1319.6L1710.2 1312.5M1710.2 1319.6L1702.9 1323.2M1710.2 1319.6L1717.6 1323.2M1739.5 1319.6L1739.5 1312.5M1739.5 1319.6L1732.2 1323.2M1739.5 1319.6L1746.9 1323.2M1768.9 1319.6L1768.9 1312.5M1768.9 1319.6L1761.5 1323.2M1768.9 1319.6L1776.2 1323.2M1798.2 1319.6L1798.2 1312.5M1798.2 1319.6L1790.8 1323.2M1798.2 1319.6L1805.5 1323.2M1915.4 1319.6L1915.4 1312.5M1915.4 1319.6L1908 1323.2M1915.4 1319.6L1922.7 1323.2M1944.7 1319.6L1944.7 1312.5M1944.7 1319.6L1937.3 1323.2M1944.7 1319.6L1952 1323.2M1974 1319.6L1974 1312.5M1974 1319.6L1966.6 1323.2M1974 1319.6L1981.3 1323.2M2003.2 1319.6L2003.2 1312.5M2003.2 1319.6L1995.9 1323.2M2003.2 1319.6L2010.6 1323.2M2032.6 1319.6L2032.6 1312.5M2032.6 1319.6L2025.2 1323.2M2032.6 1319.6L2039.9 1323.2M2061.8 1319.6L2061.8 1312.5M2061.8 1319.6L2054.5 1323.2" stroke="#4a3ee0" stroke-width="2.0" fill="none"/>
<path d="M1644.3 1218.6L1651.7 1220.6M1659 1218.6L1651.7 1220.6M1673.6 1218.6L1681 1220.6M1688.3 1218.6L1681 1220.6M1702.9 1218.6L1710.2 1220.6M1717.6 1218.6L1710.2 1220.6M1732.2 1218.6L1739.5 1220.6M1746.9 1218.6L1739.5 1220.6M1761.5 1218.6L1768.9 1220.6M1776.2 1218.6L1768.9 1220.6M1790.8 1218.6L1798.2 1220.6M1805.5 1218.6L1798.2 1220.6M1820.1 1218.6L1827.5 1220.6M1834.8 1218.6L1827.5 1220.6M1849.4 1218.6L1856.8 1220.6M1864.1 1218.6L1856.8 1220.6M1878.7 1218.6L1886 1220.6M1893.4 1218.6L1886 1220.6M1908 1218.6L1915.4 1220.6M1922.7 1218.6L1915.4 1220.6M1937.3 1218.6L1944.7 1220.6M1952 1218.6L1944.7 1220.6M1966.6 1218.6L1974 1220.6M1981.3 1218.6L1974 1220.6M1995.9 1218.6L2003.2 1220.6M2010.6 1218.6L2003.2 1220.6M2025.2 1218.6L2032.6 1220.6M2039.9 1218.6L2032.6 1220.6M2054.5 1218.6L2061.8 1220.6M1651.7 1227.7L1651.7 1220.6M1644.3 1238.8L1637 1242.9M1659 1238.8L1666.3 1242.9M1681 1227.7L1681 1220.6M1673.6 1238.8L1666.3 1242.9M1688.3 1238.8L1695.6 1242.9M1710.2 1227.7L1710.2 1220.6M1702.9 1238.8L1695.6 1242.9M1717.6 1238.8L1724.9 1242.9M1739.5 1227.7L1739.5 1220.6M1732.2 1238.8L1724.9 1242.9M1746.9 1238.8L1754.2 1242.9M1768.9 1227.7L1768.9 1220.6M1761.5 1238.8L1754.2 1242.9M1776.2 1238.8L1783.5 1242.9M1798.2 1227.7L1798.2 1220.6M1790.8 1238.8L1783.5 1242.9M1805.5 1238.8L1812.8 1242.9M1827.5 1227.7L1827.5 1220.6M1820.1 1238.8L1812.8 1242.9M1834.8 1238.8L1842.1 1242.9M1856.8 1227.7L1856.8 1220.6M1849.4 1238.8L1842.1 1242.9M1864.1 1238.8L1871.4 1242.9M1886 1227.7L1886 1220.6M1878.7 1238.8L1871.4 1242.9M1893.4 1238.8L1900.7 1242.9M1915.4 1227.7L1915.4 1220.6M1908 1238.8L1900.7 1242.9M1922.7 1238.8L1930 1242.9M1944.7 1227.7L1944.7 1220.6M1937.3 1238.8L1930 1242.9M1952 1238.8L1959.3 1242.9M1974 1227.7L1974 1220.6M1966.6 1238.8L1959.3 1242.9M1981.3 1238.8L1988.6 1242.9M2003.2 1227.7L2003.2 1220.6M1995.9 1238.8L1988.6 1242.9M2010.6 1238.8L2017.9 1242.9M2032.6 1227.7L2032.6 1220.6M2025.2 1238.8L2017.9 1242.9M2039.9 1238.8L2047.2 1242.9M2061.8 1227.7L2061.8 1220.6M2054.5 1238.8L2047.2 1242.9M1637 1249.5L1637 1242.9M1644.3 1259.5L1651.7 1263M1666.3 1249.5L1666.3 1242.9M1659 1259.5L1651.7 1263M1673.6 1259.5L1681 1263M1695.6 1249.5L1695.6 1242.9M1688.3 1259.5L1681 1263M1702.9 1259.5L1710.2 1263M1724.9 1249.5L1724.9 1242.9M1717.6 1259.5L1710.2 1263M1732.2 1259.5L1739.5 1263M1754.2 1249.5L1754.2 1242.9M1746.9 1259.5L1739.5 1263M1761.5 1259.5L1768.9 1263M1783.5 1249.5L1783.5 1242.9M1776.2 1259.5L1768.9 1263M1790.8 1259.5L1798.2 1263M1812.8 1249.5L1812.8 1242.9M1805.5 1259.5L1798.2 1263M1820.1 1259.5L1827.5 1263M1842.1 1249.5L1842.1 1242.9M1834.8 1259.5L1827.5 1263M1849.4 1259.5L1856.8 1263M1871.4 1249.5L1871.4 1242.9M1864.1 1259.5L1856.8 1263M1878.7 1259.5L1886 1263M1900.7 1249.5L1900.7 1242.9M1893.4 1259.5L1886 1263M1908 1259.5L1915.4 1263M1930 1249.5L1930 1242.9M1922.7 1259.5L1915.4 1263M1937.3 1259.5L1944.7 1263M1959.3 1249.5L1959.3 1242.9M1952 1259.5L1944.7 1263M1966.6 1259.5L1974 1263M1988.6 1249.5L1988.6 1242.9M1981.3 1259.5L1974 1263M1995.9 1259.5L2003.2 1263M2017.9 1249.5L2017.9 1242.9M2010.6 1259.5L2003.2 1263M2025.2 1259.5L2032.6 1263M2047.2 1249.5L2047.2 1242.9M2039.9 1259.5L2032.6 1263M2054.5 1259.5L2061.8 1263M1651.7 1270.1L1651.7 1263M1644.3 1280.8L1637 1284.3M1659 1280.8L1666.3 1284.3M1681 1270.1L1681 1263M1673.6 1280.8L1666.3 1284.3M1688.3 1280.8L1695.6 1284.3M1710.2 1270.1L1710.2 1263M1702.9 1280.8L1695.6 1284.3M1717.6 1280.8L1724.9 1284.3M1739.5 1270.1L1739.5 1263M1732.2 1280.8L1724.9 1284.3M1746.9 1280.8L1754.2 1284.3M1768.9 1270.1L1768.9 1263M1761.5 1280.8L1754.2 1284.3M1776.2 1280.8L1783.5 1284.3M1798.2 1270.1L1798.2 1263M1790.8 1280.8L1783.5 1284.3M1805.5 1280.8L1812.8 1284.3M1827.5 1270.1L1827.5 1263M1820.1 1280.8L1812.8 1284.3M1834.8 1280.8L1842.1 1284.3M1856.8 1270.1L1856.8 1263M1849.4 1280.8L1842.1 1284.3M1864.1 1280.8L1871.4 1284.3M1886 1270.1L1886 1263M1878.7 1280.8L1871.4 1284.3M1893.4 1280.8L1900.7 1284.3M1915.4 1270.1L1915.4 1263M1908 1280.8L1900.7 1284.3M1922.7 1280.8L1930 1284.3M1944.7 1270.1L1944.7 1263M1937.3 1280.8L1930 1284.3M1952 1280.8L1959.3 1284.3M1974 1270.1L1974 1263M1966.6 1280.8L1959.3 1284.3M1981.3 1280.8L1988.6 1284.3M2003.2 1270.1L2003.2 1263M1995.9 1280.8L1988.6 1284.3M2010.6 1280.8L2017.9 1284.3M2032.6 1270.1L2032.6 1263M2025.2 1280.8L2017.9 1284.3M2039.9 1280.8L2047.2 1284.3M2061.8 1270.1L2061.8 1263M2054.5 1280.8L2047.2 1284.3M1637 1290.8L1637 1284.3M1644.3 1301.5L1651.7 1305.5M1666.3 1290.8L1666.3 1284.3M1659 1301.5L1651.7 1305.5M1673.6 1301.5L1681 1305.5M1695.6 1290.8L1695.6 1284.3M1688.3 1301.5L1681 1305.5M1702.9 1301.5L1710.2 1305.5M1724.9 1290.8L1724.9 1284.3M1717.6 1301.5L1710.2 1305.5M1732.2 1301.5L1739.5 1305.5M1754.2 1290.8L1754.2 1284.3M1746.9 1301.5L1739.5 1305.5M1761.5 1301.5L1768.9 1305.5M1783.5 1290.8L1783.5 1284.3M1776.2 1301.5L1768.9 1305.5M1790.8 1301.5L1798.2 1305.5M1812.8 1290.8L1812.8 1284.3M1805.5 1301.5L1798.2 1305.5M1820.1 1301.5L1827.5 1305.5M1842.1 1290.8L1842.1 1284.3M1834.8 1301.5L1827.5 1305.5M1849.4 1301.5L1856.8 1305.5M1871.4 1290.8L1871.4 1284.3M1864.1 1301.5L1856.8 1305.5M1878.7 1301.5L1886 1305.5M1900.7 1290.8L1900.7 1284.3M1893.4 1301.5L1886 1305.5M1908 1301.5L1915.4 1305.5M1930 1290.8L1930 1284.3M1922.7 1301.5L1915.4 1305.5M1937.3 1301.5L1944.7 1305.5M1959.3 1290.8L1959.3 1284.3M1952 1301.5L1944.7 1305.5M1966.6 1301.5L1974 1305.5M1988.6 1290.8L1988.6 1284.3M1981.3 1301.5L1974 1305.5M1995.9 1301.5L2003.2 1305.5M2017.9 1290.8L2017.9 1284.3M2010.6 1301.5L2003.2 1305.5M2025.2 1301.5L2032.6 1305.5M2047.2 1290.8L2047.2 1284.3M2039.9 1301.5L2032.6 1305.5M2054.5 1301.5L2061.8 1305.5M1651.7 1312.5L1651.7 1305.5M1644.3 1323.2L1637 1326.7M1659 1323.2L1666.3 1326.7M1681 1312.5L1681 1305.5M1673.6 1323.2L1666.3 1326.7M1688.3 1323.2L1695.6 1326.7M1710.2 1312.5L1710.2 1305.5M1702.9 1323.2L1695.6 1326.7M1717.6 1323.2L1724.9 1326.7M1739.5 1312.5L1739.5 1305.5M1732.2 1323.2L1724.9 1326.7M1746.9 1323.2L1754.2 1326.7M1768.9 1312.5L1768.9 1305.5M1761.5 1323.2L1754.2 1326.7M1776.2 1323.2L1783.5 1326.7M1798.2 1312.5L1798.2 1305.5M1790.8 1323.2L1783.5 1326.7M1805.5 1323.2L1812.8 1326.7M1827.5 1312.5L1827.5 1305.5M1820.1 1323.2L1812.8 1326.7M1834.8 1323.2L1842.1 1326.7M1856.8 1312.5L1856.8 1305.5M1849.4 1323.2L1842.1 1326.7M1864.1 1323.2L1871.4 1326.7M1886 1312.5L1886 1305.5M1878.7 1323.2L1871.4 1326.7M1893.4 1323.2L1900.7 1326.7M1915.4 1312.5L1915.4 1305.5M1908 1323.2L1900.7 1326.7M1922.7 1323.2L1930 1326.7M1944.7 1312.5L1944.7 1305.5M1937.3 1323.2L1930 1326.7M1952 1323.2L1959.3 1326.7M1974 1312.5L1974 1305.5M1966.6 1323.2L1959.3 1326.7M1981.3 1323.2L1988.6 1326.7M2003.2 1312.5L2003.2 1305.5M1995.9 1323.2L1988.6 1326.7M2010.6 1323.2L2017.9 1326.7M2032.6 1312.5L2032.6 1305.5M2025.2 1323.2L2017.9 1326.7M2039.9 1323.2L2047.2 1326.7M2061.8 1312.5L2061.8 1305.5M2054.5 1323.2L2047.2 1326.7" stroke="#f6ee3a" stroke-width="2.0" fill="none"/>
<path d="M1812.8 1216.6L1805.5 1218.6M1812.8 1216.6L1820.1 1218.6M1842.1 1216.6L1834.8 1218.6M1842.1 1216.6L1849.4 1218.6M1871.4 1216.6L1864.1 1218.6M1871.4 1216.6L1878.7 1218.6M1827.5 1234.8L1827.5 1227.7M1827.5 1234.8L1820.1 1238.8M1827.5 1234.8L1834.8 1238.8M1856.8 1234.8L1856.8 1227.7M1856.8 1234.8L1849.4 1238.8M1856.8 1234.8L1864.1 1238.8M1886 1234.8L1886 1227.7M1886 1234.8L1878.7 1238.8M1886 1234.8L1893.4 1238.8M1812.8 1256L1812.8 1249.5M1812.8 1256L1805.5 1259.5M1812.8 1256L1820.1 1259.5M1842.1 1256L1842.1 1249.5M1842.1 1256L1834.8 1259.5M1842.1 1256L1849.4 1259.5M1871.4 1256L1871.4 1249.5M1871.4 1256L1864.1 1259.5M1871.4 1256L1878.7 1259.5M1827.5 1277.2L1827.5 1270.1M1827.5 1277.2L1820.1 1280.8M1827.5 1277.2L1834.8 1280.8M1856.8 1277.2L1856.8 1270.1M1856.8 1277.2L1849.4 1280.8M1856.8 1277.2L1864.1 1280.8M1886 1277.2L1886 1270.1M1886 1277.2L1878.7 1280.8M1886 1277.2L1893.4 1280.8M1812.8 1297.4L1812.8 1290.8M1812.8 1297.4L1805.5 1301.5M1812.8 1297.4L1820.1 1301.5M1842.1 1297.4L1842.1 1290.8M1842.1 1297.4L1834.8 1301.5M1842.1 1297.4L1849.4 1301.5M1871.4 1297.4L1871.4 1290.8M1871.4 1297.4L1864.1 1301.5M1871.4 1297.4L1878.7 1301.5M1827.5 1319.6L1827.5 1312.5M1827.5 1319.6L1820.1 1323.2M1827.5 1319.6L1834.8 1323.2M1856.8 1319.6L1856.8 1312.5M1856.8 1319.6L1849.4 1323.2M1856.8 1319.6L1864.1 1323.2M1886 1319.6L1886 1312.5M1886 1319.6L1878.7 1323.2M1886 1319.6L1893.4 1323.2" stroke="#8adbe6" stroke-width="2.0" fill="none"/>
<g fill="url(#gD)"><ellipse cx="1637" cy="1216.6" rx="3.5" ry="4.0"/><ellipse cx="1666.3" cy="1216.6" rx="3.5" ry="4.0"/><ellipse cx="1695.6" cy="1216.6" rx="3.5" ry="4.0"/><ellipse cx="1724.9" cy="1216.6" rx="3.5" ry="4.0"/><ellipse cx="1754.2" cy="1216.6" rx="3.5" ry="4.0"/><ellipse cx="1783.5" cy="1216.6" rx="3.5" ry="4.0"/><ellipse cx="1900.7" cy="1216.6" rx="3.5" ry="4.0"/><ellipse cx="1930" cy="1216.6" rx="3.5" ry="4.0"/><ellipse cx="1959.3" cy="1216.6" rx="3.5" ry="4.0"/><ellipse cx="1988.6" cy="1216.6" rx="3.5" ry="4.0"/><ellipse cx="2017.9" cy="1216.6" rx="3.5" ry="4.0"/><ellipse cx="2047.2" cy="1216.6" rx="3.5" ry="4.0"/><ellipse cx="1651.7" cy="1234.8" rx="3.5" ry="4.0"/><ellipse cx="1681" cy="1234.8" rx="3.5" ry="4.0"/><ellipse cx="1710.2" cy="1234.8" rx="3.5" ry="4.0"/><ellipse cx="1739.5" cy="1234.8" rx="3.5" ry="4.0"/><ellipse cx="1768.9" cy="1234.8" rx="3.5" ry="4.0"/><ellipse cx="1798.2" cy="1234.8" rx="3.5" ry="4.0"/><ellipse cx="1915.4" cy="1234.8" rx="3.5" ry="4.0"/><ellipse cx="1944.7" cy="1234.8" rx="3.5" ry="4.0"/><ellipse cx="1974" cy="1234.8" rx="3.5" ry="4.0"/><ellipse cx="2003.2" cy="1234.8" rx="3.5" ry="4.0"/><ellipse cx="2032.6" cy="1234.8" rx="3.5" ry="4.0"/><ellipse cx="2061.8" cy="1234.8" rx="3.5" ry="4.0"/><ellipse cx="1637" cy="1256" rx="3.5" ry="4.0"/><ellipse cx="1666.3" cy="1256" rx="3.5" ry="4.0"/><ellipse cx="1695.6" cy="1256" rx="3.5" ry="4.0"/><ellipse cx="1724.9" cy="1256" rx="3.5" ry="4.0"/><ellipse cx="1754.2" cy="1256" rx="3.5" ry="4.0"/><ellipse cx="1783.5" cy="1256" rx="3.5" ry="4.0"/><ellipse cx="1900.7" cy="1256" rx="3.5" ry="4.0"/><ellipse cx="1930" cy="1256" rx="3.5" ry="4.0"/><ellipse cx="1959.3" cy="1256" rx="3.5" ry="4.0"/><ellipse cx="1988.6" cy="1256" rx="3.5" ry="4.0"/><ellipse cx="2017.9" cy="1256" rx="3.5" ry="4.0"/><ellipse cx="2047.2" cy="1256" rx="3.5" ry="4.0"/><ellipse cx="1651.7" cy="1277.2" rx="3.5" ry="4.0"/><ellipse cx="1681" cy="1277.2" rx="3.5" ry="4.0"/><ellipse cx="1710.2" cy="1277.2" rx="3.5" ry="4.0"/><ellipse cx="1739.5" cy="1277.2" rx="3.5" ry="4.0"/><ellipse cx="1768.9" cy="1277.2" rx="3.5" ry="4.0"/><ellipse cx="1798.2" cy="1277.2" rx="3.5" ry="4.0"/><ellipse cx="1915.4" cy="1277.2" rx="3.5" ry="4.0"/><ellipse cx="1944.7" cy="1277.2" rx="3.5" ry="4.0"/><ellipse cx="1974" cy="1277.2" rx="3.5" ry="4.0"/><ellipse cx="2003.2" cy="1277.2" rx="3.5" ry="4.0"/><ellipse cx="2032.6" cy="1277.2" rx="3.5" ry="4.0"/><ellipse cx="2061.8" cy="1277.2" rx="3.5" ry="4.0"/><ellipse cx="1637" cy="1297.4" rx="3.5" ry="4.0"/><ellipse cx="1666.3" cy="1297.4" rx="3.5" ry="4.0"/><ellipse cx="1695.6" cy="1297.4" rx="3.5" ry="4.0"/><ellipse cx="1724.9" cy="1297.4" rx="3.5" ry="4.0"/><ellipse cx="1754.2" cy="1297.4" rx="3.5" ry="4.0"/><ellipse cx="1783.5" cy="1297.4" rx="3.5" ry="4.0"/><ellipse cx="1900.7" cy="1297.4" rx="3.5" ry="4.0"/><ellipse cx="1930" cy="1297.4" rx="3.5" ry="4.0"/><ellipse cx="1959.3" cy="1297.4" rx="3.5" ry="4.0"/><ellipse cx="1988.6" cy="1297.4" rx="3.5" ry="4.0"/><ellipse cx="2017.9" cy="1297.4" rx="3.5" ry="4.0"/><ellipse cx="2047.2" cy="1297.4" rx="3.5" ry="4.0"/><ellipse cx="1651.7" cy="1319.6" rx="3.5" ry="4.0"/><ellipse cx="1681" cy="1319.6" rx="3.5" ry="4.0"/><ellipse cx="1710.2" cy="1319.6" rx="3.5" ry="4.0"/><ellipse cx="1739.5" cy="1319.6" rx="3.5" ry="4.0"/><ellipse cx="1768.9" cy="1319.6" rx="3.5" ry="4.0"/><ellipse cx="1798.2" cy="1319.6" rx="3.5" ry="4.0"/><ellipse cx="1915.4" cy="1319.6" rx="3.5" ry="4.0"/><ellipse cx="1944.7" cy="1319.6" rx="3.5" ry="4.0"/><ellipse cx="1974" cy="1319.6" rx="3.5" ry="4.0"/><ellipse cx="2003.2" cy="1319.6" rx="3.5" ry="4.0"/><ellipse cx="2032.6" cy="1319.6" rx="3.5" ry="4.0"/><ellipse cx="2061.8" cy="1319.6" rx="3.5" ry="4.0"/></g>
<g fill="url(#gY)"><ellipse cx="1651.7" cy="1220.6" rx="3.3" ry="3.8"/><ellipse cx="1681" cy="1220.6" rx="3.3" ry="3.8"/><ellipse cx="1710.2" cy="1220.6" rx="3.3" ry="3.8"/><ellipse cx="1739.5" cy="1220.6" rx="3.3" ry="3.8"/><ellipse cx="1768.9" cy="1220.6" rx="3.3" ry="3.8"/><ellipse cx="1798.2" cy="1220.6" rx="3.3" ry="3.8"/><ellipse cx="1827.5" cy="1220.6" rx="3.3" ry="3.8"/><ellipse cx="1856.8" cy="1220.6" rx="3.3" ry="3.8"/><ellipse cx="1886" cy="1220.6" rx="3.3" ry="3.8"/><ellipse cx="1915.4" cy="1220.6" rx="3.3" ry="3.8"/><ellipse cx="1944.7" cy="1220.6" rx="3.3" ry="3.8"/><ellipse cx="1974" cy="1220.6" rx="3.3" ry="3.8"/><ellipse cx="2003.2" cy="1220.6" rx="3.3" ry="3.8"/><ellipse cx="2032.6" cy="1220.6" rx="3.3" ry="3.8"/><ellipse cx="2061.8" cy="1220.6" rx="3.3" ry="3.8"/><ellipse cx="1637" cy="1242.9" rx="3.3" ry="3.8"/><ellipse cx="1666.3" cy="1242.9" rx="3.3" ry="3.8"/><ellipse cx="1695.6" cy="1242.9" rx="3.3" ry="3.8"/><ellipse cx="1724.9" cy="1242.9" rx="3.3" ry="3.8"/><ellipse cx="1754.2" cy="1242.9" rx="3.3" ry="3.8"/><ellipse cx="1783.5" cy="1242.9" rx="3.3" ry="3.8"/><ellipse cx="1812.8" cy="1242.9" rx="3.3" ry="3.8"/><ellipse cx="1842.1" cy="1242.9" rx="3.3" ry="3.8"/><ellipse cx="1871.4" cy="1242.9" rx="3.3" ry="3.8"/><ellipse cx="1900.7" cy="1242.9" rx="3.3" ry="3.8"/><ellipse cx="1930" cy="1242.9" rx="3.3" ry="3.8"/><ellipse cx="1959.3" cy="1242.9" rx="3.3" ry="3.8"/><ellipse cx="1988.6" cy="1242.9" rx="3.3" ry="3.8"/><ellipse cx="2017.9" cy="1242.9" rx="3.3" ry="3.8"/><ellipse cx="2047.2" cy="1242.9" rx="3.3" ry="3.8"/><ellipse cx="1651.7" cy="1263" rx="3.3" ry="3.8"/><ellipse cx="1681" cy="1263" rx="3.3" ry="3.8"/><ellipse cx="1710.2" cy="1263" rx="3.3" ry="3.8"/><ellipse cx="1739.5" cy="1263" rx="3.3" ry="3.8"/><ellipse cx="1768.9" cy="1263" rx="3.3" ry="3.8"/><ellipse cx="1798.2" cy="1263" rx="3.3" ry="3.8"/><ellipse cx="1827.5" cy="1263" rx="3.3" ry="3.8"/><ellipse cx="1856.8" cy="1263" rx="3.3" ry="3.8"/><ellipse cx="1886" cy="1263" rx="3.3" ry="3.8"/><ellipse cx="1915.4" cy="1263" rx="3.3" ry="3.8"/><ellipse cx="1944.7" cy="1263" rx="3.3" ry="3.8"/><ellipse cx="1974" cy="1263" rx="3.3" ry="3.8"/><ellipse cx="2003.2" cy="1263" rx="3.3" ry="3.8"/><ellipse cx="2032.6" cy="1263" rx="3.3" ry="3.8"/><ellipse cx="2061.8" cy="1263" rx="3.3" ry="3.8"/><ellipse cx="1637" cy="1284.3" rx="3.3" ry="3.8"/><ellipse cx="1666.3" cy="1284.3" rx="3.3" ry="3.8"/><ellipse cx="1695.6" cy="1284.3" rx="3.3" ry="3.8"/><ellipse cx="1724.9" cy="1284.3" rx="3.3" ry="3.8"/><ellipse cx="1754.2" cy="1284.3" rx="3.3" ry="3.8"/><ellipse cx="1783.5" cy="1284.3" rx="3.3" ry="3.8"/><ellipse cx="1812.8" cy="1284.3" rx="3.3" ry="3.8"/><ellipse cx="1842.1" cy="1284.3" rx="3.3" ry="3.8"/><ellipse cx="1871.4" cy="1284.3" rx="3.3" ry="3.8"/><ellipse cx="1900.7" cy="1284.3" rx="3.3" ry="3.8"/><ellipse cx="1930" cy="1284.3" rx="3.3" ry="3.8"/><ellipse cx="1959.3" cy="1284.3" rx="3.3" ry="3.8"/><ellipse cx="1988.6" cy="1284.3" rx="3.3" ry="3.8"/><ellipse cx="2017.9" cy="1284.3" rx="3.3" ry="3.8"/><ellipse cx="2047.2" cy="1284.3" rx="3.3" ry="3.8"/><ellipse cx="1651.7" cy="1305.5" rx="3.3" ry="3.8"/><ellipse cx="1681" cy="1305.5" rx="3.3" ry="3.8"/><ellipse cx="1710.2" cy="1305.5" rx="3.3" ry="3.8"/><ellipse cx="1739.5" cy="1305.5" rx="3.3" ry="3.8"/><ellipse cx="1768.9" cy="1305.5" rx="3.3" ry="3.8"/><ellipse cx="1798.2" cy="1305.5" rx="3.3" ry="3.8"/><ellipse cx="1827.5" cy="1305.5" rx="3.3" ry="3.8"/><ellipse cx="1856.8" cy="1305.5" rx="3.3" ry="3.8"/><ellipse cx="1886" cy="1305.5" rx="3.3" ry="3.8"/><ellipse cx="1915.4" cy="1305.5" rx="3.3" ry="3.8"/><ellipse cx="1944.7" cy="1305.5" rx="3.3" ry="3.8"/><ellipse cx="1974" cy="1305.5" rx="3.3" ry="3.8"/><ellipse cx="2003.2" cy="1305.5" rx="3.3" ry="3.8"/><ellipse cx="2032.6" cy="1305.5" rx="3.3" ry="3.8"/><ellipse cx="2061.8" cy="1305.5" rx="3.3" ry="3.8"/><ellipse cx="1637" cy="1326.7" rx="3.3" ry="3.8"/><ellipse cx="1666.3" cy="1326.7" rx="3.3" ry="3.8"/><ellipse cx="1695.6" cy="1326.7" rx="3.3" ry="3.8"/><ellipse cx="1724.9" cy="1326.7" rx="3.3" ry="3.8"/><ellipse cx="1754.2" cy="1326.7" rx="3.3" ry="3.8"/><ellipse cx="1783.5" cy="1326.7" rx="3.3" ry="3.8"/><ellipse cx="1812.8" cy="1326.7" rx="3.3" ry="3.8"/><ellipse cx="1842.1" cy="1326.7" rx="3.3" ry="3.8"/><ellipse cx="1871.4" cy="1326.7" rx="3.3" ry="3.8"/><ellipse cx="1900.7" cy="1326.7" rx="3.3" ry="3.8"/><ellipse cx="1930" cy="1326.7" rx="3.3" ry="3.8"/><ellipse cx="1959.3" cy="1326.7" rx="3.3" ry="3.8"/><ellipse cx="1988.6" cy="1326.7" rx="3.3" ry="3.8"/><ellipse cx="2017.9" cy="1326.7" rx="3.3" ry="3.8"/><ellipse cx="2047.2" cy="1326.7" rx="3.3" ry="3.8"/></g>
<g fill="url(#gC)"><ellipse cx="1812.8" cy="1216.6" rx="3.5" ry="4.0"/><ellipse cx="1842.1" cy="1216.6" rx="3.5" ry="4.0"/><ellipse cx="1871.4" cy="1216.6" rx="3.5" ry="4.0"/><ellipse cx="1827.5" cy="1234.8" rx="3.5" ry="4.0"/><ellipse cx="1856.8" cy="1234.8" rx="3.5" ry="4.0"/><ellipse cx="1886" cy="1234.8" rx="3.5" ry="4.0"/><ellipse cx="1812.8" cy="1256" rx="3.5" ry="4.0"/><ellipse cx="1842.1" cy="1256" rx="3.5" ry="4.0"/><ellipse cx="1871.4" cy="1256" rx="3.5" ry="4.0"/><ellipse cx="1827.5" cy="1277.2" rx="3.5" ry="4.0"/><ellipse cx="1856.8" cy="1277.2" rx="3.5" ry="4.0"/><ellipse cx="1886" cy="1277.2" rx="3.5" ry="4.0"/><ellipse cx="1812.8" cy="1297.4" rx="3.5" ry="4.0"/><ellipse cx="1842.1" cy="1297.4" rx="3.5" ry="4.0"/><ellipse cx="1871.4" cy="1297.4" rx="3.5" ry="4.0"/><ellipse cx="1827.5" cy="1319.6" rx="3.5" ry="4.0"/><ellipse cx="1856.8" cy="1319.6" rx="3.5" ry="4.0"/><ellipse cx="1886" cy="1319.6" rx="3.5" ry="4.0"/></g>
</g>
<rect x="1656.6" y="1202.9" width="60.5" height="135.89999999999986" fill="#bcbcbc" style="mix-blend-mode:multiply"/>
<rect x="1984.3" y="1202.9" width="60.600000000000136" height="135.89999999999986" fill="#bcbcbc" style="mix-blend-mode:multiply"/>
<ellipse cx="1725.8" cy="1323.6" rx="5.7" ry="5" fill="url(#bg19)"/>
<ellipse cx="1725.8" cy="1330.7" rx="5.7" ry="4.4" fill="url(#bg5)"/>
<ellipse cx="1755.1" cy="1323.6" rx="4.4" ry="4.4" fill="url(#bg2)"/>
<ellipse cx="1755.1" cy="1330.7" rx="3" ry="3" fill="url(#bg14)"/>
<ellipse cx="1785.4" cy="1323.6" rx="7.7" ry="7" fill="url(#bg9)"/>
<ellipse cx="1785.4" cy="1331.7" rx="7.7" ry="6.4" fill="url(#bg1)"/>
<ellipse cx="1814.7" cy="1322.6" rx="5.7" ry="4.4" fill="url(#bg12)"/>
<ellipse cx="1814.7" cy="1329.7" rx="5" ry="3.6" fill="url(#bg5)"/>
<ellipse cx="1843" cy="1322.6" rx="4.4" ry="4" fill="url(#bg5)"/>
<ellipse cx="1843" cy="1329.7" rx="4" ry="3" fill="url(#bg19)"/>
<ellipse cx="1872.2" cy="1323.6" rx="3" ry="3" fill="url(#bg3)"/>
<ellipse cx="1872.2" cy="1329.7" rx="2" ry="2" fill="url(#bg1)"/>
<ellipse cx="1900.5" cy="1323.6" rx="5.7" ry="5" fill="url(#bg1)"/>
<ellipse cx="1900.5" cy="1330.7" rx="5" ry="4" fill="url(#bg20)"/>
<ellipse cx="1929.8" cy="1323.6" rx="6" ry="5.6" fill="url(#bg5)"/>
<ellipse cx="1929.8" cy="1331.7" rx="5.7" ry="4" fill="url(#bg19)"/>
<ellipse cx="1959.1" cy="1323.6" rx="5" ry="5" fill="url(#bg3)"/>
<ellipse cx="1959.1" cy="1330.7" rx="4" ry="3.6" fill="url(#bg2)"/>
<clipPath id="clipa"><rect x="141.5" y="55.5" width="432" height="553"/></clipPath>
<clipPath id="clipb"><rect x="1194.5" y="54.5" width="432.5" height="553.2"/></clipPath>
<clipPath id="clipc"><rect x="143.0" y="778.5" width="432.5" height="553"/></clipPath>
<clipPath id="clipd"><rect x="1197.5" y="778.9" width="432.20000000000005" height="553.0000000000001"/></clipPath>
<clipPath id="sca0"><rect x="141.5" y="55.2" width="432" height="141.0"/></clipPath>
<path d="M152.3 39.0L153.9 63.4L156.1 39.0L157.7 39.0L159.8 190.3L161.4 39.0L163.0 66.1L164.6 39.0L166.8 180.6L168.4 82.1L170.0 39.0L172.1 158.1L174.3 153.9L176.4 60.7L178.0 71.4L180.1 95.0L188.2 111.0L189.3 154.9L191.4 87.5L192.5 135.7L193.5 90.7L195.1 166.7L196.2 75.7L197.8 106.7L202.1 120.7L204.8 129.2L206.4 120.7L208.0 39.0L209.6 105.7L211.2 39.0L212.8 119.6L213.9 160.3L215.5 39.0L217.1 103.5L219.2 173.1L219.8 39.0L221.4 71.4L223.5 69.3L225.7 73.6L228.9 190.3L230.5 84.3L233.1 92.8L238.5 146.4L239.6 117.5L241.7 146.4L243.9 97.1L245.5 103.5L247.1 174.2L248.1 103.5L249.7 137.8L253.5 184.9L258.8 188.1L263.1 190.3L278.1 190.3L281.3 39.0L282.4 122.8L284.0 82.1L288.8 135.7L292.0 166.7L294.7 173.1L297.4 134.6L299.5 138.9L302.7 149.6L304.9 173.1L307.0 122.8L312.4 117.5L315.6 135.7L316.7 127.1L319.9 186.0L324.2 189.2L340.2 189.2L342.4 183.8L345.6 182.8L349.9 187.0L354.1 183.8L358.3 184.6L361.5 184.6L366.9 178.6L371.3 178.1L372.4 81.5L374.0 190.0L380.0 191.1L395.2 191.1L396.8 155.3L397.9 191.1L403.8 191.1L405.5 83.6L408.2 191.1L422.3 191.1L423.9 39.0L426.1 39.0L426.6 109.7L429.9 134.6L434.2 154.2L441.8 161.8L446.2 167.2L447.8 191.1L449.4 153.1L452.7 145.5L455.9 133.6L457.6 109.7L459.2 133.6L459.7 191.1L470.0 191.1L471.7 177.0L473.3 190.0L478.7 188.9L482.0 191.1L498.2 191.1L501.0 182.4L503.7 190.0L537.3 191.1L538.4 72.8L541.7 92.3L546.0 136.8L548.2 39.0L550.3 80.4L552.5 82.6L556.8 39.0L561.2 39.0L564.4 115.1L567.7 180.2L572.0 185.6L575.3 190.0" fill="none" stroke="#d11a20" stroke-width="3.0" stroke-linejoin="round" clip-path="url(#sca0)"/>
<clipPath id="sca1"><rect x="141.5" y="194.2" width="432" height="141.0"/></clipPath>
<path d="M153.4 178.0L153.9 226.4L155.0 226.4L156.1 178.0L157.7 178.0L160.3 313.1L161.9 250.0L163.6 245.7L165.2 245.7L166.2 317.4L167.3 199.6L168.4 313.1L168.9 225.3L172.1 300.3L174.3 235.0L176.4 320.6L178.0 235.0L179.1 315.3L180.7 264.9L187.1 222.1L188.7 178.0L189.8 327.0L191.4 252.1L192.5 178.0L193.5 252.1L194.6 178.0L195.7 222.1L197.8 286.4L198.9 327.0L202.1 315.3L204.2 318.5L204.8 300.3L206.4 318.5L208.5 284.2L210.7 283.1L211.7 212.5L213.9 208.2L214.9 291.7L216.0 205.0L217.1 259.6L219.2 329.2L221.4 262.8L223.5 255.3L225.7 253.2L227.8 258.5L229.9 329.2L230.5 274.6L231.5 287.4L234.2 287.4L236.4 287.4L238.5 293.9L241.7 294.9L244.9 289.6L247.1 274.6L249.2 296.0L253.5 329.2L278.1 329.2L279.2 320.6L280.8 307.8L282.4 323.8L289.9 323.8L291.0 313.1L293.6 304.6L296.3 318.5L298.5 324.9L303.8 328.1L307.0 312.1L309.2 312.1L311.8 264.9L314.0 327.0L315.6 328.1L318.8 273.5L320.4 328.1L320.9 300.3L322.0 329.2L346.6 329.2L348.2 307.8L349.9 329.2L355.2 329.2L358.3 329.4L363.7 325.6L366.9 314.8L369.1 287.7L371.3 239.9L372.9 287.7L374.0 325.6L375.6 329.4L381.6 329.4L383.0 324.6L384.3 329.4L387.6 329.4L389.2 288.8L390.8 329.4L396.2 329.4L398.4 256.2L400.6 324.6L402.7 329.4L421.2 329.4L423.4 298.5L426.1 274.1L428.8 287.7L432.0 309.4L437.5 324.6L442.9 329.4L448.3 329.4L449.7 324.6L451.6 329.4L454.8 329.4L457.0 229.6L458.6 322.4L459.7 272.5L461.9 329.4L463.5 324.6L466.8 313.7L470.0 322.4L474.4 327.8L476.5 328.9L477.6 219.3L479.8 323.5L485.2 329.4L537.3 329.4L539.5 314.8L542.7 231.2L544.9 281.2L546.0 239.9L550.3 323.5L551.4 241.0L553.6 243.2L555.8 200.9L557.9 178.0L560.1 301.8L564.4 206.3L566.6 217.1L571.0 329.4L573.1 329.4" fill="none" stroke="#2806f4" stroke-width="3.0" stroke-linejoin="round" clip-path="url(#sca1)"/>
<clipPath id="sca2"><rect x="141.5" y="333.2" width="432" height="141.0"/></clipPath>
<path d="M152.8 468.7L153.4 317.0L155.0 468.7L156.1 317.0L157.7 425.4L159.3 317.0L161.4 427.5L163.0 441.4L164.1 317.0L165.2 440.3L166.8 317.0L168.4 439.3L169.4 317.0L170.5 460.7L172.1 339.7L173.7 455.3L175.3 454.3L176.9 433.9L178.0 465.0L179.6 431.8L182.8 416.8L187.1 406.1L188.7 391.1L189.8 468.7L190.9 339.7L192.5 439.3L194.1 403.9L195.7 436.1L197.8 317.0L199.4 468.7L204.2 468.7L205.3 445.7L207.5 468.7L209.1 341.3L211.2 390.0L213.9 391.1L218.2 468.7L219.8 436.1L221.4 403.9L223.5 317.0L225.7 468.7L226.7 455.3L228.9 438.2L230.5 461.8L233.1 455.3L235.3 460.7L239.6 453.2L242.8 422.1L245.5 432.9L247.1 451.1L248.7 443.6L252.4 468.7L277.0 468.7L278.7 455.3L281.3 443.6L283.5 467.1L287.8 467.1L292.0 460.7L295.2 468.7L304.9 468.7L307.0 458.6L309.2 460.7L310.8 468.7L313.4 468.2L314.5 406.1L316.1 468.7L319.3 344.0L320.9 468.7L347.7 468.7L349.9 442.5L352.5 468.7L355.2 468.7L358.3 468.4L371.3 468.4L374.0 465.7L375.6 468.4L385.4 468.4L387.0 465.2L388.1 468.4L390.8 468.4L392.4 418.5L394.1 468.4L399.5 468.4L401.1 352.9L402.7 468.4L404.9 466.8L424.5 468.4L426.1 421.2L427.7 418.0L429.9 442.9L433.1 462.5L437.5 467.9L447.2 468.4L449.4 317.0L450.5 437.5L452.1 317.0L453.8 448.4L455.9 466.8L459.2 468.4L467.9 468.4L470.0 448.4L472.2 317.0L474.4 317.0L476.0 459.2L477.6 466.8L479.8 345.3L480.9 464.6L484.1 468.4L537.3 468.4L538.4 385.4L540.6 407.1L542.7 452.7L544.4 407.1L547.1 453.8L549.2 406.0L550.3 450.5L552.5 448.4L554.7 317.0L556.8 317.0L557.9 347.4L559.0 317.0L561.2 317.0L563.4 383.3L566.6 461.4L567.7 360.5L568.8 361.6L571.0 437.5L572.6 468.4" fill="none" stroke="#80f82e" stroke-width="3.0" stroke-linejoin="round" clip-path="url(#sca2)"/>
<clipPath id="sca3"><rect x="141.5" y="472.2" width="432" height="141.0"/></clipPath>
<path d="M142.1 456.0L144.3 505.5L146.4 510.8L148.6 503.3L150.2 485.1L151.2 551.5L152.3 456.0L153.9 607.7L155.0 456.0L156.6 601.8L158.2 600.8L159.8 542.9L161.4 476.6L162.5 532.2L164.1 456.0L165.7 601.8L167.3 515.1L168.9 561.1L171.0 509.8L172.1 594.3L174.3 596.5L175.9 499.0L176.9 598.6L178.0 486.7L180.1 516.2L181.8 499.0L182.8 513.0L186.0 559.0L188.2 574.0L189.3 606.1L190.3 606.1L191.9 516.2L193.0 587.9L194.6 587.9L197.8 581.5L200.0 605.0L201.6 600.8L203.2 607.7L205.3 606.1L206.9 547.2L209.1 596.5L211.2 598.6L213.3 607.7L214.9 501.2L217.1 575.1L218.7 540.8L221.4 606.1L224.6 602.9L226.7 488.3L228.3 575.1L229.9 606.1L233.1 600.8L236.4 530.1L238.0 575.1L241.2 606.1L244.4 600.8L247.1 597.6L249.2 538.7L250.8 575.1L252.4 607.7L278.1 607.7L279.2 589.0L281.3 585.2L282.4 607.7L301.7 607.7L306.0 606.1L307.6 596.5L309.2 516.2L310.2 605.0L311.8 607.7L316.7 607.2L349.9 607.2L355.2 607.2L358.3 608.0L371.3 608.0L373.4 607.4L383.2 608.0L385.4 566.8L387.6 606.9L389.2 579.8L390.8 608.0L394.1 608.0L395.7 502.7L397.3 608.0L399.5 608.0L401.1 552.6L402.7 608.0L409.3 607.4L412.5 606.9L422.3 608.0L423.9 565.7L425.5 525.5L427.2 581.9L428.8 551.6L431.0 587.4L433.1 602.6L439.6 607.4L445.1 608.0L446.7 596.1L450.5 548.3L452.1 608.0L459.2 606.9L460.8 511.4L462.4 600.4L466.8 601.5L470.0 608.0L472.2 608.0L473.8 498.4L475.5 603.6L477.6 503.8L479.3 603.6L481.4 608.0L519.9 608.0L522.1 606.9L538.4 608.0L539.5 523.3L541.7 590.6L543.8 563.5L546.0 544.0L547.6 605.8L550.3 495.1L551.4 584.1L553.6 500.6L554.7 565.7L556.8 477.8L559.0 568.9L562.3 475.6L564.4 511.4L566.6 586.3L569.3 603.6L571.0 563.5L572.6 563.5L573.1 608.0" fill="none" stroke="#000000" stroke-width="3.0" stroke-linejoin="round" clip-path="url(#sca3)"/>
<clipPath id="scb0"><rect x="1194.5" y="54.2" width="432.5" height="141.05"/></clipPath>
<path d="M1205.3 38.0L1206.4 58.1L1208.0 38.0L1210.1 38.0L1212.8 187.1L1214.9 38.0L1216.0 38.0L1219.2 180.7L1221.9 38.0L1224.0 38.0L1225.7 153.9L1229.9 65.1L1233.7 98.3L1235.8 101.5L1240.1 109.0L1242.8 151.8L1245.5 94.0L1247.6 158.2L1249.2 81.1L1251.4 106.8L1255.1 115.4L1258.3 121.8L1261.0 38.0L1263.7 38.0L1267.4 133.6L1269.0 69.3L1272.2 67.7L1274.4 76.3L1276.5 68.8L1278.7 72.6L1282.9 129.3L1285.1 90.8L1287.2 100.4L1291.5 134.7L1293.6 129.3L1295.8 129.3L1298.5 96.1L1300.6 110.0L1306.5 183.9L1312.9 188.2L1316.1 189.3L1330.0 189.3L1332.2 96.1L1334.9 80.0L1337.5 94.0L1342.9 145.4L1345.6 166.8L1347.7 132.5L1349.9 134.7L1352.5 142.1L1359.0 167.8L1360.6 123.9L1365.4 116.5L1369.7 132.5L1372.9 187.1L1377.2 188.7L1393.2 188.7L1395.4 183.9L1398.6 182.8L1402.9 185.5L1407.1 183.9L1411.3 182.5L1414.5 184.1L1419.9 178.7L1424.3 178.1L1426.4 91.3L1429.2 189.5L1449.2 189.5L1450.3 188.4L1451.4 189.5L1456.3 189.5L1458.5 78.8L1460.6 189.5L1462.3 179.2L1464.4 189.5L1475.3 189.5L1478.5 77.2L1481.8 118.5L1485.0 142.3L1489.4 155.3L1494.8 161.9L1498.1 165.1L1500.2 171.6L1503.0 165.1L1504.0 146.7L1506.8 138.0L1508.9 121.7L1511.6 128.2L1513.3 189.5L1524.1 189.5L1527.4 187.9L1532.8 188.4L1536.1 189.5L1549.1 189.5L1552.3 184.6L1555.6 187.9L1558.8 189.5L1589.2 189.5L1591.4 174.9L1593.6 89.2L1596.8 89.2L1600.1 133.6L1602.2 59.9L1604.4 80.5L1607.7 77.2L1609.8 59.9L1612.0 38.0L1614.2 59.9L1616.4 90.2L1620.7 186.8L1624.0 185.7L1626.1 187.4L1627.2 189.0" fill="none" stroke="#d11a20" stroke-width="3.0" stroke-linejoin="round" clip-path="url(#scb0)"/>
<clipPath id="scb1"><rect x="1194.5" y="193.25" width="432.5" height="141.05"/></clipPath>
<path d="M1218.7 177.1L1219.2 199.2L1220.3 177.1" fill="none" stroke="#2806f4" stroke-width="3.0" stroke-linejoin="round" clip-path="url(#scb1)"/>
<path d="M1225.7 177.1L1229.9 222.7L1231.5 177.1L1233.7 177.1L1236.4 219.5L1238.0 177.1L1240.1 177.1L1242.3 232.9L1244.9 232.9L1249.7 301.4L1251.4 237.2L1254.0 208.3L1256.2 236.1L1257.8 223.3L1259.9 224.3L1262.6 231.8L1264.7 242.5L1267.9 245.7L1270.1 243.6L1274.4 215.8L1278.1 312.1L1282.9 285.4L1284.5 224.3L1286.7 217.9L1288.8 222.2L1291.5 203.5L1293.6 242.5L1296.3 242.5L1298.5 245.7L1305.4 320.7L1310.8 325.0L1312.9 321.8L1317.2 327.1L1320.4 328.7L1334.3 328.7L1336.5 281.1L1339.1 283.2L1347.2 312.1L1349.9 325.0L1352.5 325.0L1355.7 327.1L1360.0 325.0L1362.2 328.7L1365.4 328.7L1368.6 327.1L1370.7 328.7L1390.0 328.7L1393.2 319.6L1397.5 307.8L1400.7 310.0L1406.1 309.4L1410.3 304.6L1411.3 304.0L1413.4 286.7L1415.6 177.1L1418.3 324.6L1419.9 324.6L1425.4 317.1L1429.7 311.6L1433.0 314.9L1440.6 329.0L1448.2 329.0L1450.3 319.2L1452.5 279.1L1454.7 319.2L1457.9 329.0L1505.7 329.0L1508.9 324.6L1511.1 297.5L1513.3 312.7L1516.5 320.3L1521.9 324.6L1528.5 329.0L1556.7 329.0L1559.9 327.9L1563.2 329.0L1593.6 329.0L1596.8 320.3L1600.1 257.4L1602.2 281.2L1604.4 260.6L1606.6 300.8L1608.8 289.9L1610.9 302.9L1613.1 214.0L1615.3 177.1L1617.4 177.1L1620.7 243.3L1625.0 326.8L1625.6 329.0" fill="none" stroke="#2806f4" stroke-width="3.0" stroke-linejoin="round" clip-path="url(#scb1)"/>
<clipPath id="scb2"><rect x="1194.5" y="332.3" width="432.5" height="141.05"/></clipPath>
<path d="M1236.4 316.1L1238.5 375.1L1240.1 316.1L1242.8 316.1L1245.5 415.8L1247.6 388.0L1249.2 316.1L1262.1 316.1L1264.7 415.8L1267.9 392.2L1270.1 316.1L1281.3 316.1L1282.9 359.6L1285.1 316.1L1292.0 316.1L1295.8 367.6L1299.0 354.8L1302.2 316.1L1304.3 316.1L1306.5 432.9L1309.7 424.4L1313.4 360.1L1316.1 413.7L1318.8 451.1L1321.5 467.7L1331.7 467.7L1334.9 353.7L1338.1 370.8L1339.1 413.7L1341.8 400.8L1344.0 405.1L1347.2 435.1L1349.3 443.6L1354.1 450.1L1359.0 467.7L1363.2 454.3L1367.5 380.5L1370.2 467.7L1387.9 467.7L1391.1 440.4L1394.3 428.6L1398.6 426.5L1402.9 429.7L1406.6 437.2L1408.7 451.1L1411.4 452.2L1411.3 451.7L1416.7 443.0L1423.2 434.3L1426.4 436.5L1429.7 453.9L1431.9 463.6L1435.1 468.0L1444.9 468.0L1451.4 466.4L1457.9 468.0L1505.7 468.0L1508.9 404.0L1511.1 463.6L1513.3 463.6L1516.0 468.0L1549.1 468.0L1552.3 399.6L1554.5 458.2L1557.8 465.8L1561.6 468.0L1563.2 420.2L1565.4 468.0L1591.4 468.0L1593.6 462.6L1595.7 464.7L1599.0 463.6L1603.3 464.7L1606.6 465.3L1610.9 459.3L1615.3 447.4L1619.1 420.2L1622.3 405.0L1624.0 456.1L1625.6 462.6" fill="none" stroke="#80f82e" stroke-width="3.0" stroke-linejoin="round" clip-path="url(#scb2)"/>
<clipPath id="scb3"><rect x="1194.5" y="471.35" width="432.5" height="141.05"/></clipPath>
<path d="M1259.4 455.2L1259.9 490.6L1261.5 455.2L1263.1 490.6L1264.7 593.3L1267.9 550.5L1270.1 539.8L1272.2 539.8L1274.4 498.0L1278.1 517.3L1280.8 498.0L1282.4 455.2L1296.9 455.2L1297.4 476.6L1299.5 476.6L1302.2 488.4L1304.3 564.4L1306.5 539.8L1308.6 563.4L1312.9 590.1L1317.2 561.2L1319.3 592.3L1321.5 601.9L1323.6 606.2L1332.2 606.2L1334.3 574.1L1337.0 455.2L1339.7 455.2L1342.9 499.1L1347.2 541.9L1350.4 579.4L1353.6 598.7L1356.8 606.2L1366.4 606.2L1369.7 597.6L1372.9 606.2L1383.6 606.2L1386.8 592.3L1388.9 597.6L1392.1 591.2L1393.2 501.3L1395.9 524.8L1399.6 537.7L1403.9 516.3L1407.1 549.4L1409.1 559.2L1411.3 566.8L1416.7 576.6L1423.2 594.0L1426.4 598.3L1430.8 603.7L1436.2 606.4L1440.6 607.0L1443.8 605.9L1446.0 607.0L1499.2 607.0L1502.4 592.9L1505.1 607.0L1510.0 605.9L1513.3 605.9L1516.5 607.0L1548.0 607.0L1549.6 596.1L1552.3 601.6L1555.6 604.8L1558.8 601.0L1561.0 607.0L1589.2 607.0L1591.9 551.6L1594.1 597.2L1596.8 604.8L1599.0 529.9L1602.2 578.8L1604.4 578.8L1607.1 516.9L1609.8 552.7L1612.0 551.6L1613.6 571.2L1616.4 455.2L1619.1 455.2L1620.7 497.4L1624.0 505.0L1626.1 537.5L1626.7 607.0" fill="none" stroke="#000000" stroke-width="3.0" stroke-linejoin="round" clip-path="url(#scb3)"/>
<clipPath id="scc0"><rect x="143.0" y="778.2" width="432.5" height="141.0"/></clipPath>
<path d="M142.1 846.9L145.3 844.7L150.6 782.6L154.9 781.0L160.3 762.0L196.7 762.0L201.0 783.7L206.3 793.3L211.1 850.1L214.9 852.2L220.2 854.4L224.5 849.0L233.1 849.0L237.9 913.3L259.8 913.3L263.1 911.7L267.3 912.2L272.2 912.2L280.2 898.3L285.5 895.1L289.8 896.7L295.2 910.0L298.4 913.3L301.6 909.0L307.0 902.6L312.3 902.6L316.6 904.7L320.9 910.6L325.2 889.7L328.4 854.4L332.6 851.7L336.9 842.6L341.2 841.0L346.6 844.7L350.9 846.9L354.1 833.0L356.2 838.3L356.0 839.2L359.3 846.8L363.6 873.9L367.9 872.8L372.3 875.0L377.2 866.9L382.0 913.5L385.3 884.8L390.2 877.7L394.5 889.1L398.9 877.2L404.8 870.7L409.2 866.3L412.4 859.8L416.2 841.9L420.6 846.8L425.5 881.5L429.3 909.2L433.6 870.7L438.5 913.5L464.5 913.5L477.5 913.0L489.5 911.9L493.3 863.1L497.1 855.5L502.5 847.9L511.2 800.1L516.6 792.5L520.9 787.1L525.3 854.4L530.7 845.7L536.1 838.1L542.7 820.7L547.0 873.4L560.0 879.3L576.3 885.3" fill="none" stroke="#d11a20" stroke-width="3.7" stroke-linejoin="round" clip-path="url(#scc0)"/>
<clipPath id="scc1"><rect x="143.0" y="917.2" width="432.5" height="141.0"/></clipPath>
<path d="M143.1 977.3L146.4 973.0L149.6 933.4L153.8 901.0L180.1 901.0L184.9 934.5L189.2 930.7L193.5 954.8L198.3 960.2L206.8 939.3L211.1 990.7L215.9 986.9L220.2 987.5L224.5 991.2L228.8 992.3L233.6 986.4L237.9 1052.8L265.2 1052.8L267.3 1051.2L272.2 1051.2L276.4 1013.7L280.7 988.0L285.5 987.5L290.9 993.4L296.2 1004.1L301.6 1018.0L307.0 1037.3L312.3 1052.8L315.5 989.1L321.9 1052.8L324.1 1052.8L328.4 988.0L332.6 997.7L336.9 988.0L342.3 986.9L349.8 991.8L354.1 960.2L357.3 967.7L356.0 961.9L360.3 982.5L363.6 1028.1L367.9 1032.5L373.4 1033.5L377.2 998.8L381.5 1043.3L385.3 1040.1L390.2 1043.3L394.5 1049.8L399.4 1039.0L403.7 1031.4L407.5 1007.5L411.9 969.5L416.2 1011.8L420.0 1027.0L425.5 1040.1L428.2 1050.9L433.0 1049.8L438.5 1052.0L446.1 1052.5L464.5 1052.5L489.5 1052.0L493.8 1016.2L497.6 997.7L503.0 991.2L512.3 955.4L516.6 937.0L520.9 930.4L525.3 988.0L529.1 980.9L534.0 993.4L539.4 988.0L542.7 980.4L547.0 1016.7L560.0 1028.1L574.1 1037.9" fill="none" stroke="#2806f4" stroke-width="3.7" stroke-linejoin="round" clip-path="url(#scc1)"/>
<clipPath id="scc2"><rect x="143.0" y="1056.2" width="432.5" height="141.0"/></clipPath>
<path d="M144.2 1121.7L146.4 1117.4L150.1 1082.0L154.9 1071.3L159.2 1040.0L177.4 1040.0L180.1 1097.0L184.9 1127.0L189.2 1118.5L194.0 1121.7L198.8 1119.5L202.6 1115.2L206.8 1101.3L211.1 1149.5L215.9 1155.9L220.2 1173.1L225.0 1173.1L229.9 1190.2L233.1 1192.3L258.8 1192.3L263.6 1169.8L267.9 1178.4L271.6 1170.9L277.0 1167.7L281.3 1167.2L285.5 1185.4L289.3 1165.6L295.2 1167.7L299.5 1169.8L305.9 1177.3L312.3 1183.8L316.6 1182.7L321.9 1167.7L324.6 1145.2L328.9 1167.2L333.7 1149.5L336.9 1129.2L342.3 1123.8L346.6 1124.9L350.9 1127.6L354.6 1112.0L359.4 1113.1L359.3 1113.9L363.6 1169.3L368.5 1179.1L372.8 1135.6L376.6 1163.9L381.5 1173.6L385.3 1192.1L388.6 1192.1L392.9 1183.4L398.9 1173.6L402.7 1156.3L407.0 1122.6L411.3 1129.7L415.7 1148.7L420.6 1153.0L424.4 1136.7L428.7 1192.1L437.4 1192.1L442.3 1126.4L447.2 1192.1L477.5 1192.1L481.9 1189.9L486.2 1188.8L490.0 1174.7L494.4 1106.9L498.2 1116.7L503.0 1119.9L507.9 1116.1L512.3 1116.7L516.6 1113.4L520.9 1097.7L524.7 1126.4L534.0 1129.1L538.3 1128.0L542.7 1117.7L546.5 1150.8L560.0 1161.7L574.1 1171.5" fill="none" stroke="#80f82e" stroke-width="3.7" stroke-linejoin="round" clip-path="url(#scc2)"/>
<clipPath id="scc3"><rect x="143.0" y="1195.2" width="432.5" height="141.0"/></clipPath>
<path d="M143.1 1230.7L145.3 1237.1L151.2 1179.0L178.5 1179.0L184.9 1238.2L188.6 1286.4L193.5 1294.9L198.3 1297.1L202.6 1290.6L206.8 1273.5L210.6 1309.9L215.9 1306.7L220.2 1318.5L224.5 1330.8L228.8 1330.3L232.0 1329.7L235.2 1330.8L258.8 1330.8L263.1 1321.7L269.5 1316.3L272.7 1316.3L278.0 1322.8L288.8 1329.2L297.3 1330.3L305.9 1328.1L311.2 1322.8L316.6 1328.1L323.0 1330.8L328.4 1274.6L333.2 1286.4L336.9 1269.2L342.3 1263.9L346.6 1264.9L350.9 1265.5L354.1 1206.1L356.2 1205.0L358.2 1231.2L360.3 1249.7L363.6 1311.5L368.5 1264.9L372.8 1320.2L377.7 1322.4L385.3 1330.5L389.6 1327.8L398.9 1274.6L402.7 1309.4L407.0 1314.8L412.4 1315.9L420.0 1309.4L424.9 1284.4L429.3 1331.1L438.5 1331.1L442.3 1326.2L447.2 1330.5L459.1 1330.5L475.4 1330.0L485.1 1328.9L490.0 1325.6L494.9 1287.7L498.2 1225.8L502.5 1244.3L512.3 1257.8L517.7 1254.0L520.9 1236.7L525.3 1266.0L534.0 1262.7L542.7 1264.9L551.3 1280.1L560.0 1296.3L566.5 1308.3L574.1 1319.1" fill="none" stroke="#000000" stroke-width="3.7" stroke-linejoin="round" clip-path="url(#scc3)"/>
<clipPath id="scd0"><rect x="1197.5" y="778.6" width="432.20000000000005" height="141.00000000000003"/></clipPath>
<path d="M1196.1 824.4L1199.8 841.5L1204.6 826.0L1208.4 827.6L1213.2 825.5L1223.9 833.0L1230.3 842.6L1234.6 826.5L1239.4 797.1L1243.7 835.1L1251.7 875.8L1258.2 894.0L1265.7 910.0L1270.5 887.6L1276.4 900.4L1282.8 913.3L1287.6 884.3L1292.4 891.8L1297.8 898.3L1303.1 900.4L1308.5 897.2L1313.8 888.6L1322.4 860.3L1327.8 889.7L1331.0 913.3L1374.9 913.3L1378.6 883.3L1381.8 913.3L1386.6 889.7L1390.9 818.0L1396.3 784.2L1400.6 797.6L1404.9 813.7L1409.1 822.3L1410.0 820.7L1414.3 829.4L1417.6 859.8L1421.9 913.5L1468.6 913.5L1474.0 891.3L1478.4 908.6L1482.7 913.0L1490.3 909.2L1495.7 913.0L1502.2 908.6L1510.9 902.1L1516.3 894.5L1521.8 880.4L1527.2 862.0L1531.5 847.9L1535.9 847.9L1543.5 870.7L1548.4 903.2L1552.2 877.2L1557.6 872.8L1561.4 851.1L1566.3 856.6L1570.6 852.8L1574.9 880.4L1580.4 867.4L1583.6 838.1L1589.1 835.9L1598.8 838.1L1609.7 843.5L1618.4 852.2L1626.0 856.6L1630.3 864.2L1631.4 877.2" fill="none" stroke="#d11a20" stroke-width="3.8" stroke-linejoin="round" clip-path="url(#scd0)"/>
<clipPath id="scd1"><rect x="1197.5" y="917.6" width="432.20000000000005" height="141.00000000000003"/></clipPath>
<path d="M1199.3 982.7L1203.0 957.0L1204.6 943.0L1207.8 933.4L1213.2 901.4L1231.9 901.4L1234.6 952.7L1238.9 986.9L1243.7 978.9L1248.5 982.1L1252.8 980.5L1256.6 976.2L1260.8 961.3L1265.1 1010.5L1269.9 1016.9L1274.2 1034.1L1279.0 1033.5L1283.9 1051.2L1287.1 1052.8L1313.8 1052.8L1317.6 1030.8L1321.9 1038.3L1325.6 1030.8L1331.0 1028.2L1335.3 1027.6L1339.5 1045.8L1343.8 1025.5L1350.2 1028.7L1354.5 1031.9L1360.4 1039.4L1366.3 1044.8L1370.6 1043.2L1375.9 1027.6L1378.6 1005.7L1382.9 1027.6L1387.7 1011.6L1391.5 990.2L1396.3 984.8L1400.6 984.8L1404.9 988.0L1408.6 972.5L1413.4 974.1L1414.3 974.9L1417.6 1028.1L1422.5 1040.1L1426.8 995.6L1431.2 1024.9L1435.5 1034.6L1439.8 1052.5L1442.6 1052.5L1447.4 1042.2L1453.4 1032.5L1456.7 1016.2L1461.0 983.1L1465.9 991.2L1469.7 1008.6L1474.6 1012.9L1478.4 996.6L1482.7 1052.5L1491.4 1052.5L1496.3 986.9L1501.2 1052.5L1529.4 1052.5L1534.8 1049.8L1539.7 1048.7L1544.0 1033.5L1548.4 967.3L1552.2 977.1L1557.0 980.4L1561.9 976.6L1566.3 977.7L1570.6 973.9L1574.9 957.6L1578.7 986.9L1588.0 989.6L1592.3 988.5L1596.7 977.7L1600.5 1010.2L1614.0 1021.6L1628.1 1032.5" fill="none" stroke="#2806f4" stroke-width="3.8" stroke-linejoin="round" clip-path="url(#scd1)"/>
<clipPath id="scd2"><rect x="1197.5" y="1056.6000000000001" width="432.20000000000005" height="141.00000000000003"/></clipPath>
<path d="M1198.7 1108.8L1201.4 1096.0L1203.6 1059.6L1206.8 1059.6L1208.9 1099.2L1211.6 1075.6L1214.3 1069.2L1218.0 1059.6L1221.2 1096.0L1226.0 1120.6L1230.3 1152.7L1235.1 1149.5L1239.4 1153.8L1243.7 1148.4L1248.0 1158.6L1251.7 1120.6L1255.0 1117.4L1261.4 1108.8L1265.7 1103.5L1269.9 1123.8L1274.2 1132.4L1279.6 1139.9L1283.9 1143.1L1288.1 1147.4L1292.4 1143.1L1296.7 1163.4L1302.1 1188.0L1303.1 1192.3L1330.4 1192.3L1335.3 1183.8L1339.5 1151.6L1343.3 1181.6L1352.4 1183.8L1356.7 1174.1L1362.0 1167.7L1366.3 1155.9L1370.6 1121.7L1374.9 1136.7L1378.6 1120.6L1383.4 1138.8L1387.7 1170.9L1392.0 1128.1L1396.3 1100.3L1399.5 1111.0L1404.9 1114.2L1408.6 1066.0L1410.0 1066.2L1413.3 1094.4L1415.4 1127.0L1418.7 1150.8L1423.0 1166.0L1426.3 1192.1L1430.6 1170.4L1435.0 1180.1L1439.3 1164.9L1444.2 1162.8L1448.0 1175.8L1452.3 1191.0L1456.7 1184.5L1462.1 1185.6L1465.3 1191.0L1468.6 1168.2L1475.1 1162.8L1478.9 1121.0L1482.7 1150.8L1487.6 1188.8L1492.5 1189.9L1500.1 1185.6L1505.5 1174.7L1512.0 1133.5L1517.4 1125.9L1522.9 1131.3L1528.3 1187.7L1530.5 1192.1L1542.4 1192.1L1548.4 1189.9L1552.7 1137.8L1557.0 1189.9L1561.9 1191.0L1568.4 1191.5L1571.7 1185.6L1574.4 1140.0L1579.3 1135.6L1592.3 1145.4L1601.0 1149.8L1607.5 1151.9L1614.0 1158.4L1618.4 1169.3L1624.9 1173.6L1628.1 1175.8" fill="none" stroke="#80f82e" stroke-width="3.8" stroke-linejoin="round" clip-path="url(#scd2)"/>
<clipPath id="scd3"><rect x="1197.5" y="1195.6000000000001" width="432.20000000000005" height="141.00000000000003"/></clipPath>
<path d="M1198.7 1247.8L1201.4 1250.0L1204.6 1255.3L1207.8 1220.0L1213.2 1206.6L1216.9 1231.8L1221.8 1243.5L1225.0 1270.3L1230.3 1278.9L1235.1 1272.4L1238.9 1243.5L1244.3 1248.9L1248.0 1255.3L1255.0 1260.7L1259.2 1274.6L1264.6 1286.4L1269.9 1290.6L1274.8 1277.8L1279.6 1279.4L1283.3 1303.5L1288.1 1297.6L1292.4 1297.6L1296.7 1313.1L1300.5 1294.9L1305.3 1330.8L1326.7 1330.8L1331.0 1319.6L1335.3 1308.3L1339.5 1309.9L1344.9 1307.2L1352.4 1300.3L1357.7 1302.4L1361.5 1312.1L1366.3 1316.3L1370.1 1330.8L1374.9 1242.5L1379.2 1275.7L1387.2 1313.1L1392.0 1289.6L1396.3 1236.0L1400.6 1179.4L1403.8 1179.4L1408.1 1209.3L1412.2 1203.0L1414.3 1216.0L1418.1 1238.8L1421.9 1217.1L1426.3 1255.1L1430.1 1323.5L1433.9 1330.0L1449.1 1330.0L1452.3 1324.6L1455.6 1263.8L1461.0 1256.2L1465.3 1259.5L1469.7 1293.1L1472.9 1322.4L1477.8 1330.5L1482.2 1321.9L1486.0 1323.5L1492.5 1328.9L1500.1 1328.9L1507.7 1327.8L1513.1 1322.4L1518.5 1307.2L1521.8 1279.0L1526.1 1272.5L1530.5 1276.8L1535.3 1268.1L1539.1 1300.7L1543.5 1274.6L1547.8 1298.5L1551.1 1313.7L1552.2 1330.0L1565.2 1330.5L1569.5 1290.9L1574.9 1279.0L1579.3 1279.0L1585.8 1281.2L1596.7 1287.7L1601.0 1287.7L1608.6 1292.0L1612.9 1308.3L1622.7 1314.8L1626.0 1248.6L1627.0 1255.1" fill="none" stroke="#000000" stroke-width="3.8" stroke-linejoin="round" clip-path="url(#scd3)"/>
<line x1="357.6" y1="63.6" x2="357.6" y2="612" stroke="#000" stroke-width="3.2" stroke-dasharray="13 18.5"/>
<line x1="1411" y1="60.4" x2="1411" y2="611" stroke="#000" stroke-width="3.2" stroke-dasharray="13 18.5"/>
<line x1="358.8" y1="779" x2="358.8" y2="1335" stroke="#000" stroke-width="3.8" stroke-dasharray="18.3 24"/>
<line x1="1413.3" y1="779.5" x2="1413.3" y2="1335" stroke="#000" stroke-width="3.8" stroke-dasharray="18.3 24"/>
<line x1="598.8" y1="112.2" x2="358.3" y2="187.8" stroke="#000" stroke-width="2.4"/>
<polyline points="375.2,189.7 358.3,187.8 371.0,176.5" fill="none" stroke="#000" stroke-width="2.4"/>
<line x1="599.8" y1="302.3" x2="362.6" y2="465.7" stroke="#000" stroke-width="2.4"/>
<polyline points="381.3,462.2 362.6,465.7 372.5,449.5" fill="none" stroke="#000" stroke-width="2.4"/>
<line x1="598.1" y1="400.8" x2="395.1" y2="554.9" stroke="#000" stroke-width="2.4"/>
<polygon points="383.8,563.5 402.1,558.5 395.1,554.9 393.5,547.2" fill="#000"/>
<line x1="602.1" y1="576.3" x2="340.4" y2="582.9" stroke="#000" stroke-width="2.4"/>
<polygon points="313.4,583.6 348.7,590.8 340.4,582.9 348.3,574.6" fill="#000"/>
<line x1="140" y1="158.2" x2="145" y2="158.2" stroke="#000" stroke-width="3"/>
<line x1="140" y1="123.5" x2="148" y2="123.5" stroke="#000" stroke-width="3"/>
<line x1="140" y1="88.8" x2="145" y2="88.8" stroke="#000" stroke-width="3"/>
<line x1="194.4" y1="193.0" x2="194.4" y2="189.0" stroke="#000" stroke-width="3"/>
<line x1="248.8" y1="193.0" x2="248.8" y2="186.0" stroke="#000" stroke-width="3"/>
<line x1="303.1" y1="193.0" x2="303.1" y2="189.0" stroke="#000" stroke-width="3"/>
<line x1="357.5" y1="193.0" x2="357.5" y2="186.0" stroke="#000" stroke-width="3"/>
<line x1="411.9" y1="193.0" x2="411.9" y2="189.0" stroke="#000" stroke-width="3"/>
<line x1="466.2" y1="193.0" x2="466.2" y2="186.0" stroke="#000" stroke-width="3"/>
<line x1="520.6" y1="193.0" x2="520.6" y2="189.0" stroke="#000" stroke-width="3"/>
<line x1="140" y1="297.2" x2="145" y2="297.2" stroke="#000" stroke-width="3"/>
<line x1="140" y1="262.5" x2="148" y2="262.5" stroke="#000" stroke-width="3"/>
<line x1="140" y1="227.8" x2="145" y2="227.8" stroke="#000" stroke-width="3"/>
<line x1="194.4" y1="332.0" x2="194.4" y2="328.0" stroke="#000" stroke-width="3"/>
<line x1="248.8" y1="332.0" x2="248.8" y2="325.0" stroke="#000" stroke-width="3"/>
<line x1="303.1" y1="332.0" x2="303.1" y2="328.0" stroke="#000" stroke-width="3"/>
<line x1="357.5" y1="332.0" x2="357.5" y2="325.0" stroke="#000" stroke-width="3"/>
<line x1="411.9" y1="332.0" x2="411.9" y2="328.0" stroke="#000" stroke-width="3"/>
<line x1="466.2" y1="332.0" x2="466.2" y2="325.0" stroke="#000" stroke-width="3"/>
<line x1="520.6" y1="332.0" x2="520.6" y2="328.0" stroke="#000" stroke-width="3"/>
<line x1="140" y1="436.2" x2="145" y2="436.2" stroke="#000" stroke-width="3"/>
<line x1="140" y1="401.5" x2="148" y2="401.5" stroke="#000" stroke-width="3"/>
<line x1="140" y1="366.8" x2="145" y2="366.8" stroke="#000" stroke-width="3"/>
<line x1="194.4" y1="471.0" x2="194.4" y2="467.0" stroke="#000" stroke-width="3"/>
<line x1="248.8" y1="471.0" x2="248.8" y2="464.0" stroke="#000" stroke-width="3"/>
<line x1="303.1" y1="471.0" x2="303.1" y2="467.0" stroke="#000" stroke-width="3"/>
<line x1="357.5" y1="471.0" x2="357.5" y2="464.0" stroke="#000" stroke-width="3"/>
<line x1="411.9" y1="471.0" x2="411.9" y2="467.0" stroke="#000" stroke-width="3"/>
<line x1="466.2" y1="471.0" x2="466.2" y2="464.0" stroke="#000" stroke-width="3"/>
<line x1="520.6" y1="471.0" x2="520.6" y2="467.0" stroke="#000" stroke-width="3"/>
<line x1="140" y1="575.2" x2="145" y2="575.2" stroke="#000" stroke-width="3"/>
<line x1="140" y1="540.5" x2="148" y2="540.5" stroke="#000" stroke-width="3"/>
<line x1="140" y1="505.8" x2="145" y2="505.8" stroke="#000" stroke-width="3"/>
<line x1="194.4" y1="610.0" x2="194.4" y2="606.0" stroke="#000" stroke-width="3"/>
<line x1="248.8" y1="610.0" x2="248.8" y2="603.0" stroke="#000" stroke-width="3"/>
<line x1="303.1" y1="610.0" x2="303.1" y2="606.0" stroke="#000" stroke-width="3"/>
<line x1="357.5" y1="610.0" x2="357.5" y2="603.0" stroke="#000" stroke-width="3"/>
<line x1="411.9" y1="610.0" x2="411.9" y2="606.0" stroke="#000" stroke-width="3"/>
<line x1="466.2" y1="610.0" x2="466.2" y2="603.0" stroke="#000" stroke-width="3"/>
<line x1="520.6" y1="610.0" x2="520.6" y2="606.0" stroke="#000" stroke-width="3"/>
<line x1="140" y1="193.0" x2="575" y2="193.0" stroke="#000" stroke-width="4.6"/>
<line x1="140" y1="332.0" x2="575" y2="332.0" stroke="#000" stroke-width="4.6"/>
<line x1="140" y1="471.0" x2="575" y2="471.0" stroke="#000" stroke-width="4.6"/>
<rect x="140" y="54" width="435" height="556" fill="none" stroke="#000" stroke-width="4.1" stroke-linejoin="round"/>
<line x1="1193" y1="157.3" x2="1198" y2="157.3" stroke="#000" stroke-width="3"/>
<line x1="1193" y1="122.5" x2="1201" y2="122.5" stroke="#000" stroke-width="3"/>
<line x1="1193" y1="87.8" x2="1198" y2="87.8" stroke="#000" stroke-width="3"/>
<line x1="1247.4" y1="192.05" x2="1247.4" y2="188.05" stroke="#000" stroke-width="3"/>
<line x1="1301.9" y1="192.05" x2="1301.9" y2="185.05" stroke="#000" stroke-width="3"/>
<line x1="1356.3" y1="192.05" x2="1356.3" y2="188.05" stroke="#000" stroke-width="3"/>
<line x1="1410.8" y1="192.05" x2="1410.8" y2="185.05" stroke="#000" stroke-width="3"/>
<line x1="1465.2" y1="192.05" x2="1465.2" y2="188.05" stroke="#000" stroke-width="3"/>
<line x1="1519.6" y1="192.05" x2="1519.6" y2="185.05" stroke="#000" stroke-width="3"/>
<line x1="1574.1" y1="192.05" x2="1574.1" y2="188.05" stroke="#000" stroke-width="3"/>
<line x1="1193" y1="296.3" x2="1198" y2="296.3" stroke="#000" stroke-width="3"/>
<line x1="1193" y1="261.6" x2="1201" y2="261.6" stroke="#000" stroke-width="3"/>
<line x1="1193" y1="226.8" x2="1198" y2="226.8" stroke="#000" stroke-width="3"/>
<line x1="1247.4" y1="331.1" x2="1247.4" y2="327.1" stroke="#000" stroke-width="3"/>
<line x1="1301.9" y1="331.1" x2="1301.9" y2="324.1" stroke="#000" stroke-width="3"/>
<line x1="1356.3" y1="331.1" x2="1356.3" y2="327.1" stroke="#000" stroke-width="3"/>
<line x1="1410.8" y1="331.1" x2="1410.8" y2="324.1" stroke="#000" stroke-width="3"/>
<line x1="1465.2" y1="331.1" x2="1465.2" y2="327.1" stroke="#000" stroke-width="3"/>
<line x1="1519.6" y1="331.1" x2="1519.6" y2="324.1" stroke="#000" stroke-width="3"/>
<line x1="1574.1" y1="331.1" x2="1574.1" y2="327.1" stroke="#000" stroke-width="3"/>
<line x1="1193" y1="435.4" x2="1198" y2="435.4" stroke="#000" stroke-width="3"/>
<line x1="1193" y1="400.6" x2="1201" y2="400.6" stroke="#000" stroke-width="3"/>
<line x1="1193" y1="365.9" x2="1198" y2="365.9" stroke="#000" stroke-width="3"/>
<line x1="1247.4" y1="470.15000000000003" x2="1247.4" y2="466.15000000000003" stroke="#000" stroke-width="3"/>
<line x1="1301.9" y1="470.15000000000003" x2="1301.9" y2="463.15000000000003" stroke="#000" stroke-width="3"/>
<line x1="1356.3" y1="470.15000000000003" x2="1356.3" y2="466.15000000000003" stroke="#000" stroke-width="3"/>
<line x1="1410.8" y1="470.15000000000003" x2="1410.8" y2="463.15000000000003" stroke="#000" stroke-width="3"/>
<line x1="1465.2" y1="470.15000000000003" x2="1465.2" y2="466.15000000000003" stroke="#000" stroke-width="3"/>
<line x1="1519.6" y1="470.15000000000003" x2="1519.6" y2="463.15000000000003" stroke="#000" stroke-width="3"/>
<line x1="1574.1" y1="470.15000000000003" x2="1574.1" y2="466.15000000000003" stroke="#000" stroke-width="3"/>
<line x1="1193" y1="574.4" x2="1198" y2="574.4" stroke="#000" stroke-width="3"/>
<line x1="1193" y1="539.7" x2="1201" y2="539.7" stroke="#000" stroke-width="3"/>
<line x1="1193" y1="504.9" x2="1198" y2="504.9" stroke="#000" stroke-width="3"/>
<line x1="1247.4" y1="609.2" x2="1247.4" y2="605.2" stroke="#000" stroke-width="3"/>
<line x1="1301.9" y1="609.2" x2="1301.9" y2="602.2" stroke="#000" stroke-width="3"/>
<line x1="1356.3" y1="609.2" x2="1356.3" y2="605.2" stroke="#000" stroke-width="3"/>
<line x1="1410.8" y1="609.2" x2="1410.8" y2="602.2" stroke="#000" stroke-width="3"/>
<line x1="1465.2" y1="609.2" x2="1465.2" y2="605.2" stroke="#000" stroke-width="3"/>
<line x1="1519.6" y1="609.2" x2="1519.6" y2="602.2" stroke="#000" stroke-width="3"/>
<line x1="1574.1" y1="609.2" x2="1574.1" y2="605.2" stroke="#000" stroke-width="3"/>
<line x1="1193" y1="192.1" x2="1628.5" y2="192.1" stroke="#000" stroke-width="4.6"/>
<line x1="1193" y1="331.1" x2="1628.5" y2="331.1" stroke="#000" stroke-width="4.6"/>
<line x1="1193" y1="470.2" x2="1628.5" y2="470.2" stroke="#000" stroke-width="4.6"/>
<rect x="1193" y="53" width="435.5" height="556.2" fill="none" stroke="#000" stroke-width="4.1" stroke-linejoin="round"/>
<line x1="141.5" y1="881.2" x2="146.5" y2="881.2" stroke="#000" stroke-width="3"/>
<line x1="141.5" y1="846.5" x2="149.5" y2="846.5" stroke="#000" stroke-width="3"/>
<line x1="141.5" y1="811.8" x2="146.5" y2="811.8" stroke="#000" stroke-width="3"/>
<line x1="195.9" y1="916.0" x2="195.9" y2="912.0" stroke="#000" stroke-width="3"/>
<line x1="250.4" y1="916.0" x2="250.4" y2="909.0" stroke="#000" stroke-width="3"/>
<line x1="304.8" y1="916.0" x2="304.8" y2="912.0" stroke="#000" stroke-width="3"/>
<line x1="359.2" y1="916.0" x2="359.2" y2="909.0" stroke="#000" stroke-width="3"/>
<line x1="413.7" y1="916.0" x2="413.7" y2="912.0" stroke="#000" stroke-width="3"/>
<line x1="468.1" y1="916.0" x2="468.1" y2="909.0" stroke="#000" stroke-width="3"/>
<line x1="522.6" y1="916.0" x2="522.6" y2="912.0" stroke="#000" stroke-width="3"/>
<line x1="141.5" y1="1020.2" x2="146.5" y2="1020.2" stroke="#000" stroke-width="3"/>
<line x1="141.5" y1="985.5" x2="149.5" y2="985.5" stroke="#000" stroke-width="3"/>
<line x1="141.5" y1="950.8" x2="146.5" y2="950.8" stroke="#000" stroke-width="3"/>
<line x1="195.9" y1="1055.0" x2="195.9" y2="1051.0" stroke="#000" stroke-width="3"/>
<line x1="250.4" y1="1055.0" x2="250.4" y2="1048.0" stroke="#000" stroke-width="3"/>
<line x1="304.8" y1="1055.0" x2="304.8" y2="1051.0" stroke="#000" stroke-width="3"/>
<line x1="359.2" y1="1055.0" x2="359.2" y2="1048.0" stroke="#000" stroke-width="3"/>
<line x1="413.7" y1="1055.0" x2="413.7" y2="1051.0" stroke="#000" stroke-width="3"/>
<line x1="468.1" y1="1055.0" x2="468.1" y2="1048.0" stroke="#000" stroke-width="3"/>
<line x1="522.6" y1="1055.0" x2="522.6" y2="1051.0" stroke="#000" stroke-width="3"/>
<line x1="141.5" y1="1159.2" x2="146.5" y2="1159.2" stroke="#000" stroke-width="3"/>
<line x1="141.5" y1="1124.5" x2="149.5" y2="1124.5" stroke="#000" stroke-width="3"/>
<line x1="141.5" y1="1089.8" x2="146.5" y2="1089.8" stroke="#000" stroke-width="3"/>
<line x1="195.9" y1="1194.0" x2="195.9" y2="1190.0" stroke="#000" stroke-width="3"/>
<line x1="250.4" y1="1194.0" x2="250.4" y2="1187.0" stroke="#000" stroke-width="3"/>
<line x1="304.8" y1="1194.0" x2="304.8" y2="1190.0" stroke="#000" stroke-width="3"/>
<line x1="359.2" y1="1194.0" x2="359.2" y2="1187.0" stroke="#000" stroke-width="3"/>
<line x1="413.7" y1="1194.0" x2="413.7" y2="1190.0" stroke="#000" stroke-width="3"/>
<line x1="468.1" y1="1194.0" x2="468.1" y2="1187.0" stroke="#000" stroke-width="3"/>
<line x1="522.6" y1="1194.0" x2="522.6" y2="1190.0" stroke="#000" stroke-width="3"/>
<line x1="141.5" y1="1298.2" x2="146.5" y2="1298.2" stroke="#000" stroke-width="3"/>
<line x1="141.5" y1="1263.5" x2="149.5" y2="1263.5" stroke="#000" stroke-width="3"/>
<line x1="141.5" y1="1228.8" x2="146.5" y2="1228.8" stroke="#000" stroke-width="3"/>
<line x1="195.9" y1="1333.0" x2="195.9" y2="1329.0" stroke="#000" stroke-width="3"/>
<line x1="250.4" y1="1333.0" x2="250.4" y2="1326.0" stroke="#000" stroke-width="3"/>
<line x1="304.8" y1="1333.0" x2="304.8" y2="1329.0" stroke="#000" stroke-width="3"/>
<line x1="359.2" y1="1333.0" x2="359.2" y2="1326.0" stroke="#000" stroke-width="3"/>
<line x1="413.7" y1="1333.0" x2="413.7" y2="1329.0" stroke="#000" stroke-width="3"/>
<line x1="468.1" y1="1333.0" x2="468.1" y2="1326.0" stroke="#000" stroke-width="3"/>
<line x1="522.6" y1="1333.0" x2="522.6" y2="1329.0" stroke="#000" stroke-width="3"/>
<line x1="141.5" y1="916.0" x2="577" y2="916.0" stroke="#000" stroke-width="4.6"/>
<line x1="141.5" y1="1055.0" x2="577" y2="1055.0" stroke="#000" stroke-width="4.6"/>
<line x1="141.5" y1="1194.0" x2="577" y2="1194.0" stroke="#000" stroke-width="4.6"/>
<rect x="141.5" y="777" width="435.5" height="556" fill="none" stroke="#000" stroke-width="4.1" stroke-linejoin="round"/>
<line x1="1196" y1="881.6" x2="1201" y2="881.6" stroke="#000" stroke-width="3"/>
<line x1="1196" y1="846.9" x2="1204" y2="846.9" stroke="#000" stroke-width="3"/>
<line x1="1196" y1="812.1" x2="1201" y2="812.1" stroke="#000" stroke-width="3"/>
<line x1="1250.4" y1="916.4" x2="1250.4" y2="912.4" stroke="#000" stroke-width="3"/>
<line x1="1304.8" y1="916.4" x2="1304.8" y2="909.4" stroke="#000" stroke-width="3"/>
<line x1="1359.2" y1="916.4" x2="1359.2" y2="912.4" stroke="#000" stroke-width="3"/>
<line x1="1413.6" y1="916.4" x2="1413.6" y2="909.4" stroke="#000" stroke-width="3"/>
<line x1="1468.0" y1="916.4" x2="1468.0" y2="912.4" stroke="#000" stroke-width="3"/>
<line x1="1522.4" y1="916.4" x2="1522.4" y2="909.4" stroke="#000" stroke-width="3"/>
<line x1="1576.8" y1="916.4" x2="1576.8" y2="912.4" stroke="#000" stroke-width="3"/>
<line x1="1196" y1="1020.7" x2="1201" y2="1020.7" stroke="#000" stroke-width="3"/>
<line x1="1196" y1="985.9" x2="1204" y2="985.9" stroke="#000" stroke-width="3"/>
<line x1="1196" y1="951.2" x2="1201" y2="951.2" stroke="#000" stroke-width="3"/>
<line x1="1250.4" y1="1055.4" x2="1250.4" y2="1051.4" stroke="#000" stroke-width="3"/>
<line x1="1304.8" y1="1055.4" x2="1304.8" y2="1048.4" stroke="#000" stroke-width="3"/>
<line x1="1359.2" y1="1055.4" x2="1359.2" y2="1051.4" stroke="#000" stroke-width="3"/>
<line x1="1413.6" y1="1055.4" x2="1413.6" y2="1048.4" stroke="#000" stroke-width="3"/>
<line x1="1468.0" y1="1055.4" x2="1468.0" y2="1051.4" stroke="#000" stroke-width="3"/>
<line x1="1522.4" y1="1055.4" x2="1522.4" y2="1048.4" stroke="#000" stroke-width="3"/>
<line x1="1576.8" y1="1055.4" x2="1576.8" y2="1051.4" stroke="#000" stroke-width="3"/>
<line x1="1196" y1="1159.7" x2="1201" y2="1159.7" stroke="#000" stroke-width="3"/>
<line x1="1196" y1="1124.9" x2="1204" y2="1124.9" stroke="#000" stroke-width="3"/>
<line x1="1196" y1="1090.2" x2="1201" y2="1090.2" stroke="#000" stroke-width="3"/>
<line x1="1250.4" y1="1194.4" x2="1250.4" y2="1190.4" stroke="#000" stroke-width="3"/>
<line x1="1304.8" y1="1194.4" x2="1304.8" y2="1187.4" stroke="#000" stroke-width="3"/>
<line x1="1359.2" y1="1194.4" x2="1359.2" y2="1190.4" stroke="#000" stroke-width="3"/>
<line x1="1413.6" y1="1194.4" x2="1413.6" y2="1187.4" stroke="#000" stroke-width="3"/>
<line x1="1468.0" y1="1194.4" x2="1468.0" y2="1190.4" stroke="#000" stroke-width="3"/>
<line x1="1522.4" y1="1194.4" x2="1522.4" y2="1187.4" stroke="#000" stroke-width="3"/>
<line x1="1576.8" y1="1194.4" x2="1576.8" y2="1190.4" stroke="#000" stroke-width="3"/>
<line x1="1196" y1="1298.7" x2="1201" y2="1298.7" stroke="#000" stroke-width="3"/>
<line x1="1196" y1="1263.9" x2="1204" y2="1263.9" stroke="#000" stroke-width="3"/>
<line x1="1196" y1="1229.2" x2="1201" y2="1229.2" stroke="#000" stroke-width="3"/>
<line x1="1250.4" y1="1333.4" x2="1250.4" y2="1329.4" stroke="#000" stroke-width="3"/>
<line x1="1304.8" y1="1333.4" x2="1304.8" y2="1326.4" stroke="#000" stroke-width="3"/>
<line x1="1359.2" y1="1333.4" x2="1359.2" y2="1329.4" stroke="#000" stroke-width="3"/>
<line x1="1413.6" y1="1333.4" x2="1413.6" y2="1326.4" stroke="#000" stroke-width="3"/>
<line x1="1468.0" y1="1333.4" x2="1468.0" y2="1329.4" stroke="#000" stroke-width="3"/>
<line x1="1522.4" y1="1333.4" x2="1522.4" y2="1326.4" stroke="#000" stroke-width="3"/>
<line x1="1576.8" y1="1333.4" x2="1576.8" y2="1329.4" stroke="#000" stroke-width="3"/>
<line x1="1196" y1="916.4" x2="1631.2" y2="916.4" stroke="#000" stroke-width="4.6"/>
<line x1="1196" y1="1055.4" x2="1631.2" y2="1055.4" stroke="#000" stroke-width="4.6"/>
<line x1="1196" y1="1194.4" x2="1631.2" y2="1194.4" stroke="#000" stroke-width="4.6"/>
<rect x="1196" y="777.4" width="435.20000000000005" height="556.0000000000001" fill="none" stroke="#000" stroke-width="4.5" stroke-linejoin="round"/>
<text x="0.5" y="43.5" font-family="'Liberation Sans', Arial, sans-serif" font-size="54.7" font-weight="bold" font-style="italic" text-anchor="start" textLength="63.6" lengthAdjust="spacingAndGlyphs">(a)</text>
<text x="1054" y="43.5" font-family="'Liberation Sans', Arial, sans-serif" font-size="54.7" font-weight="bold" font-style="italic" text-anchor="start" textLength="67.1" lengthAdjust="spacingAndGlyphs">(b)</text>
<text x="1" y="767.6" font-family="'Liberation Sans', Arial, sans-serif" font-size="53" font-weight="bold" font-style="italic" text-anchor="start" textLength="59.3" lengthAdjust="spacingAndGlyphs">(c)</text>
<text x="1057.6" y="770.3" font-family="'Liberation Sans', Arial, sans-serif" font-size="54" font-weight="bold" font-style="italic" text-anchor="start" textLength="67.3" lengthAdjust="spacingAndGlyphs">(d)</text>
<text transform="translate(58.7,342.4) rotate(-90)" x="0" y="0" font-family="'Liberation Sans', Arial, sans-serif" font-size="37.5" font-weight="bold" text-anchor="middle" textLength="244.9" lengthAdjust="spacingAndGlyphs">Transmission</text>
<text transform="translate(1111.5,341.3) rotate(-90)" x="0" y="0" font-family="'Liberation Sans', Arial, sans-serif" font-size="37.5" font-weight="bold" text-anchor="middle" textLength="244.6" lengthAdjust="spacingAndGlyphs">Transmission</text>
<text transform="translate(60.3,1065) rotate(-90)" x="0" y="0" font-family="'Liberation Sans', Arial, sans-serif" font-size="37.5" font-weight="bold" text-anchor="middle" textLength="244" lengthAdjust="spacingAndGlyphs">Transmission</text>
<text transform="translate(1103.7,1061.5) rotate(-90)" x="0" y="0" font-family="'Liberation Sans', Arial, sans-serif" font-size="40.8" font-weight="bold" text-anchor="middle" textLength="269.2" lengthAdjust="spacingAndGlyphs">Transmission</text>
<text x="357.5" y="697.7" font-family="'Liberation Sans', Arial, sans-serif" font-size="37.5" font-weight="bold" font-style="normal" text-anchor="middle" >Energy(eV)</text>
<text x="1411" y="696.2" font-family="'Liberation Sans', Arial, sans-serif" font-size="37.5" font-weight="bold" font-style="normal" text-anchor="middle" >Energy(eV)</text>
<text x="359" y="1421" font-family="'Liberation Sans', Arial, sans-serif" font-size="37.5" font-weight="bold" font-style="normal" text-anchor="middle" >Energy(eV)</text>
<text x="1413.5" y="1435" font-family="'Liberation Sans', Arial, sans-serif" font-size="40.5" font-weight="bold" font-style="normal" text-anchor="middle" >Energy(eV)</text>
<text x="789" y="687.3" font-family="'Liberation Sans', Arial, sans-serif" font-size="45.5" font-weight="bold" font-style="normal" text-anchor="middle" textLength="132.5" lengthAdjust="spacingAndGlyphs">(m, 6)</text>
<text x="1838.8" y="688.2" font-family="'Liberation Sans', Arial, sans-serif" font-size="45.5" font-weight="bold" font-style="normal" text-anchor="middle" textLength="118.5" lengthAdjust="spacingAndGlyphs">(2, n)</text>
<text x="789" y="1418.3" font-family="'Liberation Sans', Arial, sans-serif" font-size="45.5" font-weight="bold" font-style="normal" text-anchor="middle" textLength="132.5" lengthAdjust="spacingAndGlyphs">(m, 4)</text>
<text x="1839.3" y="1418.3" font-family="'Liberation Sans', Arial, sans-serif" font-size="45.5" font-weight="bold" font-style="normal" text-anchor="middle" textLength="116.5" lengthAdjust="spacingAndGlyphs">(6, n)</text>
<text x="125.5" y="61.5" font-family="'Liberation Sans', Arial, sans-serif" font-size="28" font-weight="bold" font-style="normal" text-anchor="end" >1.0</text>
<text x="125.5" y="200.5" font-family="'Liberation Sans', Arial, sans-serif" font-size="28" font-weight="bold" font-style="normal" text-anchor="end" >0.0</text>
<text x="125.5" y="131.0" font-family="'Liberation Sans', Arial, sans-serif" font-size="28" font-weight="bold" font-style="normal" text-anchor="end" >0.5</text>
<text x="125.5" y="339.5" font-family="'Liberation Sans', Arial, sans-serif" font-size="28" font-weight="bold" font-style="normal" text-anchor="end" >0.0</text>
<text x="125.5" y="270.0" font-family="'Liberation Sans', Arial, sans-serif" font-size="28" font-weight="bold" font-style="normal" text-anchor="end" >0.5</text>
<text x="125.5" y="478.5" font-family="'Liberation Sans', Arial, sans-serif" font-size="28" font-weight="bold" font-style="normal" text-anchor="end" >0.0</text>
<text x="125.5" y="409.0" font-family="'Liberation Sans', Arial, sans-serif" font-size="28" font-weight="bold" font-style="normal" text-anchor="end" >0.5</text>
<text x="125.5" y="617.5" font-family="'Liberation Sans', Arial, sans-serif" font-size="28" font-weight="bold" font-style="normal" text-anchor="end" >0.0</text>
<text x="125.5" y="548.0" font-family="'Liberation Sans', Arial, sans-serif" font-size="28" font-weight="bold" font-style="normal" text-anchor="end" >0.5</text>
<text x="1178.5" y="60.5" font-family="'Liberation Sans', Arial, sans-serif" font-size="28" font-weight="bold" font-style="normal" text-anchor="end" >1.0</text>
<text x="1178.5" y="199.55" font-family="'Liberation Sans', Arial, sans-serif" font-size="28" font-weight="bold" font-style="normal" text-anchor="end" >0.0</text>
<text x="1178.5" y="130.025" font-family="'Liberation Sans', Arial, sans-serif" font-size="28" font-weight="bold" font-style="normal" text-anchor="end" >0.5</text>
<text x="1178.5" y="338.6" font-family="'Liberation Sans', Arial, sans-serif" font-size="28" font-weight="bold" font-style="normal" text-anchor="end" >0.0</text>
<text x="1178.5" y="269.07500000000005" font-family="'Liberation Sans', Arial, sans-serif" font-size="28" font-weight="bold" font-style="normal" text-anchor="end" >0.5</text>
<text x="1178.5" y="477.65000000000003" font-family="'Liberation Sans', Arial, sans-serif" font-size="28" font-weight="bold" font-style="normal" text-anchor="end" >0.0</text>
<text x="1178.5" y="408.125" font-family="'Liberation Sans', Arial, sans-serif" font-size="28" font-weight="bold" font-style="normal" text-anchor="end" >0.5</text>
<text x="1178.5" y="616.7" font-family="'Liberation Sans', Arial, sans-serif" font-size="28" font-weight="bold" font-style="normal" text-anchor="end" >0.0</text>
<text x="1178.5" y="547.1750000000001" font-family="'Liberation Sans', Arial, sans-serif" font-size="28" font-weight="bold" font-style="normal" text-anchor="end" >0.5</text>
<text x="127" y="785" font-family="'Liberation Sans', Arial, sans-serif" font-size="28" font-weight="bold" font-style="normal" text-anchor="end" >2.0</text>
<text x="127" y="924.0" font-family="'Liberation Sans', Arial, sans-serif" font-size="28" font-weight="bold" font-style="normal" text-anchor="end" >0.0</text>
<text x="127" y="854.5" font-family="'Liberation Sans', Arial, sans-serif" font-size="28" font-weight="bold" font-style="normal" text-anchor="end" >1.0</text>
<text x="127" y="1063.0" font-family="'Liberation Sans', Arial, sans-serif" font-size="28" font-weight="bold" font-style="normal" text-anchor="end" >0.0</text>
<text x="127" y="993.5" font-family="'Liberation Sans', Arial, sans-serif" font-size="28" font-weight="bold" font-style="normal" text-anchor="end" >1.0</text>
<text x="127" y="1202.0" font-family="'Liberation Sans', Arial, sans-serif" font-size="28" font-weight="bold" font-style="normal" text-anchor="end" >0.0</text>
<text x="127" y="1132.5" font-family="'Liberation Sans', Arial, sans-serif" font-size="28" font-weight="bold" font-style="normal" text-anchor="end" >1.0</text>
<text x="127" y="1341.0" font-family="'Liberation Sans', Arial, sans-serif" font-size="28" font-weight="bold" font-style="normal" text-anchor="end" >0.0</text>
<text x="127" y="1271.5" font-family="'Liberation Sans', Arial, sans-serif" font-size="28" font-weight="bold" font-style="normal" text-anchor="end" >1.0</text>
<text x="1176" y="786.4" font-family="'Liberation Sans', Arial, sans-serif" font-size="30.5" font-weight="bold" font-style="normal" text-anchor="end" >2.0</text>
<text x="1176" y="925.4" font-family="'Liberation Sans', Arial, sans-serif" font-size="30.5" font-weight="bold" font-style="normal" text-anchor="end" >0.0</text>
<text x="1176" y="855.9" font-family="'Liberation Sans', Arial, sans-serif" font-size="30.5" font-weight="bold" font-style="normal" text-anchor="end" >1.0</text>
<text x="1176" y="1064.4" font-family="'Liberation Sans', Arial, sans-serif" font-size="30.5" font-weight="bold" font-style="normal" text-anchor="end" >0.0</text>
<text x="1176" y="994.9000000000001" font-family="'Liberation Sans', Arial, sans-serif" font-size="30.5" font-weight="bold" font-style="normal" text-anchor="end" >1.0</text>
<text x="1176" y="1203.4" font-family="'Liberation Sans', Arial, sans-serif" font-size="30.5" font-weight="bold" font-style="normal" text-anchor="end" >0.0</text>
<text x="1176" y="1133.9" font-family="'Liberation Sans', Arial, sans-serif" font-size="30.5" font-weight="bold" font-style="normal" text-anchor="end" >1.0</text>
<text x="1176" y="1342.4" font-family="'Liberation Sans', Arial, sans-serif" font-size="30.5" font-weight="bold" font-style="normal" text-anchor="end" >0.0</text>
<text x="1176" y="1272.9" font-family="'Liberation Sans', Arial, sans-serif" font-size="30.5" font-weight="bold" font-style="normal" text-anchor="end" >1.0</text>
<text x="140" y="638" font-family="'Liberation Sans', Arial, sans-serif" font-size="28" font-weight="bold" font-style="normal" text-anchor="middle" >-2.0</text>
<text x="249" y="638" font-family="'Liberation Sans', Arial, sans-serif" font-size="28" font-weight="bold" font-style="normal" text-anchor="middle" >-1.0</text>
<text x="357.5" y="638" font-family="'Liberation Sans', Arial, sans-serif" font-size="28" font-weight="bold" font-style="normal" text-anchor="middle" >0.0</text>
<text x="467" y="638" font-family="'Liberation Sans', Arial, sans-serif" font-size="28" font-weight="bold" font-style="normal" text-anchor="middle" >1.0</text>
<text x="575.5" y="638" font-family="'Liberation Sans', Arial, sans-serif" font-size="28" font-weight="bold" font-style="normal" text-anchor="middle" >2.0</text>
<text x="1193.4" y="638" font-family="'Liberation Sans', Arial, sans-serif" font-size="28" font-weight="bold" font-style="normal" text-anchor="middle" >-2.0</text>
<text x="1302" y="638" font-family="'Liberation Sans', Arial, sans-serif" font-size="28" font-weight="bold" font-style="normal" text-anchor="middle" >-1.0</text>
<text x="1411" y="638" font-family="'Liberation Sans', Arial, sans-serif" font-size="28" font-weight="bold" font-style="normal" text-anchor="middle" >0.0</text>
<text x="1520" y="638" font-family="'Liberation Sans', Arial, sans-serif" font-size="28" font-weight="bold" font-style="normal" text-anchor="middle" >1.0</text>
<text x="1628.5" y="638" font-family="'Liberation Sans', Arial, sans-serif" font-size="28" font-weight="bold" font-style="normal" text-anchor="middle" >2.0</text>
<text x="135" y="1361.8" font-family="'Liberation Sans', Arial, sans-serif" font-size="28" font-weight="bold" font-style="normal" text-anchor="middle" >-1.0</text>
<text x="244" y="1361.8" font-family="'Liberation Sans', Arial, sans-serif" font-size="28" font-weight="bold" font-style="normal" text-anchor="middle" >-0.5</text>
<text x="352" y="1361.8" font-family="'Liberation Sans', Arial, sans-serif" font-size="28" font-weight="bold" font-style="normal" text-anchor="middle" >0.0</text>
<text x="461" y="1361.8" font-family="'Liberation Sans', Arial, sans-serif" font-size="28" font-weight="bold" font-style="normal" text-anchor="middle" >0.5</text>
<text x="570.3" y="1361.8" font-family="'Liberation Sans', Arial, sans-serif" font-size="28" font-weight="bold" font-style="normal" text-anchor="middle" >1.0</text>
<text x="1183" y="1376.5" font-family="'Liberation Sans', Arial, sans-serif" font-size="30.5" font-weight="bold" font-style="normal" text-anchor="middle" >-1.0</text>
<text x="1293" y="1376.5" font-family="'Liberation Sans', Arial, sans-serif" font-size="30.5" font-weight="bold" font-style="normal" text-anchor="middle" >-0.5</text>
<text x="1401" y="1376.5" font-family="'Liberation Sans', Arial, sans-serif" font-size="30.5" font-weight="bold" font-style="normal" text-anchor="middle" >0.0</text>
<text x="1510" y="1376.5" font-family="'Liberation Sans', Arial, sans-serif" font-size="30.5" font-weight="bold" font-style="normal" text-anchor="middle" >0.5</text>
<text x="1619" y="1376.5" font-family="'Liberation Sans', Arial, sans-serif" font-size="30.5" font-weight="bold" font-style="normal" text-anchor="middle" >1.0</text>
<text x="449" y="96.1" font-family="'Liberation Sans', Arial, sans-serif" font-size="37" font-weight="bold" font-style="normal" text-anchor="start" >m=2</text>
<text x="447.4" y="228.5" font-family="'Liberation Sans', Arial, sans-serif" font-size="37" font-weight="bold" font-style="normal" text-anchor="start" >m=4</text>
<text x="448" y="370.2" font-family="'Liberation Sans', Arial, sans-serif" font-size="37" font-weight="bold" font-style="normal" text-anchor="start" >m=6</text>
<text x="446.3" y="506.5" font-family="'Liberation Sans', Arial, sans-serif" font-size="37" font-weight="bold" font-style="normal" text-anchor="start" >m=8</text>
<text x="1502.6" y="93.5" font-family="'Liberation Sans', Arial, sans-serif" font-size="36.8" font-weight="bold" font-style="normal" text-anchor="start" >n=6</text>
<text x="1502.6" y="233.5" font-family="'Liberation Sans', Arial, sans-serif" font-size="36.8" font-weight="bold" font-style="normal" text-anchor="start" >n=7</text>
<text x="1502.6" y="372" font-family="'Liberation Sans', Arial, sans-serif" font-size="36.8" font-weight="bold" font-style="normal" text-anchor="start" >n=8</text>
<text x="1504" y="512.6" font-family="'Liberation Sans', Arial, sans-serif" font-size="36.8" font-weight="bold" font-style="normal" text-anchor="start" >n=9</text>
<text x="409.9" y="819.7" font-family="'Liberation Sans', Arial, sans-serif" font-size="37" font-weight="bold" font-style="normal" text-anchor="start" >m=4</text>
<text x="409.3" y="959.7" font-family="'Liberation Sans', Arial, sans-serif" font-size="37" font-weight="bold" font-style="normal" text-anchor="start" >m=5</text>
<text x="406.6" y="1097.1" font-family="'Liberation Sans', Arial, sans-serif" font-size="37" font-weight="bold" font-style="normal" text-anchor="start" >m=6</text>
<text x="406.1" y="1238.8" font-family="'Liberation Sans', Arial, sans-serif" font-size="37" font-weight="bold" font-style="normal" text-anchor="start" >m=7</text>
<text x="1464.2" y="823.5" font-family="'Liberation Sans', Arial, sans-serif" font-size="40.3" font-weight="bold" font-style="normal" text-anchor="start" >n=3</text>
<text x="1463.7" y="962.5" font-family="'Liberation Sans', Arial, sans-serif" font-size="40.3" font-weight="bold" font-style="normal" text-anchor="start" >n=4</text>
<text x="1461" y="1100.4" font-family="'Liberation Sans', Arial, sans-serif" font-size="40.3" font-weight="bold" font-style="normal" text-anchor="start" >n=5</text>
<text x="1460.4" y="1242.1" font-family="'Liberation Sans', Arial, sans-serif" font-size="40.3" font-weight="bold" font-style="normal" text-anchor="start" >n=6</text>
<defs><linearGradient id="cb" x1="0" x2="1" y1="0" y2="0"><stop offset="0" stop-color="#c8161c"/><stop offset="0.1" stop-color="#8c3a1a"/><stop offset="0.2" stop-color="#6f6a1c"/><stop offset="0.27" stop-color="#62ad22"/><stop offset="0.33" stop-color="#80f830"/><stop offset="0.42" stop-color="#64c03a"/><stop offset="0.5" stop-color="#3f6e6c"/><stop offset="0.56" stop-color="#2e48a8"/><stop offset="0.61" stop-color="#2006dc"/><stop offset="0.67" stop-color="#2a0cf8"/><stop offset="0.75" stop-color="#3000b8"/><stop offset="0.83" stop-color="#58007a"/><stop offset="0.87" stop-color="#6c0050"/><stop offset="0.93" stop-color="#961a34"/><stop offset="1.0" stop-color="#cc1c20"/></linearGradient></defs>
<rect x="594.7" y="1521.2" width="936.3" height="39.8" fill="url(#cb)"/>
<rect x="1060.2" y="1520" width="2.6" height="6.6" fill="#000"/><rect x="1060.2" y="1553.2" width="2.6" height="6.8" fill="#000"/>
<text x="1061.4" y="1501.6" font-family="'Liberation Sans', Arial, sans-serif" font-size="25.5" font-weight="bold" font-style="italic" text-anchor="middle" letter-spacing="0.3">Phase (radians)</text>
<text x="593" y="1587.5" font-family="'Liberation Sans', Arial, sans-serif" font-size="21.5" font-weight="bold" font-style="italic" text-anchor="middle" >0</text>
<text x="1062.5" y="1587.5" font-family="'Liberation Sans', Arial, sans-serif" font-size="21.5" font-weight="bold" font-style="italic" text-anchor="middle" >π</text>
<text x="1531" y="1587.5" font-family="'Liberation Sans', Arial, sans-serif" font-size="21.5" font-weight="bold" font-style="italic" text-anchor="middle" >2π</text>
</svg>
</body></html>
